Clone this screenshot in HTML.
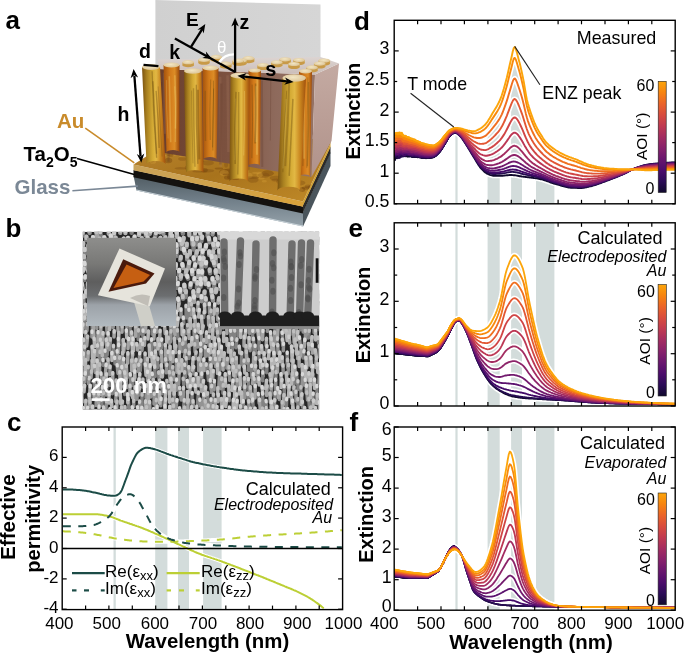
<!DOCTYPE html><html><head><meta charset="utf-8"><style>html,body{margin:0;padding:0;background:#fff;}svg{display:block;}text{font-family:'Liberation Sans', Arial, Helvetica, sans-serif;}</style></head><body>
<svg width="685" height="654" viewBox="0 0 685 654">
<rect width="685" height="654" fill="#fff"/>
<defs>
<linearGradient id="gPlane" x1="0" y1="0" x2="1" y2="0"><stop offset="0" stop-color="#d0d0d0"/><stop offset="1" stop-color="#d6d6d6"/></linearGradient>
<linearGradient id="gFront" x1="0" y1="0" x2="1" y2="0"><stop offset="0" stop-color="#6a3e2c"/><stop offset="0.45" stop-color="#7c5240"/><stop offset="0.75" stop-color="#8e6a5c"/><stop offset="1" stop-color="#957264"/></linearGradient>
<linearGradient id="gRight" x1="0" y1="0" x2="0" y2="1"><stop offset="0" stop-color="#c4aaa2"/><stop offset="1" stop-color="#b0928a"/></linearGradient>
<linearGradient id="gTop" x1="0" y1="0" x2="0" y2="1"><stop offset="0" stop-color="#dcd4d2"/><stop offset="1" stop-color="#cbbdb8"/></linearGradient>
<linearGradient id="gGold" x1="0" y1="0" x2="1" y2="1"><stop offset="0" stop-color="#b8842e"/><stop offset="0.5" stop-color="#a8731c"/><stop offset="1" stop-color="#c08a28"/></linearGradient>
<linearGradient id="gGoldEdge" x1="0" y1="0" x2="1" y2="0"><stop offset="0" stop-color="#c9a35a"/><stop offset="1" stop-color="#d9a23a"/></linearGradient>
<linearGradient id="gGlass" x1="0" y1="0" x2="0" y2="1"><stop offset="0" stop-color="#505c63"/><stop offset="0.5" stop-color="#72808a"/><stop offset="1" stop-color="#95a2aa"/></linearGradient>
<linearGradient id="gPil" x1="0" y1="0" x2="1" y2="0"><stop offset="0" stop-color="#7a5210"/><stop offset="0.2" stop-color="#a88020"/><stop offset="0.45" stop-color="#d4aa34"/><stop offset="0.6" stop-color="#e2b844"/><stop offset="0.8" stop-color="#c8841e"/><stop offset="1" stop-color="#a0500e"/></linearGradient>
<linearGradient id="gPilB" x1="0" y1="0" x2="1" y2="0"><stop offset="0" stop-color="#a4520c"/><stop offset="0.4" stop-color="#d27a1a"/><stop offset="0.7" stop-color="#dc8c26"/><stop offset="1" stop-color="#9a480a"/></linearGradient>
<radialGradient id="gCap" cx="0.45" cy="0.4" r="0.6"><stop offset="0" stop-color="#f2e6c4"/><stop offset="1" stop-color="#dcc496"/></radialGradient>
</defs>
<polygon points="155.4,0.0 320.5,4.5 320.5,62.0 155.4,66.0" fill="url(#gPlane)" />
<polygon points="133.5,175.5 303.0,212.0 303.0,226.5 136.5,190.5" fill="url(#gGlass)" />
<line x1="136.5" y1="190" x2="303" y2="226" stroke="#c8d2d8" stroke-width="1"/>
<polygon points="303.0,212.0 330.5,152.0 330.5,166.0 303.0,226.5" fill="#4a555c" />
<polygon points="133.5,170.0 303.0,206.5 303.0,213.5 133.5,177.2" fill="#141210" />
<polygon points="303.0,205.0 330.5,146.5 330.5,153.0 303.0,212.5" fill="#2a2a2a" />
<polygon points="133.5,164.5 303.0,201.5 303.0,206.8 133.5,170.2" fill="url(#gGoldEdge)" />
<polygon points="303.0,201.5 330.5,143.5 330.5,147.0 303.0,205.5" fill="#d0a030" />
<polygon points="133.5,164.5 303.0,201.5 330.5,143.5 330.5,138.0 152.0,146.0 147.0,156.0" fill="url(#gGold)" />
<defs><clipPath id="floorclip"><polygon points="133.5,164.5 303,201.5 330.5,143.5 330.5,138 152,146 147,156"/></clipPath></defs><g clip-path="url(#floorclip)">
<ellipse cx="172.6" cy="153.8" rx="4.3" ry="2.4" fill="#d8a038" opacity="0.35"/>
<ellipse cx="161.2" cy="154.4" rx="6.5" ry="2.7" fill="#d8a038" opacity="0.35"/>
<ellipse cx="300.4" cy="189.3" rx="2.5" ry="2.8" fill="#d8a038" opacity="0.35"/>
<ellipse cx="253.1" cy="179.9" rx="5.4" ry="2.9" fill="#7a4a10" opacity="0.35"/>
<ellipse cx="198.5" cy="160.9" rx="5.8" ry="2.6" fill="#7a4a10" opacity="0.35"/>
<ellipse cx="198.5" cy="160.3" rx="2.4" ry="2.4" fill="#6a3a08" opacity="0.35"/>
<ellipse cx="230.4" cy="170.7" rx="6.2" ry="2.4" fill="#7a4a10" opacity="0.35"/>
<ellipse cx="157.5" cy="157.6" rx="4.3" ry="2.4" fill="#6a3a08" opacity="0.35"/>
<ellipse cx="191.1" cy="168.4" rx="2.3" ry="1.7" fill="#7a4a10" opacity="0.35"/>
<ellipse cx="226.1" cy="164.7" rx="2.0" ry="2.8" fill="#7a4a10" opacity="0.35"/>
<ellipse cx="310.9" cy="192.3" rx="4.8" ry="2.2" fill="#d8a038" opacity="0.35"/>
<ellipse cx="276.5" cy="178.0" rx="6.9" ry="2.3" fill="#7a4a10" opacity="0.35"/>
<ellipse cx="151.4" cy="160.1" rx="3.5" ry="2.4" fill="#6a3a08" opacity="0.35"/>
<ellipse cx="311.9" cy="187.0" rx="3.8" ry="2.6" fill="#7a4a10" opacity="0.35"/>
<ellipse cx="156.3" cy="159.4" rx="2.2" ry="1.5" fill="#6a3a08" opacity="0.35"/>
<ellipse cx="207.5" cy="170.8" rx="6.7" ry="1.7" fill="#7a4a10" opacity="0.35"/>
<ellipse cx="316.2" cy="183.5" rx="3.5" ry="1.2" fill="#d8a038" opacity="0.35"/>
<ellipse cx="281.3" cy="181.6" rx="5.1" ry="2.5" fill="#7a4a10" opacity="0.35"/>
<ellipse cx="207.9" cy="162.9" rx="6.0" ry="2.7" fill="#7a4a10" opacity="0.35"/>
<ellipse cx="153.0" cy="161.7" rx="3.3" ry="2.0" fill="#d8a038" opacity="0.35"/>
<ellipse cx="281.5" cy="180.0" rx="4.2" ry="1.6" fill="#7a4a10" opacity="0.35"/>
<ellipse cx="302.0" cy="189.4" rx="3.3" ry="2.5" fill="#6a3a08" opacity="0.35"/>
<ellipse cx="198.8" cy="164.9" rx="2.5" ry="1.6" fill="#6a3a08" opacity="0.35"/>
<ellipse cx="171.0" cy="155.2" rx="2.4" ry="1.9" fill="#7a4a10" opacity="0.35"/>
<ellipse cx="195.0" cy="167.2" rx="5.1" ry="2.7" fill="#7a4a10" opacity="0.35"/>
<ellipse cx="308.2" cy="186.4" rx="3.4" ry="2.0" fill="#7a4a10" opacity="0.35"/>
<ellipse cx="180.7" cy="168.3" rx="6.2" ry="1.3" fill="#7a4a10" opacity="0.35"/>
<ellipse cx="226.1" cy="171.9" rx="6.9" ry="2.9" fill="#6a3a08" opacity="0.35"/>
<ellipse cx="168.4" cy="160.5" rx="3.8" ry="2.8" fill="#6a3a08" opacity="0.35"/>
<ellipse cx="189.2" cy="162.6" rx="2.9" ry="2.3" fill="#7a4a10" opacity="0.35"/>
<ellipse cx="258.3" cy="172.9" rx="6.5" ry="1.2" fill="#d8a038" opacity="0.35"/>
<ellipse cx="142.6" cy="151.1" rx="3.4" ry="2.8" fill="#6a3a08" opacity="0.35"/>
<ellipse cx="321.7" cy="196.9" rx="3.8" ry="1.1" fill="#6a3a08" opacity="0.35"/>
<ellipse cx="150.4" cy="154.8" rx="3.3" ry="2.5" fill="#d8a038" opacity="0.35"/>
<ellipse cx="267.6" cy="173.3" rx="6.2" ry="3.0" fill="#6a3a08" opacity="0.35"/>
<ellipse cx="144.6" cy="150.9" rx="6.9" ry="2.2" fill="#7a4a10" opacity="0.35"/>
<ellipse cx="235.2" cy="178.9" rx="3.8" ry="1.1" fill="#6a3a08" opacity="0.35"/>
<ellipse cx="261.5" cy="178.1" rx="3.2" ry="1.5" fill="#d8a038" opacity="0.35"/>
<ellipse cx="185.0" cy="156.7" rx="6.2" ry="1.2" fill="#d8a038" opacity="0.35"/>
<ellipse cx="312.2" cy="192.8" rx="3.0" ry="1.4" fill="#d8a038" opacity="0.35"/>
<ellipse cx="230.1" cy="177.3" rx="2.9" ry="2.2" fill="#6a3a08" opacity="0.35"/>
<ellipse cx="263.7" cy="175.2" rx="5.8" ry="2.8" fill="#7a4a10" opacity="0.35"/>
<ellipse cx="194.0" cy="158.2" rx="4.1" ry="1.1" fill="#d8a038" opacity="0.35"/>
<ellipse cx="169.2" cy="153.7" rx="4.2" ry="2.0" fill="#7a4a10" opacity="0.35"/>
<ellipse cx="307.8" cy="188.0" rx="6.3" ry="1.7" fill="#6a3a08" opacity="0.35"/>
<ellipse cx="187.9" cy="167.7" rx="3.1" ry="2.5" fill="#7a4a10" opacity="0.35"/>
<ellipse cx="239.4" cy="168.9" rx="5.1" ry="1.8" fill="#d8a038" opacity="0.35"/>
<ellipse cx="182.6" cy="158.8" rx="4.4" ry="2.0" fill="#7a4a10" opacity="0.35"/>
<ellipse cx="248.0" cy="175.5" rx="4.6" ry="3.0" fill="#d8a038" opacity="0.35"/>
<ellipse cx="218.9" cy="168.6" rx="4.2" ry="1.0" fill="#6a3a08" opacity="0.35"/>
<ellipse cx="204.5" cy="170.2" rx="3.2" ry="2.3" fill="#6a3a08" opacity="0.35"/>
<ellipse cx="227.5" cy="177.6" rx="3.5" ry="2.2" fill="#6a3a08" opacity="0.35"/>
<ellipse cx="299.0" cy="182.8" rx="6.4" ry="2.6" fill="#7a4a10" opacity="0.35"/>
<ellipse cx="194.6" cy="162.8" rx="3.8" ry="1.6" fill="#7a4a10" opacity="0.35"/>
<ellipse cx="224.2" cy="172.9" rx="4.5" ry="2.9" fill="#d8a038" opacity="0.35"/>
<ellipse cx="285.1" cy="183.0" rx="3.6" ry="2.7" fill="#6a3a08" opacity="0.35"/>
<ellipse cx="319.1" cy="194.2" rx="6.8" ry="2.6" fill="#7a4a10" opacity="0.35"/>
<ellipse cx="252.1" cy="177.6" rx="6.9" ry="1.4" fill="#7a4a10" opacity="0.35"/>
<ellipse cx="236.9" cy="171.7" rx="3.6" ry="2.8" fill="#6a3a08" opacity="0.35"/>
<ellipse cx="295.6" cy="179.0" rx="5.0" ry="2.2" fill="#7a4a10" opacity="0.35"/>
<ellipse cx="291.2" cy="181.5" rx="3.0" ry="1.1" fill="#7a4a10" opacity="0.35"/>
<ellipse cx="294.0" cy="181.6" rx="5.2" ry="2.2" fill="#d8a038" opacity="0.35"/>
<ellipse cx="264.3" cy="181.3" rx="2.6" ry="1.2" fill="#d8a038" opacity="0.35"/>
<ellipse cx="259.6" cy="174.8" rx="3.2" ry="2.3" fill="#d8a038" opacity="0.35"/>
<ellipse cx="276.7" cy="180.1" rx="5.3" ry="1.5" fill="#7a4a10" opacity="0.35"/>
<ellipse cx="286.5" cy="181.8" rx="3.3" ry="2.6" fill="#6a3a08" opacity="0.35"/>
<ellipse cx="199.1" cy="171.5" rx="6.7" ry="1.1" fill="#7a4a10" opacity="0.35"/>
<ellipse cx="244.0" cy="171.4" rx="4.8" ry="2.2" fill="#d8a038" opacity="0.35"/>
<ellipse cx="227.7" cy="174.5" rx="5.0" ry="1.0" fill="#6a3a08" opacity="0.35"/>
<ellipse cx="281.6" cy="177.2" rx="3.5" ry="1.7" fill="#6a3a08" opacity="0.35"/>
</g>
<polygon points="158.0,69.0 315.0,74.5 311.5,177.0 158.0,152.0" fill="url(#gFront)" />
<polygon points="315.0,74.5 339.0,63.5 331.5,141.0 311.5,177.0" fill="url(#gRight)" />
<polygon points="158.0,59.5 320.5,57.0 339.0,63.5 315.0,74.5 158.0,69.0" fill="url(#gTop)" />
<line x1="282.5" y1="77.8" x2="282.3" y2="151.5" stroke="#a87a60" stroke-width="2.7" opacity="0.25"/>
<line x1="169.0" y1="84.3" x2="168.5" y2="161.8" stroke="#5a3426" stroke-width="2.3" opacity="0.25"/>
<line x1="294.5" y1="78.8" x2="295.4" y2="141.0" stroke="#5a3426" stroke-width="2.6" opacity="0.25"/>
<line x1="178.5" y1="77.6" x2="178.3" y2="151.8" stroke="#5a3426" stroke-width="2.4" opacity="0.25"/>
<line x1="193.4" y1="73.5" x2="193.6" y2="146.2" stroke="#a87a60" stroke-width="1.9" opacity="0.25"/>
<line x1="252.9" y1="80.8" x2="253.8" y2="131.2" stroke="#a87a60" stroke-width="1.6" opacity="0.25"/>
<line x1="301.0" y1="91.2" x2="301.4" y2="167.8" stroke="#a87a60" stroke-width="1.6" opacity="0.25"/>
<line x1="220.1" y1="76.8" x2="220.8" y2="166.9" stroke="#a87a60" stroke-width="2.6" opacity="0.25"/>
<line x1="256.3" y1="74.1" x2="255.7" y2="134.6" stroke="#5a3426" stroke-width="2.4" opacity="0.25"/>
<line x1="169.0" y1="80.0" x2="168.7" y2="127.6" stroke="#5a3426" stroke-width="1.9" opacity="0.25"/>
<line x1="221.1" y1="83.5" x2="220.4" y2="164.6" stroke="#5a3426" stroke-width="2.6" opacity="0.25"/>
<line x1="164.6" y1="72.7" x2="165.1" y2="133.7" stroke="#a87a60" stroke-width="3.0" opacity="0.25"/>
<line x1="212.2" y1="84.5" x2="213.0" y2="151.2" stroke="#5a3426" stroke-width="1.4" opacity="0.25"/>
<line x1="189.3" y1="82.7" x2="189.2" y2="166.9" stroke="#5a3426" stroke-width="1.9" opacity="0.25"/>
<line x1="205.7" y1="75.2" x2="206.1" y2="139.8" stroke="#a87a60" stroke-width="2.9" opacity="0.25"/>
<line x1="176.5" y1="84.2" x2="176.9" y2="150.8" stroke="#a87a60" stroke-width="2.5" opacity="0.25"/>
<line x1="227.6" y1="75.2" x2="228.5" y2="152.1" stroke="#a87a60" stroke-width="2.6" opacity="0.25"/>
<line x1="248.6" y1="79.5" x2="249.0" y2="169.8" stroke="#5a3426" stroke-width="1.2" opacity="0.25"/>
<line x1="188.9" y1="81.2" x2="188.9" y2="162.9" stroke="#5a3426" stroke-width="1.7" opacity="0.25"/>
<line x1="255.0" y1="87.0" x2="254.3" y2="132.7" stroke="#a87a60" stroke-width="1.7" opacity="0.25"/>
<line x1="255.3" y1="88.8" x2="254.8" y2="155.3" stroke="#a87a60" stroke-width="1.5" opacity="0.25"/>
<line x1="270.8" y1="79.5" x2="270.3" y2="140.6" stroke="#5a3426" stroke-width="1.0" opacity="0.25"/>
<line x1="161.0" y1="81.9" x2="160.8" y2="126.7" stroke="#5a3426" stroke-width="2.6" opacity="0.25"/>
<line x1="296.0" y1="86.3" x2="295.5" y2="128.6" stroke="#a87a60" stroke-width="2.8" opacity="0.25"/>
<line x1="261.9" y1="80.4" x2="262.3" y2="167.0" stroke="#5a3426" stroke-width="2.1" opacity="0.25"/>
<rect x="210.4" y="56.9" width="11.6" height="3" fill="#cfa858"/>
<ellipse cx="216.2" cy="59.9" rx="5.8" ry="2.0" fill="#c89a48"/>
<ellipse cx="216.2" cy="56.9" rx="5.8" ry="2.1" fill="url(#gCap)"/>
<rect x="242.8" y="58.2" width="11.6" height="3" fill="#cfa858"/>
<ellipse cx="248.6" cy="61.2" rx="5.8" ry="2.0" fill="#c89a48"/>
<ellipse cx="248.6" cy="58.2" rx="5.8" ry="2.1" fill="url(#gCap)"/>
<rect x="279.4" y="59.3" width="11.6" height="3" fill="#cfa858"/>
<ellipse cx="285.2" cy="62.3" rx="5.8" ry="2.0" fill="#c89a48"/>
<ellipse cx="285.2" cy="59.3" rx="5.8" ry="2.1" fill="url(#gCap)"/>
<rect x="198.2" y="59.8" width="11.6" height="3" fill="#cfa858"/>
<ellipse cx="204.0" cy="62.8" rx="5.8" ry="2.0" fill="#c89a48"/>
<ellipse cx="204.0" cy="59.8" rx="5.8" ry="2.1" fill="url(#gCap)"/>
<rect x="293.2" y="60.0" width="11.6" height="3" fill="#cfa858"/>
<ellipse cx="299.0" cy="63.0" rx="5.8" ry="2.0" fill="#c89a48"/>
<ellipse cx="299.0" cy="60.0" rx="5.8" ry="2.1" fill="url(#gCap)"/>
<rect x="318.5" y="60.5" width="11.6" height="3" fill="#cfa858"/>
<ellipse cx="324.3" cy="63.5" rx="5.8" ry="2.0" fill="#c89a48"/>
<ellipse cx="324.3" cy="60.5" rx="5.8" ry="2.1" fill="url(#gCap)"/>
<rect x="235.2" y="60.5" width="11.6" height="3" fill="#cfa858"/>
<ellipse cx="241.0" cy="63.5" rx="5.8" ry="2.0" fill="#c89a48"/>
<ellipse cx="241.0" cy="60.5" rx="5.8" ry="2.1" fill="url(#gCap)"/>
<rect x="232.3" y="60.8" width="11.6" height="3" fill="#cfa858"/>
<ellipse cx="238.1" cy="63.8" rx="5.8" ry="2.0" fill="#c89a48"/>
<ellipse cx="238.1" cy="60.8" rx="5.8" ry="2.1" fill="url(#gCap)"/>
<rect x="182.4" y="62.2" width="11.6" height="3" fill="#cfa858"/>
<ellipse cx="188.2" cy="65.2" rx="5.8" ry="2.0" fill="#c89a48"/>
<ellipse cx="188.2" cy="62.2" rx="5.8" ry="2.1" fill="url(#gCap)"/>
<rect x="271.0" y="62.3" width="11.6" height="3" fill="#cfa858"/>
<ellipse cx="276.8" cy="65.3" rx="5.8" ry="2.0" fill="#c89a48"/>
<ellipse cx="276.8" cy="62.3" rx="5.8" ry="2.1" fill="url(#gCap)"/>
<rect x="313.9" y="63.6" width="11.6" height="3" fill="#cfa858"/>
<ellipse cx="319.7" cy="66.6" rx="5.8" ry="2.0" fill="#c89a48"/>
<ellipse cx="319.7" cy="63.6" rx="5.8" ry="2.1" fill="url(#gCap)"/>
<rect x="220.0" y="63.7" width="11.6" height="3" fill="#cfa858"/>
<ellipse cx="225.8" cy="66.7" rx="5.8" ry="2.0" fill="#c89a48"/>
<ellipse cx="225.8" cy="63.7" rx="5.8" ry="2.1" fill="url(#gCap)"/>
<rect x="288.2" y="64.0" width="11.6" height="3" fill="#cfa858"/>
<ellipse cx="294.0" cy="67.0" rx="5.8" ry="2.0" fill="#c89a48"/>
<ellipse cx="294.0" cy="64.0" rx="5.8" ry="2.1" fill="url(#gCap)"/>
<rect x="257.2" y="65.1" width="11.6" height="3" fill="#cfa858"/>
<ellipse cx="263.0" cy="68.1" rx="5.8" ry="2.0" fill="#c89a48"/>
<ellipse cx="263.0" cy="65.1" rx="5.8" ry="2.1" fill="url(#gCap)"/>
<rect x="306.2" y="67.4" width="11.6" height="3" fill="#cfa858"/>
<ellipse cx="312.0" cy="70.4" rx="5.8" ry="2.0" fill="#c89a48"/>
<ellipse cx="312.0" cy="67.4" rx="5.8" ry="2.1" fill="url(#gCap)"/>
<rect x="300.1" y="71.0" width="11.6" height="3" fill="#cfa858"/>
<ellipse cx="305.9" cy="74.0" rx="5.8" ry="2.0" fill="#c89a48"/>
<ellipse cx="305.9" cy="71.0" rx="5.8" ry="2.1" fill="url(#gCap)"/>
<path d="M163.5 65.0 L166.5 152.5 A6.5 2.6 0 0 1 179.5 152.5 L179.5 65.0 Z" fill="url(#gPilB)"/>
<path d="M166.4 80.1 Q166.1 109.3 168.1 138.4" stroke="#f0d070" stroke-width="0.8" fill="none" opacity="0.35"/>
<path d="M169.3 76.3 Q169.9 109.3 170.7 142.3" stroke="#f0d070" stroke-width="1.6" fill="none" opacity="0.35"/>
<path d="M174.9 75.2 Q176.5 101.9 175.4 128.6" stroke="#f0d070" stroke-width="1.5" fill="none" opacity="0.35"/>
<path d="M174.7 86.2 Q176.3 114.2 175.3 142.1" stroke="#f0d070" stroke-width="1.1" fill="none" opacity="0.35"/>
<ellipse cx="171.5" cy="65.0" rx="8.0" ry="2.6" fill="url(#gCap)"/>
<path d="M202.5 68.0 L203.5 159.5 A6.5 2.6 0 0 1 216.5 159.5 L218.5 68.0 Z" fill="url(#gPilB)"/>
<path d="M210.7 79.5 Q209.3 109.7 210.3 139.9" stroke="#6a4a10" stroke-width="1.1" fill="none" opacity="0.35"/>
<path d="M213.6 88.5 Q212.0 119.5 212.9 150.5" stroke="#5a3c08" stroke-width="0.9" fill="none" opacity="0.35"/>
<path d="M205.2 90.7 Q205.1 115.9 205.5 141.1" stroke="#6a4a10" stroke-width="1.4" fill="none" opacity="0.35"/>
<path d="M213.4 80.6 Q214.3 114.0 212.6 147.4" stroke="#5a3c08" stroke-width="1.0" fill="none" opacity="0.35"/>
<ellipse cx="210.5" cy="68.0" rx="8.0" ry="2.6" fill="url(#gCap)"/>
<path d="M248.5 70.5 L248.5 165.5 A5.8 2.0 0 0 1 260.0 165.5 L261.0 70.5 Z" fill="url(#gPilB)"/>
<path d="M257.4 79.3 Q256.9 117.0 256.9 154.7" stroke="#f0d070" stroke-width="1.9" fill="none" opacity="0.35"/>
<path d="M256.0 86.1 Q254.5 114.1 255.7 142.1" stroke="#f0d070" stroke-width="1.8" fill="none" opacity="0.35"/>
<path d="M252.1 84.6 Q253.1 121.4 251.9 158.2" stroke="#5a3c08" stroke-width="1.0" fill="none" opacity="0.35"/>
<path d="M255.5 83.4 Q256.0 113.5 255.1 143.6" stroke="#5a3c08" stroke-width="1.6" fill="none" opacity="0.35"/>
<ellipse cx="254.8" cy="70.5" rx="6.2" ry="2.0" fill="url(#gCap)"/>
<path d="M299.0 71.3 L299.5 176.5 A5.2 2.1 0 0 1 310.0 176.5 L312.0 71.3 Z" fill="url(#gPilB)"/>
<path d="M307.8 77.4 Q307.1 122.6 306.8 167.9" stroke="#5a3c08" stroke-width="0.8" fill="none" opacity="0.35"/>
<path d="M308.5 82.1 Q309.3 124.2 307.4 166.3" stroke="#6a4a10" stroke-width="1.3" fill="none" opacity="0.35"/>
<path d="M303.2 79.1 Q304.2 122.6 302.9 166.1" stroke="#5a3c08" stroke-width="1.0" fill="none" opacity="0.35"/>
<path d="M304.5 86.9 Q303.4 122.8 304.1 158.7" stroke="#f0d070" stroke-width="1.6" fill="none" opacity="0.35"/>
<ellipse cx="305.5" cy="71.3" rx="6.5" ry="2.1" fill="url(#gCap)"/>
<path d="M142.0 67.0 L146.5 164.0 A9.5 2.9 0 0 1 165.5 164.0 L160.0 67.0 Z" fill="url(#gPil)"/>
<path d="M152.1 71.3 Q153.1 114.5 156.6 157.8" stroke="#5a3c08" stroke-width="1.3" fill="none" opacity="0.35"/>
<path d="M156.1 90.9 Q158.5 119.4 159.1 148.0" stroke="#5a3c08" stroke-width="1.3" fill="none" opacity="0.35"/>
<path d="M158.2 86.4 Q160.0 121.5 162.1 156.6" stroke="#6a4a10" stroke-width="0.9" fill="none" opacity="0.35"/>
<path d="M152.9 81.2 Q154.6 117.4 156.6 153.7" stroke="#5a3c08" stroke-width="1.3" fill="none" opacity="0.35"/>
<ellipse cx="151.0" cy="67.0" rx="9.0" ry="2.9" fill="url(#gCap)"/>
<path d="M184.0 71.0 L186.0 172.5 A8.8 2.8 0 0 1 203.5 172.5 L201.5 71.0 Z" fill="url(#gPil)"/>
<path d="M197.9 89.7 Q197.9 124.6 199.3 159.4" stroke="#5a3c08" stroke-width="2.0" fill="none" opacity="0.35"/>
<path d="M193.5 88.3 Q193.6 127.5 195.0 166.8" stroke="#6a4a10" stroke-width="1.4" fill="none" opacity="0.35"/>
<path d="M191.6 90.5 Q191.8 126.9 193.0 163.3" stroke="#6a4a10" stroke-width="0.9" fill="none" opacity="0.35"/>
<path d="M196.3 84.7 Q195.7 124.3 197.9 163.9" stroke="#5a3c08" stroke-width="1.3" fill="none" opacity="0.35"/>
<ellipse cx="192.8" cy="71.0" rx="8.8" ry="2.8" fill="url(#gCap)"/>
<path d="M230.5 75.5 L229.5 181.5 A9.2 3.0 0 0 1 248.0 181.5 L249.5 75.5 Z" fill="url(#gPil)"/>
<path d="M238.7 92.0 Q239.3 133.2 237.8 174.4" stroke="#6a4a10" stroke-width="1.3" fill="none" opacity="0.35"/>
<path d="M244.5 90.9 Q245.3 123.2 243.7 155.5" stroke="#f0d070" stroke-width="1.1" fill="none" opacity="0.35"/>
<path d="M235.5 98.6 Q236.5 129.4 234.9 160.1" stroke="#f0d070" stroke-width="0.9" fill="none" opacity="0.35"/>
<path d="M236.0 91.9 Q234.1 127.9 235.2 163.9" stroke="#5a3c08" stroke-width="1.4" fill="none" opacity="0.35"/>
<ellipse cx="240.0" cy="75.5" rx="9.5" ry="3.0" fill="url(#gCap)"/>
<path d="M282.5 78.0 L277.5 190.5 A11.2 3.8 0 0 1 300.0 190.5 L306.0 78.0 Z" fill="url(#gPil)"/>
<path d="M286.2 99.0 Q285.1 133.7 283.0 168.5" stroke="#f0d070" stroke-width="1.1" fill="none" opacity="0.35"/>
<path d="M289.2 83.1 Q288.2 124.6 285.3 166.1" stroke="#6a4a10" stroke-width="1.9" fill="none" opacity="0.35"/>
<path d="M292.9 98.9 Q291.2 137.4 289.2 175.9" stroke="#5a3c08" stroke-width="1.5" fill="none" opacity="0.35"/>
<path d="M286.7 90.7 Q283.4 131.4 282.9 172.2" stroke="#5a3c08" stroke-width="0.9" fill="none" opacity="0.35"/>
<ellipse cx="294.2" cy="78.0" rx="11.8" ry="3.8" fill="url(#gCap)"/>
<line x1="174.9" y1="38.6" x2="235.1" y2="71.9" stroke="#000" stroke-width="2.3"/>
<polygon points="212.0,59.0 202.3,57.9 206.5,56.0 205.9,51.4" fill="#000"/>
<line x1="190.7" y1="47.4" x2="202.5" y2="28.6" stroke="#000" stroke-width="2.3"/>
<polygon points="205.3,24.0 203.7,33.6 202.0,29.3 197.4,29.7" fill="#000"/>
<line x1="235.1" y1="72.5" x2="235.1" y2="23" stroke="#000" stroke-width="2.3"/>
<polygon points="235.1,17.6 238.8,26.6 235.1,23.9 231.3,26.6" fill="#000"/>
<path d="M219.4 62.0 A17.5 17.5 0 0 1 233.8 54.4" fill="none" stroke="#fff" stroke-width="2.4"/>
<text x="217.0" y="52.8" font-size="17.0" text-anchor="start" font-weight="normal" font-style="normal" fill="#fff" >θ</text>
<line x1="242" y1="76.3" x2="289" y2="81.6" stroke="#000" stroke-width="2.3"/>
<polygon points="237.4,75.7 246.8,73.0 243.7,76.4 245.9,80.4" fill="#000"/>
<polygon points="293.6,82.1 284.2,84.8 287.3,81.4 285.1,77.4" fill="#000"/>
<line x1="134.4" y1="76" x2="140.5" y2="156" stroke="#000" stroke-width="2.3"/>
<polygon points="133.6,68.9 138.1,77.6 134.1,75.2 130.6,78.2" fill="#000"/>
<polygon points="141.3,162.8 136.8,154.1 140.8,156.5 144.3,153.5" fill="#000"/>
<line x1="143.5" y1="64.8" x2="158.4" y2="66.2" stroke="#000" stroke-width="2.2"/>
<text x="139.0" y="57.8" font-size="19.5" text-anchor="start" font-weight="bold" font-style="normal" fill="#000" >d</text>
<text x="169.3" y="58.5" font-size="19.5" text-anchor="start" font-weight="bold" font-style="normal" fill="#000" >k</text>
<text x="186.0" y="25.8" font-size="19.0" text-anchor="start" font-weight="bold" font-style="normal" fill="#000" >E</text>
<text x="239.5" y="28.7" font-size="19.5" text-anchor="start" font-weight="bold" font-style="normal" fill="#000" >z</text>
<text x="265.2" y="75.7" font-size="20.0" text-anchor="start" font-weight="bold" font-style="normal" fill="#000" >s</text>
<text x="117.5" y="121.2" font-size="19.5" text-anchor="start" font-weight="bold" font-style="normal" fill="#000" >h</text>
<text x="57.0" y="127.7" font-size="20.5" text-anchor="start" font-weight="bold" font-style="normal" fill="#c98b2b" >Au</text>
<line x1="85.3" y1="128.2" x2="134.3" y2="162.8" stroke="#c98b2b" stroke-width="1.6"/>
<text x="23.5" y="161" font-size="20.5" font-weight="bold" fill="#000">Ta<tspan font-size="14" dy="5.5">2</tspan><tspan dy="-5.5">O</tspan><tspan font-size="14" dy="5.5">5</tspan></text>
<line x1="77" y1="158.6" x2="134.3" y2="174.5" stroke="#000" stroke-width="1.6"/>
<text x="14.5" y="193.6" font-size="20.5" text-anchor="start" font-weight="bold" font-style="normal" fill="#7b8896" >Glass</text>
<line x1="72.4" y1="190.8" x2="137.8" y2="186.1" stroke="#7b8896" stroke-width="1.6"/>
<text x="5.5" y="29.4" font-size="26.0" text-anchor="start" font-weight="bold" font-style="normal" fill="#000" >a</text>
<defs><clipPath id="semclip"><rect x="82.8" y="231.8" width="236.4" height="177.8"/></clipPath></defs>
<defs><filter id="semblur" x="-5%" y="-5%" width="110%" height="110%"><feGaussianBlur stdDeviation="0.55"/></filter></defs>
<g clip-path="url(#semclip)">
<rect x="82.8" y="231.8" width="236.4" height="177.8" fill="#262626"/>
<path d="M86.7 223.9l-0.6 4.2M109.6 222.7l0.6 5.8M130.2 224.0l-0.0 6.1M147.6 222.1l0.6 5.2M209.3 222.8l0.6 4.5M217.0 223.0l-0.5 3.3M253.7 224.7l1.0 6.0M283.7 222.3l-1.0 4.4M303.4 225.6l-0.6 6.1M314.5 223.5l0.7 3.0M82.5 231.3l0.6 4.2M100.2 230.6l0.6 5.8M132.4 228.7l-0.8 4.1M156.1 231.7l-1.0 5.2M182.1 229.0l0.8 4.5M255.3 229.8l-0.5 6.7M262.7 230.3l0.6 5.8M305.0 231.4l-0.2 3.2M317.4 229.9l-0.7 6.0M86.4 236.6l-0.2 3.5M128.0 237.9l-0.3 3.9M134.6 236.5l-0.5 4.5M141.8 238.0l0.1 3.6M147.6 237.3l0.1 5.9M179.6 238.6l0.6 6.1M197.1 237.8l-0.9 6.8M202.1 236.5l-0.7 4.7M246.0 236.7l0.2 4.5M251.8 235.4l-0.3 6.6M264.5 237.0l0.1 6.3M272.2 237.1l0.2 4.4M277.1 237.1l0.7 4.4M313.3 237.0l0.9 3.8M320.7 238.7l-0.7 4.1M108.3 244.2l0.3 4.2M119.7 241.9l0.7 3.4M131.9 243.2l-0.2 3.7M156.0 242.2l-0.3 6.3M193.5 243.1l0.1 6.5M225.2 243.9l0.4 3.6M261.1 245.2l-0.6 4.8M266.4 244.7l0.3 3.3M285.9 242.3l0.7 3.2M291.9 244.7l-0.7 4.5M298.1 242.1l-0.5 4.7M79.8 248.7l0.7 5.3M84.7 248.8l0.1 5.5M98.9 250.5l-0.8 5.2M104.0 248.9l-0.3 6.2M109.2 249.2l0.0 5.2M133.6 248.5l0.1 5.0M176.5 250.7l0.0 5.4M213.1 251.2l-0.0 6.0M256.6 249.5l-0.3 3.8M83.9 255.8l0.9 4.6M96.2 256.7l-0.2 7.0M149.7 255.6l-0.2 5.2M193.6 257.4l0.9 3.5M277.3 257.0l-0.2 6.9M306.9 256.0l0.2 6.4M79.1 263.4l-0.7 6.7M117.3 263.9l-0.5 6.1M141.1 262.7l0.7 4.2M170.7 263.4l-0.9 5.9M206.1 262.0l-0.4 4.2M297.6 264.5l0.4 6.7M112.7 270.6l-0.4 6.6M166.7 271.5l0.7 6.0M179.2 269.9l-0.4 4.9M209.7 269.5l0.4 3.7M244.6 272.0l1.0 6.2M264.5 269.2l-0.7 4.1M276.5 271.5l-0.1 4.5M282.8 269.2l-0.9 3.8M288.8 269.0l-0.6 4.6M292.6 271.3l0.7 4.0M305.7 270.3l0.7 3.6M311.6 270.0l-0.5 6.9M317.3 270.4l-0.8 4.7M79.2 277.8l-0.6 3.8M85.3 276.2l-0.9 3.7M103.8 278.2l-0.6 3.2M115.4 275.3l0.1 3.8M187.1 275.5l0.9 3.2M194.6 278.0l-0.6 3.4M200.7 278.5l0.4 6.7M217.4 276.9l1.0 4.5M230.0 275.7l-0.8 4.0M242.3 277.5l-1.0 5.3M246.6 277.8l-0.4 3.4M259.5 276.4l0.9 6.2M276.6 276.0l-0.5 5.9M312.5 277.0l-0.0 5.1M94.9 282.8l-0.9 6.1M111.6 282.2l0.7 6.6M130.0 282.5l-0.5 3.6M137.7 284.3l0.8 6.2M165.3 282.4l0.1 5.0M177.9 282.7l-0.6 5.4M197.4 282.1l-0.5 5.8M201.0 282.9l-0.4 3.9M208.5 283.4l0.3 3.9M214.3 281.8l-0.1 5.7M251.0 281.9l1.0 6.6M255.5 284.9l-0.1 3.3M286.0 285.1l-0.0 6.7M308.5 284.0l-0.8 4.2M92.3 292.1l0.4 3.5M97.4 289.5l0.1 6.0M145.8 289.4l1.0 4.5M157.1 290.2l-0.7 6.7M185.9 291.0l-0.2 6.0M204.6 291.5l-0.7 5.9M252.8 289.6l0.2 4.3M256.8 290.3l-0.1 6.3M270.6 289.5l0.9 4.0M282.5 291.0l-0.3 7.0M298.2 290.2l-0.8 6.6M105.6 298.3l-0.3 4.9M112.6 298.2l-0.0 5.3M135.4 295.3l0.5 6.7M171.8 296.2l-0.6 4.0M182.7 295.8l0.3 3.0M205.6 298.1l0.8 6.3M236.0 295.4l0.9 3.7M249.0 297.1l0.5 5.3M253.9 297.4l0.5 3.1M277.0 296.0l0.7 4.4M302.3 297.1l-0.8 5.7" stroke="#828282" stroke-width="4.4" stroke-linecap="round" fill="none"/>
<path d="M79.1 225.1l0.8 3.8M92.0 222.6l-0.5 6.5M98.7 224.1l-0.5 5.4M115.7 223.9l1.0 5.6M165.6 223.4l0.9 5.0M184.0 222.7l0.4 4.8M192.5 225.4l0.8 4.6M204.3 224.5l0.9 6.1M239.8 224.0l0.8 4.5M247.5 223.9l0.6 6.8M321.8 224.8l0.9 5.4M88.9 229.1l0.7 3.8M114.1 231.8l-0.1 5.6M162.5 229.7l0.9 4.1M195.2 231.6l-0.6 4.5M200.1 231.7l0.5 4.2M207.9 230.3l-0.3 5.5M213.2 230.2l-0.7 4.2M218.9 231.5l0.8 6.6M232.4 231.6l-0.3 6.3M244.9 231.0l0.9 3.8M250.3 231.0l-0.9 6.5M280.7 229.5l-0.8 6.7M292.9 232.1l-0.1 6.4M99.5 238.6l0.8 4.0M123.7 238.6l0.7 3.8M160.4 237.9l-0.8 3.0M192.2 238.0l0.3 6.7M208.8 237.7l0.8 4.7M215.1 238.6l0.4 4.1M222.2 238.0l-0.1 5.5M240.0 235.7l0.4 4.1M259.7 237.9l0.7 5.6M284.0 235.9l-0.5 3.6M309.0 237.1l0.5 4.6M94.1 243.5l0.6 5.4M113.7 243.0l-0.4 4.8M126.4 243.2l-0.9 4.6M144.6 242.8l0.0 5.6M168.7 244.9l-0.6 5.7M181.8 242.6l0.1 6.5M186.8 243.8l-0.3 3.2M241.6 244.6l0.4 5.9M123.3 249.9l0.5 5.3M145.9 251.1l0.1 5.6M202.8 250.5l-0.9 6.5M244.7 249.2l-0.5 6.6M252.2 251.5l0.6 3.5M263.3 252.0l0.4 3.8M276.7 250.0l-0.0 3.4M282.8 248.6l-0.6 4.9M300.4 251.3l0.5 4.3M306.3 251.5l0.5 4.0M107.2 257.0l0.6 5.1M113.7 258.3l-0.5 3.6M125.9 258.5l0.7 6.1M132.3 256.9l-0.7 6.5M138.5 258.1l0.1 4.5M156.2 258.1l-0.8 5.0M163.1 257.3l0.8 6.6M180.8 256.9l-0.6 3.1M187.2 255.1l0.0 4.3M215.5 256.6l0.3 6.8M229.9 255.7l0.8 4.1M246.6 255.4l0.0 5.9M258.2 257.7l-0.7 4.0M270.9 257.4l0.4 4.5M283.4 258.2l0.7 4.6M84.6 262.8l0.9 4.8M91.9 262.6l0.4 4.5M135.1 263.1l1.0 6.2M153.5 263.7l-0.4 5.4M224.6 264.3l-0.8 4.8M230.9 264.3l1.0 5.2M305.1 264.2l-0.4 4.9M310.6 262.9l-0.6 3.8M316.4 262.9l0.7 4.5M88.3 270.6l1.0 4.4M95.6 269.3l-0.3 5.3M101.1 269.9l-0.3 4.2M107.4 269.9l-0.2 4.4M137.9 268.5l-0.5 4.2M143.8 270.3l-0.9 7.0M155.9 271.9l0.3 3.7M161.9 269.0l-0.6 6.7M202.2 271.1l-0.3 6.2M227.7 271.3l-0.5 5.8M256.9 269.2l-0.9 6.9M268.4 269.2l-0.4 3.4M90.7 276.0l-0.8 6.3M97.5 276.7l-0.8 4.6M109.3 277.4l1.0 3.1M128.0 276.5l0.3 3.3M140.6 276.8l1.0 6.2M175.4 277.7l0.2 6.7M212.5 278.1l0.2 4.6M224.4 277.5l-0.2 5.7M252.8 278.1l-0.0 3.6M264.6 277.1l-0.1 6.8M270.6 278.1l0.7 5.3M320.2 275.7l-0.5 5.5M117.4 283.3l0.3 3.0M153.8 284.6l-0.1 3.3M171.9 284.6l0.0 5.1M190.7 283.3l-0.5 4.0M220.2 284.7l0.3 4.3M304.4 284.0l-0.6 6.2M104.3 290.0l-0.6 4.1M120.1 291.3l0.8 4.2M138.9 288.8l-0.0 3.1M163.8 291.4l0.9 5.3M198.6 289.7l-0.9 6.2M227.9 290.2l-0.3 5.4M240.5 289.5l0.6 6.3M265.0 290.6l0.5 6.9M287.3 290.1l0.7 6.5M293.3 289.0l0.8 5.3M83.3 295.8l-0.0 6.9M95.6 296.1l-0.5 5.0M100.8 296.3l0.8 3.8M124.9 295.3l0.4 3.3M128.9 296.9l-0.9 3.4M142.8 297.4l-0.6 5.9M152.5 297.0l-0.6 4.7M178.1 298.5l0.8 4.2M201.5 296.0l0.2 5.4M212.3 296.0l0.6 4.5M229.4 296.4l0.5 3.5M295.2 295.4l-0.1 5.8" stroke="#939393" stroke-width="4.4" stroke-linecap="round" fill="none"/>
<path d="M153.9 222.9l-0.3 6.2M173.7 222.4l0.7 4.9M221.5 222.7l0.6 6.3M236.1 222.4l-0.1 5.3M259.4 223.1l-0.0 4.5M264.8 223.1l-0.4 3.5M273.3 224.0l0.3 5.2M278.4 224.2l0.6 4.4M290.0 223.3l0.6 5.4M297.8 224.6l0.3 5.0M96.2 230.7l0.8 5.5M108.8 229.5l-0.1 4.2M120.8 229.2l-0.6 3.6M146.0 232.1l-0.1 3.0M150.8 229.9l-0.9 3.9M225.7 232.2l0.5 3.5M236.7 231.5l-0.1 5.3M268.7 231.7l-0.6 6.7M286.6 230.7l-1.0 4.7M311.5 231.6l-0.5 6.0M78.5 238.0l0.3 4.6M93.0 237.1l0.5 6.2M104.3 237.3l0.8 6.6M115.6 237.7l-0.6 6.9M165.4 237.2l-0.0 5.6M296.4 237.4l0.0 3.3M303.2 236.4l-0.1 4.0M83.2 243.1l-0.6 6.3M102.3 244.1l0.9 4.1M136.9 242.4l0.9 3.3M151.0 245.2l-0.2 4.1M176.2 244.3l0.8 5.1M213.2 243.7l0.9 4.7M217.9 243.5l-0.7 3.2M229.6 242.8l0.1 6.5M248.8 243.3l0.5 3.4M279.7 245.2l0.6 5.8M304.9 244.5l-0.1 4.6M316.6 245.4l0.6 4.4M91.0 250.9l0.9 5.7M129.2 251.6l0.6 4.2M152.6 251.8l-0.7 3.5M159.7 250.6l-0.7 5.9M165.9 249.7l0.7 6.3M171.3 249.7l-0.9 3.7M189.9 251.1l-0.1 3.4M196.9 251.3l-0.9 4.1M209.1 251.4l-0.0 3.3M219.2 250.4l0.3 5.8M239.6 249.2l-0.6 5.4M270.6 250.4l0.9 6.4M287.3 248.8l-0.9 4.6M294.9 250.2l0.6 3.4M313.2 250.9l0.2 6.3M90.0 256.5l-0.5 5.1M101.3 258.0l0.6 5.3M199.8 257.5l-0.6 5.1M234.3 258.5l0.5 6.8M241.5 256.8l0.2 6.5M254.2 256.1l0.4 4.8M265.6 255.1l-0.7 4.5M297.1 257.3l0.4 6.8M313.4 258.5l0.0 5.7M97.8 264.0l-1.0 6.6M110.3 263.8l0.7 3.9M129.2 264.5l0.4 5.6M158.8 265.3l0.4 3.6M165.5 264.4l-0.1 4.1M182.3 264.1l0.9 3.9M189.3 261.8l-1.0 6.6M195.2 264.3l-0.8 4.5M201.4 263.3l0.2 5.1M213.7 261.8l0.9 3.8M219.2 265.2l0.4 6.7M249.5 262.9l-0.1 6.5M260.8 265.0l0.7 6.3M322.6 263.1l-0.5 6.1M117.8 271.6l-0.8 5.8M186.4 270.3l-0.8 4.3M198.5 270.8l-0.2 6.5M222.2 271.7l0.5 4.9M238.8 269.8l0.5 3.6M252.5 270.5l0.7 3.6M121.7 277.7l0.8 6.5M146.2 278.2l0.4 5.5M150.7 278.3l0.7 7.0M163.8 276.5l-0.1 6.1M181.1 275.2l-0.5 3.6M284.9 277.9l-0.5 4.4M288.6 275.7l-0.4 5.8M81.9 283.6l0.9 4.9M88.0 283.2l-0.3 6.4M100.6 282.6l0.2 3.8M141.4 285.3l-0.3 4.5M149.2 284.8l0.6 4.8M184.3 284.8l0.5 5.4M226.7 284.5l-0.2 4.2M261.6 284.4l-0.6 3.1M273.3 283.9l-1.0 5.5M296.4 282.8l-0.9 6.8M322.1 283.3l0.6 3.8M80.2 290.4l0.8 3.7M110.6 290.1l-1.0 5.2M169.8 288.7l-0.6 6.8M193.4 291.3l-0.0 4.9M211.4 289.9l0.4 4.8M222.8 289.4l-0.7 5.4M233.3 290.6l-0.2 4.4M274.7 289.0l0.5 6.4M317.5 291.0l-0.1 6.8M117.5 296.6l-0.8 4.9M148.1 296.1l-1.0 4.0M194.0 296.1l-0.0 5.9M219.1 298.3l-0.8 4.4M258.8 298.6l-0.3 3.6M267.0 298.2l-0.8 4.8M270.8 297.2l-0.1 4.8M283.4 298.7l-0.6 4.1M290.1 297.3l-0.5 6.2" stroke="#a4a4a4" stroke-width="4.4" stroke-linecap="round" fill="none"/>
<path d="M104.2 222.5l0.9 3.7M124.2 225.3l-0.1 3.0M134.6 222.9l0.3 6.9M142.2 224.9l0.8 6.7M160.6 225.4l-0.8 6.8M179.8 222.1l-0.2 5.3M197.7 224.4l0.9 6.6M227.5 225.5l-0.4 5.3M310.3 224.7l-0.7 6.0M125.5 229.8l-0.1 3.3M139.3 231.6l-0.3 3.5M170.8 232.1l-0.7 5.9M176.6 231.2l0.5 5.6M189.1 229.3l0.3 6.1M276.1 229.7l-1.0 4.1M300.5 229.6l0.3 5.0M110.8 235.5l0.4 4.7M154.5 238.6l-0.0 6.6M172.1 235.7l-0.0 3.9M183.6 237.9l-0.8 4.7M227.0 235.8l0.3 6.7M233.5 235.2l0.9 5.1M290.5 236.2l-0.9 4.9M88.6 245.1l-0.1 5.4M162.3 244.4l-0.5 3.5M199.8 244.6l0.1 4.6M206.1 245.0l-0.7 3.7M236.4 243.2l0.5 6.9M255.3 245.2l-0.9 5.1M272.2 245.0l0.6 5.4M310.4 242.7l0.1 4.0M116.4 250.7l0.0 5.0M140.3 251.2l-0.1 4.7M183.8 248.9l1.0 4.0M227.1 250.4l-0.8 5.4M233.1 251.0l0.4 4.6M317.6 251.4l0.7 5.5M120.1 257.8l0.9 4.9M142.8 257.0l0.4 5.8M168.5 257.8l0.6 5.2M174.1 255.5l-0.8 4.3M203.5 258.0l-0.9 5.5M211.5 255.8l0.8 4.3M222.9 257.9l-0.2 5.3M289.0 258.1l0.0 5.6M301.7 256.6l0.1 3.6M319.9 257.5l0.3 4.1M103.1 261.9l0.6 6.8M122.3 262.2l0.2 3.9M145.7 262.7l0.8 5.8M175.8 264.1l-0.2 4.1M237.0 262.1l-1.0 6.4M242.9 262.6l-0.2 5.5M256.1 264.5l-0.1 5.4M268.2 262.2l0.6 4.5M273.1 264.9l-0.9 3.5M280.1 264.9l0.2 4.7M287.0 264.6l-0.6 4.0M292.9 262.6l-0.8 5.8M83.7 268.7l-0.9 3.0M125.2 269.6l0.8 4.9M130.7 268.9l-0.8 5.3M149.9 270.2l-0.7 4.8M172.9 270.8l0.2 6.6M192.1 270.0l0.3 4.3M215.7 270.3l0.1 3.2M233.3 269.8l0.0 6.8M299.8 270.0l0.1 5.6M132.7 277.2l0.8 6.6M157.0 278.6l-0.4 6.2M169.9 275.1l-0.8 4.8M205.2 278.2l0.3 5.8M234.7 277.8l0.7 4.7M295.7 277.3l0.3 4.5M300.5 276.8l-0.1 3.2M307.5 276.3l-0.7 3.4M106.4 283.3l0.5 3.2M124.7 284.1l0.4 3.6M159.4 282.2l0.7 5.5M230.7 284.1l-0.8 6.2M237.7 284.5l0.6 4.6M243.5 282.1l-1.0 6.1M268.8 285.2l0.9 3.7M280.5 284.7l0.3 5.8M291.6 282.4l-0.9 3.9M316.7 284.0l-0.2 3.6M86.3 291.0l-0.5 5.3M115.2 289.2l0.3 4.6M126.6 289.9l0.2 4.4M132.5 289.9l-0.2 4.0M150.8 290.5l0.9 3.5M174.0 290.9l0.3 4.2M180.1 289.1l0.3 3.1M216.4 289.1l-0.6 3.2M245.7 290.6l-0.4 3.3M305.7 291.3l-0.4 3.1M310.7 290.7l0.5 5.5M89.9 298.1l0.1 5.0M158.3 297.9l-0.7 5.9M166.3 298.4l-0.9 4.5M189.8 298.5l-0.3 6.7M223.6 296.4l0.8 3.3M241.3 296.8l-0.9 4.5M308.3 296.5l0.5 5.1M312.6 295.3l-0.3 5.7M319.1 295.7l0.9 5.4" stroke="#b5b5b5" stroke-width="4.4" stroke-linecap="round" fill="none"/>
<path d="M97.3 304.6l-0.3 8.7M139.7 305.1l-0.4 6.9M186.0 305.3l0.2 12.7M222.0 304.2l-0.3 10.6M273.0 302.1l0.5 11.5M304.0 304.9l0.8 9.1M320.3 302.7l0.2 10.8M113.2 312.1l0.7 11.7M129.6 312.1l0.5 13.0M165.4 309.7l0.1 6.7M188.8 308.9l0.4 12.8M204.3 311.4l-0.7 6.1M211.1 310.2l-0.8 11.5M222.2 311.2l0.1 8.1M234.2 308.9l-0.2 7.7M240.4 311.4l-0.0 8.5M253.3 308.9l0.9 10.8M257.5 310.2l-0.5 8.5M270.5 312.3l-0.3 6.2M282.1 311.0l0.3 11.3M292.7 311.5l0.9 10.9M84.5 316.8l0.8 11.3M91.7 319.0l0.8 12.2M109.7 318.5l-0.4 9.8M183.3 317.1l0.5 6.5M242.0 318.1l-0.6 10.3M272.1 315.6l0.8 11.7M299.7 318.6l0.9 11.2M318.5 318.7l0.8 6.6M129.8 323.9l0.5 10.6M141.5 323.4l-0.3 10.5M152.2 325.0l-0.0 9.3M170.6 324.6l0.1 11.8M187.6 324.5l-0.6 8.8M232.8 323.7l0.4 12.0M237.8 324.1l0.7 11.7M274.8 323.5l0.2 7.8M313.7 323.2l0.4 9.5M85.7 331.3l0.2 9.3M138.4 329.6l-0.2 9.8M143.0 329.8l0.1 9.7M177.4 329.6l0.5 9.0M195.2 330.0l-0.7 12.5M230.4 329.9l0.9 11.2M234.6 329.7l0.4 10.4M252.8 329.8l-0.4 9.7M282.0 332.0l0.9 8.9M309.3 329.8l-0.8 8.1M321.4 331.2l0.9 12.8M118.3 338.0l-0.1 11.8M151.6 338.8l-0.3 12.7M161.7 338.9l-0.4 9.2M185.4 337.7l0.1 11.7M203.8 339.5l-0.7 6.8M236.9 338.9l-1.0 8.8M253.4 338.1l0.6 12.9M259.1 337.4l-0.2 11.7M277.6 337.9l-0.9 6.2M317.8 337.1l0.9 6.2M84.4 346.1l0.9 12.9M108.0 343.6l-0.9 11.6M113.5 345.3l0.2 10.4M154.8 343.4l0.7 10.7M159.5 344.2l1.0 9.8M182.7 342.9l-0.3 8.6M232.5 343.0l-0.1 7.5M255.1 345.0l0.2 8.4M266.9 345.5l-0.6 6.6M319.3 345.5l0.0 11.5M100.0 351.2l-0.7 11.5M105.0 350.0l0.6 7.7M168.2 351.1l-0.9 8.7M189.1 352.2l-0.1 6.2M241.7 352.4l-0.3 12.4M259.1 352.0l-0.2 7.2M287.2 352.0l0.1 12.3M304.0 350.5l-1.0 7.4M321.2 351.3l0.6 7.6M102.9 359.2l0.4 6.3M114.6 357.2l0.5 6.6M141.0 359.9l-0.8 11.0M157.9 358.2l-0.5 9.7M170.7 357.8l-0.7 12.9M186.1 357.6l0.3 9.0M210.4 358.0l-0.9 10.3M219.7 358.1l0.3 11.5M248.3 359.3l0.3 11.0M276.8 358.8l-0.8 10.4M322.1 357.1l0.7 10.0M88.3 366.3l-0.4 9.1M121.7 366.3l0.3 10.8M154.6 365.9l0.6 10.6M184.6 364.0l1.0 12.6M193.7 366.4l-0.4 7.5M206.3 363.8l-0.3 6.6M251.6 365.0l-0.0 12.5M262.6 364.3l0.7 12.0M267.0 364.7l-0.3 8.0M130.2 373.7l0.9 11.8M152.2 373.2l0.9 12.4M158.6 371.8l0.4 7.4M184.7 371.7l-0.4 8.1M196.2 373.5l-1.0 12.7M201.8 372.9l-0.1 10.5M207.6 371.7l0.9 8.6M262.8 371.7l-0.1 9.0M275.9 371.3l-0.0 6.1M296.7 372.9l0.2 10.7M83.8 377.9l-0.7 6.5M94.2 380.3l0.2 6.3M110.1 378.7l-0.1 6.9M132.8 378.8l-0.1 6.7M142.9 379.1l0.2 8.1M153.3 379.3l0.8 9.7M166.8 380.4l0.8 9.3M183.2 378.2l0.6 6.4M210.2 379.7l0.7 9.2M248.3 378.4l0.7 11.8M293.2 378.1l0.3 10.5M297.9 380.5l0.1 8.9M79.7 385.9l0.9 6.3M113.0 387.0l-0.6 6.7M124.1 386.1l0.7 8.4M139.7 387.4l-0.9 7.7M156.9 387.4l-0.8 12.2M162.8 384.4l-1.0 9.4M168.6 385.6l0.7 9.1M179.6 387.2l-0.2 7.2M223.2 384.7l-0.3 8.6M271.8 384.5l-0.8 10.8M284.1 385.4l0.3 11.3M294.1 386.8l-0.8 7.2M300.9 386.6l-0.1 10.4M316.8 385.4l0.3 11.5M103.6 392.2l-0.5 8.7M142.1 393.7l-0.2 11.1M192.2 392.5l-0.4 11.0M198.4 392.1l-0.8 11.6M207.6 392.8l-0.3 13.0M213.5 393.9l-0.3 8.0M229.2 393.5l-0.0 7.3M236.4 393.9l0.5 11.0M247.6 393.1l0.8 8.4M258.2 393.4l0.8 9.6M262.4 392.7l0.7 12.5M275.1 392.4l-0.1 8.0M313.2 393.0l-0.6 6.9M89.8 400.9l0.8 11.7M101.2 398.8l0.9 6.5M122.5 401.2l-1.0 12.5M128.2 398.2l0.6 10.0M165.8 398.9l-0.9 11.1M184.3 399.7l-0.9 10.3M243.3 400.4l-0.1 6.7M252.7 398.9l0.4 8.2M266.0 400.4l0.8 12.4M286.7 398.3l-0.3 8.2M297.8 398.4l0.2 8.0M302.4 401.0l0.2 6.3M308.7 398.4l0.8 8.9M83.4 407.6l-0.8 7.2M124.9 406.7l0.4 12.9M153.6 408.6l-0.8 6.6M213.2 405.7l-0.7 8.9M229.4 407.1l-0.6 7.9M266.1 407.3l-0.1 6.3M284.1 408.4l0.8 9.0M292.7 407.3l0.7 9.3M297.9 406.8l-0.6 6.9" stroke="#828282" stroke-width="3.5" stroke-linecap="round" fill="none"/>
<path d="M103.9 303.6l-0.5 6.6M114.9 302.8l-0.8 9.6M132.8 304.9l0.4 10.8M157.1 303.9l-0.7 8.6M191.4 303.3l0.2 11.6M209.4 303.2l0.2 10.2M225.6 304.5l0.3 7.0M249.9 303.2l-0.4 8.8M262.8 303.3l0.8 11.3M267.6 302.1l0.9 10.6M280.2 305.5l0.7 9.0M285.0 303.1l0.0 6.4M298.5 305.0l0.2 9.7M87.6 310.0l-0.9 9.6M153.2 311.0l-0.5 6.4M171.1 310.5l0.2 11.4M181.0 308.8l0.1 8.1M217.3 309.1l0.4 10.8M229.7 311.4l-0.6 10.0M246.3 311.4l0.3 11.0M287.4 310.9l-0.8 12.6M303.6 311.6l-0.7 9.9M315.4 310.9l0.6 9.8M97.1 319.0l-0.3 9.4M103.8 316.5l-0.3 8.7M114.1 317.0l-1.0 10.7M127.3 317.8l-0.5 9.1M142.9 318.8l0.6 11.6M150.5 316.6l0.9 9.9M172.5 318.1l-0.2 11.9M219.2 316.7l0.1 6.1M249.7 315.7l-0.9 7.6M260.0 316.9l-0.8 11.3M305.7 315.6l0.8 11.1M311.6 316.9l-0.7 6.5M87.4 323.3l-0.4 7.4M106.5 323.6l0.6 10.1M156.6 324.9l-0.1 7.4M193.8 324.6l0.5 11.0M220.3 323.2l-0.2 9.9M249.9 324.8l-0.3 8.7M255.0 322.7l-0.6 9.3M261.0 322.7l-0.9 12.3M268.2 323.8l-0.9 7.5M296.3 325.7l-0.1 7.4M303.5 324.8l-0.3 7.2M307.7 324.6l-0.4 9.4M92.0 330.9l-0.1 6.1M171.0 330.7l-0.6 11.3M200.8 331.7l1.0 11.1M217.4 331.6l0.5 6.1M274.6 331.8l0.2 11.7M305.3 329.8l0.2 9.9M83.5 339.2l0.9 9.3M100.4 339.0l-0.3 12.5M110.4 338.6l-0.6 11.0M168.3 337.3l0.8 6.0M179.7 339.1l0.3 11.3M196.9 336.2l0.7 10.8M209.0 336.0l0.1 10.0M231.8 338.0l0.2 6.1M282.3 339.0l0.5 6.5M299.4 336.9l0.9 9.3M81.0 345.8l0.1 12.4M97.5 344.7l-0.1 10.9M118.6 344.2l-0.1 8.8M142.6 343.1l-0.6 7.3M194.7 343.7l0.4 8.2M200.6 343.1l0.4 12.3M205.2 346.3l0.2 10.1M250.2 344.4l-0.1 6.4M277.7 344.4l0.4 8.9M283.5 343.0l-0.2 7.8M117.1 350.7l0.8 10.9M122.7 352.2l-0.8 11.4M139.8 352.4l-0.7 12.7M145.1 353.1l0.2 10.4M196.1 351.9l-1.0 6.9M208.3 349.7l0.6 6.6M213.7 350.8l-1.0 12.1M234.3 353.2l-0.4 8.8M246.3 351.0l0.8 12.1M308.4 352.5l0.9 12.5M119.7 356.9l-0.9 13.0M165.5 358.6l0.7 8.0M176.3 359.6l0.3 12.7M198.5 358.2l0.2 12.6M215.4 358.1l0.3 8.5M227.4 358.3l-0.5 9.8M244.1 360.0l-0.3 6.6M287.5 359.2l0.2 8.4M94.4 365.2l0.9 7.3M110.1 366.1l-0.3 8.5M117.1 364.5l0.9 8.9M138.8 364.0l-0.6 7.5M166.8 364.2l-0.5 8.6M172.7 366.5l-0.5 12.9M228.9 366.4l-0.0 9.1M239.1 366.0l0.3 9.1M255.6 365.3l-0.4 9.2M283.0 364.7l0.2 8.2M288.6 364.4l-0.6 9.3M85.4 372.6l-0.5 9.2M100.9 372.9l0.7 6.9M139.8 373.7l-0.5 9.6M147.5 370.9l0.1 9.9M169.3 371.5l0.8 9.8M173.3 372.7l0.9 7.1M179.2 371.6l-0.6 12.3M219.7 372.9l-0.8 12.3M229.3 372.0l0.4 8.3M236.1 370.4l-0.8 9.8M246.7 373.7l0.3 7.5M258.4 371.0l-0.9 10.6M302.5 373.5l-0.5 12.6M312.6 373.2l0.9 11.5M319.6 371.9l-0.7 11.3M89.3 377.4l-0.8 6.3M103.9 378.2l-0.7 7.2M116.2 380.0l-0.6 12.8M125.9 378.9l1.0 8.7M176.6 379.0l-0.3 11.2M214.4 380.4l-0.4 9.6M221.8 378.1l-0.8 10.6M237.1 379.4l-0.1 6.6M254.0 377.9l0.9 7.8M275.6 379.0l0.3 11.2M288.6 379.4l-0.4 8.7M305.2 379.0l0.2 6.4M310.8 379.2l-1.0 10.7M96.4 385.5l0.6 10.1M106.8 385.2l-0.6 9.9M117.8 384.3l-0.3 11.0M135.2 386.8l-0.7 12.6M146.5 384.9l-0.5 12.9M151.4 386.8l-0.7 10.2M183.5 387.4l-0.4 11.7M211.7 385.4l-0.3 7.1M244.9 385.9l-0.2 12.0M81.7 393.5l0.7 8.5M116.3 393.4l-0.7 8.0M137.1 391.3l-0.1 7.9M154.3 393.0l-0.3 11.0M174.3 392.3l0.0 11.4M180.5 392.6l0.7 7.3M203.6 393.7l-0.0 11.8M279.9 391.6l-0.6 7.9M295.9 391.1l0.2 9.8M306.9 391.9l0.6 8.0M80.0 401.5l-0.7 6.3M96.3 398.5l-0.2 6.9M106.5 400.3l-0.6 9.0M133.7 400.1l0.0 6.6M139.7 401.0l-0.6 8.6M156.3 399.3l-0.5 9.2M161.1 398.1l-0.3 7.7M172.6 399.0l0.2 10.2M177.0 399.7l-0.9 7.7M193.0 400.6l0.3 6.2M199.8 399.0l0.7 7.1M211.0 398.8l-0.2 9.3M248.7 400.6l0.5 11.2M274.7 399.7l-0.6 9.1M99.1 405.8l-0.7 7.8M115.1 406.8l0.3 10.1M137.5 406.8l0.9 11.6M146.6 406.6l-0.5 9.2M173.5 405.1l0.5 12.6M179.5 407.8l0.6 8.4M196.8 406.2l-0.5 12.0M240.5 405.6l-0.1 12.5M250.4 408.1l-0.8 8.9M272.3 407.3l-0.2 12.4M321.4 406.0l0.3 8.3" stroke="#939393" stroke-width="3.5" stroke-linecap="round" fill="none"/>
<path d="M90.9 304.2l0.6 7.6M144.1 303.3l0.1 9.9M150.2 303.6l-0.5 8.9M162.3 303.2l0.6 7.0M167.0 303.6l-0.6 6.1M174.5 302.2l-0.2 8.1M198.1 302.3l-0.4 8.5M255.1 302.2l0.1 7.9M291.6 304.4l0.8 10.0M308.5 302.5l0.5 12.1M314.9 304.6l0.3 10.4M94.7 309.1l0.3 9.2M136.1 311.2l0.2 9.0M140.0 311.7l0.2 11.2M276.1 308.9l-0.3 10.3M309.8 310.5l0.6 11.7M79.4 315.6l0.6 6.4M137.1 319.0l-0.3 8.3M155.5 318.6l-0.2 11.1M194.8 316.2l0.8 11.3M208.4 316.5l0.3 8.6M289.6 315.8l-0.2 8.1M93.1 322.9l0.9 12.9M101.1 325.3l-0.8 11.7M117.7 322.5l0.4 8.3M122.1 325.5l-0.1 6.7M135.5 325.5l0.1 10.7M146.0 322.7l-0.6 9.2M164.4 324.4l0.8 9.1M174.2 325.1l0.7 9.7M210.2 325.0l-0.8 6.7M216.4 324.4l1.0 6.9M226.7 323.2l0.2 10.3M278.3 323.8l-0.8 12.5M98.1 331.5l-0.3 10.5M103.0 332.6l-0.5 12.5M108.1 332.6l0.3 7.9M114.2 330.7l-0.2 6.2M131.5 331.9l0.5 11.7M154.6 330.2l-0.8 8.8M160.1 330.3l-0.6 12.8M183.7 330.5l0.1 12.8M188.7 330.3l0.4 8.2M206.5 331.9l-0.2 10.5M263.0 330.1l-0.5 9.6M293.6 330.5l0.5 12.0M87.6 336.2l-0.9 9.7M106.3 339.1l0.6 8.7M128.7 338.2l-0.7 10.4M140.8 339.4l-0.7 8.4M144.9 337.5l-0.6 7.8M244.1 336.3l-0.1 9.8M266.5 338.3l-0.3 7.3M271.1 337.8l0.8 12.0M288.8 336.1l0.9 6.8M304.8 339.1l-0.6 8.1M124.6 344.0l-0.9 7.9M136.6 343.6l1.0 6.4M165.2 344.4l0.6 11.8M175.8 345.4l-0.2 7.2M189.0 344.8l0.1 9.2M245.9 345.5l0.5 12.5M273.3 343.9l0.9 11.6M301.4 345.5l-1.0 10.7M308.5 343.5l0.4 6.3M312.2 344.3l0.3 8.8M88.3 351.7l-0.4 8.1M127.9 352.7l-0.2 10.4M132.4 351.5l-0.1 11.3M161.4 351.2l0.6 11.0M173.2 351.5l-0.4 10.3M179.4 351.5l-0.3 11.2M185.4 350.4l-0.8 6.4M200.9 349.7l-0.9 11.2M218.5 351.6l-0.9 11.9M253.8 352.9l-0.4 11.4M264.2 352.8l-0.4 6.3M298.0 352.2l-0.3 6.4M79.9 359.2l0.8 10.4M108.0 358.9l0.3 8.4M123.7 358.4l-0.5 11.6M131.7 359.8l0.0 10.9M136.1 359.3l-0.9 7.8M147.4 358.4l-0.1 9.1M203.8 358.9l-0.1 11.9M232.6 359.0l0.1 11.8M236.3 357.4l0.1 11.5M255.4 357.6l-0.7 11.7M282.2 356.8l0.0 8.3M299.0 357.3l0.2 9.1M316.4 357.3l-0.6 10.1M81.6 366.8l0.6 7.4M99.7 363.9l-0.1 7.6M106.2 364.2l-1.0 12.9M126.3 365.2l0.6 12.6M188.7 366.7l0.5 7.2M200.7 364.0l0.4 12.7M222.8 363.6l0.3 6.3M277.6 363.9l-0.2 8.4M294.8 366.0l0.5 9.6M80.2 373.0l0.5 12.8M91.5 370.8l-0.5 6.7M106.4 373.6l0.1 12.6M112.7 372.6l0.1 12.6M119.8 371.5l0.1 8.1M134.8 370.8l-0.4 9.3M190.3 373.9l-0.0 10.3M213.3 370.5l-0.6 7.7M225.3 373.7l-0.4 10.6M253.3 373.6l-0.6 10.0M270.0 373.9l0.9 9.0M281.0 373.7l0.4 12.9M98.6 380.5l-0.5 8.9M159.5 380.2l0.9 6.8M203.5 380.6l-0.8 9.6M244.4 377.7l-0.2 9.9M271.1 379.6l-0.1 8.8M102.4 386.7l-0.6 8.2M130.0 385.2l-0.1 9.9M190.4 385.5l-0.8 6.6M200.9 385.1l0.8 6.4M250.3 386.8l0.4 9.7M255.3 385.4l-0.3 12.6M267.1 385.7l-0.5 9.8M277.6 387.7l0.9 9.8M306.4 384.9l-0.1 8.1M89.0 394.1l0.9 12.5M93.8 392.5l0.5 6.7M98.6 392.6l0.0 10.5M148.4 391.9l-0.3 12.3M218.3 394.2l-0.4 7.5M284.0 394.5l-0.7 10.2M291.0 392.9l1.0 10.8M85.8 400.3l-0.1 7.5M117.0 401.1l-0.5 9.2M145.6 400.8l-0.5 8.7M149.5 401.4l0.5 11.1M188.4 399.8l-1.0 12.3M205.2 400.7l0.7 7.8M215.3 399.5l-0.1 11.7M221.4 398.6l0.4 11.7M259.5 399.2l0.8 10.7M282.2 401.5l0.2 11.9M319.3 401.6l0.3 9.2M87.6 407.4l-0.8 9.4M110.0 408.6l0.3 12.7M121.5 407.1l0.3 9.5M132.2 406.8l0.8 8.7M157.1 406.1l-0.4 10.5M184.5 407.1l-0.3 9.5M191.7 406.5l-1.0 7.0M202.2 407.9l-1.0 12.4M208.2 405.0l-0.6 13.0M216.9 406.4l-0.3 9.7M222.1 406.6l-0.2 6.5M234.5 407.9l0.7 10.8M262.4 408.0l-0.4 10.9M287.6 408.6l-0.6 7.3M310.7 407.1l0.7 11.2" stroke="#a4a4a4" stroke-width="3.5" stroke-linecap="round" fill="none"/>
<path d="M80.4 305.4l0.5 8.0M85.3 304.3l0.3 10.2M109.3 302.5l0.4 8.8M120.9 303.2l0.1 12.6M126.6 303.0l-0.5 10.2M178.8 304.1l-0.9 6.4M204.4 304.1l0.5 8.2M214.7 303.9l-0.6 10.3M232.2 302.9l-0.1 10.7M237.5 304.9l0.3 11.2M243.5 304.3l-0.9 11.7M83.6 310.5l-0.3 9.3M100.2 312.2l0.8 10.7M106.4 311.0l0.8 9.6M118.8 309.8l-0.4 11.9M122.7 310.5l-0.1 7.2M146.7 310.8l-0.5 9.0M158.9 312.0l-0.9 12.3M176.3 311.3l-0.0 9.2M193.6 308.9l0.3 8.9M199.2 309.4l-0.5 7.7M264.9 311.7l-0.7 11.4M299.6 310.7l0.0 9.7M120.7 316.3l0.6 8.4M131.4 316.1l0.3 9.5M161.6 316.8l0.6 8.5M166.7 317.0l0.7 6.6M178.1 318.0l-1.0 8.1M190.2 318.4l0.2 10.2M201.5 316.3l0.9 12.0M213.1 317.4l0.4 9.9M224.0 316.8l-0.8 11.0M230.6 317.3l0.5 11.9M236.9 317.7l-0.2 7.7M254.8 318.8l-0.6 6.5M265.6 317.3l-0.2 9.7M276.3 318.7l0.7 7.8M282.2 317.2l-0.2 9.1M293.9 316.6l0.6 6.5M82.9 323.8l-0.6 8.9M110.3 322.6l-0.7 7.0M181.9 323.8l0.2 10.9M198.2 324.3l0.6 7.9M203.1 325.8l-1.0 6.7M245.7 324.1l0.1 8.9M284.0 325.2l-0.7 7.1M289.8 324.5l-0.0 10.5M320.2 322.7l0.1 7.7M78.6 332.0l-0.1 9.0M118.8 332.4l-0.1 12.4M126.3 329.9l0.5 8.1M148.4 331.0l-0.4 7.9M166.6 331.7l0.1 10.3M212.8 329.4l-0.3 9.2M223.7 332.5l0.0 9.0M240.9 329.5l-0.2 8.0M245.6 329.7l-0.6 8.3M257.7 329.6l0.9 7.6M270.5 331.9l0.7 12.4M286.1 329.3l1.0 11.3M297.8 331.5l-0.7 8.2M315.6 329.3l-0.0 10.7M94.1 338.2l0.5 8.4M123.2 339.5l-0.1 10.4M132.9 338.1l0.7 12.5M158.1 338.5l-0.2 10.4M174.3 338.1l0.6 10.6M192.0 337.6l-0.6 7.3M214.6 337.9l-0.7 9.2M218.8 339.2l0.9 11.4M226.6 338.5l0.5 6.9M249.0 337.3l0.1 10.8M295.1 339.1l-0.2 6.9M312.0 336.7l-0.6 8.3M92.1 346.3l0.3 11.2M101.8 343.1l0.5 12.9M132.0 343.1l0.7 11.9M149.2 345.0l0.6 11.6M170.0 346.2l0.2 11.2M210.8 344.4l-0.4 8.4M215.3 343.9l-0.8 11.1M221.4 346.3l-0.3 10.2M229.0 343.7l-0.6 8.4M239.2 346.2l0.6 6.8M261.5 345.7l0.6 6.8M291.5 346.1l0.5 10.7M296.3 344.9l0.4 9.2M83.3 352.9l-0.2 11.5M94.5 350.4l-0.7 11.4M111.9 352.3l-0.0 8.2M151.5 353.0l1.0 11.1M155.3 351.0l0.5 6.1M224.2 352.8l-0.4 12.2M230.6 350.7l0.8 11.8M269.1 350.5l-0.6 8.2M273.9 352.3l0.4 11.4M279.8 352.2l-0.1 9.6M292.6 350.5l-0.8 10.6M315.2 349.9l1.0 6.1M85.6 359.5l-0.2 12.5M92.2 360.0l-0.2 8.5M97.1 360.1l0.5 11.1M153.9 356.7l0.7 10.1M181.8 359.8l0.1 11.1M193.2 357.7l-0.9 12.5M260.4 360.0l0.3 7.6M264.9 358.5l0.9 7.2M271.5 359.1l0.3 9.0M293.1 360.1l-0.6 10.6M305.8 357.3l0.9 10.6M310.8 357.1l0.7 9.8M134.2 365.3l0.6 12.4M145.2 364.0l0.8 11.2M150.2 364.8l-0.7 12.8M161.3 364.7l-0.0 12.1M178.5 364.0l-0.5 7.1M210.9 364.8l0.4 12.4M217.4 364.2l0.1 9.3M233.3 366.4l0.6 9.4M244.3 366.3l0.5 6.8M272.8 366.9l-1.0 11.7M302.0 364.7l0.6 8.2M305.3 366.3l0.5 10.8M312.8 365.4l-0.7 11.0M317.5 363.7l0.3 8.8M97.2 372.3l0.1 7.7M124.6 371.8l0.9 8.0M162.7 370.8l-0.3 6.1M240.0 373.0l0.3 12.6M286.2 372.9l1.0 11.4M292.4 372.8l-0.9 11.2M308.8 372.7l0.2 8.3M121.0 379.4l-0.9 12.4M139.1 378.8l-0.8 11.3M148.9 380.5l-0.7 8.6M170.9 378.3l0.8 11.6M187.2 380.4l0.7 6.6M193.3 378.8l-0.8 6.8M198.2 377.6l-0.0 8.2M225.3 379.3l0.3 6.9M233.0 380.1l-0.7 10.4M258.8 377.9l0.4 7.1M266.6 380.3l-1.0 8.2M281.9 379.4l-0.7 8.0M314.5 379.0l0.1 9.5M321.4 378.5l0.6 8.4M84.6 385.3l-0.6 6.5M90.2 385.3l-0.6 12.3M174.5 385.3l-0.5 9.0M195.2 385.2l0.7 6.8M205.6 386.8l-0.7 9.0M217.9 387.6l-0.2 6.3M228.8 385.5l0.2 10.1M234.9 387.1l-0.3 10.7M239.7 387.7l-0.7 6.2M262.0 386.5l0.9 7.3M289.2 385.6l-0.7 11.0M310.1 384.5l0.6 13.0M323.0 386.8l-1.0 11.1M109.1 393.3l-0.2 9.8M120.1 391.2l0.7 12.5M127.6 393.8l0.2 8.9M132.3 391.5l0.4 6.2M159.5 392.0l0.2 11.2M165.5 391.1l-0.5 12.9M169.6 391.9l0.0 10.3M187.5 391.6l-0.1 10.9M224.6 392.5l-0.3 12.2M241.5 392.1l0.3 10.5M252.2 394.3l-0.1 7.5M269.9 393.2l0.5 9.3M301.9 393.8l-0.8 10.6M317.5 394.3l-0.8 9.3M111.4 400.3l0.4 6.3M226.7 398.8l-1.0 7.7M233.4 399.3l-0.4 11.8M237.1 400.4l-1.0 10.9M271.5 401.1l-0.4 6.7M292.5 400.2l0.6 9.3M313.5 400.0l-0.6 6.5M92.7 406.2l-0.3 7.5M103.5 407.0l0.8 9.7M141.8 407.3l0.2 8.4M164.9 405.3l0.5 12.0M169.9 406.3l-0.7 12.3M245.7 407.2l0.7 7.7M255.0 408.2l-0.5 9.9M276.8 406.3l-0.8 12.3M304.6 407.4l-0.2 10.9M315.3 407.5l0.6 7.6" stroke="#b5b5b5" stroke-width="3.5" stroke-linecap="round" fill="none"/>
<path d="M92.0 222.6l-0.1 1.5M98.7 224.1l-0.1 1.5M104.2 222.5l0.2 1.5M130.2 224.0l-0.0 1.5M142.2 224.9l0.2 1.5M147.6 222.1l0.1 1.5M165.6 223.4l0.2 1.5M192.5 225.4l0.2 1.5M204.3 224.5l0.2 1.5M236.1 222.4l-0.0 1.5M247.5 223.9l0.1 1.5M259.4 223.1l-0.0 1.5M278.4 224.2l0.1 1.5M283.7 222.3l-0.2 1.5M290.0 223.3l0.1 1.5M297.8 224.6l0.1 1.5M310.3 224.7l-0.1 1.5M82.5 231.3l0.1 1.5M88.9 229.1l0.1 1.5M96.2 230.7l0.2 1.5M162.5 229.7l0.2 1.5M207.9 230.3l-0.1 1.5M213.2 230.2l-0.1 1.5M250.3 231.0l-0.2 1.5M262.7 230.3l0.1 1.5M276.1 229.7l-0.2 1.5M292.9 232.1l-0.0 1.5M300.5 229.6l0.1 1.5M305.0 231.4l-0.0 1.5M86.4 236.6l-0.0 1.5M99.5 238.6l0.2 1.5M115.6 237.7l-0.1 1.5M141.8 238.0l0.0 1.5M154.5 238.6l-0.0 1.5M160.4 237.9l-0.2 1.5M165.4 237.2l-0.0 1.5M183.6 237.9l-0.2 1.5M222.2 238.0l-0.0 1.5M233.5 235.2l0.2 1.5M251.8 235.4l-0.1 1.5M313.3 237.0l0.2 1.5M320.7 238.7l-0.1 1.5M83.2 243.1l-0.1 1.5M119.7 241.9l0.1 1.5M131.9 243.2l-0.0 1.5M136.9 242.4l0.2 1.5M181.8 242.6l0.0 1.5M186.8 243.8l-0.1 1.5M193.5 243.1l0.0 1.5M229.6 242.8l0.0 1.5M241.6 244.6l0.1 1.5M248.8 243.3l0.1 1.5M291.9 244.7l-0.1 1.5M104.0 248.9l-0.1 1.5M109.2 249.2l0.0 1.5M123.3 249.9l0.1 1.5M159.7 250.6l-0.1 1.5M165.9 249.7l0.1 1.5M189.9 251.1l-0.0 1.5M196.9 251.3l-0.2 1.5M213.1 251.2l-0.0 1.5M227.1 250.4l-0.2 1.5M263.3 252.0l0.1 1.5M282.8 248.6l-0.1 1.5M294.9 250.2l0.1 1.5M317.6 251.4l0.1 1.5M83.9 255.8l0.2 1.5M107.2 257.0l0.1 1.5M113.7 258.3l-0.1 1.5M138.5 258.1l0.0 1.5M163.1 257.3l0.2 1.5M168.5 257.8l0.1 1.5M180.8 256.9l-0.1 1.5M187.2 255.1l0.0 1.5M215.5 256.6l0.1 1.5M222.9 257.9l-0.0 1.5M229.9 255.7l0.2 1.5M265.6 255.1l-0.1 1.5M277.3 257.0l-0.0 1.5M79.1 263.4l-0.1 1.5M103.1 261.9l0.1 1.5M117.3 263.9l-0.1 1.5M129.2 264.5l0.1 1.5M153.5 263.7l-0.1 1.5M165.5 264.4l-0.0 1.5M170.7 263.4l-0.2 1.5M201.4 263.3l0.0 1.5M297.6 264.5l0.1 1.5M305.1 264.2l-0.1 1.5M316.4 262.9l0.1 1.5M101.1 269.9l-0.1 1.5M107.4 269.9l-0.0 1.5M112.7 270.6l-0.1 1.5M155.9 271.9l0.1 1.5M186.4 270.3l-0.2 1.5M209.7 269.5l0.1 1.5M244.6 272.0l0.2 1.5M264.5 269.2l-0.1 1.5M305.7 270.3l0.1 1.5M317.3 270.4l-0.2 1.5M90.7 276.0l-0.2 1.5M103.8 278.2l-0.1 1.5M109.3 277.4l0.2 1.5M128.0 276.5l0.1 1.5M140.6 276.8l0.2 1.5M146.2 278.2l0.1 1.5M181.1 275.2l-0.1 1.5M217.4 276.9l0.2 1.5M224.4 277.5l-0.0 1.5M259.5 276.4l0.2 1.5M264.6 277.1l-0.0 1.5M300.5 276.8l-0.0 1.5M320.2 275.7l-0.1 1.5M88.0 283.2l-0.1 1.5M111.6 282.2l0.1 1.5M117.4 283.3l0.1 1.5M141.4 285.3l-0.1 1.5M159.4 282.2l0.1 1.5M214.3 281.8l-0.0 1.5M261.6 284.4l-0.1 1.5M296.4 282.8l-0.2 1.5M322.1 283.3l0.1 1.5M80.2 290.4l0.2 1.5M97.4 289.5l0.0 1.5M104.3 290.0l-0.1 1.5M110.6 290.1l-0.2 1.5M126.6 289.9l0.0 1.5M169.8 288.7l-0.1 1.5M185.9 291.0l-0.0 1.5M204.6 291.5l-0.1 1.5M216.4 289.1l-0.1 1.5M222.8 289.4l-0.1 1.5M265.0 290.6l0.1 1.5M270.6 289.5l0.2 1.5M282.5 291.0l-0.1 1.5M298.2 290.2l-0.2 1.5M100.8 296.3l0.2 1.5M105.6 298.3l-0.1 1.5M117.5 296.6l-0.2 1.5M124.9 295.3l0.1 1.5M135.4 295.3l0.1 1.5M166.3 298.4l-0.2 1.5M182.7 295.8l0.1 1.5M219.1 298.3l-0.2 1.5M223.6 296.4l0.2 1.5M229.4 296.4l0.1 1.5M249.0 297.1l0.1 1.5M258.8 298.6l-0.1 1.5M270.8 297.2l-0.0 1.5M290.1 297.3l-0.1 1.5M308.3 296.5l0.1 1.5M312.6 295.3l-0.1 1.5" stroke="#bebebe" stroke-width="4.1" stroke-linecap="round" fill="none"/>
<path d="M79.1 225.1l0.2 1.5M109.6 222.7l0.1 1.5M124.2 225.3l-0.0 1.5M134.6 222.9l0.1 1.5M153.9 222.9l-0.1 1.5M160.6 225.4l-0.2 1.5M173.7 222.4l0.1 1.5M184.0 222.7l0.1 1.5M209.3 222.8l0.1 1.5M227.5 225.5l-0.1 1.5M239.8 224.0l0.2 1.5M253.7 224.7l0.2 1.5M264.8 223.1l-0.1 1.5M273.3 224.0l0.1 1.5M321.8 224.8l0.2 1.5M100.2 230.6l0.1 1.5M114.1 231.8l-0.0 1.5M120.8 229.2l-0.1 1.5M125.5 229.8l-0.0 1.5M139.3 231.6l-0.1 1.5M146.0 232.1l-0.0 1.5M156.1 231.7l-0.2 1.5M170.8 232.1l-0.1 1.5M176.6 231.2l0.1 1.5M189.1 229.3l0.1 1.5M195.2 231.6l-0.1 1.5M200.1 231.7l0.1 1.5M225.7 232.2l0.1 1.5M232.4 231.6l-0.1 1.5M268.7 231.7l-0.1 1.5M286.6 230.7l-0.2 1.5M311.5 231.6l-0.1 1.5M317.4 229.9l-0.1 1.5M147.6 237.3l0.0 1.5M172.1 235.7l-0.0 1.5M197.1 237.8l-0.2 1.5M202.1 236.5l-0.1 1.5M208.8 237.7l0.2 1.5M227.0 235.8l0.1 1.5M240.0 235.7l0.1 1.5M264.5 237.0l0.0 1.5M296.4 237.4l0.0 1.5M309.0 237.1l0.1 1.5M88.6 245.1l-0.0 1.5M94.1 243.5l0.1 1.5M113.7 243.0l-0.1 1.5M126.4 243.2l-0.2 1.5M151.0 245.2l-0.0 1.5M162.3 244.4l-0.1 1.5M199.8 244.6l0.0 1.5M213.2 243.7l0.2 1.5M225.2 243.9l0.1 1.5M255.3 245.2l-0.2 1.5M272.2 245.0l0.1 1.5M285.9 242.3l0.1 1.5M304.9 244.5l-0.0 1.5M310.4 242.7l0.0 1.5M316.6 245.4l0.1 1.5M79.8 248.7l0.1 1.5M84.7 248.8l0.0 1.5M98.9 250.5l-0.2 1.5M129.2 251.6l0.1 1.5M145.9 251.1l0.0 1.5M152.6 251.8l-0.1 1.5M171.3 249.7l-0.2 1.5M176.5 250.7l0.0 1.5M209.1 251.4l-0.0 1.5M219.2 250.4l0.1 1.5M252.2 251.5l0.1 1.5M256.6 249.5l-0.1 1.5M306.3 251.5l0.1 1.5M90.0 256.5l-0.1 1.5M96.2 256.7l-0.0 1.5M132.3 256.9l-0.1 1.5M156.2 258.1l-0.2 1.5M174.1 255.5l-0.2 1.5M203.5 258.0l-0.2 1.5M241.5 256.8l0.0 1.5M258.2 257.7l-0.1 1.5M270.9 257.4l0.1 1.5M289.0 258.1l0.0 1.5M297.1 257.3l0.1 1.5M306.9 256.0l0.0 1.5M313.4 258.5l0.0 1.5M91.9 262.6l0.1 1.5M158.8 265.3l0.1 1.5M175.8 264.1l-0.0 1.5M189.3 261.8l-0.2 1.5M213.7 261.8l0.2 1.5M249.5 262.9l-0.0 1.5M268.2 262.2l0.1 1.5M292.9 262.6l-0.2 1.5M83.7 268.7l-0.2 1.5M88.3 270.6l0.2 1.5M95.6 269.3l-0.1 1.5M117.8 271.6l-0.2 1.5M125.2 269.6l0.2 1.5M143.8 270.3l-0.2 1.5M166.7 271.5l0.1 1.5M215.7 270.3l0.0 1.5M233.3 269.8l0.0 1.5M256.9 269.2l-0.2 1.5M288.8 269.0l-0.1 1.5M299.8 270.0l0.0 1.5M79.2 277.8l-0.1 1.5M115.4 275.3l0.0 1.5M121.7 277.7l0.2 1.5M150.7 278.3l0.1 1.5M157.0 278.6l-0.1 1.5M163.8 276.5l-0.0 1.5M169.9 275.1l-0.2 1.5M175.4 277.7l0.0 1.5M205.2 278.2l0.1 1.5M230.0 275.7l-0.2 1.5M242.3 277.5l-0.2 1.5M284.9 277.9l-0.1 1.5M288.6 275.7l-0.1 1.5M295.7 277.3l0.1 1.5M307.5 276.3l-0.1 1.5M94.9 282.8l-0.2 1.5M124.7 284.1l0.1 1.5M153.8 284.6l-0.0 1.5M165.3 282.4l0.0 1.5M171.9 284.6l0.0 1.5M184.3 284.8l0.1 1.5M197.4 282.1l-0.1 1.5M230.7 284.1l-0.2 1.5M251.0 281.9l0.2 1.5M268.8 285.2l0.2 1.5M273.3 283.9l-0.2 1.5M280.5 284.7l0.1 1.5M286.0 285.1l-0.0 1.5M291.6 282.4l-0.2 1.5M304.4 284.0l-0.1 1.5M308.5 284.0l-0.2 1.5M86.3 291.0l-0.1 1.5M115.2 289.2l0.1 1.5M132.5 289.9l-0.0 1.5M138.9 288.8l-0.0 1.5M145.8 289.4l0.2 1.5M150.8 290.5l0.2 1.5M163.8 291.4l0.2 1.5M193.4 291.3l-0.0 1.5M198.6 289.7l-0.2 1.5M211.4 289.9l0.1 1.5M233.3 290.6l-0.0 1.5M240.5 289.5l0.1 1.5M245.7 290.6l-0.1 1.5M252.8 289.6l0.0 1.5M256.8 290.3l-0.0 1.5M274.7 289.0l0.1 1.5M293.3 289.0l0.2 1.5M305.7 291.3l-0.1 1.5M310.7 290.7l0.1 1.5M83.3 295.8l-0.0 1.5M89.9 298.1l0.0 1.5M95.6 296.1l-0.1 1.5M112.6 298.2l-0.0 1.5M128.9 296.9l-0.2 1.5M142.8 297.4l-0.1 1.5M148.1 296.1l-0.2 1.5M152.5 297.0l-0.1 1.5M205.6 298.1l0.2 1.5M212.3 296.0l0.1 1.5M241.3 296.8l-0.2 1.5M267.0 298.2l-0.2 1.5M277.0 296.0l0.1 1.5M302.3 297.1l-0.2 1.5" stroke="#cbcbcb" stroke-width="4.1" stroke-linecap="round" fill="none"/>
<path d="M86.7 223.9l-0.1 1.5M115.7 223.9l0.2 1.5M179.8 222.1l-0.0 1.5M197.7 224.4l0.2 1.5M217.0 223.0l-0.1 1.5M221.5 222.7l0.1 1.5M303.4 225.6l-0.1 1.5M314.5 223.5l0.1 1.5M108.8 229.5l-0.0 1.5M132.4 228.7l-0.2 1.5M150.8 229.9l-0.2 1.5M182.1 229.0l0.2 1.5M218.9 231.5l0.2 1.5M236.7 231.5l-0.0 1.5M244.9 231.0l0.2 1.5M255.3 229.8l-0.1 1.5M280.7 229.5l-0.2 1.5M78.5 238.0l0.1 1.5M93.0 237.1l0.1 1.5M104.3 237.3l0.2 1.5M110.8 235.5l0.1 1.5M123.7 238.6l0.1 1.5M128.0 237.9l-0.1 1.5M134.6 236.5l-0.1 1.5M179.6 238.6l0.1 1.5M192.2 238.0l0.1 1.5M215.1 238.6l0.1 1.5M246.0 236.7l0.0 1.5M259.7 237.9l0.1 1.5M272.2 237.1l0.0 1.5M277.1 237.1l0.1 1.5M284.0 235.9l-0.1 1.5M290.5 236.2l-0.2 1.5M303.2 236.4l-0.0 1.5M102.3 244.1l0.2 1.5M108.3 244.2l0.1 1.5M144.6 242.8l0.0 1.5M156.0 242.2l-0.1 1.5M168.7 244.9l-0.1 1.5M176.2 244.3l0.2 1.5M206.1 245.0l-0.1 1.5M217.9 243.5l-0.1 1.5M236.4 243.2l0.1 1.5M261.1 245.2l-0.1 1.5M266.4 244.7l0.1 1.5M279.7 245.2l0.1 1.5M298.1 242.1l-0.1 1.5M91.0 250.9l0.2 1.5M116.4 250.7l0.0 1.5M133.6 248.5l0.0 1.5M140.3 251.2l-0.0 1.5M183.8 248.9l0.2 1.5M202.8 250.5l-0.2 1.5M233.1 251.0l0.1 1.5M239.6 249.2l-0.1 1.5M244.7 249.2l-0.1 1.5M270.6 250.4l0.2 1.5M276.7 250.0l-0.0 1.5M287.3 248.8l-0.2 1.5M300.4 251.3l0.1 1.5M313.2 250.9l0.0 1.5M101.3 258.0l0.1 1.5M120.1 257.8l0.2 1.5M125.9 258.5l0.1 1.5M142.8 257.0l0.1 1.5M149.7 255.6l-0.0 1.5M193.6 257.4l0.2 1.5M199.8 257.5l-0.1 1.5M211.5 255.8l0.2 1.5M234.3 258.5l0.1 1.5M246.6 255.4l0.0 1.5M254.2 256.1l0.1 1.5M283.4 258.2l0.1 1.5M301.7 256.6l0.0 1.5M319.9 257.5l0.1 1.5M84.6 262.8l0.2 1.5M97.8 264.0l-0.2 1.5M110.3 263.8l0.1 1.5M122.3 262.2l0.0 1.5M135.1 263.1l0.2 1.5M141.1 262.7l0.1 1.5M145.7 262.7l0.2 1.5M182.3 264.1l0.2 1.5M195.2 264.3l-0.2 1.5M206.1 262.0l-0.1 1.5M219.2 265.2l0.1 1.5M224.6 264.3l-0.2 1.5M230.9 264.3l0.2 1.5M237.0 262.1l-0.2 1.5M242.9 262.6l-0.0 1.5M256.1 264.5l-0.0 1.5M260.8 265.0l0.1 1.5M273.1 264.9l-0.2 1.5M280.1 264.9l0.0 1.5M287.0 264.6l-0.1 1.5M310.6 262.9l-0.1 1.5M322.6 263.1l-0.1 1.5M130.7 268.9l-0.2 1.5M137.9 268.5l-0.1 1.5M149.9 270.2l-0.1 1.5M161.9 269.0l-0.1 1.5M172.9 270.8l0.0 1.5M179.2 269.9l-0.1 1.5M192.1 270.0l0.1 1.5M198.5 270.8l-0.0 1.5M202.2 271.1l-0.1 1.5M222.2 271.7l0.1 1.5M227.7 271.3l-0.1 1.5M238.8 269.8l0.1 1.5M252.5 270.5l0.1 1.5M268.4 269.2l-0.1 1.5M276.5 271.5l-0.0 1.5M282.8 269.2l-0.2 1.5M292.6 271.3l0.1 1.5M311.6 270.0l-0.1 1.5M85.3 276.2l-0.2 1.5M97.5 276.7l-0.2 1.5M132.7 277.2l0.2 1.5M187.1 275.5l0.2 1.5M194.6 278.0l-0.1 1.5M200.7 278.5l0.1 1.5M212.5 278.1l0.0 1.5M234.7 277.8l0.1 1.5M246.6 277.8l-0.1 1.5M252.8 278.1l-0.0 1.5M270.6 278.1l0.1 1.5M276.6 276.0l-0.1 1.5M312.5 277.0l-0.0 1.5M81.9 283.6l0.2 1.5M100.6 282.6l0.0 1.5M106.4 283.3l0.1 1.5M130.0 282.5l-0.1 1.5M137.7 284.3l0.2 1.5M149.2 284.8l0.1 1.5M177.9 282.7l-0.1 1.5M190.7 283.3l-0.1 1.5M201.0 282.9l-0.1 1.5M208.5 283.4l0.1 1.5M220.2 284.7l0.1 1.5M226.7 284.5l-0.0 1.5M237.7 284.5l0.1 1.5M243.5 282.1l-0.2 1.5M255.5 284.9l-0.0 1.5M316.7 284.0l-0.0 1.5M92.3 292.1l0.1 1.5M120.1 291.3l0.2 1.5M157.1 290.2l-0.1 1.5M174.0 290.9l0.1 1.5M180.1 289.1l0.1 1.5M227.9 290.2l-0.1 1.5M287.3 290.1l0.1 1.5M317.5 291.0l-0.0 1.5M158.3 297.9l-0.1 1.5M171.8 296.2l-0.1 1.5M178.1 298.5l0.2 1.5M189.8 298.5l-0.1 1.5M194.0 296.1l-0.0 1.5M201.5 296.0l0.0 1.5M236.0 295.4l0.2 1.5M253.9 297.4l0.1 1.5M283.4 298.7l-0.1 1.5M295.2 295.4l-0.0 1.5M319.1 295.7l0.2 1.5" stroke="#d8d8d8" stroke-width="4.1" stroke-linecap="round" fill="none"/>
<path d="M80.4 305.4l0.1 1.5M90.9 304.2l0.1 1.5M114.9 302.8l-0.2 1.5M126.6 303.0l-0.1 1.5M132.8 304.9l0.1 1.5M144.1 303.3l0.0 1.5M157.1 303.9l-0.1 1.5M162.3 303.2l0.1 1.5M167.0 303.6l-0.1 1.5M178.8 304.1l-0.2 1.5M191.4 303.3l0.0 1.5M243.5 304.3l-0.2 1.5M249.9 303.2l-0.1 1.5M273.0 302.1l0.1 1.5M285.0 303.1l0.0 1.5M291.6 304.4l0.2 1.5M308.5 302.5l0.1 1.5M320.3 302.7l0.0 1.5M94.7 309.1l0.1 1.5M106.4 311.0l0.2 1.5M129.6 312.1l0.1 1.5M211.1 310.2l-0.2 1.5M217.3 309.1l0.1 1.5M222.2 311.2l0.0 1.5M234.2 308.9l-0.0 1.5M264.9 311.7l-0.1 1.5M276.1 308.9l-0.1 1.5M309.8 310.5l0.1 1.5M91.7 319.0l0.2 1.5M109.7 318.5l-0.1 1.5M150.5 316.6l0.2 1.5M172.5 318.1l-0.0 1.5M190.2 318.4l0.0 1.5M208.4 316.5l0.1 1.5M213.1 317.4l0.1 1.5M224.0 316.8l-0.2 1.5M236.9 317.7l-0.0 1.5M242.0 318.1l-0.1 1.5M260.0 316.9l-0.2 1.5M289.6 315.8l-0.0 1.5M299.7 318.6l0.2 1.5M87.4 323.3l-0.1 1.5M101.1 325.3l-0.2 1.5M106.5 323.6l0.1 1.5M122.1 325.5l-0.0 1.5M129.8 323.9l0.1 1.5M135.5 325.5l0.0 1.5M146.0 322.7l-0.1 1.5M170.6 324.6l0.0 1.5M187.6 324.5l-0.1 1.5M193.8 324.6l0.1 1.5M203.1 325.8l-0.2 1.5M249.9 324.8l-0.1 1.5M255.0 322.7l-0.1 1.5M268.2 323.8l-0.2 1.5M307.7 324.6l-0.1 1.5M313.7 323.2l0.1 1.5M118.8 332.4l-0.0 1.5M138.4 329.6l-0.0 1.5M148.4 331.0l-0.1 1.5M171.0 330.7l-0.1 1.5M177.4 329.6l0.1 1.5M188.7 330.3l0.1 1.5M212.8 329.4l-0.1 1.5M217.4 331.6l0.1 1.5M223.7 332.5l0.0 1.5M274.6 331.8l0.0 1.5M286.1 329.3l0.2 1.5M293.6 330.5l0.1 1.5M297.8 331.5l-0.1 1.5M305.3 329.8l0.0 1.5M309.3 329.8l-0.2 1.5M87.6 336.2l-0.2 1.5M110.4 338.6l-0.1 1.5M123.2 339.5l-0.0 1.5M158.1 338.5l-0.0 1.5M168.3 337.3l0.2 1.5M174.3 338.1l0.1 1.5M203.8 339.5l-0.1 1.5M214.6 337.9l-0.1 1.5M226.6 338.5l0.1 1.5M266.5 338.3l-0.1 1.5M295.1 339.1l-0.0 1.5M312.0 336.7l-0.1 1.5M317.8 337.1l0.2 1.5M149.2 345.0l0.1 1.5M170.0 346.2l0.0 1.5M175.8 345.4l-0.0 1.5M182.7 342.9l-0.1 1.5M189.0 344.8l0.0 1.5M194.7 343.7l0.1 1.5M245.9 345.5l0.1 1.5M296.3 344.9l0.1 1.5M308.5 343.5l0.1 1.5M88.3 351.7l-0.1 1.5M100.0 351.2l-0.1 1.5M122.7 352.2l-0.2 1.5M185.4 350.4l-0.2 1.5M196.1 351.9l-0.2 1.5M224.2 352.8l-0.1 1.5M230.6 350.7l0.2 1.5M234.3 353.2l-0.1 1.5M246.3 351.0l0.2 1.5M253.8 352.9l-0.1 1.5M298.0 352.2l-0.1 1.5M315.2 349.9l0.2 1.5M85.6 359.5l-0.0 1.5M92.2 360.0l-0.0 1.5M108.0 358.9l0.1 1.5M119.7 356.9l-0.2 1.5M131.7 359.8l0.0 1.5M147.4 358.4l-0.0 1.5M157.9 358.2l-0.1 1.5M170.7 357.8l-0.1 1.5M181.8 359.8l0.0 1.5M198.5 358.2l0.0 1.5M219.7 358.1l0.1 1.5M227.4 358.3l-0.1 1.5M236.3 357.4l0.0 1.5M248.3 359.3l0.1 1.5M287.5 359.2l0.0 1.5M293.1 360.1l-0.1 1.5M299.0 357.3l0.0 1.5M316.4 357.3l-0.1 1.5M88.3 366.3l-0.1 1.5M99.7 363.9l-0.0 1.5M126.3 365.2l0.1 1.5M134.2 365.3l0.1 1.5M172.7 366.5l-0.1 1.5M178.5 364.0l-0.1 1.5M228.9 366.4l-0.0 1.5M239.1 366.0l0.1 1.5M288.6 364.4l-0.1 1.5M302.0 364.7l0.1 1.5M80.2 373.0l0.1 1.5M91.5 370.8l-0.1 1.5M158.6 371.8l0.1 1.5M169.3 371.5l0.2 1.5M173.3 372.7l0.2 1.5M179.2 371.6l-0.1 1.5M184.7 371.7l-0.1 1.5M236.1 370.4l-0.2 1.5M246.7 373.7l0.1 1.5M270.0 373.9l0.2 1.5M275.9 371.3l-0.0 1.5M286.2 372.9l0.2 1.5M292.4 372.8l-0.2 1.5M312.6 373.2l0.2 1.5M319.6 371.9l-0.1 1.5M83.8 377.9l-0.1 1.5M94.2 380.3l0.0 1.5M98.6 380.5l-0.1 1.5M103.9 378.2l-0.1 1.5M110.1 378.7l-0.0 1.5M116.2 380.0l-0.1 1.5M142.9 379.1l0.0 1.5M153.3 379.3l0.2 1.5M159.5 380.2l0.2 1.5M166.8 380.4l0.2 1.5M183.2 378.2l0.1 1.5M198.2 377.6l-0.0 1.5M221.8 378.1l-0.2 1.5M237.1 379.4l-0.0 1.5M266.6 380.3l-0.2 1.5M96.4 385.5l0.1 1.5M113.0 387.0l-0.1 1.5M139.7 387.4l-0.2 1.5M174.5 385.3l-0.1 1.5M200.9 385.1l0.2 1.5M217.9 387.6l-0.0 1.5M223.2 384.7l-0.1 1.5M228.8 385.5l0.0 1.5M250.3 386.8l0.1 1.5M267.1 385.7l-0.1 1.5M294.1 386.8l-0.2 1.5M300.9 386.6l-0.0 1.5M310.1 384.5l0.1 1.5M323.0 386.8l-0.2 1.5M81.7 393.5l0.1 1.5M103.6 392.2l-0.1 1.5M142.1 393.7l-0.0 1.5M148.4 391.9l-0.1 1.5M159.5 392.0l0.0 1.5M169.6 391.9l0.0 1.5M174.3 392.3l0.0 1.5M187.5 391.6l-0.0 1.5M207.6 392.8l-0.1 1.5M213.5 393.9l-0.1 1.5M241.5 392.1l0.1 1.5M252.2 394.3l-0.0 1.5M269.9 393.2l0.1 1.5M284.0 394.5l-0.1 1.5M306.9 391.9l0.1 1.5M317.5 394.3l-0.2 1.5M80.0 401.5l-0.1 1.5M85.8 400.3l-0.0 1.5M89.8 400.9l0.2 1.5M106.5 400.3l-0.1 1.5M117.0 401.1l-0.1 1.5M122.5 401.2l-0.2 1.5M133.7 400.1l0.0 1.5M156.3 399.3l-0.1 1.5M172.6 399.0l0.0 1.5M188.4 399.8l-0.2 1.5M205.2 400.7l0.1 1.5M221.4 398.6l0.1 1.5M282.2 401.5l0.0 1.5M297.8 398.4l0.0 1.5M308.7 398.4l0.2 1.5M121.5 407.1l0.1 1.5M124.9 406.7l0.1 1.5M146.6 406.6l-0.1 1.5M173.5 405.1l0.1 1.5M184.5 407.1l-0.1 1.5M202.2 407.9l-0.2 1.5M262.4 408.0l-0.1 1.5M272.3 407.3l-0.0 1.5M292.7 407.3l0.1 1.5M297.9 406.8l-0.1 1.5M310.7 407.1l0.1 1.5M321.4 406.0l0.1 1.5" stroke="#bebebe" stroke-width="3.2" stroke-linecap="round" fill="none"/>
<path d="M85.3 304.3l0.1 1.5M103.9 303.6l-0.1 1.5M109.3 302.5l0.1 1.5M120.9 303.2l0.0 1.5M139.7 305.1l-0.1 1.5M174.5 302.2l-0.0 1.5M186.0 305.3l0.0 1.5M198.1 302.3l-0.1 1.5M204.4 304.1l0.1 1.5M222.0 304.2l-0.1 1.5M225.6 304.5l0.1 1.5M255.1 302.2l0.0 1.5M298.5 305.0l0.0 1.5M304.0 304.9l0.2 1.5M100.2 312.2l0.2 1.5M140.0 311.7l0.0 1.5M146.7 310.8l-0.1 1.5M153.2 311.0l-0.1 1.5M158.9 312.0l-0.2 1.5M165.4 309.7l0.0 1.5M171.1 310.5l0.0 1.5M193.6 308.9l0.1 1.5M204.3 311.4l-0.1 1.5M270.5 312.3l-0.1 1.5M287.4 310.9l-0.2 1.5M292.7 311.5l0.2 1.5M299.6 310.7l0.0 1.5M315.4 310.9l0.1 1.5M79.4 315.6l0.1 1.5M84.5 316.8l0.2 1.5M97.1 319.0l-0.1 1.5M103.8 316.5l-0.1 1.5M114.1 317.0l-0.2 1.5M120.7 316.3l0.1 1.5M131.4 316.1l0.1 1.5M137.1 319.0l-0.1 1.5M155.5 318.6l-0.0 1.5M161.6 316.8l0.1 1.5M201.5 316.3l0.2 1.5M249.7 315.7l-0.2 1.5M282.2 317.2l-0.0 1.5M318.5 318.7l0.2 1.5M110.3 322.6l-0.1 1.5M117.7 322.5l0.1 1.5M164.4 324.4l0.2 1.5M181.9 323.8l0.0 1.5M198.2 324.3l0.1 1.5M210.2 325.0l-0.2 1.5M220.3 323.2l-0.0 1.5M237.8 324.1l0.1 1.5M245.7 324.1l0.0 1.5M278.3 323.8l-0.2 1.5M284.0 325.2l-0.1 1.5M320.2 322.7l0.0 1.5M78.6 332.0l-0.0 1.5M85.7 331.3l0.0 1.5M103.0 332.6l-0.1 1.5M114.2 330.7l-0.0 1.5M131.5 331.9l0.1 1.5M160.1 330.3l-0.1 1.5M166.6 331.7l0.0 1.5M183.7 330.5l0.0 1.5M206.5 331.9l-0.0 1.5M234.6 329.7l0.1 1.5M257.7 329.6l0.2 1.5M315.6 329.3l-0.0 1.5M83.5 339.2l0.2 1.5M94.1 338.2l0.1 1.5M100.4 339.0l-0.1 1.5M106.3 339.1l0.1 1.5M144.9 337.5l-0.1 1.5M179.7 339.1l0.1 1.5M185.4 337.7l0.0 1.5M192.0 337.6l-0.1 1.5M236.9 338.9l-0.2 1.5M244.1 336.3l-0.0 1.5M249.0 337.3l0.0 1.5M253.4 338.1l0.1 1.5M271.1 337.8l0.2 1.5M277.6 337.9l-0.2 1.5M282.3 339.0l0.1 1.5M288.8 336.1l0.2 1.5M81.0 345.8l0.0 1.5M84.4 346.1l0.2 1.5M92.1 346.3l0.1 1.5M97.5 344.7l-0.0 1.5M101.8 343.1l0.1 1.5M108.0 343.6l-0.2 1.5M113.5 345.3l0.0 1.5M124.6 344.0l-0.2 1.5M136.6 343.6l0.2 1.5M142.6 343.1l-0.1 1.5M154.8 343.4l0.1 1.5M159.5 344.2l0.2 1.5M165.2 344.4l0.1 1.5M210.8 344.4l-0.1 1.5M229.0 343.7l-0.1 1.5M239.2 346.2l0.1 1.5M250.2 344.4l-0.0 1.5M261.5 345.7l0.1 1.5M273.3 343.9l0.2 1.5M277.7 344.4l0.1 1.5M291.5 346.1l0.1 1.5M319.3 345.5l0.0 1.5M94.5 350.4l-0.1 1.5M127.9 352.7l-0.0 1.5M132.4 351.5l-0.0 1.5M145.1 353.1l0.0 1.5M155.3 351.0l0.1 1.5M161.4 351.2l0.1 1.5M168.2 351.1l-0.2 1.5M189.1 352.2l-0.0 1.5M213.7 350.8l-0.2 1.5M241.7 352.4l-0.1 1.5M259.1 352.0l-0.0 1.5M264.2 352.8l-0.1 1.5M279.8 352.2l-0.0 1.5M292.6 350.5l-0.2 1.5M97.1 360.1l0.1 1.5M136.1 359.3l-0.2 1.5M141.0 359.9l-0.2 1.5M153.9 356.7l0.1 1.5M165.5 358.6l0.1 1.5M186.1 357.6l0.1 1.5M193.2 357.7l-0.2 1.5M215.4 358.1l0.1 1.5M232.6 359.0l0.0 1.5M244.1 360.0l-0.1 1.5M255.4 357.6l-0.1 1.5M264.9 358.5l0.2 1.5M271.5 359.1l0.1 1.5M282.2 356.8l0.0 1.5M305.8 357.3l0.2 1.5M310.8 357.1l0.1 1.5M81.6 366.8l0.1 1.5M94.4 365.2l0.2 1.5M110.1 366.1l-0.1 1.5M138.8 364.0l-0.1 1.5M154.6 365.9l0.1 1.5M161.3 364.7l-0.0 1.5M166.8 364.2l-0.1 1.5M184.6 364.0l0.2 1.5M188.7 366.7l0.1 1.5M193.7 366.4l-0.1 1.5M200.7 364.0l0.1 1.5M206.3 363.8l-0.1 1.5M210.9 364.8l0.1 1.5M217.4 364.2l0.0 1.5M233.3 366.4l0.1 1.5M244.3 366.3l0.1 1.5M255.6 365.3l-0.1 1.5M262.6 364.3l0.1 1.5M277.6 363.9l-0.0 1.5M283.0 364.7l0.0 1.5M317.5 363.7l0.1 1.5M97.2 372.3l0.0 1.5M106.4 373.6l0.0 1.5M112.7 372.6l0.0 1.5M119.8 371.5l0.0 1.5M124.6 371.8l0.2 1.5M139.8 373.7l-0.1 1.5M190.3 373.9l-0.0 1.5M207.6 371.7l0.2 1.5M213.3 370.5l-0.1 1.5M225.3 373.7l-0.1 1.5M258.4 371.0l-0.2 1.5M308.8 372.7l0.0 1.5M89.3 377.4l-0.2 1.5M125.9 378.9l0.2 1.5M132.8 378.8l-0.0 1.5M170.9 378.3l0.2 1.5M203.5 380.6l-0.2 1.5M225.3 379.3l0.1 1.5M244.4 377.7l-0.0 1.5M248.3 378.4l0.1 1.5M254.0 377.9l0.2 1.5M271.1 379.6l-0.0 1.5M281.9 379.4l-0.1 1.5M288.6 379.4l-0.1 1.5M293.2 378.1l0.1 1.5M297.9 380.5l0.0 1.5M310.8 379.2l-0.2 1.5M321.4 378.5l0.1 1.5M79.7 385.9l0.2 1.5M84.6 385.3l-0.1 1.5M130.0 385.2l-0.0 1.5M146.5 384.9l-0.1 1.5M162.8 384.4l-0.2 1.5M179.6 387.2l-0.0 1.5M183.5 387.4l-0.1 1.5M205.6 386.8l-0.1 1.5M211.7 385.4l-0.1 1.5M244.9 385.9l-0.0 1.5M289.2 385.6l-0.1 1.5M98.6 392.6l0.0 1.5M120.1 391.2l0.1 1.5M154.3 393.0l-0.1 1.5M165.5 391.1l-0.1 1.5M180.5 392.6l0.1 1.5M198.4 392.1l-0.2 1.5M218.3 394.2l-0.1 1.5M224.6 392.5l-0.1 1.5M229.2 393.5l-0.0 1.5M236.4 393.9l0.1 1.5M247.6 393.1l0.2 1.5M295.9 391.1l0.0 1.5M301.9 393.8l-0.2 1.5M96.3 398.5l-0.0 1.5M101.2 398.8l0.2 1.5M111.4 400.3l0.1 1.5M139.7 401.0l-0.1 1.5M145.6 400.8l-0.1 1.5M149.5 401.4l0.1 1.5M165.8 398.9l-0.2 1.5M184.3 399.7l-0.2 1.5M193.0 400.6l0.1 1.5M215.3 399.5l-0.0 1.5M248.7 400.6l0.1 1.5M259.5 399.2l0.2 1.5M274.7 399.7l-0.1 1.5M302.4 401.0l0.0 1.5M313.5 400.0l-0.1 1.5M92.7 406.2l-0.1 1.5M103.5 407.0l0.2 1.5M110.0 408.6l0.1 1.5M169.9 406.3l-0.1 1.5M191.7 406.5l-0.2 1.5M196.8 406.2l-0.1 1.5M208.2 405.0l-0.1 1.5M213.2 405.7l-0.1 1.5M216.9 406.4l-0.1 1.5M240.5 405.6l-0.0 1.5M250.4 408.1l-0.2 1.5M266.1 407.3l-0.0 1.5M284.1 408.4l0.2 1.5M304.6 407.4l-0.0 1.5M315.3 407.5l0.1 1.5" stroke="#cbcbcb" stroke-width="3.2" stroke-linecap="round" fill="none"/>
<path d="M97.3 304.6l-0.1 1.5M150.2 303.6l-0.1 1.5M209.4 303.2l0.0 1.5M214.7 303.9l-0.1 1.5M232.2 302.9l-0.0 1.5M237.5 304.9l0.1 1.5M262.8 303.3l0.2 1.5M267.6 302.1l0.2 1.5M280.2 305.5l0.1 1.5M314.9 304.6l0.1 1.5M83.6 310.5l-0.1 1.5M87.6 310.0l-0.2 1.5M113.2 312.1l0.1 1.5M118.8 309.8l-0.1 1.5M122.7 310.5l-0.0 1.5M136.1 311.2l0.0 1.5M176.3 311.3l-0.0 1.5M181.0 308.8l0.0 1.5M188.8 308.9l0.1 1.5M199.2 309.4l-0.1 1.5M229.7 311.4l-0.1 1.5M240.4 311.4l-0.0 1.5M246.3 311.4l0.1 1.5M253.3 308.9l0.2 1.5M257.5 310.2l-0.1 1.5M282.1 311.0l0.1 1.5M303.6 311.6l-0.1 1.5M127.3 317.8l-0.1 1.5M142.9 318.8l0.1 1.5M166.7 317.0l0.1 1.5M178.1 318.0l-0.2 1.5M183.3 317.1l0.1 1.5M194.8 316.2l0.2 1.5M219.2 316.7l0.0 1.5M230.6 317.3l0.1 1.5M254.8 318.8l-0.1 1.5M265.6 317.3l-0.0 1.5M272.1 315.6l0.2 1.5M276.3 318.7l0.1 1.5M293.9 316.6l0.1 1.5M305.7 315.6l0.2 1.5M311.6 316.9l-0.1 1.5M82.9 323.8l-0.1 1.5M93.1 322.9l0.2 1.5M141.5 323.4l-0.1 1.5M152.2 325.0l-0.0 1.5M156.6 324.9l-0.0 1.5M174.2 325.1l0.1 1.5M216.4 324.4l0.2 1.5M226.7 323.2l0.0 1.5M232.8 323.7l0.1 1.5M261.0 322.7l-0.2 1.5M274.8 323.5l0.0 1.5M289.8 324.5l-0.0 1.5M296.3 325.7l-0.0 1.5M303.5 324.8l-0.1 1.5M92.0 330.9l-0.0 1.5M98.1 331.5l-0.1 1.5M108.1 332.6l0.1 1.5M126.3 329.9l0.1 1.5M143.0 329.8l0.0 1.5M154.6 330.2l-0.2 1.5M195.2 330.0l-0.1 1.5M200.8 331.7l0.2 1.5M230.4 329.9l0.2 1.5M240.9 329.5l-0.0 1.5M245.6 329.7l-0.1 1.5M252.8 329.8l-0.1 1.5M263.0 330.1l-0.1 1.5M270.5 331.9l0.1 1.5M282.0 332.0l0.2 1.5M321.4 331.2l0.2 1.5M118.3 338.0l-0.0 1.5M128.7 338.2l-0.1 1.5M132.9 338.1l0.1 1.5M140.8 339.4l-0.1 1.5M151.6 338.8l-0.1 1.5M161.7 338.9l-0.1 1.5M196.9 336.2l0.1 1.5M209.0 336.0l0.0 1.5M218.8 339.2l0.2 1.5M231.8 338.0l0.0 1.5M259.1 337.4l-0.0 1.5M299.4 336.9l0.2 1.5M304.8 339.1l-0.1 1.5M118.6 344.2l-0.0 1.5M132.0 343.1l0.1 1.5M200.6 343.1l0.1 1.5M205.2 346.3l0.0 1.5M215.3 343.9l-0.2 1.5M221.4 346.3l-0.1 1.5M232.5 343.0l-0.0 1.5M255.1 345.0l0.0 1.5M266.9 345.5l-0.1 1.5M283.5 343.0l-0.0 1.5M301.4 345.5l-0.2 1.5M312.2 344.3l0.1 1.5M83.3 352.9l-0.0 1.5M105.0 350.0l0.1 1.5M111.9 352.3l-0.0 1.5M117.1 350.7l0.2 1.5M139.8 352.4l-0.1 1.5M151.5 353.0l0.2 1.5M173.2 351.5l-0.1 1.5M179.4 351.5l-0.1 1.5M200.9 349.7l-0.2 1.5M208.3 349.7l0.1 1.5M218.5 351.6l-0.2 1.5M269.1 350.5l-0.1 1.5M273.9 352.3l0.1 1.5M287.2 352.0l0.0 1.5M304.0 350.5l-0.2 1.5M308.4 352.5l0.2 1.5M321.2 351.3l0.1 1.5M79.9 359.2l0.2 1.5M102.9 359.2l0.1 1.5M114.6 357.2l0.1 1.5M123.7 358.4l-0.1 1.5M176.3 359.6l0.1 1.5M203.8 358.9l-0.0 1.5M210.4 358.0l-0.2 1.5M260.4 360.0l0.1 1.5M276.8 358.8l-0.2 1.5M322.1 357.1l0.1 1.5M106.2 364.2l-0.2 1.5M117.1 364.5l0.2 1.5M121.7 366.3l0.1 1.5M145.2 364.0l0.2 1.5M150.2 364.8l-0.1 1.5M222.8 363.6l0.1 1.5M251.6 365.0l-0.0 1.5M267.0 364.7l-0.1 1.5M272.8 366.9l-0.2 1.5M294.8 366.0l0.1 1.5M305.3 366.3l0.1 1.5M312.8 365.4l-0.1 1.5M85.4 372.6l-0.1 1.5M100.9 372.9l0.1 1.5M130.2 373.7l0.2 1.5M134.8 370.8l-0.1 1.5M147.5 370.9l0.0 1.5M152.2 373.2l0.2 1.5M162.7 370.8l-0.1 1.5M196.2 373.5l-0.2 1.5M201.8 372.9l-0.0 1.5M219.7 372.9l-0.2 1.5M229.3 372.0l0.1 1.5M240.0 373.0l0.1 1.5M253.3 373.6l-0.1 1.5M262.8 371.7l-0.0 1.5M281.0 373.7l0.1 1.5M296.7 372.9l0.0 1.5M302.5 373.5l-0.1 1.5M121.0 379.4l-0.2 1.5M139.1 378.8l-0.2 1.5M148.9 380.5l-0.1 1.5M176.6 379.0l-0.1 1.5M187.2 380.4l0.1 1.5M193.3 378.8l-0.2 1.5M210.2 379.7l0.1 1.5M214.4 380.4l-0.1 1.5M233.0 380.1l-0.1 1.5M258.8 377.9l0.1 1.5M275.6 379.0l0.1 1.5M305.2 379.0l0.0 1.5M314.5 379.0l0.0 1.5M90.2 385.3l-0.1 1.5M102.4 386.7l-0.1 1.5M106.8 385.2l-0.1 1.5M117.8 384.3l-0.1 1.5M124.1 386.1l0.1 1.5M135.2 386.8l-0.1 1.5M151.4 386.8l-0.1 1.5M156.9 387.4l-0.2 1.5M168.6 385.6l0.1 1.5M190.4 385.5l-0.2 1.5M195.2 385.2l0.1 1.5M234.9 387.1l-0.1 1.5M239.7 387.7l-0.1 1.5M255.3 385.4l-0.1 1.5M262.0 386.5l0.2 1.5M271.8 384.5l-0.2 1.5M277.6 387.7l0.2 1.5M284.1 385.4l0.1 1.5M306.4 384.9l-0.0 1.5M316.8 385.4l0.1 1.5M89.0 394.1l0.2 1.5M93.8 392.5l0.1 1.5M109.1 393.3l-0.0 1.5M116.3 393.4l-0.1 1.5M127.6 393.8l0.0 1.5M132.3 391.5l0.1 1.5M137.1 391.3l-0.0 1.5M192.2 392.5l-0.1 1.5M203.6 393.7l-0.0 1.5M258.2 393.4l0.2 1.5M262.4 392.7l0.1 1.5M275.1 392.4l-0.0 1.5M279.9 391.6l-0.1 1.5M291.0 392.9l0.2 1.5M313.2 393.0l-0.1 1.5M128.2 398.2l0.1 1.5M161.1 398.1l-0.1 1.5M177.0 399.7l-0.2 1.5M199.8 399.0l0.1 1.5M211.0 398.8l-0.0 1.5M226.7 398.8l-0.2 1.5M233.4 399.3l-0.1 1.5M237.1 400.4l-0.2 1.5M243.3 400.4l-0.0 1.5M252.7 398.9l0.1 1.5M266.0 400.4l0.2 1.5M271.5 401.1l-0.1 1.5M286.7 398.3l-0.1 1.5M292.5 400.2l0.1 1.5M319.3 401.6l0.1 1.5M83.4 407.6l-0.2 1.5M87.6 407.4l-0.2 1.5M99.1 405.8l-0.1 1.5M115.1 406.8l0.1 1.5M132.2 406.8l0.2 1.5M137.5 406.8l0.2 1.5M141.8 407.3l0.0 1.5M153.6 408.6l-0.2 1.5M157.1 406.1l-0.1 1.5M164.9 405.3l0.1 1.5M179.5 407.8l0.1 1.5M222.1 406.6l-0.0 1.5M229.4 407.1l-0.1 1.5M234.5 407.9l0.1 1.5M245.7 407.2l0.1 1.5M255.0 408.2l-0.1 1.5M276.8 406.3l-0.2 1.5M287.6 408.6l-0.1 1.5" stroke="#d8d8d8" stroke-width="3.2" stroke-linecap="round" fill="none"/>
<rect x="219.9" y="231.6" width="99.3" height="96.3" fill="#cdcdcd"/>
<rect x="219.9" y="231.6" width="99.3" height="8" fill="#d8d8d8"/>
<path d="M220.3 242.0 L221.1 322 L228.5 322 L227.7 242.0 A3.7 3.7 0 0 0 220.3 242.0 Z" fill="#6e6e6e"/>
<ellipse cx="224.3" cy="260.9" rx="2.6" ry="3.5" fill="#4e4e4e" opacity="0.6"/>
<ellipse cx="223.6" cy="258.5" rx="2.6" ry="3.5" fill="#4e4e4e" opacity="0.6"/>
<ellipse cx="223.6" cy="277.9" rx="2.6" ry="3.5" fill="#4e4e4e" opacity="0.6"/>
<ellipse cx="223.8" cy="297.6" rx="2.6" ry="3.5" fill="#4e4e4e" opacity="0.6"/>
<ellipse cx="224.4" cy="252.1" rx="2.6" ry="3.5" fill="#4e4e4e" opacity="0.6"/>
<ellipse cx="225.2" cy="266.5" rx="2.6" ry="3.5" fill="#4e4e4e" opacity="0.6"/>
<path d="M236.8 241.0 L233.8 322 L241.2 322 L244.2 241.0 A3.7 3.7 0 0 0 236.8 241.0 Z" fill="#6e6e6e"/>
<ellipse cx="238.6" cy="289.0" rx="2.6" ry="3.5" fill="#4e4e4e" opacity="0.6"/>
<ellipse cx="238.7" cy="302.9" rx="2.6" ry="3.5" fill="#4e4e4e" opacity="0.6"/>
<ellipse cx="240.5" cy="255.9" rx="2.6" ry="3.5" fill="#4e4e4e" opacity="0.6"/>
<ellipse cx="237.4" cy="306.2" rx="2.6" ry="3.5" fill="#4e4e4e" opacity="0.6"/>
<ellipse cx="240.0" cy="252.7" rx="2.6" ry="3.5" fill="#4e4e4e" opacity="0.6"/>
<ellipse cx="239.1" cy="264.6" rx="2.6" ry="3.5" fill="#4e4e4e" opacity="0.6"/>
<path d="M252.3 244.0 L250.8 322 L258.2 322 L259.7 244.0 A3.7 3.7 0 0 0 252.3 244.0 Z" fill="#6e6e6e"/>
<ellipse cx="254.5" cy="309.1" rx="2.6" ry="3.5" fill="#4e4e4e" opacity="0.6"/>
<ellipse cx="255.0" cy="278.3" rx="2.6" ry="3.5" fill="#4e4e4e" opacity="0.6"/>
<ellipse cx="255.1" cy="276.5" rx="2.6" ry="3.5" fill="#4e4e4e" opacity="0.6"/>
<ellipse cx="254.5" cy="305.7" rx="2.6" ry="3.5" fill="#4e4e4e" opacity="0.6"/>
<ellipse cx="256.5" cy="269.4" rx="2.6" ry="3.5" fill="#4e4e4e" opacity="0.6"/>
<ellipse cx="255.0" cy="300.6" rx="2.6" ry="3.5" fill="#4e4e4e" opacity="0.6"/>
<path d="M269.3 240.0 L268.8 322 L276.2 322 L276.7 240.0 A3.7 3.7 0 0 0 269.3 240.0 Z" fill="#6e6e6e"/>
<ellipse cx="273.8" cy="252.8" rx="2.6" ry="3.5" fill="#4e4e4e" opacity="0.6"/>
<ellipse cx="272.5" cy="263.6" rx="2.6" ry="3.5" fill="#4e4e4e" opacity="0.6"/>
<ellipse cx="271.9" cy="280.2" rx="2.6" ry="3.5" fill="#4e4e4e" opacity="0.6"/>
<ellipse cx="272.9" cy="291.2" rx="2.6" ry="3.5" fill="#4e4e4e" opacity="0.6"/>
<ellipse cx="272.0" cy="312.1" rx="2.6" ry="3.5" fill="#4e4e4e" opacity="0.6"/>
<ellipse cx="273.7" cy="267.8" rx="2.6" ry="3.5" fill="#4e4e4e" opacity="0.6"/>
<path d="M288.3 244.0 L286.3 322 L293.7 322 L295.7 244.0 A3.7 3.7 0 0 0 288.3 244.0 Z" fill="#6e6e6e"/>
<ellipse cx="291.3" cy="266.5" rx="2.6" ry="3.5" fill="#4e4e4e" opacity="0.6"/>
<ellipse cx="290.7" cy="300.5" rx="2.6" ry="3.5" fill="#4e4e4e" opacity="0.6"/>
<ellipse cx="290.5" cy="288.2" rx="2.6" ry="3.5" fill="#4e4e4e" opacity="0.6"/>
<ellipse cx="290.9" cy="262.1" rx="2.6" ry="3.5" fill="#4e4e4e" opacity="0.6"/>
<ellipse cx="291.2" cy="266.8" rx="2.6" ry="3.5" fill="#4e4e4e" opacity="0.6"/>
<ellipse cx="291.5" cy="277.4" rx="2.6" ry="3.5" fill="#4e4e4e" opacity="0.6"/>
<path d="M297.8 243.0 L295.8 322 L303.2 322 L305.2 243.0 A3.7 3.7 0 0 0 297.8 243.0 Z" fill="#6e6e6e"/>
<ellipse cx="300.7" cy="265.6" rx="2.6" ry="3.5" fill="#4e4e4e" opacity="0.6"/>
<ellipse cx="299.3" cy="315.7" rx="2.6" ry="3.5" fill="#4e4e4e" opacity="0.6"/>
<ellipse cx="301.0" cy="284.8" rx="2.6" ry="3.5" fill="#4e4e4e" opacity="0.6"/>
<ellipse cx="301.7" cy="259.4" rx="2.6" ry="3.5" fill="#4e4e4e" opacity="0.6"/>
<ellipse cx="299.4" cy="315.5" rx="2.6" ry="3.5" fill="#4e4e4e" opacity="0.6"/>
<ellipse cx="298.8" cy="312.6" rx="2.6" ry="3.5" fill="#4e4e4e" opacity="0.6"/>
<path d="M306.8 243.0 L303.8 322 L311.2 322 L314.2 243.0 A3.7 3.7 0 0 0 306.8 243.0 Z" fill="#6e6e6e"/>
<ellipse cx="308.5" cy="280.5" rx="2.6" ry="3.5" fill="#4e4e4e" opacity="0.6"/>
<ellipse cx="307.7" cy="297.9" rx="2.6" ry="3.5" fill="#4e4e4e" opacity="0.6"/>
<ellipse cx="309.1" cy="269.2" rx="2.6" ry="3.5" fill="#4e4e4e" opacity="0.6"/>
<ellipse cx="308.6" cy="287.3" rx="2.6" ry="3.5" fill="#4e4e4e" opacity="0.6"/>
<ellipse cx="308.1" cy="299.1" rx="2.6" ry="3.5" fill="#4e4e4e" opacity="0.6"/>
<ellipse cx="309.7" cy="289.1" rx="2.6" ry="3.5" fill="#4e4e4e" opacity="0.6"/>
<rect x="219.9" y="315.5" width="99.3" height="11" fill="#1e1e1e"/>
<ellipse cx="224.8" cy="315.5" rx="6.5" ry="4" fill="#1e1e1e"/>
<ellipse cx="237.5" cy="315.5" rx="6.5" ry="4" fill="#1e1e1e"/>
<ellipse cx="255.5" cy="315.5" rx="6.5" ry="4" fill="#1e1e1e"/>
<ellipse cx="272.5" cy="315.5" rx="6.5" ry="4" fill="#1e1e1e"/>
<ellipse cx="290.0" cy="315.5" rx="6.5" ry="4" fill="#1e1e1e"/>
<ellipse cx="299.5" cy="315.5" rx="6.5" ry="4" fill="#1e1e1e"/>
<ellipse cx="307.5" cy="315.5" rx="6.5" ry="4" fill="#1e1e1e"/>
<rect x="219.9" y="326.5" width="99.3" height="2.4" fill="#8a8a8a"/>
<rect x="315.7" y="258.3" width="2.8" height="24.5" fill="#111"/>
<defs><linearGradient id="gPhoto" x1="0" y1="0" x2="0" y2="1">
<stop offset="0" stop-color="#8e8e8c"/><stop offset="0.3" stop-color="#787876"/><stop offset="0.5" stop-color="#5e5e5e"/>
<stop offset="0.66" stop-color="#6c6e70"/><stop offset="0.76" stop-color="#9ca2a8"/><stop offset="1" stop-color="#b2bac0"/></linearGradient></defs>
<rect x="86.9" y="237.8" width="89.1" height="88.2" fill="url(#gPhoto)"/>
<polygon points="134.0,302.0 147.0,298.0 155.0,326.0 141.0,326.0" fill="#cfcfc8" />
<polygon points="119.5,248.4 165.0,268.6 149.8,306.2 97.9,295.2" fill="#e6e4dc" />
<polygon points="123.2,259.2 154.5,273.5 146.0,283.5 108.5,291.8" fill="#4a1a0c" />
<polygon points="126.5,264.5 150.0,275.0 143.5,281.5 113.5,288.0" fill="#c65f12" />
<path d="M130 298 Q140 292 150 296 L148 306 Z" fill="#b0aea6" opacity="0.7"/>
</g>
<text x="90.5" y="392.6" font-size="22.2" text-anchor="start" font-weight="bold" font-style="normal" fill="#fff" >200 nm</text>
<rect x="91.4" y="398.3" width="18.3" height="2.6" fill="#fff"/>
<text x="5.5" y="237.0" font-size="26.0" text-anchor="start" font-weight="bold" font-style="normal" fill="#000" >b</text>
<rect x="113.5" y="427.0" width="2.3" height="182.6" fill="#d3dcdb"/>
<rect x="155.2" y="427.0" width="12.2" height="182.6" fill="#d3dcdb"/>
<rect x="178.0" y="427.0" width="11.0" height="182.6" fill="#d3dcdb"/>
<rect x="203.1" y="427.0" width="18.5" height="182.6" fill="#d3dcdb"/>
<path d="M62.8 531.3l1 0 1 .1 1 0 1 0 1 .1 1 0 1 .1 1 .1 1 0 1 .1 1 .1 1 0 1 .1 1 .1 1 .1 1 0 1 .1 1 .1 1 .1 1 .1 1 .1 1 .1 1 .2 1 .1 1 .1 1 .2 1 .1 1 .2 1 .1 1 .2 1 .2 1 .1 1 .2 1 .2 1 .2 1 .1 1 .2 1 .2 1 .2 1 .2 1 .2 1 .2 1 .3 1 .2 1 .2 1 .3 1 .2 1 .2 1 .2 1 .2 1 .2 1 .2 1 .1 1 .2 1 .2 1 .1 1 .2 1 .1 1 .1 1 .2 1 .1 1 .1 1 .2 1 .1 1 .1 1 .1 1 .1 1 .1 1 .1 1 0 1 .1 1 .1 1 .1 1 0 1 .1 1 .1 1 .1 1 0 1 .1 1 .1 1 0 1 .1 1 0 1 .1 1 0 1 0 1 .1 1 0 1 0 1 0 1 0 1 0 1 0 1 0 1 0 1 0 1 0 1 0 1 0 1 0 1 0 1 0 1 0 1 0 1 0 1 0 1 0 1 0 1 0 1 0 1 0 1 0 1 0 1 0 1-.1 1 0 1 0 1-.1 1 0 1-.1 1 0 1-.1 1 0 1-.1 1 0 1 0 1-.1 1 0 1-.1 1 0 1-.1 1 0 1 0 1-.1 1 0 1-.1 1 0 1 0 1-.1 1 0 1-.1 1 0 1-.1 1 0 1-.1 1 0 1-.1 1 0 1-.1 1 0 1-.1 1 0 1-.1 1-.1 1 0 1-.1 1-.1 1 0 1-.1 1-.1 1-.1 1-.1 1-.1 1-.1 1-.1 1-.1 1-.1 1-.1 1-.1 1-.1 1-.1 1-.1 1-.1 1-.2 1-.1 1-.1 1-.1 1-.1 1-.1 1-.1 1-.1 1-.1 1-.1 1-.1 1-.1 1-.1 1 0 1-.1 1-.1 1-.1 1-.1 1 0 1-.1 1-.1 1-.1 1 0 1-.1 1-.1 1-.1 1 0 1-.1 1-.1 1 0 1-.1 1-.1 1-.1 1 0 1-.1 1-.1 1 0 1-.1 1-.1 1 0 1-.1 1 0 1-.1 1-.1 1 0 1-.1 1 0 1-.1 1-.1 1 0 1-.1 1 0 1-.1 1 0 1-.1 1-.1 1 0 1-.1 1 0 1-.1 1 0 1-.1 1 0 1-.1 1-.1 1 0 1-.1 1 0 1-.1 1-.1 1 0 1-.1 1-.1 1-.1 1 0 1-.1 1-.1 1 0 1-.1 1-.1 1-.1 1 0 1-.1 1-.1 1-.1 1 0 1-.1 1-.1 1-.1 1-.1 1 0 1-.1 1-.1 1-.1 1-.1 1-.1 1 0 1-.1 1-.1 1-.1 1-.1 1-.1 1-.1 1-.1 1-.1 1 0" fill="none" stroke="#fff" stroke-width="4.0"/>
<path d="M62.8 514.2l1 0 1 0 1 0 1 0 1 0 1 0 1 0 1 0 1 0 1 0 1 0 1 0 1 0 1 0 1 0 1 0 1 0 1 0 1 0 1 0 1 0 1 0 1 0 1 0 1 0 1 0 1 0 1 0 1 0 1 0 1 0 1 0 1 0 1 0 1 .1 1 .1 1 .1 1 .2 1 .1 1 .2 1 .2 1 .2 1 .2 1 .2 1 .2 1 .2 1 .3 1 .3 1 .3 1 .3 1 .4 1 .4 1 .4 1 .4 1 .4 1 .4 1 .4 1 .4 1 .3 1 .4 1 .3 1 .4 1 .3 1 .3 1 .4 1 .3 1 .4 1 .3 1 .3 1 .4 1 .3 1 .4 1 .3 1 .4 1 .3 1 .4 1 .3 1 .4 1 .4 1 .4 1 .4 1 .4 1 .4 1 .4 1 .4 1 .4 1 .4 1 .5 1 .4 1 .4 1 .5 1 .4 1 .5 1 .4 1 .5 1 .4 1 .5 1 .4 1 .5 1 .4 1 .5 1 .4 1 .5 1 .4 1 .5 1 .5 1 .5 1 .4 1 .5 1 .5 1 .4 1 .5 1 .5 1 .5 1 .5 1 .4 1 .5 1 .5 1 .4 1 .5 1 .5 1 .4 1 .5 1 .4 1 .5 1 .5 1 .4 1 .5 1 .5 1 .4 1 .5 1 .4 1 .5 1 .4 1 .4 1 .4 1 .4 1 .4 1 .4 1 .3 1 .4 1 .4 1 .3 1 .3 1 .4 1 .3 1 .3 1 .3 1 .4 1 .3 1 .3 1 .4 1 .3 1 .3 1 .4 1 .3 1 .4 1 .3 1 .4 1 .4 1 .3 1 .4 1 .4 1 .4 1 .3 1 .4 1 .4 1 .4 1 .3 1 .4 1 .4 1 .4 1 .4 1 .3 1 .4 1 .4 1 .4 1 .4 1 .4 1 .4 1 .4 1 .4 1 .3 1 .4 1 .4 1 .4 1 .4 1 .4 1 .4 1 .4 1 .4 1 .4 1 .4 1 .4 1 .3 1 .4 1 .4 1 .4 1 .4 1 .4 1 .4 1 .4 1 .4 1 .5 1 .4 1 .4 1 .4 1 .4 1 .4 1 .4 1 .4 1 .4 1 .5 1 .4 1 .4 1 .4 1 .4 1 .4 1 .4 1 .4 1 .4 1 .5 1 .4 1 .4 1 .4 1 .4 1 .4 1 .4 1 .4 1 .4 1 .5 1 .4 1 .4 1 .5 1 .4 1 .5 1 .5 1 .5 1 .5 1 .5 1 .5 1 .5 1 .5 1 .6 1 .6 1 .6 1 .6 1 .6 1 .6 1 .7 1 .7 1 .7 1 .7 1 .7 1 .7 1 .8 1 .7 1 .8 1 .8 1 .8 1 .7" fill="none" stroke="#fff" stroke-width="4.0"/>
<path d="M62.8 526.2l1 0 1 0 1 0 1 0 1 0 1 0 1 0 1 0 1 0 1 0 1 0 1 0 1 0 1 0 1 0 1 0 1 0 1 0 1 0 1 0 1-.1 1-.1 1 0 1-.1 1-.1 1-.1 1-.2 1-.1 1-.1 1-.2 1-.1 1-.3 1-.3 1-.4 1-.4 1-.4 1-.5 1-.5 1-.5 1-.5 1-.6 1-.7 1-.7 1-.8 1-.8 1-.9 1-1 1-1.2 1-1.4 1-1.6 1-1.6 1-1.7 1-1.7 1-1.6 1-1.4 1-1.4 1-1.4 1-1.3 1-1.3 1-1 1-.8 1-.5 1-.5 1-.4 1-.3 1-.3 1-.1 1 .1 1 .3 1 .6 1 .7 1 .9 1 .9 1 1 1 1.2 1 1.4 1 1.6 1 1.7 1 1.9 1 1.8 1 1.8 1 1.8 1 1.7 1 1.9 1 1.9 1 2 1 1.9 1 1.7 1 1.7 1 1.4 1 1.2 1 1.2 1 1.1 1 1.1 1 .9 1 .9 1 .9 1 .7 1 .7 1 .6 1 .6 1 .6 1 .6 1 .5 1 .4 1 .5 1 .4 1 .4 1 .3 1 .3 1 .3 1 .3 1 .3 1 .3 1 .2 1 .3 1 .2 1 .2 1 .2 1 .2 1 .2 1 .2 1 .1 1 .2 1 .1 1 .2 1 .1 1 .1 1 .2 1 .1 1 .1 1 .1 1 .1 1 0 1 .1 1 .1 1 .1 1 0 1 .1 1 0 1 .1 1 .1 1 0 1 .1 1 0 1 .1 1 0 1 0 1 .1 1 0 1 .1 1 0 1 .1 1 0 1 0 1 .1 1 0 1 .1 1 0 1 .1 1 0 1 .1 1 0 1 .1 1 0 1 .1 1 0 1 0 1 .1 1 0 1 .1 1 0 1 .1 1 0 1 0 1 .1 1 0 1 0 1 .1 1 0 1 0 1 0 1 .1 1 0 1 0 1 0 1 0 1 0 1 .1 1 0 1 0 1 0 1 0 1 0 1 0 1 0 1 .1 1 0 1 0 1 0 1 0 1 0 1 0 1 0 1 .1 1 0 1 0 1 0 1 0 1 0 1 0 1 0 1 0 1 .1 1 0 1 0 1 0 1 0 1 0 1 0 1 0 1 0 1 0 1 0 1 .1 1 0 1 0 1 0 1 0 1 0 1 0 1 0 1 0 1 0 1 0 1 0 1 0 1 .1 1 0 1 0 1 0 1 0 1 0 1 0 1 0 1 0 1 0 1 0 1 0 1 0 1 0 1 0 1 0 1 0 1 0 1 .1 1 0 1 0 1 0 1 0 1 0 1 0 1 0 1 0 1 0 1 0 1 0 1 0 1 0 1 0 1 0 1 0 1 0 1 0 1 0 1 0 1 0 1 0 1 0" fill="none" stroke="#fff" stroke-width="4.0"/>
<path d="M62.8 489.4l1 0 1 0 1 0 1 0 1 .1 1 0 1 0 1 .1 1 0 1 0 1 .1 1 0 1 .1 1 .1 1 0 1 .1 1 .1 1 .1 1 .1 1 .2 1 .1 1 .1 1 .1 1 .2 1 .2 1 .1 1 .2 1 .2 1 .3 1 .2 1 .2 1 .2 1 .2 1 .2 1 .2 1 .2 1 .3 1 .2 1 .3 1 .2 1 .3 1 .2 1 .2 1 .2 1 .1 1 .1 1 .1 1 .1 1 0 1 .1 1 0 1 0 1-.2 1-.3 1-.6 1-.7 1-.8 1-1.2 1-1.9 1-2.4 1-2.7 1-2.8 1-2.7 1-2.6 1-2.8 1-2.8 1-2.9 1-2.7 1-2.4 1-2.1 1-2.1 1-2 1-1.8 1-1.6 1-1.2 1-.9 1-.8 1-.7 1-.7 1-.6 1-.4 1-.4 1-.2 1-.1 1 0 1 .2 1 .1 1 .3 1 .2 1 .3 1 .3 1 .2 1 .3 1 .3 1 .3 1 .4 1 .4 1 .4 1 .3 1 .4 1 .4 1 .4 1 .4 1 .4 1 .3 1 .4 1 .3 1 .4 1 .3 1 .3 1 .4 1 .3 1 .3 1 .3 1 .4 1 .3 1 .3 1 .3 1 .3 1 .4 1 .3 1 .3 1 .3 1 .4 1 .3 1 .3 1 .3 1 .3 1 .2 1 .3 1 .2 1 .3 1 .2 1 .2 1 .2 1 .2 1 .3 1 .2 1 .2 1 .2 1 .2 1 .2 1 .2 1 .2 1 .2 1 .1 1 .2 1 .2 1 .2 1 .2 1 .1 1 .2 1 .2 1 .2 1 .1 1 .2 1 .1 1 .2 1 .1 1 .2 1 .1 1 .2 1 .1 1 .2 1 .1 1 .2 1 .1 1 .2 1 .1 1 .1 1 .2 1 .1 1 .1 1 .2 1 .1 1 .1 1 .1 1 .2 1 .1 1 .1 1 .1 1 .1 1 .1 1 .1 1 .1 1 .1 1 .1 1 0 1 .1 1 .1 1 .1 1 .1 1 .1 1 0 1 .1 1 .1 1 .1 1 0 1 .1 1 .1 1 .1 1 0 1 .1 1 .1 1 0 1 .1 1 0 1 .1 1 0 1 .1 1 0 1 .1 1 0 1 .1 1 0 1 .1 1 0 1 0 1 .1 1 0 1 .1 1 0 1 0 1 .1 1 0 1 0 1 0 1 .1 1 0 1 0 1 .1 1 0 1 0 1 0 1 .1 1 0 1 0 1 0 1 .1 1 0 1 0 1 .1 1 0 1 0 1 .1 1 0 1 0 1 0 1 .1 1 0 1 0 1 .1 1 0 1 0 1 .1 1 0 1 0 1 0 1 .1 1 0 1 0 1 .1 1 0 1 0 1 .1 1 0 1 0 1 .1 1 0 1 0 1 0 1 .1 1 0 1 0 1 .1 1 0 1 0 1 .1 1 0" fill="none" stroke="#fff" stroke-width="4.0"/>
<path d="M62.8 531.3l1 0 1 .1 1 0 1 0 1 .1 1 0 1 .1 1 .1 1 0 1 .1 1 .1 1 0 1 .1 1 .1 1 .1 1 0 1 .1 1 .1 1 .1 1 .1 1 .1 1 .1 1 .2 1 .1 1 .1 1 .2 1 .1 1 .2 1 .1 1 .2 1 .2 1 .1 1 .2 1 .2 1 .2 1 .1 1 .2 1 .2 1 .2 1 .2 1 .2 1 .2 1 .3 1 .2 1 .2 1 .3 1 .2 1 .2 1 .2 1 .2 1 .2 1 .2 1 .1 1 .2 1 .2 1 .1 1 .2 1 .1 1 .1 1 .2 1 .1 1 .1 1 .2 1 .1 1 .1 1 .1 1 .1 1 .1 1 .1 1 0 1 .1 1 .1 1 .1 1 0 1 .1 1 .1 1 .1 1 0 1 .1 1 .1 1 0 1 .1 1 0 1 .1 1 0 1 0 1 .1 1 0 1 0 1 0 1 0 1 0 1 0 1 0 1 0 1 0 1 0 1 0 1 0 1 0 1 0 1 0 1 0 1 0 1 0 1 0 1 0 1 0 1 0 1 0 1 0 1 0 1 0 1 0 1-.1 1 0 1 0 1-.1 1 0 1-.1 1 0 1-.1 1 0 1-.1 1 0 1 0 1-.1 1 0 1-.1 1 0 1-.1 1 0 1 0 1-.1 1 0 1-.1 1 0 1 0 1-.1 1 0 1-.1 1 0 1-.1 1 0 1-.1 1 0 1-.1 1 0 1-.1 1 0 1-.1 1 0 1-.1 1-.1 1 0 1-.1 1-.1 1 0 1-.1 1-.1 1-.1 1-.1 1-.1 1-.1 1-.1 1-.1 1-.1 1-.1 1-.1 1-.1 1-.1 1-.1 1-.1 1-.2 1-.1 1-.1 1-.1 1-.1 1-.1 1-.1 1-.1 1-.1 1-.1 1-.1 1-.1 1-.1 1 0 1-.1 1-.1 1-.1 1-.1 1 0 1-.1 1-.1 1-.1 1 0 1-.1 1-.1 1-.1 1 0 1-.1 1-.1 1 0 1-.1 1-.1 1-.1 1 0 1-.1 1-.1 1 0 1-.1 1-.1 1 0 1-.1 1 0 1-.1 1-.1 1 0 1-.1 1 0 1-.1 1-.1 1 0 1-.1 1 0 1-.1 1 0 1-.1 1-.1 1 0 1-.1 1 0 1-.1 1 0 1-.1 1 0 1-.1 1-.1 1 0 1-.1 1 0 1-.1 1-.1 1 0 1-.1 1-.1 1-.1 1 0 1-.1 1-.1 1 0 1-.1 1-.1 1-.1 1 0 1-.1 1-.1 1-.1 1 0 1-.1 1-.1 1-.1 1-.1 1 0 1-.1 1-.1 1-.1 1-.1 1-.1 1 0 1-.1 1-.1 1-.1 1-.1 1-.1 1-.1 1-.1 1-.1 1 0" fill="none" stroke="#bccf35" stroke-width="2.0" stroke-dasharray="8 7.5"/>
<path d="M62.8 514.2l1 0 1 0 1 0 1 0 1 0 1 0 1 0 1 0 1 0 1 0 1 0 1 0 1 0 1 0 1 0 1 0 1 0 1 0 1 0 1 0 1 0 1 0 1 0 1 0 1 0 1 0 1 0 1 0 1 0 1 0 1 0 1 0 1 0 1 0 1 .1 1 .1 1 .1 1 .2 1 .1 1 .2 1 .2 1 .2 1 .2 1 .2 1 .2 1 .2 1 .3 1 .3 1 .3 1 .3 1 .4 1 .4 1 .4 1 .4 1 .4 1 .4 1 .4 1 .4 1 .3 1 .4 1 .3 1 .4 1 .3 1 .3 1 .4 1 .3 1 .4 1 .3 1 .3 1 .4 1 .3 1 .4 1 .3 1 .4 1 .3 1 .4 1 .3 1 .4 1 .4 1 .4 1 .4 1 .4 1 .4 1 .4 1 .4 1 .4 1 .4 1 .5 1 .4 1 .4 1 .5 1 .4 1 .5 1 .4 1 .5 1 .4 1 .5 1 .4 1 .5 1 .4 1 .5 1 .4 1 .5 1 .4 1 .5 1 .5 1 .5 1 .4 1 .5 1 .5 1 .4 1 .5 1 .5 1 .5 1 .5 1 .4 1 .5 1 .5 1 .4 1 .5 1 .5 1 .4 1 .5 1 .4 1 .5 1 .5 1 .4 1 .5 1 .5 1 .4 1 .5 1 .4 1 .5 1 .4 1 .4 1 .4 1 .4 1 .4 1 .4 1 .3 1 .4 1 .4 1 .3 1 .3 1 .4 1 .3 1 .3 1 .3 1 .4 1 .3 1 .3 1 .4 1 .3 1 .3 1 .4 1 .3 1 .4 1 .3 1 .4 1 .4 1 .3 1 .4 1 .4 1 .4 1 .3 1 .4 1 .4 1 .4 1 .3 1 .4 1 .4 1 .4 1 .4 1 .3 1 .4 1 .4 1 .4 1 .4 1 .4 1 .4 1 .4 1 .4 1 .3 1 .4 1 .4 1 .4 1 .4 1 .4 1 .4 1 .4 1 .4 1 .4 1 .4 1 .4 1 .3 1 .4 1 .4 1 .4 1 .4 1 .4 1 .4 1 .4 1 .4 1 .5 1 .4 1 .4 1 .4 1 .4 1 .4 1 .4 1 .4 1 .4 1 .5 1 .4 1 .4 1 .4 1 .4 1 .4 1 .4 1 .4 1 .4 1 .5 1 .4 1 .4 1 .4 1 .4 1 .4 1 .4 1 .4 1 .4 1 .5 1 .4 1 .4 1 .5 1 .4 1 .5 1 .5 1 .5 1 .5 1 .5 1 .5 1 .5 1 .5 1 .6 1 .6 1 .6 1 .6 1 .6 1 .6 1 .7 1 .7 1 .7 1 .7 1 .7 1 .7 1 .8 1 .7 1 .8 1 .8 1 .8 1 .7" fill="none" stroke="#bccf35" stroke-width="2.0"/>
<path d="M62.8 526.2l1 0 1 0 1 0 1 0 1 0 1 0 1 0 1 0 1 0 1 0 1 0 1 0 1 0 1 0 1 0 1 0 1 0 1 0 1 0 1 0 1-.1 1-.1 1 0 1-.1 1-.1 1-.1 1-.2 1-.1 1-.1 1-.2 1-.1 1-.3 1-.3 1-.4 1-.4 1-.4 1-.5 1-.5 1-.5 1-.5 1-.6 1-.7 1-.7 1-.8 1-.8 1-.9 1-1 1-1.2 1-1.4 1-1.6 1-1.6 1-1.7 1-1.7 1-1.6 1-1.4 1-1.4 1-1.4 1-1.3 1-1.3 1-1 1-.8 1-.5 1-.5 1-.4 1-.3 1-.3 1-.1 1 .1 1 .3 1 .6 1 .7 1 .9 1 .9 1 1 1 1.2 1 1.4 1 1.6 1 1.7 1 1.9 1 1.8 1 1.8 1 1.8 1 1.7 1 1.9 1 1.9 1 2 1 1.9 1 1.7 1 1.7 1 1.4 1 1.2 1 1.2 1 1.1 1 1.1 1 .9 1 .9 1 .9 1 .7 1 .7 1 .6 1 .6 1 .6 1 .6 1 .5 1 .4 1 .5 1 .4 1 .4 1 .3 1 .3 1 .3 1 .3 1 .3 1 .3 1 .2 1 .3 1 .2 1 .2 1 .2 1 .2 1 .2 1 .2 1 .1 1 .2 1 .1 1 .2 1 .1 1 .1 1 .2 1 .1 1 .1 1 .1 1 .1 1 0 1 .1 1 .1 1 .1 1 0 1 .1 1 0 1 .1 1 .1 1 0 1 .1 1 0 1 .1 1 0 1 0 1 .1 1 0 1 .1 1 0 1 .1 1 0 1 0 1 .1 1 0 1 .1 1 0 1 .1 1 0 1 .1 1 0 1 .1 1 0 1 .1 1 0 1 0 1 .1 1 0 1 .1 1 0 1 .1 1 0 1 0 1 .1 1 0 1 0 1 .1 1 0 1 0 1 0 1 .1 1 0 1 0 1 0 1 0 1 0 1 .1 1 0 1 0 1 0 1 0 1 0 1 0 1 0 1 .1 1 0 1 0 1 0 1 0 1 0 1 0 1 0 1 .1 1 0 1 0 1 0 1 0 1 0 1 0 1 0 1 0 1 .1 1 0 1 0 1 0 1 0 1 0 1 0 1 0 1 0 1 0 1 0 1 .1 1 0 1 0 1 0 1 0 1 0 1 0 1 0 1 0 1 0 1 0 1 0 1 0 1 .1 1 0 1 0 1 0 1 0 1 0 1 0 1 0 1 0 1 0 1 0 1 0 1 0 1 0 1 0 1 0 1 0 1 0 1 .1 1 0 1 0 1 0 1 0 1 0 1 0 1 0 1 0 1 0 1 0 1 0 1 0 1 0 1 0 1 0 1 0 1 0 1 0 1 0 1 0 1 0 1 0 1 0" fill="none" stroke="#1c4c47" stroke-width="2.0" stroke-dasharray="8 7.5"/>
<path d="M62.8 489.4l1 0 1 0 1 0 1 0 1 .1 1 0 1 0 1 .1 1 0 1 0 1 .1 1 0 1 .1 1 .1 1 0 1 .1 1 .1 1 .1 1 .1 1 .2 1 .1 1 .1 1 .1 1 .2 1 .2 1 .1 1 .2 1 .2 1 .3 1 .2 1 .2 1 .2 1 .2 1 .2 1 .2 1 .2 1 .3 1 .2 1 .3 1 .2 1 .3 1 .2 1 .2 1 .2 1 .1 1 .1 1 .1 1 .1 1 0 1 .1 1 0 1 0 1-.2 1-.3 1-.6 1-.7 1-.8 1-1.2 1-1.9 1-2.4 1-2.7 1-2.8 1-2.7 1-2.6 1-2.8 1-2.8 1-2.9 1-2.7 1-2.4 1-2.1 1-2.1 1-2 1-1.8 1-1.6 1-1.2 1-.9 1-.8 1-.7 1-.7 1-.6 1-.4 1-.4 1-.2 1-.1 1 0 1 .2 1 .1 1 .3 1 .2 1 .3 1 .3 1 .2 1 .3 1 .3 1 .3 1 .4 1 .4 1 .4 1 .3 1 .4 1 .4 1 .4 1 .4 1 .4 1 .3 1 .4 1 .3 1 .4 1 .3 1 .3 1 .4 1 .3 1 .3 1 .3 1 .4 1 .3 1 .3 1 .3 1 .3 1 .4 1 .3 1 .3 1 .3 1 .4 1 .3 1 .3 1 .3 1 .3 1 .2 1 .3 1 .2 1 .3 1 .2 1 .2 1 .2 1 .2 1 .3 1 .2 1 .2 1 .2 1 .2 1 .2 1 .2 1 .2 1 .2 1 .1 1 .2 1 .2 1 .2 1 .2 1 .1 1 .2 1 .2 1 .2 1 .1 1 .2 1 .1 1 .2 1 .1 1 .2 1 .1 1 .2 1 .1 1 .2 1 .1 1 .2 1 .1 1 .2 1 .1 1 .1 1 .2 1 .1 1 .1 1 .2 1 .1 1 .1 1 .1 1 .2 1 .1 1 .1 1 .1 1 .1 1 .1 1 .1 1 .1 1 .1 1 .1 1 0 1 .1 1 .1 1 .1 1 .1 1 .1 1 0 1 .1 1 .1 1 .1 1 0 1 .1 1 .1 1 .1 1 0 1 .1 1 .1 1 0 1 .1 1 0 1 .1 1 0 1 .1 1 0 1 .1 1 0 1 .1 1 0 1 .1 1 0 1 0 1 .1 1 0 1 .1 1 0 1 0 1 .1 1 0 1 0 1 0 1 .1 1 0 1 0 1 .1 1 0 1 0 1 0 1 .1 1 0 1 0 1 0 1 .1 1 0 1 0 1 .1 1 0 1 0 1 .1 1 0 1 0 1 0 1 .1 1 0 1 0 1 .1 1 0 1 0 1 .1 1 0 1 0 1 0 1 .1 1 0 1 0 1 .1 1 0 1 0 1 .1 1 0 1 0 1 .1 1 0 1 0 1 0 1 .1 1 0 1 0 1 .1 1 0 1 0 1 .1 1 0" fill="none" stroke="#1c4c47" stroke-width="2.0"/>
<line x1="62.2" y1="548.5" x2="342.6" y2="548.5" stroke="#000" stroke-width="1.5"/>
<rect x="62.2" y="427.0" width="280.4" height="182.6" fill="none" stroke="#000" stroke-width="1.4"/>
<line x1="85.6" y1="609.6" x2="85.6" y2="605.6" stroke="#000" stroke-width="1.2"/>
<line x1="85.6" y1="427.0" x2="85.6" y2="431.0" stroke="#000" stroke-width="1.2"/>
<line x1="108.9" y1="609.6" x2="108.9" y2="605.6" stroke="#000" stroke-width="1.2"/>
<line x1="108.9" y1="427.0" x2="108.9" y2="431.0" stroke="#000" stroke-width="1.2"/>
<line x1="132.3" y1="609.6" x2="132.3" y2="605.6" stroke="#000" stroke-width="1.2"/>
<line x1="132.3" y1="427.0" x2="132.3" y2="431.0" stroke="#000" stroke-width="1.2"/>
<line x1="155.7" y1="609.6" x2="155.7" y2="605.6" stroke="#000" stroke-width="1.2"/>
<line x1="155.7" y1="427.0" x2="155.7" y2="431.0" stroke="#000" stroke-width="1.2"/>
<line x1="179.0" y1="609.6" x2="179.0" y2="605.6" stroke="#000" stroke-width="1.2"/>
<line x1="179.0" y1="427.0" x2="179.0" y2="431.0" stroke="#000" stroke-width="1.2"/>
<line x1="202.4" y1="609.6" x2="202.4" y2="605.6" stroke="#000" stroke-width="1.2"/>
<line x1="202.4" y1="427.0" x2="202.4" y2="431.0" stroke="#000" stroke-width="1.2"/>
<line x1="225.8" y1="609.6" x2="225.8" y2="605.6" stroke="#000" stroke-width="1.2"/>
<line x1="225.8" y1="427.0" x2="225.8" y2="431.0" stroke="#000" stroke-width="1.2"/>
<line x1="249.1" y1="609.6" x2="249.1" y2="605.6" stroke="#000" stroke-width="1.2"/>
<line x1="249.1" y1="427.0" x2="249.1" y2="431.0" stroke="#000" stroke-width="1.2"/>
<line x1="272.5" y1="609.6" x2="272.5" y2="605.6" stroke="#000" stroke-width="1.2"/>
<line x1="272.5" y1="427.0" x2="272.5" y2="431.0" stroke="#000" stroke-width="1.2"/>
<line x1="295.9" y1="609.6" x2="295.9" y2="605.6" stroke="#000" stroke-width="1.2"/>
<line x1="295.9" y1="427.0" x2="295.9" y2="431.0" stroke="#000" stroke-width="1.2"/>
<line x1="319.2" y1="609.6" x2="319.2" y2="605.6" stroke="#000" stroke-width="1.2"/>
<line x1="319.2" y1="427.0" x2="319.2" y2="431.0" stroke="#000" stroke-width="1.2"/>
<line x1="62.2" y1="609.2" x2="66.7" y2="609.2" stroke="#000" stroke-width="1.2"/>
<line x1="342.6" y1="609.2" x2="338.1" y2="609.2" stroke="#000" stroke-width="1.2"/>
<line x1="62.2" y1="578.9" x2="66.7" y2="578.9" stroke="#000" stroke-width="1.2"/>
<line x1="342.6" y1="578.9" x2="338.1" y2="578.9" stroke="#000" stroke-width="1.2"/>
<line x1="62.2" y1="548.5" x2="66.7" y2="548.5" stroke="#000" stroke-width="1.2"/>
<line x1="342.6" y1="548.5" x2="338.1" y2="548.5" stroke="#000" stroke-width="1.2"/>
<line x1="62.2" y1="518.1" x2="66.7" y2="518.1" stroke="#000" stroke-width="1.2"/>
<line x1="342.6" y1="518.1" x2="338.1" y2="518.1" stroke="#000" stroke-width="1.2"/>
<line x1="62.2" y1="487.8" x2="66.7" y2="487.8" stroke="#000" stroke-width="1.2"/>
<line x1="342.6" y1="487.8" x2="338.1" y2="487.8" stroke="#000" stroke-width="1.2"/>
<line x1="62.2" y1="457.4" x2="66.7" y2="457.4" stroke="#000" stroke-width="1.2"/>
<line x1="342.6" y1="457.4" x2="338.1" y2="457.4" stroke="#000" stroke-width="1.2"/>
<line x1="62.2" y1="594.0" x2="62.2" y2="594.0" stroke="#000" stroke-width="1.2"/>
<line x1="342.6" y1="594.0" x2="342.6" y2="594.0" stroke="#000" stroke-width="1.2"/>
<line x1="62.2" y1="563.7" x2="62.2" y2="563.7" stroke="#000" stroke-width="1.2"/>
<line x1="342.6" y1="563.7" x2="342.6" y2="563.7" stroke="#000" stroke-width="1.2"/>
<line x1="62.2" y1="533.3" x2="62.2" y2="533.3" stroke="#000" stroke-width="1.2"/>
<line x1="342.6" y1="533.3" x2="342.6" y2="533.3" stroke="#000" stroke-width="1.2"/>
<line x1="62.2" y1="503.0" x2="62.2" y2="503.0" stroke="#000" stroke-width="1.2"/>
<line x1="342.6" y1="503.0" x2="342.6" y2="503.0" stroke="#000" stroke-width="1.2"/>
<line x1="62.2" y1="472.6" x2="62.2" y2="472.6" stroke="#000" stroke-width="1.2"/>
<line x1="342.6" y1="472.6" x2="342.6" y2="472.6" stroke="#000" stroke-width="1.2"/>
<line x1="62.2" y1="442.2" x2="62.2" y2="442.2" stroke="#000" stroke-width="1.2"/>
<line x1="342.6" y1="442.2" x2="342.6" y2="442.2" stroke="#000" stroke-width="1.2"/>
<text x="58.5" y="613.2" font-size="17.0" text-anchor="end" font-weight="normal" font-style="normal" fill="#000" >-4</text>
<text x="58.5" y="582.9" font-size="17.0" text-anchor="end" font-weight="normal" font-style="normal" fill="#000" >-2</text>
<text x="58.5" y="552.5" font-size="17.0" text-anchor="end" font-weight="normal" font-style="normal" fill="#000" >0</text>
<text x="58.5" y="522.1" font-size="17.0" text-anchor="end" font-weight="normal" font-style="normal" fill="#000" >2</text>
<text x="58.5" y="491.8" font-size="17.0" text-anchor="end" font-weight="normal" font-style="normal" fill="#000" >4</text>
<text x="58.5" y="461.4" font-size="17.0" text-anchor="end" font-weight="normal" font-style="normal" fill="#000" >6</text>
<text x="59.4" y="628.6" font-size="17.0" text-anchor="middle" font-weight="normal" font-style="normal" fill="#000" >400</text>
<text x="106.7" y="628.6" font-size="17.0" text-anchor="middle" font-weight="normal" font-style="normal" fill="#000" >500</text>
<text x="154.9" y="628.6" font-size="17.0" text-anchor="middle" font-weight="normal" font-style="normal" fill="#000" >600</text>
<text x="203.0" y="628.6" font-size="17.0" text-anchor="middle" font-weight="normal" font-style="normal" fill="#000" >700</text>
<text x="250.1" y="628.6" font-size="17.0" text-anchor="middle" font-weight="normal" font-style="normal" fill="#000" >800</text>
<text x="297.3" y="628.6" font-size="17.0" text-anchor="middle" font-weight="normal" font-style="normal" fill="#000" >900</text>
<text x="343.5" y="628.6" font-size="17.0" text-anchor="middle" font-weight="normal" font-style="normal" fill="#000" >1000</text>
<text x="207.5" y="648.0" font-size="20.4" text-anchor="middle" font-weight="bold" font-style="normal" fill="#000" >Wavelength (nm)</text>
<text x="7.0" y="431.2" font-size="26.0" text-anchor="start" font-weight="bold" font-style="normal" fill="#000" >c</text>
<text x="15.4" y="517.1" font-size="20.5" text-anchor="middle" font-weight="bold" font-style="normal" fill="#000" transform="rotate(-90 15.4 517.1)">Effective</text>
<text x="40.5" y="518.8" font-size="20.0" text-anchor="middle" font-weight="bold" font-style="normal" fill="#000" transform="rotate(-90 40.5 518.8)">permittivity</text>
<text x="330.8" y="494.7" font-size="18.0" text-anchor="end" font-weight="normal" font-style="normal" fill="#000" >Calculated</text>
<text x="333.1" y="509.6" font-size="16.0" text-anchor="end" font-weight="normal" font-style="italic" fill="#000" >Electrodeposited</text>
<text x="332.2" y="523.2" font-size="16.0" text-anchor="end" font-weight="normal" font-style="italic" fill="#000" >Au</text>
<line x1="72" y1="573.2" x2="104.7" y2="573.2" stroke="#1c4c47" stroke-width="2.2"/>
<line x1="166.6" y1="573.2" x2="199.7" y2="573.2" stroke="#bccf35" stroke-width="2.2"/>
<line x1="72.0" y1="590.4" x2="76.5" y2="590.4" stroke="#1c4c47" stroke-width="2.2"/>
<line x1="84.0" y1="590.4" x2="89.0" y2="590.4" stroke="#1c4c47" stroke-width="2.2"/>
<line x1="100.8" y1="590.4" x2="104.7" y2="590.4" stroke="#1c4c47" stroke-width="2.2"/>
<line x1="166.6" y1="590.4" x2="171.0" y2="590.4" stroke="#bccf35" stroke-width="2.2"/>
<line x1="179.0" y1="590.4" x2="184.0" y2="590.4" stroke="#bccf35" stroke-width="2.2"/>
<line x1="195.8" y1="590.4" x2="199.7" y2="590.4" stroke="#bccf35" stroke-width="2.2"/>
<text x="105.0" y="577.0" font-size="17">Re(ε<tspan font-size="13" dy="3">xx</tspan><tspan dy="-3">)</tspan></text>
<text x="105.0" y="594.0" font-size="17">Im(ε<tspan font-size="13" dy="3">xx</tspan><tspan dy="-3">)</tspan></text>
<text x="201.0" y="577.0" font-size="17">Re(ε<tspan font-size="13" dy="3">zz</tspan><tspan dy="-3">)</tspan></text>
<text x="201.0" y="594.0" font-size="17">Im(ε<tspan font-size="13" dy="3">zz</tspan><tspan dy="-3">)</tspan></text>
<defs><clipPath id="dclip"><path d="M394.2 132.6l1-.1 1-.1 1 0 1 0 1 0 1 .3 1 .5 1 .6 1 .6 1 .5 1 .4 1 .4 1 .4 1 .4 1 .4 1 .3 1 .4 1 .4 1 .3 1 .4 1 .4 1 .4 1 .4 1 .4 1 .5 1 .4 1 .5 1 .4 1 .4 1 .3 1 .3 1 .3 1 .2 1 .3 1 .2 1 .1 1 .2 1 .1 1 0 1-.2 1-.4 1-.6 1-.7 1-.7 1-.8 1-.9 1-1.1 1-1.3 1-1.4 1-1.3 1-1.1 1-1.2 1-1.2 1-1.1 1-1 1-.6 1-.5 1-.5 1-.4 1-.3 1-.2 1-.1 1 .1 1 .1 1 .1 1 .2 1 .2 1 .2 1 .3 1 .3 1 .3 1 .4 1 .2 1 .2 1 .2 1 .2 1 .1 1 .1 1 .1 1 0 1-.2 1-.3 1-.5 1-.5 1-.5 1-.6 1-.6 1-.7 1-.8 1-.9 1-1 1-1.2 1-1.3 1-1.5 1-1.6 1-1.7 1-1.7 1-1.8 1-1.6 1-1.6 1-1.7 1-1.6 1-1.8 1-1.8 1-2 1-2.3 1-2.5 1-2.9 1-3.2 1-3.4 1-3.6 1-3.8 1-3.9 1-4.3 1-4.6 1-4.4 1-4.1 1-4.6 1-4.4 1-2.5 1 .4 1 2.4 1 3.7 1 3.9 1 3.7 1 3.9 1 4.3 1 4.5 1 4.8 1 5.4 1 6 1 5.9 1 4.8 1 3.8 1 3.2 1 3 1 3 1 2.8 1 2.8 1 2.5 1 2.4 1 2.1 1 2 1 1.8 1 1.7 1 1.6 1 1.6 1 1.5 1 1.6 1 1.4 1 1.4 1 1.2 1 1 1 1 1 .9 1 .9 1 .8 1 .8 1 .7 1 .7 1 .7 1 .6 1 .7 1 .6 1 .5 1 .6 1 .5 1 .5 1 .5 1 .5 1 .5 1 .4 1 .4 1 .5 1 .4 1 .3 1 .4 1 .3 1 .4 1 .3 1 .4 1 .4 1 .4 1 .4 1 .4 1 .5 1 .4 1 .5 1 .4 1 .4 1 .5 1 .4 1 .3 1 .4 1 .3 1 .3 1 .2 1 .3 1 .2 1 .3 1 .2 1 .2 1 .3 1 .2 1 .2 1 .2 1 .2 1 .1 1 .2 1 .1 1 .2 1 .1 1 .1 1 0 1 .1 1 .1 1 .1 1 0 1 .1 1 .1 1 0 1 .1 1 0 1 .1 1 0 1 .1 1 0 1 0 1 .1 1 0 1 0 1 0 1 0 1 0 1 .1 1 0 1 0 1 0 1 0 1 .1 1 0 1 .1 1 .1 1 .1 1 0 1 .1 1 .1 1 0 1 .1 1 0 1 .1 1 0 1 0 1 0 1 0 1 0 1 0 1-.1 1 0 1 0 1 0 1 0 1-.1 1 0 1 0 1 0 1 0 1 0 1 0 1-.1 1 0 1 0 1 0 1 0 1 0 1 0 1-.1 1 0 1 0 1 0 1 0L675.2 203.8L394.2 203.8Z"/></clipPath></defs>
<g clip-path="url(#dclip)">
<rect x="455.4" y="20.3" width="2.2" height="183.5" fill="#d3dcdb"/>
<rect x="487.6" y="20.3" width="12.1" height="183.5" fill="#d3dcdb"/>
<rect x="511.1" y="20.3" width="10.9" height="183.5" fill="#d3dcdb"/>
<rect x="536.0" y="20.3" width="18.4" height="183.5" fill="#d3dcdb"/>
</g>
<g fill="none" stroke="#fff" stroke-width="5.10" stroke-linejoin="round"><path d="M394.8 158.1l1 .1 1-1.2 1-1.4 1-.3 1 .7 1 0 1-.2 1-.1 1 0 1-.5 1 .5 1 .6 1 .3 1-.2 1-.4 1 0 1-.1 1 .4 1 .2 1-.3 1 .3 1 .5 1 .2 1-.2 1 .1 1 .3 1 .2 1 0 1 .1 1 .2 1 .3 1-.1 1-.2 1-.1 1-.2 1-.1 1-.1 1-.2 1-.2 1-.7 1-.7 1-.9 1-1 1-1.1 1-1 1-1.4 1-1.5 1-1.7 1-1.6 1-1.6 1-1.6 1-1.8 1-1.8 1-1.7 1-1.2 1-.9 1-.8 1-.7 1-.5 1-.2 1 .2 1 .4 1 .8 1 .9 1 .9 1 1 1 1.2 1 1.4 1 1.5 1 1.6 1 1.6 1 1.6 1 1.6 1 1.6 1 1.6 1 1.7 1 1.7 1 1.6 1 1.7 1 1.6 1 1.7 1 1.7 1 1.6 1 1.6 1 1.4 1 1.3 1 1.1 1 1 1 1 1 .9 1 .7 1 .7 1 .4 1 .5 1 .4 1 .3 1 .3 1 .3 1 .1 1 0 1 0 1 0 1 0 1 0 1 0 1 0 1 0 1-.1 1-.1 1-.1 1-.1 1-.1 1-.1 1-.1 1-.1 1 0 1 0 1 .1 1 .1 1 .1 1 .1 1 .2 1 .2 1 .2 1 .2 1 .1 1 .2 1 .1 1 .1 1 .2 1 .1 1 .1 1 .1 1 .1 1 .2 1 .1 1 .1 1 .1 1 .2 1 .1 1 .2 1 .1 1 .2 1 .2 1 .2 1 .2 1 .2 1 .3 1 .3 1 .3 1 .4 1 .3 1 .4 1 .3 1 .4 1 .4 1 .3 1 .3 1 .4 1 .2 1 .3 1 .3 1 .3 1 .3 1 .3 1 .3 1 .3 1 .3 1 .3 1 .2 1 .3 1 .2 1 .2 1 .2 1 .1 1 .1 1 .1 1 0 1 .1 1 0 1 0 1 0 1 .1 1 0 1 0 1 0 1 0 1-.1 1-.1 1-.2 1-.2 1-.2 1-.3 1-.2 1-.3 1-.2 1-.2 1-.3 1-.3 1-.3 1-.3 1-.4 1-.3 1-.4 1-.3 1-.4 1-.4 1-.4 1-.4 1-.3 1-.4 1-.4 1-.4 1-.3 1-.4 1-.4 1-.4 1-.4 1-.3 1-.4 1-.4 1-.4 1-.4 1-.5 1-.4 1-.4 1-.4 1-.5 1-.4 1-.5 1-.5 1-.5 1-.6 1-.5 1-.6 1-.5 1-.5 1-.4 1-.5 1-.4 1-.4 1-.3 1-.4 1-.3 1-.3 1-.4 1-.3 1-.3 1-.3 1-.2 1-.3 1-.2 1-.1 1-.2 1-.1 1-.1 1-.2 1-.1 1-.1 1-.1 1-.1 1 0 1-.1 1-.1 1-.1 1-.1 1 0 1-.1 1-.1 1-.1 1 0 1-.1 1 0 1-.1 1-.1 1 0 1-.1 1 0 1 0 1-.1 -.2 0"/><path d="M394.8 156.8l1-.6 1 .5 1 1.6 1-1.3 1-1.3 1 .1 1 .4 1 .4 1-1 1-.9 1 .1 1 0 1-.1 1 .5 1 .3 1 .3 1 .5 1-.3 1-.3 1 .2 1 .5 1 .1 1-.2 1 .2 1 .4 1 .1 1 .3 1 .2 1 0 1 0 1 .1 1 .1 1-.2 1 0 1-.1 1-.1 1-.2 1-.1 1-.2 1-.7 1-.7 1-.9 1-1.1 1-1 1-1 1-1.4 1-1.5 1-1.6 1-1.7 1-1.6 1-1.6 1-1.8 1-1.9 1-1.6 1-1.2 1-.8 1-.8 1-.7 1-.5 1-.2 1 .1 1 .5 1 .7 1 .9 1 .9 1 1 1 1.2 1 1.3 1 1.5 1 1.6 1 1.5 1 1.6 1 1.5 1 1.6 1 1.6 1 1.6 1 1.7 1 1.6 1 1.6 1 1.5 1 1.7 1 1.6 1 1.6 1 1.5 1 1.4 1 1.2 1 1 1 1 1 .9 1 .9 1 .7 1 .6 1 .4 1 .4 1 .3 1 .3 1 .3 1 .2 1 0 1 0 1 0 1-.1 1-.1 1 0 1-.1 1-.1 1 0 1-.2 1-.1 1-.2 1-.2 1-.3 1-.2 1-.2 1-.1 1-.1 1-.1 1 0 1 .1 1 .1 1 .1 1 .2 1 .3 1 .2 1 .3 1 .3 1 .2 1 .3 1 .2 1 .2 1 .3 1 .2 1 .2 1 .3 1 .2 1 .2 1 .2 1 .2 1 .2 1 .2 1 .2 1 .2 1 .2 1 .3 1 .2 1 .2 1 .3 1 .3 1 .4 1 .3 1 .4 1 .4 1 .3 1 .4 1 .4 1 .4 1 .3 1 .4 1 .3 1 .3 1 .3 1 .3 1 .3 1 .3 1 .3 1 .3 1 .3 1 .3 1 .3 1 .3 1 .2 1 .3 1 .2 1 .2 1 .1 1 .1 1 .1 1 0 1 .1 1 0 1 .1 1 0 1 0 1 0 1 .1 1 0 1 0 1-.1 1-.1 1-.2 1-.2 1-.2 1-.2 1-.2 1-.2 1-.3 1-.2 1-.3 1-.2 1-.3 1-.3 1-.4 1-.3 1-.3 1-.4 1-.3 1-.4 1-.4 1-.3 1-.4 1-.4 1-.3 1-.4 1-.4 1-.3 1-.4 1-.3 1-.4 1-.4 1-.4 1-.4 1-.3 1-.4 1-.4 1-.4 1-.5 1-.4 1-.4 1-.5 1-.4 1-.5 1-.5 1-.5 1-.6 1-.5 1-.5 1-.5 1-.4 1-.4 1-.4 1-.4 1-.4 1-.3 1-.3 1-.4 1-.3 1-.3 1-.3 1-.3 1-.2 1-.2 1-.2 1-.2 1-.1 1-.2 1-.1 1-.1 1-.1 1-.1 1-.1 1-.1 1-.1 1-.1 1 0 1-.1 1-.1 1-.1 1 0 1-.1 1-.1 1 0 1-.1 1-.1 1 0 1-.1 1 0 1-.1 1 0 1-.1 1 0 -.2 0"/><path d="M394.8 155.2l1 .3 1-.6 1-.2 1 1.2 1-.9 1-1.1 1 .4 1 .6 1 .4 1-.2 1-.6 1-.4 1 .3 1 .5 1-.2 1 0 1 .5 1 .3 1-.1 1 0 1 .1 1 0 1 .3 1 .4 1 .6 1 0 1-.2 1 .3 1-.1 1 .1 1 .1 1 .1 1 .2 1-.1 1-.3 1-.1 1-.1 1-.2 1-.3 1-.6 1-.8 1-.8 1-.9 1-1.1 1-1.1 1-1.3 1-1.5 1-1.6 1-1.7 1-1.6 1-1.5 1-1.8 1-1.8 1-1.6 1-1.2 1-.8 1-.8 1-.7 1-.5 1-.2 1 .1 1 .5 1 .7 1 .8 1 .9 1 1 1 1.1 1 1.4 1 1.4 1 1.6 1 1.6 1 1.5 1 1.5 1 1.6 1 1.6 1 1.6 1 1.6 1 1.6 1 1.5 1 1.6 1 1.5 1 1.7 1 1.5 1 1.5 1 1.3 1 1.2 1 1 1 .9 1 .9 1 .8 1 .7 1 .5 1 .4 1 .4 1 .3 1 .2 1 .3 1 .1 1 0 1 0 1-.1 1-.1 1-.1 1-.1 1-.2 1-.1 1-.1 1-.2 1-.2 1-.3 1-.3 1-.3 1-.3 1-.2 1-.3 1-.1 1-.1 1-.1 1 .1 1 .1 1 .1 1 .2 1 .3 1 .3 1 .3 1 .4 1 .3 1 .4 1 .3 1 .3 1 .3 1 .4 1 .3 1 .3 1 .3 1 .2 1 .3 1 .3 1 .2 1 .3 1 .2 1 .3 1 .2 1 .3 1 .2 1 .3 1 .3 1 .4 1 .3 1 .4 1 .4 1 .4 1 .4 1 .4 1 .4 1 .3 1 .4 1 .4 1 .3 1 .3 1 .3 1 .3 1 .3 1 .3 1 .4 1 .3 1 .3 1 .3 1 .3 1 .2 1 .3 1 .2 1 .2 1 .2 1 .2 1 .1 1 .1 1 0 1 .1 1 0 1 .1 1 0 1 .1 1 0 1 0 1 0 1 .1 1-.1 1-.1 1-.2 1-.1 1-.2 1-.3 1-.2 1-.2 1-.2 1-.2 1-.3 1-.2 1-.3 1-.3 1-.3 1-.3 1-.4 1-.3 1-.4 1-.3 1-.4 1-.3 1-.4 1-.4 1-.3 1-.4 1-.3 1-.4 1-.3 1-.4 1-.4 1-.3 1-.4 1-.4 1-.4 1-.4 1-.4 1-.4 1-.4 1-.4 1-.4 1-.4 1-.5 1-.4 1-.5 1-.5 1-.6 1-.5 1-.5 1-.4 1-.4 1-.4 1-.4 1-.3 1-.4 1-.3 1-.3 1-.3 1-.3 1-.3 1-.3 1-.2 1-.3 1-.2 1-.2 1-.1 1-.2 1-.1 1-.1 1-.1 1-.1 1-.1 1-.1 1-.1 1-.1 1-.1 1-.1 1 0 1-.1 1-.1 1 0 1-.1 1-.1 1 0 1-.1 1-.1 1 0 1-.1 1 0 1-.1 1 0 1 0 1-.1 -.2 0"/><path d="M394.8 154.1l1 0 1-.6 1 .8 1-.6 1-1.4 1 .5 1 .8 1 .2 1-.7 1-.1 1-.1 1 0 1 .6 1 .6 1 .1 1-.2 1 .4 1 .1 1-.7 1 .3 1 .5 1 .3 1 0 1 .2 1 .5 1 0 1 0 1 .1 1 .2 1 .4 1 .1 1 0 1 .1 1-.1 1-.1 1-.2 1-.2 1-.1 1-.3 1-.5 1-.7 1-.9 1-1 1-1 1-1 1-1.4 1-1.5 1-1.6 1-1.6 1-1.5 1-1.6 1-1.8 1-1.7 1-1.5 1-1.2 1-.8 1-.8 1-.6 1-.5 1-.3 1 .1 1 .5 1 .6 1 .8 1 .9 1 .9 1 1.1 1 1.4 1 1.4 1 1.6 1 1.5 1 1.5 1 1.6 1 1.5 1 1.6 1 1.5 1 1.6 1 1.5 1 1.5 1 1.5 1 1.5 1 1.6 1 1.5 1 1.4 1 1.3 1 1.1 1 .9 1 .9 1 .9 1 .7 1 .6 1 .5 1 .3 1 .3 1 .3 1 .2 1 .1 1 .1 1 0 1-.1 1-.2 1-.1 1-.2 1-.2 1-.2 1-.2 1-.2 1-.3 1-.3 1-.4 1-.3 1-.4 1-.4 1-.4 1-.3 1-.3 1-.2 1-.1 1 0 1 .1 1 .1 1 .3 1 .3 1 .4 1 .4 1 .5 1 .4 1 .5 1 .5 1 .4 1 .5 1 .4 1 .5 1 .4 1 .4 1 .3 1 .4 1 .3 1 .4 1 .3 1 .3 1 .3 1 .3 1 .3 1 .3 1 .4 1 .3 1 .4 1 .4 1 .4 1 .4 1 .4 1 .4 1 .4 1 .5 1 .4 1 .3 1 .4 1 .4 1 .3 1 .3 1 .3 1 .3 1 .3 1 .4 1 .3 1 .3 1 .3 1 .3 1 .3 1 .3 1 .2 1 .2 1 .2 1 .2 1 .1 1 .1 1 0 1 .1 1 .1 1 0 1 .1 1 0 1 .1 1 0 1 .1 1 0 1-.1 1-.1 1-.1 1-.2 1-.1 1-.2 1-.2 1-.2 1-.2 1-.2 1-.3 1-.2 1-.3 1-.3 1-.2 1-.4 1-.3 1-.3 1-.3 1-.4 1-.3 1-.4 1-.3 1-.4 1-.3 1-.4 1-.3 1-.4 1-.3 1-.4 1-.3 1-.4 1-.3 1-.4 1-.4 1-.4 1-.3 1-.4 1-.4 1-.4 1-.4 1-.4 1-.5 1-.4 1-.5 1-.5 1-.5 1-.5 1-.4 1-.4 1-.4 1-.4 1-.3 1-.4 1-.3 1-.3 1-.3 1-.2 1-.3 1-.3 1-.2 1-.3 1-.2 1-.2 1-.2 1-.1 1-.2 1-.1 1-.1 1-.1 1-.1 1-.1 1-.1 1-.1 1 0 1-.1 1-.1 1 0 1-.1 1-.1 1-.1 1 0 1-.1 1 0 1-.1 1-.1 1 0 1-.1 1 0 1 0 1-.1 1 0 1-.1 -.2 0"/><path d="M394.8 152.8l1-.3 1-1.9 1 .5 1 .8 1-.8 1 .4 1-.2 1-.2 1 .6 1 .2 1 .1 1 0 1 0 1 .1 1 .1 1 .5 1 .2 1-.2 1 .2 1 .4 1 .4 1 .1 1 0 1 .1 1 .5 1 .2 1-.1 1 .3 1 .1 1 .3 1 .2 1 0 1 0 1-.1 1 .1 1 0 1-.1 1-.1 1-.5 1-.6 1-.6 1-.8 1-1 1-1 1-1 1-1.3 1-1.5 1-1.6 1-1.6 1-1.6 1-1.4 1-1.7 1-1.7 1-1.6 1-1.1 1-.8 1-.7 1-.7 1-.5 1-.2 1 .1 1 .4 1 .6 1 .8 1 .8 1 .9 1 1.1 1 1.3 1 1.4 1 1.5 1 1.5 1 1.6 1 1.5 1 1.5 1 1.5 1 1.5 1 1.5 1 1.5 1 1.4 1 1.5 1 1.4 1 1.5 1 1.4 1 1.4 1 1.2 1 1 1 .9 1 .8 1 .8 1 .6 1 .6 1 .4 1 .3 1 .2 1 .2 1 .1 1 .1 1 0 1-.1 1-.2 1-.2 1-.2 1-.3 1-.2 1-.3 1-.3 1-.3 1-.4 1-.5 1-.5 1-.5 1-.5 1-.5 1-.6 1-.4 1-.4 1-.3 1-.2 1-.1 1 .1 1 .2 1 .3 1 .4 1 .5 1 .5 1 .6 1 .6 1 .6 1 .7 1 .6 1 .6 1 .6 1 .6 1 .6 1 .5 1 .5 1 .5 1 .4 1 .4 1 .4 1 .4 1 .4 1 .4 1 .3 1 .4 1 .4 1 .4 1 .4 1 .4 1 .5 1 .4 1 .5 1 .4 1 .5 1 .4 1 .4 1 .4 1 .4 1 .4 1 .3 1 .3 1 .4 1 .3 1 .3 1 .4 1 .3 1 .3 1 .3 1 .3 1 .3 1 .3 1 .2 1 .3 1 .2 1 .1 1 .2 1 .1 1 0 1 .1 1 .1 1 .1 1 0 1 .1 1 .1 1 0 1 .1 1 0 1 0 1-.1 1-.1 1-.1 1-.2 1-.2 1-.2 1-.1 1-.2 1-.2 1-.2 1-.2 1-.3 1-.2 1-.3 1-.3 1-.3 1-.3 1-.3 1-.3 1-.4 1-.3 1-.3 1-.4 1-.3 1-.3 1-.4 1-.3 1-.4 1-.3 1-.4 1-.3 1-.4 1-.3 1-.4 1-.3 1-.4 1-.4 1-.3 1-.4 1-.4 1-.4 1-.4 1-.4 1-.4 1-.5 1-.5 1-.4 1-.5 1-.4 1-.3 1-.3 1-.4 1-.3 1-.2 1-.3 1-.3 1-.2 1-.3 1-.2 1-.2 1-.3 1-.2 1-.2 1-.1 1-.1 1-.2 1-.1 1-.1 1-.1 1-.1 1-.1 1 0 1-.1 1-.1 1-.1 1 0 1-.1 1-.1 1 0 1-.1 1 0 1-.1 1-.1 1 0 1-.1 1 0 1-.1 1 0 1-.1 1 0 1 0 1-.1 -.2 0"/><path d="M394.8 151.1l1 .2 1-.7 1-.4 1 .3 1-.1 1-.9 1 0 1 1 1 .2 1-.1 1-.1 1-.2 1-.3 1 0 1 .5 1 1.2 1 .5 1-.3 1-.1 1 .6 1 0 1-.2 1 .4 1 .5 1 0 1 .4 1 .3 1 .1 1 .3 1 .1 1-.1 1 .2 1 .1 1 0 1 0 1-.2 1-.1 1-.1 1-.3 1-.5 1-.6 1-.9 1-.9 1-1 1-1 1-1.3 1-1.4 1-1.6 1-1.5 1-1.5 1-1.6 1-1.7 1-1.6 1-1.4 1-1.1 1-.8 1-.7 1-.6 1-.5 1-.2 1 .1 1 .3 1 .6 1 .7 1 .8 1 .8 1 1 1 1.3 1 1.3 1 1.5 1 1.5 1 1.5 1 1.4 1 1.5 1 1.5 1 1.4 1 1.4 1 1.4 1 1.3 1 1.3 1 1.4 1 1.4 1 1.3 1 1.3 1 1.1 1 .9 1 .8 1 .7 1 .6 1 .6 1 .5 1 .3 1 .1 1 .1 1 .1 1 0 1 0 1-.1 1-.2 1-.3 1-.3 1-.3 1-.4 1-.3 1-.4 1-.4 1-.5 1-.6 1-.6 1-.7 1-.7 1-.7 1-.7 1-.8 1-.6 1-.6 1-.5 1-.3 1-.2 1 0 1 .2 1 .4 1 .5 1 .7 1 .7 1 .8 1 .9 1 .8 1 .9 1 .9 1 .9 1 .8 1 .8 1 .8 1 .7 1 .7 1 .6 1 .6 1 .5 1 .5 1 .6 1 .4 1 .5 1 .5 1 .4 1 .5 1 .4 1 .5 1 .5 1 .5 1 .5 1 .5 1 .5 1 .5 1 .4 1 .5 1 .4 1 .4 1 .4 1 .4 1 .3 1 .3 1 .4 1 .3 1 .4 1 .3 1 .4 1 .3 1 .3 1 .3 1 .3 1 .3 1 .2 1 .2 1 .2 1 .2 1 .1 1 .1 1 0 1 .1 1 .1 1 .1 1 .1 1 .1 1 .1 1 .1 1 0 1 0 1 0 1-.1 1-.1 1-.1 1-.2 1-.1 1-.2 1-.1 1-.2 1-.2 1-.2 1-.2 1-.2 1-.3 1-.2 1-.3 1-.3 1-.2 1-.3 1-.3 1-.3 1-.4 1-.3 1-.3 1-.3 1-.3 1-.3 1-.4 1-.3 1-.3 1-.4 1-.3 1-.3 1-.4 1-.3 1-.3 1-.4 1-.3 1-.4 1-.3 1-.4 1-.4 1-.4 1-.4 1-.4 1-.4 1-.4 1-.4 1-.4 1-.3 1-.3 1-.3 1-.2 1-.3 1-.2 1-.3 1-.2 1-.2 1-.2 1-.2 1-.2 1-.2 1-.2 1-.1 1-.1 1-.1 1-.1 1-.1 1-.1 1-.1 1-.1 1-.1 1 0 1-.1 1-.1 1 0 1-.1 1 0 1-.1 1-.1 1 0 1-.1 1 0 1-.1 1 0 1-.1 1 0 1-.1 1 0 1 0 1-.1 1 0 -.2 0"/><path d="M394.8 148.3l1-.3 1-.3 1 .8 1 .4 1-.9 1 .3 1 .2 1 .6 1-.5 1-.2 1 .6 1-.1 1 .2 1 .3 1 .1 1 0 1 .6 1 .2 1 0 1 .4 1 .3 1 .1 1 .2 1 .2 1 .4 1 .2 1 0 1 .4 1 .2 1 .1 1 .2 1 .3 1 0 1 0 1 0 1 0 1-.1 1-.1 1-.2 1-.5 1-.7 1-.8 1-.9 1-1 1-1 1-1.2 1-1.4 1-1.5 1-1.6 1-1.5 1-1.4 1-1.6 1-1.5 1-1.5 1-1.1 1-.7 1-.7 1-.6 1-.5 1-.2 1 0 1 .3 1 .6 1 .6 1 .7 1 .8 1 1 1 1.1 1 1.3 1 1.4 1 1.4 1 1.4 1 1.3 1 1.4 1 1.4 1 1.3 1 1.3 1 1.2 1 1.3 1 1.1 1 1.3 1 1.2 1 1.2 1 1.1 1 1 1 .7 1 .7 1 .5 1 .6 1 .4 1 .3 1 .2 1 0 1-.1 1-.1 1-.1 1-.1 1-.3 1-.3 1-.4 1-.5 1-.4 1-.5 1-.6 1-.5 1-.6 1-.7 1-.8 1-.8 1-1 1-.9 1-1.1 1-1 1-1 1-1 1-.9 1-.7 1-.6 1-.3 1 0 1 .3 1 .4 1 .7 1 .9 1 1 1 1.2 1 1.1 1 1.2 1 1.3 1 1.2 1 1.3 1 1.1 1 1.2 1 1 1 1 1 .9 1 .8 1 .8 1 .7 1 .7 1 .7 1 .6 1 .6 1 .6 1 .6 1 .5 1 .6 1 .6 1 .5 1 .6 1 .6 1 .5 1 .6 1 .5 1 .5 1 .5 1 .4 1 .5 1 .4 1 .4 1 .4 1 .3 1 .4 1 .4 1 .3 1 .4 1 .4 1 .3 1 .3 1 .4 1 .3 1 .2 1 .3 1 .2 1 .2 1 .2 1 .1 1 .1 1 .2 1 .1 1 .1 1 .1 1 .1 1 .1 1 .2 1 .1 1 .1 1 0 1 0 1 0 1-.1 1-.1 1-.1 1-.1 1-.1 1-.1 1-.1 1-.2 1-.1 1-.2 1-.2 1-.2 1-.2 1-.2 1-.3 1-.2 1-.3 1-.2 1-.3 1-.3 1-.2 1-.3 1-.3 1-.3 1-.3 1-.3 1-.3 1-.3 1-.3 1-.3 1-.3 1-.3 1-.3 1-.3 1-.3 1-.3 1-.3 1-.4 1-.3 1-.3 1-.3 1-.4 1-.4 1-.4 1-.4 1-.3 1-.3 1-.3 1-.2 1-.3 1-.2 1-.2 1-.2 1-.2 1-.2 1-.2 1-.2 1-.1 1-.2 1-.2 1-.1 1-.1 1-.1 1-.1 1-.1 1-.1 1-.1 1-.1 1 0 1-.1 1-.1 1 0 1-.1 1-.1 1 0 1-.1 1 0 1-.1 1 0 1-.1 1 0 1-.1 1 0 1-.1 1 0 1 0 1-.1 1 0 1 0 1-.1 -.2 0"/><path d="M394.8 145.6l1 .9 1 .4 1-1.3 1 .9 1-.9 1-1.1 1 1 1 .9 1 .8 1 .5 1-.4 1 0 1 .4 1 .4 1 .2 1 .1 1 .1 1 .1 1 .2 1 .1 1 .3 1 .2 1 .4 1 .2 1 .4 1 .5 1 .2 1 .2 1 .3 1 .3 1 .1 1 .1 1 .1 1 0 1 0 1-.1 1 .1 1-.1 1-.3 1-.4 1-.7 1-.8 1-.9 1-.9 1-.9 1-1.2 1-1.4 1-1.5 1-1.6 1-1.5 1-1.4 1-1.5 1-1.5 1-1.4 1-1 1-.7 1-.7 1-.6 1-.4 1-.2 1 0 1 .2 1 .5 1 .6 1 .6 1 .7 1 .9 1 1 1 1.1 1 1.3 1 1.2 1 1.3 1 1.2 1 1.2 1 1.2 1 1.2 1 1.1 1 1.1 1 1 1 1 1 1.1 1 1 1 1 1 .8 1 .8 1 .6 1 .4 1 .4 1 .3 1 .3 1 .1 1-.1 1-.2 1-.2 1-.3 1-.3 1-.4 1-.4 1-.5 1-.6 1-.7 1-.6 1-.7 1-.7 1-.8 1-.9 1-.9 1-1.1 1-1.2 1-1.3 1-1.4 1-1.4 1-1.5 1-1.4 1-1.5 1-1.3 1-1.2 1-.8 1-.6 1-.1 1 .3 1 .7 1 1 1 1.3 1 1.4 1 1.5 1 1.7 1 1.7 1 1.8 1 1.8 1 1.7 1 1.7 1 1.5 1 1.5 1 1.3 1 1.2 1 1.1 1 1.1 1 1 1 .9 1 .9 1 .8 1 .8 1 .7 1 .8 1 .7 1 .7 1 .7 1 .7 1 .6 1 .7 1 .6 1 .6 1 .6 1 .6 1 .5 1 .5 1 .5 1 .5 1 .4 1 .4 1 .4 1 .4 1 .4 1 .4 1 .4 1 .4 1 .4 1 .3 1 .4 1 .3 1 .3 1 .3 1 .2 1 .3 1 .2 1 .1 1 .2 1 .1 1 .1 1 .2 1 .2 1 .1 1 .2 1 .1 1 .2 1 .2 1 .1 1 0 1 0 1 0 1 0 1-.1 1 0 1 0 1-.1 1-.1 1 0 1-.2 1-.1 1-.1 1-.1 1-.2 1-.2 1-.1 1-.2 1-.2 1-.2 1-.2 1-.3 1-.2 1-.2 1-.2 1-.3 1-.2 1-.3 1-.2 1-.2 1-.3 1-.3 1-.2 1-.3 1-.2 1-.3 1-.2 1-.3 1-.3 1-.2 1-.3 1-.3 1-.3 1-.3 1-.3 1-.4 1-.3 1-.3 1-.2 1-.3 1-.2 1-.2 1-.2 1-.1 1-.2 1-.2 1-.1 1-.1 1-.2 1-.1 1-.2 1-.1 1-.1 1-.1 1-.1 1-.1 1-.1 1-.1 1 0 1-.1 1-.1 1 0 1-.1 1 0 1-.1 1-.1 1 0 1-.1 1 0 1 0 1-.1 1 0 1-.1 1 0 1-.1 1 0 1 0 1-.1 1 0 1 0 1-.1 1 0 -.2 0"/><path d="M394.8 144l1-.4 1 .5 1 0 1-.3 1 0 1-.7 1 .6 1 1.7 1 .4 1-.3 1-.1 1 .3 1 .6 1 .4 1-.2 1-.1 1 .3 1 .2 1 .1 1 .4 1 0 1 .3 1 .6 1 .1 1 .4 1 .4 1 .4 1 .3 1 .1 1 .4 1 .1 1 0 1 .2 1 .2 1-.1 1 0 1 .1 1 0 1-.2 1-.5 1-.5 1-.8 1-.9 1-.9 1-.9 1-1.2 1-1.4 1-1.5 1-1.4 1-1.4 1-1.4 1-1.5 1-1.5 1-1.3 1-1 1-.6 1-.7 1-.5 1-.4 1-.3 1 0 1 .2 1 .4 1 .5 1 .6 1 .6 1 .7 1 .9 1 1 1 1.1 1 1.1 1 1 1 1 1 1.1 1 1 1 .9 1 1 1 .9 1 .8 1 .8 1 .8 1 .8 1 .7 1 .7 1 .5 1 .3 1 .3 1 .1 1 .1 1 .1 1-.1 1-.3 1-.4 1-.5 1-.6 1-.5 1-.6 1-.7 1-.7 1-.8 1-.8 1-.9 1-.9 1-.9 1-1.1 1-1.2 1-1.2 1-1.5 1-1.5 1-1.7 1-1.8 1-1.9 1-2 1-2 1-2 1-1.9 1-1.7 1-1.4 1-.8 1-.2 1 .4 1 1 1 1.4 1 1.7 1 1.9 1 2.1 1 2.1 1 2.3 1 2.4 1 2.5 1 2.4 1 2.2 1 2.1 1 1.9 1 1.7 1 1.5 1 1.5 1 1.3 1 1.3 1 1.2 1 1.1 1 1.1 1 1 1 .9 1 .9 1 .8 1 .9 1 .9 1 .8 1 .8 1 .8 1 .7 1 .7 1 .6 1 .7 1 .6 1 .5 1 .6 1 .5 1 .4 1 .5 1 .4 1 .5 1 .4 1 .5 1 .4 1 .4 1 .4 1 .4 1 .3 1 .4 1 .3 1 .3 1 .3 1 .2 1 .3 1 .1 1 .2 1 .2 1 .2 1 .2 1 .2 1 .2 1 .2 1 .2 1 .2 1 .2 1 .2 1 .1 1 .1 1 .1 1 0 1 .1 1 0 1 0 1 0 1 0 1 0 1-.1 1 0 1-.1 1-.1 1 0 1-.1 1-.1 1-.2 1-.1 1-.1 1-.2 1-.1 1-.2 1-.2 1-.1 1-.2 1-.2 1-.2 1-.2 1-.2 1-.1 1-.2 1-.2 1-.2 1-.2 1-.2 1-.3 1-.2 1-.2 1-.2 1-.2 1-.2 1-.3 1-.2 1-.3 1-.3 1-.2 1-.3 1-.2 1-.2 1-.1 1-.2 1-.1 1-.2 1-.1 1-.1 1-.1 1-.1 1-.1 1-.1 1-.1 1-.1 1-.1 1-.1 1-.1 1 0 1-.1 1-.1 1 0 1-.1 1 0 1-.1 1-.1 1 0 1-.1 1 0 1 0 1-.1 1 0 1-.1 1 0 1 0 1-.1 1 0 1-.1 1 0 1 0 1-.1 1 0 1 0 1 0 1-.1 -.2 0"/><path d="M394.8 143.1l1-.6 1-1 1 0 1-.8 1-.2 1 .7 1 .7 1-.1 1 1.3 1 .8 1-.4 1-.5 1 .4 1 .2 1 0 1 1 1 .6 1 .2 1 .2 1 .3 1 .1 1 .3 1 .6 1 .3 1 .2 1 .4 1 .2 1 .1 1 .3 1 .4 1 .3 1 .1 1 0 1 .3 1 .2 1 0 1 0 1-.1 1-.1 1-.4 1-.7 1-.7 1-.9 1-.8 1-.8 1-1.2 1-1.5 1-1.4 1-1.3 1-1.4 1-1.4 1-1.4 1-1.4 1-1.2 1-.9 1-.7 1-.6 1-.5 1-.4 1-.3 1 0 1 .2 1 .3 1 .4 1 .5 1 .5 1 .6 1 .7 1 .8 1 .8 1 .9 1 .8 1 .8 1 .8 1 .8 1 .8 1 .7 1 .7 1 .6 1 .5 1 .6 1 .4 1 .5 1 .3 1 .2 1 .1 1 0 1-.1 1-.1 1-.3 1-.3 1-.6 1-.7 1-.7 1-.9 1-.8 1-.9 1-.9 1-1 1-1 1-1.1 1-1.1 1-1.1 1-1.2 1-1.4 1-1.5 1-1.6 1-1.9 1-2 1-2.2 1-2.3 1-2.4 1-2.6 1-2.6 1-2.7 1-2.6 1-2.5 1-2 1-1.4 1-.4 1 .7 1 1.5 1 2 1 2.3 1 2.5 1 2.6 1 2.7 1 3 1 3.2 1 3.3 1 3.2 1 3 1 2.7 1 2.4 1 2 1 1.9 1 1.9 1 1.7 1 1.6 1 1.5 1 1.5 1 1.3 1 1.2 1 1.1 1 1.1 1 1.1 1 1 1 1.1 1 1 1 .9 1 .9 1 .9 1 .7 1 .8 1 .7 1 .6 1 .6 1 .6 1 .6 1 .5 1 .5 1 .5 1 .5 1 .5 1 .5 1 .4 1 .4 1 .5 1 .4 1 .4 1 .3 1 .4 1 .3 1 .3 1 .3 1 .3 1 .2 1 .2 1 .3 1 .2 1 .2 1 .3 1 .3 1 .2 1 .3 1 .3 1 .3 1 .2 1 .2 1 .2 1 .1 1 .2 1 .1 1 .1 1 .1 1 0 1 .1 1 .1 1 0 1 0 1 0 1 0 1 0 1 0 1 0 1 0 1-.1 1 0 1-.1 1-.1 1-.1 1-.1 1-.1 1-.1 1-.1 1-.1 1-.1 1-.1 1-.2 1-.1 1-.1 1-.1 1-.2 1-.1 1-.2 1-.1 1-.1 1-.2 1-.2 1-.1 1-.2 1-.2 1-.2 1-.2 1-.2 1-.1 1-.2 1-.1 1-.2 1-.1 1-.1 1 0 1-.1 1-.1 1-.1 1 0 1-.1 1 0 1-.1 1-.1 1-.1 1 0 1-.1 1 0 1-.1 1 0 1-.1 1 0 1-.1 1 0 1-.1 1 0 1-.1 1 0 1 0 1-.1 1 0 1 0 1-.1 1 0 1 0 1-.1 1 0 1 0 1-.1 1 0 1 0 1 0 1-.1 1 0 -.2 0"/><path d="M394.8 139.4l1-.8 1-.9 1 1 1 .6 1-.4 1-.1 1 .6 1 1.7 1 .4 1-.3 1 .1 1 .5 1 .2 1 .7 1 .4 1-.3 1 .4 1 .1 1 0 1 .4 1 .4 1 .7 1 .3 1 .4 1 .6 1 .2 1 .3 1 0 1 .2 1 .5 1 .4 1 .1 1 .2 1 .2 1 .1 1 .1 1-.1 1 .1 1-.2 1-.5 1-.5 1-.8 1-.8 1-.7 1-.9 1-1.1 1-1.3 1-1.5 1-1.4 1-1.3 1-1.2 1-1.4 1-1.3 1-1.2 1-.9 1-.6 1-.5 1-.5 1-.5 1-.2 1 0 1 .1 1 .2 1 .4 1 .3 1 .4 1 .5 1 .5 1 .5 1 .7 1 .6 1 .6 1 .5 1 .6 1 .5 1 .5 1 .5 1 .5 1 .4 1 .2 1 .2 1 .2 1 0 1 0 1 0 1-.2 1-.3 1-.4 1-.4 1-.5 1-.6 1-.9 1-1 1-1.1 1-1.1 1-1.2 1-1.2 1-1.2 1-1.3 1-1.2 1-1.3 1-1.3 1-1.4 1-1.5 1-1.7 1-1.8 1-2.1 1-2.3 1-2.6 1-2.7 1-2.8 1-3 1-3.2 1-3.4 1-3.4 1-3.3 1-3.3 1-3.1 1-2.1 1-.6 1 1.1 1 2.2 1 2.8 1 2.9 1 3 1 3.2 1 3.4 1 3.7 1 4 1 4.3 1 4.3 1 3.9 1 3.3 1 2.8 1 2.4 1 2.3 1 2.3 1 2.1 1 2 1 1.9 1 1.8 1 1.5 1 1.5 1 1.4 1 1.3 1 1.2 1 1.3 1 1.2 1 1.2 1 1.2 1 1 1 1 1 .8 1 .8 1 .8 1 .7 1 .7 1 .7 1 .6 1 .6 1 .5 1 .6 1 .5 1 .5 1 .5 1 .5 1 .5 1 .5 1 .4 1 .4 1 .4 1 .4 1 .4 1 .3 1 .3 1 .3 1 .3 1 .3 1 .2 1 .3 1 .3 1 .3 1 .4 1 .3 1 .3 1 .4 1 .3 1 .3 1 .3 1 .3 1 .3 1 .2 1 .2 1 .2 1 .2 1 .1 1 .2 1 .1 1 .1 1 .1 1 .1 1 .1 1 .1 1 .1 1 0 1 .1 1 0 1 .1 1 0 1 0 1 0 1 0 1 0 1-.1 1 0 1 0 1-.1 1 0 1-.1 1 0 1-.1 1 0 1-.1 1 0 1-.1 1-.1 1-.1 1 0 1-.1 1-.1 1-.1 1-.1 1-.2 1-.1 1-.1 1-.1 1-.1 1-.1 1-.1 1 0 1-.1 1 0 1-.1 1 0 1 0 1 0 1 0 1-.1 1 0 1 0 1-.1 1 0 1 0 1-.1 1 0 1-.1 1 0 1 0 1-.1 1 0 1-.1 1 0 1 0 1-.1 1 0 1 0 1-.1 1 0 1 0 1 0 1-.1 1 0 1 0 1 0 1-.1 1 0 1 0 1 0 1 0 1-.1 -.2 0"/><path d="M394.8 134.8l1 .1 1 1.8 1 .2 1-.5 1-.5 1 .7 1 .3 1-.2 1 1.1 1 1.1 1-.2 1 .5 1 .4 1 .2 1 .3 1 .2 1 .5 1 .2 1 .6 1 .5 1 .1 1 .5 1 .5 1 0 1 .5 1 .7 1 .4 1 .1 1 .3 1 .5 1 .3 1 .3 1 .2 1 .2 1 .1 1 .1 1 0 1 0 1 0 1-.4 1-.6 1-.7 1-.6 1-.8 1-.9 1-1.1 1-1.4 1-1.4 1-1.3 1-1.3 1-1.2 1-1.3 1-1.2 1-1.1 1-.8 1-.6 1-.5 1-.5 1-.4 1-.2 1-.1 1 .1 1 .2 1 .2 1 .2 1 .3 1 .3 1 .3 1 .4 1 .4 1 .4 1 .3 1 .3 1 .3 1 .2 1 .3 1 .3 1 .2 1 .2 1 0 1-.1 1-.2 1-.3 1-.4 1-.3 1-.5 1-.6 1-.6 1-.7 1-.8 1-.9 1-1.1 1-1.3 1-1.4 1-1.5 1-1.5 1-1.6 1-1.5 1-1.5 1-1.5 1-1.5 1-1.5 1-1.7 1-1.8 1-1.9 1-2.2 1-2.5 1-2.9 1-3.1 1-3.2 1-3.4 1-3.5 1-3.8 1-4.2 1-4.1 1-3.9 1-3.9 1-4.3 1-3.1 1-.7 1 1.6 1 3 1 3.6 1 3.5 1 3.4 1 3.8 1 4.1 1 4.3 1 4.7 1 5.4 1 5.5 1 4.9 1 3.7 1 3.2 1 2.8 1 2.7 1 2.7 1 2.6 1 2.4 1 2.3 1 2 1 1.9 1 1.7 1 1.6 1 1.5 1 1.5 1 1.4 1 1.5 1 1.4 1 1.3 1 1.2 1 1 1 .9 1 .9 1 .9 1 .8 1 .7 1 .8 1 .6 1 .7 1 .6 1 .6 1 .6 1 .6 1 .5 1 .5 1 .5 1 .5 1 .5 1 .4 1 .5 1 .4 1 .4 1 .4 1 .3 1 .4 1 .3 1 .3 1 .3 1 .4 1 .3 1 .4 1 .4 1 .4 1 .4 1 .4 1 .4 1 .4 1 .4 1 .3 1 .4 1 .3 1 .3 1 .3 1 .2 1 .3 1 .2 1 .2 1 .2 1 .2 1 .2 1 .2 1 .1 1 .2 1 .1 1 .2 1 .1 1 .1 1 .1 1 .1 1 .1 1 .1 1 .1 1 0 1 .1 1 0 1 0 1 .1 1 0 1 0 1 .1 1 0 1 0 1 0 1 0 1 0 1 0 1 0 1 0 1-.1 1 0 1 0 1-.1 1 0 1-.1 1 0 1-.1 1 0 1 0 1 0 1 0 1 0 1 0 1 .1 1 0 1 0 1 0 1 0 1 .1 1 0 1-.1 1 0 1 0 1 0 1 0 1-.1 1 0 1 0 1-.1 1 0 1 0 1 0 1-.1 1 0 1 0 1 0 1-.1 1 0 1 0 1 0 1 0 1-.1 1 0 1 0 1 0 1 0 1-.1 1 0 1 0 1 0 -.2 0"/><path d="M394.8 133.8l1-.3 1 .1 1 .4 1-.2 1-.1 1-.1 1 .8 1 1.3 1 .2 1-.2 1 .3 1 1 1 .2 1 .2 1 .7 1 .4 1 .2 1 .3 1 .5 1 .3 1 .8 1 .3 1 .5 1 .4 1 .3 1 .7 1 .4 1 .2 1 .1 1 .3 1 .5 1 .2 1 .2 1 .2 1 .2 1 .1 1 .2 1 .2 1-.1 1-.4 1-.5 1-.7 1-.7 1-.8 1-.8 1-1.1 1-1.2 1-1.3 1-1.4 1-1.1 1-1.2 1-1.2 1-1.2 1-1 1-.8 1-.5 1-.5 1-.5 1-.4 1-.2 1-.1 1 0 1 .1 1 .2 1 .1 1 .2 1 .2 1 .3 1 .3 1 .3 1 .3 1 .3 1 .3 1 .1 1 .2 1 .1 1 .2 1 .1 1 0 1-.1 1-.3 1-.4 1-.5 1-.5 1-.5 1-.6 1-.7 1-.8 1-.9 1-.9 1-1.1 1-1.2 1-1.5 1-1.6 1-1.6 1-1.8 1-1.7 1-1.7 1-1.6 1-1.6 1-1.7 1-1.7 1-1.8 1-1.9 1-2.2 1-2.3 1-2.8 1-3.1 1-3.3 1-3.6 1-3.7 1-3.7 1-4.3 1-4.5 1-4.5 1-4.2 1-4.3 1-4.7 1-3.4 1-.8 1 1.8 1 3.2 1 4 1 3.8 1 3.7 1 4.1 1 4.5 1 4.7 1 5 1 5.9 1 6 1 5.4 1 4 1 3.4 1 3.1 1 3 1 2.9 1 2.8 1 2.6 1 2.5 1 2.2 1 2 1 1.9 1 1.7 1 1.6 1 1.6 1 1.6 1 1.6 1 1.5 1 1.4 1 1.2 1 1.1 1 1 1 1 1 .8 1 .9 1 .8 1 .7 1 .7 1 .7 1 .7 1 .6 1 .6 1 .6 1 .6 1 .5 1 .5 1 .5 1 .5 1 .5 1 .4 1 .5 1 .4 1 .4 1 .4 1 .3 1 .4 1 .3 1 .4 1 .3 1 .4 1 .4 1 .4 1 .5 1 .4 1 .5 1 .4 1 .4 1 .5 1 .4 1 .4 1 .4 1 .3 1 .4 1 .2 1 .3 1 .3 1 .2 1 .3 1 .2 1 .2 1 .3 1 .2 1 .2 1 .2 1 .2 1 .2 1 .1 1 .2 1 .1 1 .1 1 .1 1 .1 1 .1 1 .1 1 0 1 .1 1 .1 1 0 1 .1 1 .1 1 0 1 .1 1 0 1 0 1 .1 1 0 1 0 1 .1 1 0 1 0 1 0 1 0 1 .1 1 0 1 0 1 0 1 0 1 .1 1 0 1 .1 1 0 1 .1 1 .1 1 .1 1 0 1 .1 1 .1 1 0 1 .1 1 0 1 0 1 0 1 0 1 0 1 0 1 0 1-.1 1 0 1 0 1 0 1 0 1-.1 1 0 1 0 1 0 1 0 1 0 1-.1 1 0 1 0 1 0 1 0 1 0 1 0 1 0 1-.1 1 0 1 0 1 0 -.2 0"/></g>
<g fill="none" stroke-width="1.90" stroke-linejoin="round"><path d="M394.8 154.5l1 2.8 1 .8 1-1.8 1 1.1 1-.6 1-.4 1-1.2 1 .6 1 .2 1-.5 1 .6 1-.6 1 .8 1 0 1-.3 1 0 1 .6 1-.4 1 0 1 .8 1 .1 1-.3 1 0 1 .3 1 .3 1 .1 1 .3 1-.1 1 .1 1 .1 1-.1 1 .1 1 .2 1-.1 1-.2 1-.1 1-.4 1-.1 1-.3 1-.6 1-.7 1-.9 1-1 1-.9 1-1.3 1-1.3 1-1.5 1-1.7 1-1.5 1-1.7 1-1.6 1-1.9 1-1.8 1-1.6 1-1.2 1-.9 1-.8 1-.7 1-.5 1-.2 1 .1 1 .5" stroke="#10092d"/><path d="M394.8 160.6l1-3.1 1 .2 1-.7 1 0 1-1.1 1-.5 1 1 1-2 1 1.8 1-.2 1-.6 1 .5 1-.4 1 0 1 .9 1-.2 1 .7 1 .2 1-.5 1 0 1 .4 1-.6 1 .2 1 .4 1 .3 1 .1 1 .1 1 .2 1 .1 1 .1 1 0 1 0 1 0 1-.1 1 0 1-.2 1-.1 1-.3 1-.2 1-.7 1-.7 1-1 1-.9 1-1 1-1.2 1-1.3 1-1.5 1-1.6 1-1.7 1-1.6 1-1.7 1-1.8 1-1.8 1-1.6 1-1.2 1-.9 1-.8 1-.7 1-.5 1-.2 1 .1 1 .5" stroke="#160b39"/><path d="M394.8 159l1-1.3 1-.1 1-2.3 1 2.1 1-1.1 1-.8 1-.4 1 .5 1-1.5 1 2 1-.6 1-.2 1-.2 1 .4 1 .7 1-.9 1 .8 1-.1 1 .3 1 .4 1-.1 1-.2 1 .2 1 .5 1 0 1-.3 1 .6 1 .2 1 0 1 .1 1 .1 1 .1 1 .2 1-.4 1-.1 1-.2 1 0 1-.3 1-.4 1-.4 1-.9 1-.8 1-1 1-1 1-1.1 1-1.4 1-1.5 1-1.7 1-1.6 1-1.6 1-1.7 1-1.8 1-1.7 1-1.7 1-1.2 1-.9 1-.7 1-.7 1-.5 1-.3 1 .2 1 .5" stroke="#1e0c45"/><path d="M394.8 154.6l1 1.3 1 .7 1-1 1-.8 1 3.1 1-1.9 1-.1 1-1.2 1 .2 1 .8 1-.4 1 .6 1 .3 1-1.2 1 .1 1 1 1-.3 1 .4 1 .3 1 0 1-.6 1 .7 1 .3 1-.2 1 0 1 .2 1 .3 1 .1 1 .2 1-.1 1 .3 1-.1 1-.1 1 .2 1-.3 1-.1 1-.1 1-.3 1-.2 1-.6 1-.7 1-.9 1-1 1-1.1 1-1 1-1.4 1-1.5 1-1.6 1-1.7 1-1.6 1-1.6 1-1.9 1-1.7 1-1.6 1-1.2 1-.9 1-.8 1-.7 1-.5 1-.2 1 .1 1 .5" stroke="#260c51"/><path d="M394.8 155.5l1-.2 1-.2 1 1.6 1-.6 1-1.2 1 2.3 1-2.1 1-.2 1 .2 1 .6 1-.9 1-.4 1 .7 1 .5 1-.3 1 .4 1-.3 1 .4 1-.2 1 .6 1 .2 1-.5 1 .4 1 .1 1 .2 1 .1 1 .3 1 .3 1 .2 1-.1 1 .1 1 .2 1-.1 1-.2 1-.1 1-.1 1-.2 1-.3 1-.2 1-.5 1-.8 1-.9 1-1 1-1 1-1.1 1-1.3 1-1.5 1-1.7 1-1.6 1-1.6 1-1.6 1-1.8 1-1.8 1-1.6 1-1.2 1-.9 1-.8 1-.6 1-.5 1-.3 1 .2 1 .4" stroke="#2f0a5b"/><path d="M394.8 155.4l1-.6 1-.2 1 .8 1 .9 1-1.3 1-1.3 1 1.6 1-.8 1 .2 1 1.1 1 .5 1-1.1 1 .2 1-1 1 1.3 1-.9 1 .6 1 .3 1-.2 1-.2 1 .6 1 .3 1-.4 1 .5 1 .4 1 .2 1 .1 1 0 1 .2 1 0 1 .3 1-.3 1 .1 1 0 1-.1 1-.3 1-.1 1-.2 1-.3 1-.5 1-.7 1-1 1-.9 1-1 1-1.2 1-1.3 1-1.4 1-1.7 1-1.6 1-1.6 1-1.6 1-1.8 1-1.8 1-1.6 1-1.2 1-.9 1-.7 1-.7 1-.5 1-.2 1 .1 1 .4" stroke="#390963"/><path d="M394.8 158.4l1-4.4 1 1.6 1 .1 1-2 1 .5 1 .7 1-.2 1 1 1-1.2 1-.9 1 .9 1 .9 1-1.7 1 1.2 1-1 1 1.5 1-.2 1-.2 1 .1 1-.2 1 .4 1 .4 1 .1 1 .4 1-.1 1 .3 1 .3 1 0 1 .1 1 .1 1 .2 1-.1 1 .1 1 0 1-.3 1 .1 1-.2 1-.2 1-.4 1-.4 1-.8 1-.8 1-1.2 1-.9 1-1.1 1-1.3 1-1.6 1-1.5 1-1.7 1-1.6 1-1.5 1-1.9 1-1.7 1-1.6 1-1.2 1-.8 1-.8 1-.7 1-.5 1-.2 1 .1 1 .5" stroke="#420a68"/><path d="M394.8 155.6l1-1.6 1-1.1 1 2 1-1.4 1 .5 1 0 1 .1 1 .5 1-1.4 1 .4 1 .9 1-1 1 .8 1 .4 1 0 1 0 1-.2 1 .4 1-.1 1 .3 1-.4 1 .4 1 .5 1 .3 1 0 1 .4 1 0 1 .5 1-.1 1 .2 1-.2 1 .3 1-.1 1-.1 1-.1 1-.1 1-.2 1-.1 1-.3 1-.6 1-.7 1-.9 1-1 1-.9 1-1.2 1-1.3 1-1.5 1-1.6 1-1.7 1-1.5 1-1.6 1-1.8 1-1.7 1-1.6 1-1.2 1-.8 1-.8 1-.7 1-.5 1-.2 1 .1 1 .5" stroke="#4a0c6b"/><path d="M394.8 153.1l1 1.6 1 .9 1-.2 1-2 1 .6 1-.5 1-1.2 1 1.5 1 .5 1 .2 1-.3 1-.6 1 .2 1-.1 1 .6 1-.4 1 .7 1 .4 1 .1 1-.2 1 .5 1-.2 1 .1 1 .2 1 .1 1 .2 1 .4 1 .1 1 0 1 .3 1 .1 1-.2 1 .1 1-.1 1 0 1-.1 1-.2 1-.2 1-.3 1-.5 1-.7 1-.8 1-1.1 1-.9 1-1.1 1-1.3 1-1.6 1-1.5 1-1.7 1-1.6 1-1.6 1-1.7 1-1.8 1-1.5 1-1.2 1-.8 1-.8 1-.7 1-.4 1-.3 1 .1 1 .5" stroke="#520e6d"/><path d="M394.8 153.8l1 3.2 1-4.3 1 1.6 1 0 1 .1 1-.8 1-.3 1-.1 1-.4 1 .4 1 0 1 .7 1-.4 1 .4 1-.8 1 .7 1 .3 1 .1 1 .2 1 .6 1 0 1-.3 1 .5 1 0 1 .2 1 .4 1 0 1 .2 1-.1 1 .2 1 .3 1 0 1-.1 1 0 1-.2 1 0 1-.1 1-.2 1-.3 1-.6 1-.6 1-.9 1-1 1-1 1-1.1 1-1.3 1-1.5 1-1.6 1-1.6 1-1.5 1-1.7 1-1.7 1-1.7 1-1.5 1-1.2 1-.8 1-.8 1-.7 1-.4 1-.3 1 .1 1 .5" stroke="#5a116e"/><path d="M394.8 154l1-1.6 1 2.5 1-3.4 1 2.7 1-.2 1-.9 1 .2 1-1 1 .6 1-.9 1 .5 1 .5 1-1.1 1 1.4 1 0 1 .2 1 0 1 .7 1-.4 1 0 1 .9 1-.6 1 .5 1 .3 1 .4 1 .2 1-.3 1 .5 1-.1 1 .3 1 0 1 .1 1 0 1 .1 1-.2 1 0 1-.2 1-.2 1-.2 1-.6 1-.7 1-.9 1-.9 1-1 1-1.1 1-1.3 1-1.4 1-1.6 1-1.7 1-1.5 1-1.6 1-1.7 1-1.7 1-1.6 1-1.1 1-.8 1-.8 1-.7 1-.4 1-.3 1 .1 1 .5" stroke="#62146e"/><path d="M394.8 151.4l1 2 1 1.1 1-2.2 1-.5 1 .2 1 .4 1-.2 1-.3 1-.2 1 .9 1-.4 1-.3 1 1.2 1-.7 1 .6 1 .4 1 .1 1 .4 1-.2 1 0 1 .2 1 0 1 .4 1 .3 1 .2 1-.2 1 .6 1 0 1 .5 1 0 1-.1 1 0 1 0 1 .2 1-.1 1-.1 1-.2 1-.2 1-.3 1-.5 1-.6 1-.9 1-1 1-.9 1-1 1-1.4 1-1.4 1-1.6 1-1.7 1-1.5 1-1.6 1-1.6 1-1.8 1-1.5 1-1.2 1-.8 1-.7 1-.7 1-.4 1-.3 1 .1 1 .4" stroke="#6a176e"/><path d="M394.8 154.5l1-3.9 1 2.3 1-.3 1-.3 1 .2 1-1.2 1 .4 1-.1 1 1.1 1 .1 1-1 1 .5 1-.4 1 .3 1 .1 1 .4 1 .1 1 .5 1 .1 1-.3 1 .6 1 0 1 .2 1 .5 1-.1 1 .4 1 .2 1 .1 1 0 1 .3 1 0 1 0 1 .1 1 .2 1-.1 1-.3 1 0 1-.3 1-.2 1-.5 1-.8 1-.7 1-1 1-1 1-1 1-1.3 1-1.5 1-1.5 1-1.6 1-1.6 1-1.6 1-1.7 1-1.6 1-1.6 1-1.1 1-.8 1-.7 1-.7 1-.4 1-.3 1 .1 1 .4" stroke="#721a6e"/><path d="M394.8 151.7l1 1.3 1-1.1 1-1.5 1 .8 1 1.3 1-.2 1 0 1-.2 1-.2 1-.1 1-.1 1 .1 1 0 1 0 1 .7 1-.1 1 .5 1-.5 1 .4 1 .2 1 .3 1-.1 1 .2 1-.1 1 .4 1 .4 1 .3 1 0 1 .4 1-.1 1 .3 1-.1 1 .2 1-.1 1 .1 1-.2 1-.1 1-.1 1-.2 1-.5 1-.8 1-.8 1-.9 1-1 1-1.1 1-1.3 1-1.4 1-1.6 1-1.6 1-1.5 1-1.6 1-1.6 1-1.7 1-1.5 1-1.1 1-.8 1-.8 1-.6 1-.5 1-.2 1 .1 1 .4" stroke="#7c1d6d"/><path d="M394.8 151.3l1 .9 1-1.9 1 2 1-1.4 1-1.1 1 .2 1 1.4 1-1.4 1 .1 1 .5 1 .6 1 .2 1-.3 1-.2 1 .7 1 .2 1 .3 1 .1 1 .1 1 .2 1 .5 1-.2 1 .3 1 .2 1 .5 1-.3 1 .4 1 .5 1-.1 1 .3 1 .1 1 0 1 .1 1 .1 1-.2 1 0 1-.2 1-.1 1-.2 1-.6 1-.6 1-.8 1-1 1-1.1 1-.9 1-1.3 1-1.5 1-1.5 1-1.6 1-1.5 1-1.5 1-1.7 1-1.7 1-1.5 1-1 1-.9 1-.7 1-.6 1-.5 1-.2 1 .1 1 .3" stroke="#84206b"/><path d="M394.8 151.5l1-2.2 1 3 1-3.9 1 1 1 1.4 1 1 1-.6 1 .2 1-.8 1-1.5 1 2.1 1-.3 1-.2 1 .2 1 .1 1 .5 1 .1 1 .1 1-.3 1 .9 1 .1 1-.1 1 .6 1 0 1 .2 1 .3 1 0 1 .4 1 .1 1 .1 1 .4 1-.1 1 .1 1 .1 1 0 1-.1 1-.2 1-.1 1-.3 1-.4 1-.7 1-.9 1-.9 1-.9 1-1.1 1-1.3 1-1.4 1-1.6 1-1.5 1-1.5 1-1.6 1-1.6 1-1.6 1-1.5 1-1.1 1-.8 1-.7 1-.6 1-.5 1-.2 1 0 1 .4" stroke="#8c2369"/><path d="M394.8 147.9l1 .4 1 1.5 1-.7 1 .6 1-.2 1 1.4 1-1.4 1 .2 1 0 1 .2 1 0 1 .5 1 .6 1-.7 1 .6 1-.3 1 .2 1 .3 1 .2 1-.1 1 .8 1-.1 1 .5 1 .1 1 .2 1 .2 1 .3 1 0 1 .5 1 0 1 .3 1 0 1 0 1 0 1 .1 1 0 1-.1 1-.1 1-.4 1-.5 1-.6 1-.9 1-.8 1-1 1-1.1 1-1.2 1-1.5 1-1.5 1-1.6 1-1.5 1-1.5 1-1.6 1-1.6 1-1.5 1-1.1 1-.7 1-.7 1-.6 1-.5 1-.3 1 .1 1 .4" stroke="#932667"/><path d="M394.8 146.8l1 1.9 1 .9 1-.9 1 .4 1-.1 1 .7 1 .1 1-.3 1-.7 1 1 1-1.2 1 1.1 1 0 1 .6 1 .3 1-.2 1 .3 1 .2 1 .3 1 .4 1-.2 1 0 1 .7 1-.1 1 .2 1 .5 1 .2 1 .1 1 .1 1 .4 1 .1 1 0 1 .1 1 0 1 .1 1-.1 1-.1 1-.1 1-.4 1-.4 1-.6 1-1 1-.7 1-1 1-1.1 1-1.2 1-1.4 1-1.6 1-1.5 1-1.5 1-1.5 1-1.6 1-1.6 1-1.5 1-1 1-.8 1-.7 1-.6 1-.4 1-.3 1 .1 1 .3" stroke="#9b2964"/><path d="M394.8 148.8l1 .6 1-.3 1-.5 1-.1 1-1.2 1 2.9 1-1.5 1 .2 1 .5 1-.1 1-.2 1-.1 1 .7 1 .4 1 0 1-1.1 1 1 1 0 1 .8 1-.2 1 .6 1 .1 1-.4 1 .6 1 .8 1-.2 1 .3 1 .2 1 .4 1-.1 1 .3 1-.1 1 .1 1 .1 1 0 1 0 1-.1 1-.1 1-.3 1-.4 1-.6 1-.9 1-.9 1-.9 1-1 1-1.2 1-1.5 1-1.6 1-1.4 1-1.5 1-1.5 1-1.7 1-1.5 1-1.4 1-1.1 1-.7 1-.7 1-.6 1-.5 1-.2 1 0 1 .3" stroke="#a32c61"/><path d="M394.8 148l1 1.4 1-.9 1-1.7 1 .3 1 .6 1-.1 1-.2 1 .7 1-.7 1 .6 1 1.1 1-.7 1 .3 1 .5 1-.8 1 1.6 1-.3 1 .7 1 0 1-.1 1 .2 1 0 1 .6 1-.1 1 .5 1 .1 1 .4 1 .1 1 .4 1 .1 1 .1 1 .2 1-.1 1 .2 1-.1 1 .1 1-.2 1-.1 1-.1 1-.6 1-.7 1-.6 1-1 1-.9 1-1 1-1.3 1-1.4 1-1.5 1-1.6 1-1.4 1-1.5 1-1.5 1-1.6 1-1.4 1-1 1-.8 1-.7 1-.6 1-.4 1-.3 1 .1 1 .3" stroke="#ab2f5e"/><path d="M394.8 147.5l1 2.3 1-3.3 1 3 1-2 1-.7 1-.9 1 1.6 1-.3 1 .2 1 1.1 1-.2 1-.1 1-.1 1 0 1 .5 1 .1 1 .2 1 1.4 1-.7 1-.3 1 .7 1 .5 1 .1 1 0 1 .4 1 0 1 .5 1 .3 1 .1 1 .2 1 .1 1 .1 1 .1 1 .1 1 .2 1-.1 1-.1 1-.1 1-.3 1-.4 1-.7 1-.7 1-1 1-.8 1-1.1 1-1.1 1-1.5 1-1.5 1-1.5 1-1.5 1-1.4 1-1.6 1-1.5 1-1.4 1-1 1-.8 1-.6 1-.6 1-.5 1-.2 1 0 1 .3" stroke="#b3325a"/><path d="M394.8 146.2l1-.1 1-.5 1 .2 1 0 1 1.5 1 .4 1-.9 1-.1 1 .6 1 .8 1-1.6 1 1.1 1-.1 1 .9 1-1.1 1 .7 1 .2 1 .5 1 .1 1 .5 1 .2 1 .4 1 .2 1-.5 1 1.1 1 .2 1 .2 1 0 1 .2 1 .5 1 .1 1 .1 1 .1 1 .2 1 0 1-.3 1 .1 1-.1 1-.3 1-.3 1-.7 1-.8 1-.9 1-.9 1-.9 1-1.3 1-1.4 1-1.5 1-1.5 1-1.4 1-1.4 1-1.6 1-1.5 1-1.4 1-1 1-.7 1-.7 1-.6 1-.4 1-.3 1 .1 1 .3" stroke="#bc3754"/><path d="M394.8 146.5l1-1.9 1 .6 1-1.5 1 3.5 1-3.1 1 .3 1 1.7 1 .3 1-.8 1-.1 1-.5 1 1.7 1 0 1-.1 1 1 1 .5 1-.1 1 .1 1 .6 1 .1 1 .1 1 0 1 .4 1 .5 1 .1 1 .5 1 .1 1 .3 1 .3 1 .1 1 .3 1 .3 1-.2 1 .2 1 0 1 .1 1-.2 1-.1 1-.2 1-.4 1-.7 1-.7 1-1 1-.8 1-1 1-1.2 1-1.4 1-1.5 1-1.5 1-1.4 1-1.4 1-1.5 1-1.5 1-1.4 1-1 1-.7 1-.6 1-.6 1-.5 1-.2 1 0 1 .3" stroke="#c33b4f"/><path d="M394.8 143.5l1 2.7 1-1.1 1-2 1 1 1 2.1 1-3.4 1 1.9 1 1.5 1-1.2 1 .3 1 .6 1 1.1 1-.9 1 .4 1 .2 1 1.2 1 .2 1-.2 1 0 1 .4 1 .4 1-.3 1 .7 1-.2 1 .5 1 .5 1 0 1 .4 1 .2 1 .3 1-.1 1 .3 1 .2 1 .2 1-.1 1 .1 1 0 1-.2 1-.1 1-.5 1-.7 1-.7 1-.8 1-.9 1-1 1-1.1 1-1.5 1-1.4 1-1.5 1-1.5 1-1.4 1-1.4 1-1.6 1-1.3 1-.9 1-.7 1-.7 1-.6 1-.4 1-.2 1 0 1 .2" stroke="#ca404a"/><path d="M394.8 144.6l1-1.1 1-1.1 1 4.1 1-4.1 1 .8 1 0 1 2.4 1-.3 1-.9 1 .1 1 1 1 .2 1 .1 1-.3 1 .7 1 .6 1 0 1-.2 1 .9 1-.5 1 1.1 1 0 1 0 1 .7 1 .2 1 .2 1 .4 1 .4 1 0 1 .4 1 .1 1 .2 1-.1 1 .3 1 0 1 0 1 0 1 0 1-.4 1-.2 1-.6 1-.8 1-.9 1-.9 1-.9 1-1.2 1-1.4 1-1.5 1-1.5 1-1.3 1-1.4 1-1.5 1-1.5 1-1.3 1-.9 1-.7 1-.7 1-.5 1-.5 1-.2 1 0 1 .2" stroke="#d04545"/><path d="M394.8 142.4l1 .9 1-1.2 1 1.4 1-.1 1-.6 1-1.7 1 2.7 1-.2 1 2.4 1-2.1 1 .5 1 .6 1 .7 1 .2 1-.2 1 0 1 .2 1 .5 1 .4 1-.5 1 .8 1 .3 1 .6 1 .1 1 .3 1 .4 1 .2 1 .3 1 .7 1-.1 1 .1 1 .3 1-.1 1 .2 1 .1 1-.1 1 .1 1-.1 1-.2 1-.4 1-.5 1-.9 1-.7 1-1 1-.9 1-1.2 1-1.4 1-1.4 1-1.4 1-1.4 1-1.4 1-1.5 1-1.4 1-1.3 1-.9 1-.7 1-.7 1-.5 1-.4 1-.2 1-.1 1 .3" stroke="#d74b3f"/><path d="M394.8 141.7l1 2.6 1-2.6 1 .8 1-.1 1-2.7 1 3.3 1 .2 1 .1 1 .1 1 1.2 1-1.7 1 2.1 1-.5 1-.1 1 1.2 1 .1 1 .1 1-.3 1 .7 1 .5 1 .1 1-.2 1 .7 1 .2 1 .5 1 .2 1 .5 1 0 1 .4 1 .4 1 0 1 .4 1-.2 1 .3 1 0 1 0 1 .1 1 0 1-.3 1-.3 1-.6 1-.9 1-.8 1-.8 1-.9 1-1.2 1-1.4 1-1.4 1-1.5 1-1.3 1-1.4 1-1.4 1-1.4 1-1.3 1-1 1-.6 1-.6 1-.5 1-.5 1-.2 1 0 1 .2" stroke="#dd513a"/><path d="M394.8 141l1 .7 1 .5 1-1.4 1-.2 1 1 1 1.6 1-1.5 1 .5 1 1.9 1-1.4 1 .7 1 .6 1-.2 1 .4 1-.1 1 .7 1 .1 1 0 1 .8 1-.4 1 .7 1 .2 1 .7 1 .2 1 .4 1 .5 1-.1 1 .4 1 .4 1 0 1 .6 1-.1 1 .2 1 .1 1 .1 1 .1 1-.1 1-.1 1-.1 1-.3 1-.7 1-.7 1-.8 1-.8 1-1 1-1.1 1-1.4 1-1.5 1-1.4 1-1.3 1-1.4 1-1.4 1-1.4 1-1.2 1-.9 1-.7 1-.6 1-.5 1-.4 1-.3 1 0 1 .2" stroke="#e25734"/><path d="M394.8 140.4l1 1.2 1 0 1-2.3 1 1.8 1 .8 1-1.6 1 .7 1 .2 1 .6 1-.4 1 1.5 1 .1 1-.7 1 1.3 1 .2 1 .3 1 0 1 .5 1 .3 1 .7 1 0 1 .1 1 .5 1 .3 1 .5 1 0 1 .7 1 .2 1 .1 1 .4 1 .2 1 0 1 .3 1 .2 1 0 1 0 1 .2 1-.1 1-.1 1-.4 1-.6 1-.8 1-.8 1-.9 1-.8 1-1.2 1-1.4 1-1.3 1-1.5 1-1.3 1-1.3 1-1.4 1-1.4 1-1.2 1-.9 1-.7 1-.6 1-.5 1-.4 1-.2 1-.1 1 .2" stroke="#e75e2e"/><path d="M394.8 137.8l1 2.8 1-1.6 1 1 1-.2 1 .5 1-.4 1-.3 1 .9 1 .4 1 .5 1 1 1-.3 1 1 1 .3 1-.8 1 .3 1 .7 1 .8 1-.2 1 .3 1 .2 1 .8 1-.1 1 .4 1 .3 1 .5 1 .5 1 .1 1 .5 1 .1 1 .3 1 .1 1 .2 1 .1 1 .2 1 .1 1-.1 1 0 1-.2 1-.3 1-.6 1-.7 1-.8 1-.8 1-.9 1-1.2 1-1.4 1-1.3 1-1.5 1-1.2 1-1.3 1-1.4 1-1.4 1-1.2 1-.8 1-.7 1-.5 1-.6 1-.4 1-.2 1-.1 1 .2" stroke="#eb6628"/><path d="M394.8 138.6l1-.6 1-.2 1 1.3 1 .6 1-.7 1-.5 1 .9 1-.6 1 2.3 1 .2 1-.6 1 .8 1 .4 1 .1 1 .7 1 .5 1 .2 1 .2 1 0 1 .5 1 .3 1 .2 1 .5 1 0 1 .6 1 .3 1 .4 1 .4 1 .3 1 .1 1 .4 1 .1 1 .3 1 0 1 .2 1 0 1 .2 1-.1 1-.1 1-.4 1-.6 1-.7 1-.8 1-.8 1-.9 1-1.2 1-1.3 1-1.4 1-1.3 1-1.3 1-1.3 1-1.4 1-1.3 1-1.2 1-.8 1-.6 1-.6 1-.5 1-.4 1-.3 1 0 1 .1" stroke="#f06f20"/><path d="M394.8 138.9l1-.5 1 1.6 1-3.3 1 .6 1 1.2 1-.8 1 .5 1 2 1-.6 1 .1 1 1.5 1-1.2 1 .9 1 .1 1 .8 1 .4 1-.4 1 .8 1 1 1-.5 1 .4 1 .1 1 .8 1 .1 1 .7 1 .3 1 .5 1 .1 1 .5 1 .2 1 .3 1 .3 1-.1 1 .2 1 .2 1 .3 1-.1 1 0 1-.2 1-.4 1-.5 1-.7 1-.8 1-.8 1-.8 1-1.3 1-1.2 1-1.4 1-1.4 1-1.3 1-1.3 1-1.3 1-1.3 1-1.1 1-.9 1-.5 1-.6 1-.5 1-.4 1-.3 1 0 1 .1" stroke="#f37819"/><path d="M394.8 136.6l1 2.3 1-1.1 1 0 1-1.2 1 1.7 1-.9 1 .9 1-.4 1 1.1 1 .3 1 .6 1-.1 1-.4 1 1.1 1 .8 1-.2 1 .3 1 .3 1 .4 1 .3 1 .3 1 .4 1 .6 1 .4 1 .5 1 .1 1 .7 1 0 1 .6 1 .2 1 .3 1 .4 1 0 1 .2 1 .1 1 .1 1 .1 1 0 1-.1 1-.4 1-.6 1-.6 1-.8 1-.7 1-1 1-1.1 1-1.3 1-1.4 1-1.3 1-1.3 1-1.2 1-1.4 1-1.2 1-1.1 1-.9 1-.6 1-.5 1-.5 1-.4 1-.2 1-.1 1 .1" stroke="#f68013"/><path d="M394.8 135l1 1 1 2.2 1-2.4 1-.2 1-.2 1 2 1-.1 1 .8 1 0 1 1.1 1-.7 1 1 1 .2 1 .2 1 0 1-.1 1 .4 1 2.1 1-.8 1 .2 1 .5 1 .5 1 .4 1 .6 1 .3 1 .4 1 .1 1 .7 1 .1 1 .4 1 .4 1 0 1 .3 1 .3 1 0 1 0 1 .1 1 .2 1-.3 1-.2 1-.6 1-.7 1-.7 1-.8 1-.9 1-1.1 1-1.3 1-1.3 1-1.4 1-1.3 1-1.1 1-1.3 1-1.3 1-1.1 1-.8 1-.6 1-.5 1-.5 1-.4 1-.2 1-.1 1 .1" stroke="#f8890c"/><path d="M394.8 135.2l1 1.9 1-.7 1-.8 1 .5 1-.4 1 .9 1 .7 1-.9 1 .4 1 1.5 1-.5 1 .5 1-.2 1 1.3 1 .3 1-.1 1 1.1 1-.3 1 .2 1 .7 1 .7 1 .2 1 .4 1 .5 1 .2 1 .4 1 .3 1 .4 1 .5 1 .3 1 .3 1 .1 1 .2 1 .3 1 .1 1 .1 1 .2 1-.1 1-.1 1-.3 1-.6 1-.7 1-.7 1-.7 1-.9 1-1.1 1-1.3 1-1.3 1-1.3 1-1.3 1-1.1 1-1.3 1-1.2 1-1.1 1-.8 1-.6 1-.5 1-.5 1-.4 1-.2 1-.1 1 .1" stroke="#fa9207"/><path d="M394.8 132.8l1 3.2 1-1.2 1-.8 1-.2 1 1.1 1 .4 1 .1 1-.1 1 1 1 0 1 .8 1 .7 1 .1 1 .2 1 .5 1 .8 1 .1 1 .9 1 .3 1 .1 1 .2 1 .4 1 .3 1 .6 1 .5 1 .3 1 .4 1 .5 1 .4 1 .1 1 .2 1 .4 1 .2 1 .2 1 .2 1 .2 1 0 1 .1 1 0 1-.4 1-.6 1-.6 1-.8 1-.8 1-.8 1-1.1 1-1.2 1-1.4 1-1.3 1-1.2 1-1.2 1-1.2 1-1.2 1-1.1 1-.8 1-.5 1-.5 1-.5 1-.3 1-.3 1-.1 1 .1" stroke="#fb9b06"/><path d="M394.8 133.3l1 0 1-.5 1 .2 1-.3 1-.3 1 1.2 1-.9 1 2 1 1.3 1 .1 1-.1 1 1.4 1-.4 1 .3 1 .8 1 .2 1 .5 1 .1 1 .8 1-.2 1 .8 1 .5 1 .3 1 .6 1 .3 1 .6 1 .5 1 .2 1 .5 1 .2 1 .5 1 .1 1 .2 1 .2 1 .2 1 .2 1-.1 1 .2 1 0 1-.5 1-.5 1-.6 1-.7 1-.7 1-.9 1-1.1 1-1.2 1-1.4 1-1.3 1-1.2 1-1.1 1-1.2 1-1.2 1-1 1-.8 1-.5 1-.5 1-.5 1-.3 1-.3 1-.1 1 0" stroke="#fca50a"/></g>
<g fill="none" stroke-width="1.90" stroke-linejoin="round"><path d="M394.8 158.1l1 .1 1-1.2 1-1.4 1-.3 1 .7 1 0 1-.2 1-.1 1 0 1-.5 1 .5 1 .6 1 .3 1-.2 1-.4 1 0 1-.1 1 .4 1 .2 1-.3 1 .3 1 .5 1 .2 1-.2 1 .1 1 .3 1 .2 1 0 1 .1 1 .2 1 .3 1-.1 1-.2 1-.1 1-.2 1-.1 1-.1 1-.2 1-.2 1-.7 1-.7 1-.9 1-1 1-1.1 1-1 1-1.4 1-1.5 1-1.7 1-1.6 1-1.6 1-1.6 1-1.8 1-1.8 1-1.7 1-1.2 1-.9 1-.8 1-.7 1-.5 1-.2 1 .2 1 .4 1 .8 1 .9 1 .9 1 1 1 1.2 1 1.4 1 1.5 1 1.6 1 1.6 1 1.6 1 1.6 1 1.6 1 1.6 1 1.7 1 1.7 1 1.6 1 1.7 1 1.6 1 1.7 1 1.7 1 1.6 1 1.6 1 1.4 1 1.3 1 1.1 1 1 1 1 1 .9 1 .7 1 .7 1 .4 1 .5 1 .4 1 .3 1 .3 1 .3 1 .1 1 0 1 0 1 0 1 0 1 0 1 0 1 0 1 0 1-.1 1-.1 1-.1 1-.1 1-.1 1-.1 1-.1 1-.1 1 0 1 0 1 .1 1 .1 1 .1 1 .1 1 .2 1 .2 1 .2 1 .2 1 .1 1 .2 1 .1 1 .1 1 .2 1 .1 1 .1 1 .1 1 .1 1 .2 1 .1 1 .1 1 .1 1 .2 1 .1 1 .2 1 .1 1 .2 1 .2 1 .2 1 .2 1 .2 1 .3 1 .3 1 .3 1 .4 1 .3 1 .4 1 .3 1 .4 1 .4 1 .3 1 .3 1 .4 1 .2 1 .3 1 .3 1 .3 1 .3 1 .3 1 .3 1 .3 1 .3 1 .3 1 .2 1 .3 1 .2 1 .2 1 .2 1 .1 1 .1 1 .1 1 0 1 .1 1 0 1 0 1 0 1 .1 1 0 1 0 1 0 1 0 1-.1 1-.1 1-.2 1-.2 1-.2 1-.3 1-.2 1-.3 1-.2 1-.2 1-.3 1-.3 1-.3 1-.3 1-.4 1-.3 1-.4 1-.3 1-.4 1-.4 1-.4 1-.4 1-.3 1-.4 1-.4 1-.4 1-.3 1-.4 1-.4 1-.4 1-.4 1-.3 1-.4 1-.4 1-.4 1-.4 1-.5 1-.4 1-.4 1-.4 1-.5 1-.4 1-.5 1-.5 1-.5 1-.6 1-.5 1-.6 1-.5 1-.5 1-.4 1-.5 1-.4 1-.4 1-.3 1-.4 1-.3 1-.3 1-.4 1-.3 1-.3 1-.3 1-.2 1-.3 1-.2 1-.1 1-.2 1-.1 1-.1 1-.2 1-.1 1-.1 1-.1 1-.1 1 0 1-.1 1-.1 1-.1 1-.1 1 0 1-.1 1-.1 1-.1 1 0 1-.1 1 0 1-.1 1-.1 1 0 1-.1 1 0 1 0 1-.1 -.2 0" stroke="#10092d"/><path d="M394.8 156.8l1-.6 1 .5 1 1.6 1-1.3 1-1.3 1 .1 1 .4 1 .4 1-1 1-.9 1 .1 1 0 1-.1 1 .5 1 .3 1 .3 1 .5 1-.3 1-.3 1 .2 1 .5 1 .1 1-.2 1 .2 1 .4 1 .1 1 .3 1 .2 1 0 1 0 1 .1 1 .1 1-.2 1 0 1-.1 1-.1 1-.2 1-.1 1-.2 1-.7 1-.7 1-.9 1-1.1 1-1 1-1 1-1.4 1-1.5 1-1.6 1-1.7 1-1.6 1-1.6 1-1.8 1-1.9 1-1.6 1-1.2 1-.8 1-.8 1-.7 1-.5 1-.2 1 .1 1 .5 1 .7 1 .9 1 .9 1 1 1 1.2 1 1.3 1 1.5 1 1.6 1 1.5 1 1.6 1 1.5 1 1.6 1 1.6 1 1.6 1 1.7 1 1.6 1 1.6 1 1.5 1 1.7 1 1.6 1 1.6 1 1.5 1 1.4 1 1.2 1 1 1 1 1 .9 1 .9 1 .7 1 .6 1 .4 1 .4 1 .3 1 .3 1 .3 1 .2 1 0 1 0 1 0 1-.1 1-.1 1 0 1-.1 1-.1 1 0 1-.2 1-.1 1-.2 1-.2 1-.3 1-.2 1-.2 1-.1 1-.1 1-.1 1 0 1 .1 1 .1 1 .1 1 .2 1 .3 1 .2 1 .3 1 .3 1 .2 1 .3 1 .2 1 .2 1 .3 1 .2 1 .2 1 .3 1 .2 1 .2 1 .2 1 .2 1 .2 1 .2 1 .2 1 .2 1 .2 1 .3 1 .2 1 .2 1 .3 1 .3 1 .4 1 .3 1 .4 1 .4 1 .3 1 .4 1 .4 1 .4 1 .3 1 .4 1 .3 1 .3 1 .3 1 .3 1 .3 1 .3 1 .3 1 .3 1 .3 1 .3 1 .3 1 .3 1 .2 1 .3 1 .2 1 .2 1 .1 1 .1 1 .1 1 0 1 .1 1 0 1 .1 1 0 1 0 1 0 1 .1 1 0 1 0 1-.1 1-.1 1-.2 1-.2 1-.2 1-.2 1-.2 1-.2 1-.3 1-.2 1-.3 1-.2 1-.3 1-.3 1-.4 1-.3 1-.3 1-.4 1-.3 1-.4 1-.4 1-.3 1-.4 1-.4 1-.3 1-.4 1-.4 1-.3 1-.4 1-.3 1-.4 1-.4 1-.4 1-.4 1-.3 1-.4 1-.4 1-.4 1-.5 1-.4 1-.4 1-.5 1-.4 1-.5 1-.5 1-.5 1-.6 1-.5 1-.5 1-.5 1-.4 1-.4 1-.4 1-.4 1-.4 1-.3 1-.3 1-.4 1-.3 1-.3 1-.3 1-.3 1-.2 1-.2 1-.2 1-.2 1-.1 1-.2 1-.1 1-.1 1-.1 1-.1 1-.1 1-.1 1-.1 1-.1 1 0 1-.1 1-.1 1-.1 1 0 1-.1 1-.1 1 0 1-.1 1-.1 1 0 1-.1 1 0 1-.1 1 0 1-.1 1 0 -.2 0" stroke="#260c51"/><path d="M394.8 155.2l1 .3 1-.6 1-.2 1 1.2 1-.9 1-1.1 1 .4 1 .6 1 .4 1-.2 1-.6 1-.4 1 .3 1 .5 1-.2 1 0 1 .5 1 .3 1-.1 1 0 1 .1 1 0 1 .3 1 .4 1 .6 1 0 1-.2 1 .3 1-.1 1 .1 1 .1 1 .1 1 .2 1-.1 1-.3 1-.1 1-.1 1-.2 1-.3 1-.6 1-.8 1-.8 1-.9 1-1.1 1-1.1 1-1.3 1-1.5 1-1.6 1-1.7 1-1.6 1-1.5 1-1.8 1-1.8 1-1.6 1-1.2 1-.8 1-.8 1-.7 1-.5 1-.2 1 .1 1 .5 1 .7 1 .8 1 .9 1 1 1 1.1 1 1.4 1 1.4 1 1.6 1 1.6 1 1.5 1 1.5 1 1.6 1 1.6 1 1.6 1 1.6 1 1.6 1 1.5 1 1.6 1 1.5 1 1.7 1 1.5 1 1.5 1 1.3 1 1.2 1 1 1 .9 1 .9 1 .8 1 .7 1 .5 1 .4 1 .4 1 .3 1 .2 1 .3 1 .1 1 0 1 0 1-.1 1-.1 1-.1 1-.1 1-.2 1-.1 1-.1 1-.2 1-.2 1-.3 1-.3 1-.3 1-.3 1-.2 1-.3 1-.1 1-.1 1-.1 1 .1 1 .1 1 .1 1 .2 1 .3 1 .3 1 .3 1 .4 1 .3 1 .4 1 .3 1 .3 1 .3 1 .4 1 .3 1 .3 1 .3 1 .2 1 .3 1 .3 1 .2 1 .3 1 .2 1 .3 1 .2 1 .3 1 .2 1 .3 1 .3 1 .4 1 .3 1 .4 1 .4 1 .4 1 .4 1 .4 1 .4 1 .3 1 .4 1 .4 1 .3 1 .3 1 .3 1 .3 1 .3 1 .3 1 .4 1 .3 1 .3 1 .3 1 .3 1 .2 1 .3 1 .2 1 .2 1 .2 1 .2 1 .1 1 .1 1 0 1 .1 1 0 1 .1 1 0 1 .1 1 0 1 0 1 0 1 .1 1-.1 1-.1 1-.2 1-.1 1-.2 1-.3 1-.2 1-.2 1-.2 1-.2 1-.3 1-.2 1-.3 1-.3 1-.3 1-.3 1-.4 1-.3 1-.4 1-.3 1-.4 1-.3 1-.4 1-.4 1-.3 1-.4 1-.3 1-.4 1-.3 1-.4 1-.4 1-.3 1-.4 1-.4 1-.4 1-.4 1-.4 1-.4 1-.4 1-.4 1-.4 1-.4 1-.5 1-.4 1-.5 1-.5 1-.6 1-.5 1-.5 1-.4 1-.4 1-.4 1-.4 1-.3 1-.4 1-.3 1-.3 1-.3 1-.3 1-.3 1-.3 1-.2 1-.3 1-.2 1-.2 1-.1 1-.2 1-.1 1-.1 1-.1 1-.1 1-.1 1-.1 1-.1 1-.1 1-.1 1-.1 1 0 1-.1 1-.1 1 0 1-.1 1-.1 1 0 1-.1 1-.1 1 0 1-.1 1 0 1-.1 1 0 1 0 1-.1 -.2 0" stroke="#420a68"/><path d="M394.8 154.1l1 0 1-.6 1 .8 1-.6 1-1.4 1 .5 1 .8 1 .2 1-.7 1-.1 1-.1 1 0 1 .6 1 .6 1 .1 1-.2 1 .4 1 .1 1-.7 1 .3 1 .5 1 .3 1 0 1 .2 1 .5 1 0 1 0 1 .1 1 .2 1 .4 1 .1 1 0 1 .1 1-.1 1-.1 1-.2 1-.2 1-.1 1-.3 1-.5 1-.7 1-.9 1-1 1-1 1-1 1-1.4 1-1.5 1-1.6 1-1.6 1-1.5 1-1.6 1-1.8 1-1.7 1-1.5 1-1.2 1-.8 1-.8 1-.6 1-.5 1-.3 1 .1 1 .5 1 .6 1 .8 1 .9 1 .9 1 1.1 1 1.4 1 1.4 1 1.6 1 1.5 1 1.5 1 1.6 1 1.5 1 1.6 1 1.5 1 1.6 1 1.5 1 1.5 1 1.5 1 1.5 1 1.6 1 1.5 1 1.4 1 1.3 1 1.1 1 .9 1 .9 1 .9 1 .7 1 .6 1 .5 1 .3 1 .3 1 .3 1 .2 1 .1 1 .1 1 0 1-.1 1-.2 1-.1 1-.2 1-.2 1-.2 1-.2 1-.2 1-.3 1-.3 1-.4 1-.3 1-.4 1-.4 1-.4 1-.3 1-.3 1-.2 1-.1 1 0 1 .1 1 .1 1 .3 1 .3 1 .4 1 .4 1 .5 1 .4 1 .5 1 .5 1 .4 1 .5 1 .4 1 .5 1 .4 1 .4 1 .3 1 .4 1 .3 1 .4 1 .3 1 .3 1 .3 1 .3 1 .3 1 .3 1 .4 1 .3 1 .4 1 .4 1 .4 1 .4 1 .4 1 .4 1 .4 1 .5 1 .4 1 .3 1 .4 1 .4 1 .3 1 .3 1 .3 1 .3 1 .3 1 .4 1 .3 1 .3 1 .3 1 .3 1 .3 1 .3 1 .2 1 .2 1 .2 1 .2 1 .1 1 .1 1 0 1 .1 1 .1 1 0 1 .1 1 0 1 .1 1 0 1 .1 1 0 1-.1 1-.1 1-.1 1-.2 1-.1 1-.2 1-.2 1-.2 1-.2 1-.2 1-.3 1-.2 1-.3 1-.3 1-.2 1-.4 1-.3 1-.3 1-.3 1-.4 1-.3 1-.4 1-.3 1-.4 1-.3 1-.4 1-.3 1-.4 1-.3 1-.4 1-.3 1-.4 1-.3 1-.4 1-.4 1-.4 1-.3 1-.4 1-.4 1-.4 1-.4 1-.4 1-.5 1-.4 1-.5 1-.5 1-.5 1-.5 1-.4 1-.4 1-.4 1-.4 1-.3 1-.4 1-.3 1-.3 1-.3 1-.2 1-.3 1-.3 1-.2 1-.3 1-.2 1-.2 1-.2 1-.1 1-.2 1-.1 1-.1 1-.1 1-.1 1-.1 1-.1 1-.1 1 0 1-.1 1-.1 1 0 1-.1 1-.1 1-.1 1 0 1-.1 1 0 1-.1 1-.1 1 0 1-.1 1 0 1 0 1-.1 1 0 1-.1 -.2 0" stroke="#5a116e"/><path d="M394.8 152.8l1-.3 1-1.9 1 .5 1 .8 1-.8 1 .4 1-.2 1-.2 1 .6 1 .2 1 .1 1 0 1 0 1 .1 1 .1 1 .5 1 .2 1-.2 1 .2 1 .4 1 .4 1 .1 1 0 1 .1 1 .5 1 .2 1-.1 1 .3 1 .1 1 .3 1 .2 1 0 1 0 1-.1 1 .1 1 0 1-.1 1-.1 1-.5 1-.6 1-.6 1-.8 1-1 1-1 1-1 1-1.3 1-1.5 1-1.6 1-1.6 1-1.6 1-1.4 1-1.7 1-1.7 1-1.6 1-1.1 1-.8 1-.7 1-.7 1-.5 1-.2 1 .1 1 .4 1 .6 1 .8 1 .8 1 .9 1 1.1 1 1.3 1 1.4 1 1.5 1 1.5 1 1.6 1 1.5 1 1.5 1 1.5 1 1.5 1 1.5 1 1.5 1 1.4 1 1.5 1 1.4 1 1.5 1 1.4 1 1.4 1 1.2 1 1 1 .9 1 .8 1 .8 1 .6 1 .6 1 .4 1 .3 1 .2 1 .2 1 .1 1 .1 1 0 1-.1 1-.2 1-.2 1-.2 1-.3 1-.2 1-.3 1-.3 1-.3 1-.4 1-.5 1-.5 1-.5 1-.5 1-.5 1-.6 1-.4 1-.4 1-.3 1-.2 1-.1 1 .1 1 .2 1 .3 1 .4 1 .5 1 .5 1 .6 1 .6 1 .6 1 .7 1 .6 1 .6 1 .6 1 .6 1 .6 1 .5 1 .5 1 .5 1 .4 1 .4 1 .4 1 .4 1 .4 1 .4 1 .3 1 .4 1 .4 1 .4 1 .4 1 .4 1 .5 1 .4 1 .5 1 .4 1 .5 1 .4 1 .4 1 .4 1 .4 1 .4 1 .3 1 .3 1 .4 1 .3 1 .3 1 .4 1 .3 1 .3 1 .3 1 .3 1 .3 1 .3 1 .2 1 .3 1 .2 1 .1 1 .2 1 .1 1 0 1 .1 1 .1 1 .1 1 0 1 .1 1 .1 1 0 1 .1 1 0 1 0 1-.1 1-.1 1-.1 1-.2 1-.2 1-.2 1-.1 1-.2 1-.2 1-.2 1-.2 1-.3 1-.2 1-.3 1-.3 1-.3 1-.3 1-.3 1-.3 1-.4 1-.3 1-.3 1-.4 1-.3 1-.3 1-.4 1-.3 1-.4 1-.3 1-.4 1-.3 1-.4 1-.3 1-.4 1-.3 1-.4 1-.4 1-.3 1-.4 1-.4 1-.4 1-.4 1-.4 1-.4 1-.5 1-.5 1-.4 1-.5 1-.4 1-.3 1-.3 1-.4 1-.3 1-.2 1-.3 1-.3 1-.2 1-.3 1-.2 1-.2 1-.3 1-.2 1-.2 1-.1 1-.1 1-.2 1-.1 1-.1 1-.1 1-.1 1-.1 1 0 1-.1 1-.1 1-.1 1 0 1-.1 1-.1 1 0 1-.1 1 0 1-.1 1-.1 1 0 1-.1 1 0 1-.1 1 0 1-.1 1 0 1 0 1-.1 -.2 0" stroke="#721a6e"/><path d="M394.8 151.1l1 .2 1-.7 1-.4 1 .3 1-.1 1-.9 1 0 1 1 1 .2 1-.1 1-.1 1-.2 1-.3 1 0 1 .5 1 1.2 1 .5 1-.3 1-.1 1 .6 1 0 1-.2 1 .4 1 .5 1 0 1 .4 1 .3 1 .1 1 .3 1 .1 1-.1 1 .2 1 .1 1 0 1 0 1-.2 1-.1 1-.1 1-.3 1-.5 1-.6 1-.9 1-.9 1-1 1-1 1-1.3 1-1.4 1-1.6 1-1.5 1-1.5 1-1.6 1-1.7 1-1.6 1-1.4 1-1.1 1-.8 1-.7 1-.6 1-.5 1-.2 1 .1 1 .3 1 .6 1 .7 1 .8 1 .8 1 1 1 1.3 1 1.3 1 1.5 1 1.5 1 1.5 1 1.4 1 1.5 1 1.5 1 1.4 1 1.4 1 1.4 1 1.3 1 1.3 1 1.4 1 1.4 1 1.3 1 1.3 1 1.1 1 .9 1 .8 1 .7 1 .6 1 .6 1 .5 1 .3 1 .1 1 .1 1 .1 1 0 1 0 1-.1 1-.2 1-.3 1-.3 1-.3 1-.4 1-.3 1-.4 1-.4 1-.5 1-.6 1-.6 1-.7 1-.7 1-.7 1-.7 1-.8 1-.6 1-.6 1-.5 1-.3 1-.2 1 0 1 .2 1 .4 1 .5 1 .7 1 .7 1 .8 1 .9 1 .8 1 .9 1 .9 1 .9 1 .8 1 .8 1 .8 1 .7 1 .7 1 .6 1 .6 1 .5 1 .5 1 .6 1 .4 1 .5 1 .5 1 .4 1 .5 1 .4 1 .5 1 .5 1 .5 1 .5 1 .5 1 .5 1 .5 1 .4 1 .5 1 .4 1 .4 1 .4 1 .4 1 .3 1 .3 1 .4 1 .3 1 .4 1 .3 1 .4 1 .3 1 .3 1 .3 1 .3 1 .3 1 .2 1 .2 1 .2 1 .2 1 .1 1 .1 1 0 1 .1 1 .1 1 .1 1 .1 1 .1 1 .1 1 .1 1 0 1 0 1 0 1-.1 1-.1 1-.1 1-.2 1-.1 1-.2 1-.1 1-.2 1-.2 1-.2 1-.2 1-.2 1-.3 1-.2 1-.3 1-.3 1-.2 1-.3 1-.3 1-.3 1-.4 1-.3 1-.3 1-.3 1-.3 1-.3 1-.4 1-.3 1-.3 1-.4 1-.3 1-.3 1-.4 1-.3 1-.3 1-.4 1-.3 1-.4 1-.3 1-.4 1-.4 1-.4 1-.4 1-.4 1-.4 1-.4 1-.4 1-.4 1-.3 1-.3 1-.3 1-.2 1-.3 1-.2 1-.3 1-.2 1-.2 1-.2 1-.2 1-.2 1-.2 1-.2 1-.1 1-.1 1-.1 1-.1 1-.1 1-.1 1-.1 1-.1 1-.1 1 0 1-.1 1-.1 1 0 1-.1 1 0 1-.1 1-.1 1 0 1-.1 1 0 1-.1 1 0 1-.1 1 0 1-.1 1 0 1 0 1-.1 1 0 -.2 0" stroke="#8c2369"/><path d="M394.8 148.3l1-.3 1-.3 1 .8 1 .4 1-.9 1 .3 1 .2 1 .6 1-.5 1-.2 1 .6 1-.1 1 .2 1 .3 1 .1 1 0 1 .6 1 .2 1 0 1 .4 1 .3 1 .1 1 .2 1 .2 1 .4 1 .2 1 0 1 .4 1 .2 1 .1 1 .2 1 .3 1 0 1 0 1 0 1 0 1-.1 1-.1 1-.2 1-.5 1-.7 1-.8 1-.9 1-1 1-1 1-1.2 1-1.4 1-1.5 1-1.6 1-1.5 1-1.4 1-1.6 1-1.5 1-1.5 1-1.1 1-.7 1-.7 1-.6 1-.5 1-.2 1 0 1 .3 1 .6 1 .6 1 .7 1 .8 1 1 1 1.1 1 1.3 1 1.4 1 1.4 1 1.4 1 1.3 1 1.4 1 1.4 1 1.3 1 1.3 1 1.2 1 1.3 1 1.1 1 1.3 1 1.2 1 1.2 1 1.1 1 1 1 .7 1 .7 1 .5 1 .6 1 .4 1 .3 1 .2 1 0 1-.1 1-.1 1-.1 1-.1 1-.3 1-.3 1-.4 1-.5 1-.4 1-.5 1-.6 1-.5 1-.6 1-.7 1-.8 1-.8 1-1 1-.9 1-1.1 1-1 1-1 1-1 1-.9 1-.7 1-.6 1-.3 1 0 1 .3 1 .4 1 .7 1 .9 1 1 1 1.2 1 1.1 1 1.2 1 1.3 1 1.2 1 1.3 1 1.1 1 1.2 1 1 1 1 1 .9 1 .8 1 .8 1 .7 1 .7 1 .7 1 .6 1 .6 1 .6 1 .6 1 .5 1 .6 1 .6 1 .5 1 .6 1 .6 1 .5 1 .6 1 .5 1 .5 1 .5 1 .4 1 .5 1 .4 1 .4 1 .4 1 .3 1 .4 1 .4 1 .3 1 .4 1 .4 1 .3 1 .3 1 .4 1 .3 1 .2 1 .3 1 .2 1 .2 1 .2 1 .1 1 .1 1 .2 1 .1 1 .1 1 .1 1 .1 1 .1 1 .2 1 .1 1 .1 1 0 1 0 1 0 1-.1 1-.1 1-.1 1-.1 1-.1 1-.1 1-.1 1-.2 1-.1 1-.2 1-.2 1-.2 1-.2 1-.2 1-.3 1-.2 1-.3 1-.2 1-.3 1-.3 1-.2 1-.3 1-.3 1-.3 1-.3 1-.3 1-.3 1-.3 1-.3 1-.3 1-.3 1-.3 1-.3 1-.3 1-.3 1-.3 1-.3 1-.4 1-.3 1-.3 1-.3 1-.4 1-.4 1-.4 1-.4 1-.3 1-.3 1-.3 1-.2 1-.3 1-.2 1-.2 1-.2 1-.2 1-.2 1-.2 1-.2 1-.1 1-.2 1-.2 1-.1 1-.1 1-.1 1-.1 1-.1 1-.1 1-.1 1-.1 1 0 1-.1 1-.1 1 0 1-.1 1-.1 1 0 1-.1 1 0 1-.1 1 0 1-.1 1 0 1-.1 1 0 1-.1 1 0 1 0 1-.1 1 0 1 0 1-.1 -.2 0" stroke="#a32c61"/><path d="M394.8 145.6l1 .9 1 .4 1-1.3 1 .9 1-.9 1-1.1 1 1 1 .9 1 .8 1 .5 1-.4 1 0 1 .4 1 .4 1 .2 1 .1 1 .1 1 .1 1 .2 1 .1 1 .3 1 .2 1 .4 1 .2 1 .4 1 .5 1 .2 1 .2 1 .3 1 .3 1 .1 1 .1 1 .1 1 0 1 0 1-.1 1 .1 1-.1 1-.3 1-.4 1-.7 1-.8 1-.9 1-.9 1-.9 1-1.2 1-1.4 1-1.5 1-1.6 1-1.5 1-1.4 1-1.5 1-1.5 1-1.4 1-1 1-.7 1-.7 1-.6 1-.4 1-.2 1 0 1 .2 1 .5 1 .6 1 .6 1 .7 1 .9 1 1 1 1.1 1 1.3 1 1.2 1 1.3 1 1.2 1 1.2 1 1.2 1 1.2 1 1.1 1 1.1 1 1 1 1 1 1.1 1 1 1 1 1 .8 1 .8 1 .6 1 .4 1 .4 1 .3 1 .3 1 .1 1-.1 1-.2 1-.2 1-.3 1-.3 1-.4 1-.4 1-.5 1-.6 1-.7 1-.6 1-.7 1-.7 1-.8 1-.9 1-.9 1-1.1 1-1.2 1-1.3 1-1.4 1-1.4 1-1.5 1-1.4 1-1.5 1-1.3 1-1.2 1-.8 1-.6 1-.1 1 .3 1 .7 1 1 1 1.3 1 1.4 1 1.5 1 1.7 1 1.7 1 1.8 1 1.8 1 1.7 1 1.7 1 1.5 1 1.5 1 1.3 1 1.2 1 1.1 1 1.1 1 1 1 .9 1 .9 1 .8 1 .8 1 .7 1 .8 1 .7 1 .7 1 .7 1 .7 1 .6 1 .7 1 .6 1 .6 1 .6 1 .6 1 .5 1 .5 1 .5 1 .5 1 .4 1 .4 1 .4 1 .4 1 .4 1 .4 1 .4 1 .4 1 .4 1 .3 1 .4 1 .3 1 .3 1 .3 1 .2 1 .3 1 .2 1 .1 1 .2 1 .1 1 .1 1 .2 1 .2 1 .1 1 .2 1 .1 1 .2 1 .2 1 .1 1 0 1 0 1 0 1 0 1-.1 1 0 1 0 1-.1 1-.1 1 0 1-.2 1-.1 1-.1 1-.1 1-.2 1-.2 1-.1 1-.2 1-.2 1-.2 1-.2 1-.3 1-.2 1-.2 1-.2 1-.3 1-.2 1-.3 1-.2 1-.2 1-.3 1-.3 1-.2 1-.3 1-.2 1-.3 1-.2 1-.3 1-.3 1-.2 1-.3 1-.3 1-.3 1-.3 1-.3 1-.4 1-.3 1-.3 1-.2 1-.3 1-.2 1-.2 1-.2 1-.1 1-.2 1-.2 1-.1 1-.1 1-.2 1-.1 1-.2 1-.1 1-.1 1-.1 1-.1 1-.1 1-.1 1-.1 1 0 1-.1 1-.1 1 0 1-.1 1 0 1-.1 1-.1 1 0 1-.1 1 0 1 0 1-.1 1 0 1-.1 1 0 1-.1 1 0 1 0 1-.1 1 0 1 0 1-.1 1 0 -.2 0" stroke="#bc3754"/><path d="M394.8 144l1-.4 1 .5 1 0 1-.3 1 0 1-.7 1 .6 1 1.7 1 .4 1-.3 1-.1 1 .3 1 .6 1 .4 1-.2 1-.1 1 .3 1 .2 1 .1 1 .4 1 0 1 .3 1 .6 1 .1 1 .4 1 .4 1 .4 1 .3 1 .1 1 .4 1 .1 1 0 1 .2 1 .2 1-.1 1 0 1 .1 1 0 1-.2 1-.5 1-.5 1-.8 1-.9 1-.9 1-.9 1-1.2 1-1.4 1-1.5 1-1.4 1-1.4 1-1.4 1-1.5 1-1.5 1-1.3 1-1 1-.6 1-.7 1-.5 1-.4 1-.3 1 0 1 .2 1 .4 1 .5 1 .6 1 .6 1 .7 1 .9 1 1 1 1.1 1 1.1 1 1 1 1 1 1.1 1 1 1 .9 1 1 1 .9 1 .8 1 .8 1 .8 1 .8 1 .7 1 .7 1 .5 1 .3 1 .3 1 .1 1 .1 1 .1 1-.1 1-.3 1-.4 1-.5 1-.6 1-.5 1-.6 1-.7 1-.7 1-.8 1-.8 1-.9 1-.9 1-.9 1-1.1 1-1.2 1-1.2 1-1.5 1-1.5 1-1.7 1-1.8 1-1.9 1-2 1-2 1-2 1-1.9 1-1.7 1-1.4 1-.8 1-.2 1 .4 1 1 1 1.4 1 1.7 1 1.9 1 2.1 1 2.1 1 2.3 1 2.4 1 2.5 1 2.4 1 2.2 1 2.1 1 1.9 1 1.7 1 1.5 1 1.5 1 1.3 1 1.3 1 1.2 1 1.1 1 1.1 1 1 1 .9 1 .9 1 .8 1 .9 1 .9 1 .8 1 .8 1 .8 1 .7 1 .7 1 .6 1 .7 1 .6 1 .5 1 .6 1 .5 1 .4 1 .5 1 .4 1 .5 1 .4 1 .5 1 .4 1 .4 1 .4 1 .4 1 .3 1 .4 1 .3 1 .3 1 .3 1 .2 1 .3 1 .1 1 .2 1 .2 1 .2 1 .2 1 .2 1 .2 1 .2 1 .2 1 .2 1 .2 1 .2 1 .1 1 .1 1 .1 1 0 1 .1 1 0 1 0 1 0 1 0 1 0 1-.1 1 0 1-.1 1-.1 1 0 1-.1 1-.1 1-.2 1-.1 1-.1 1-.2 1-.1 1-.2 1-.2 1-.1 1-.2 1-.2 1-.2 1-.2 1-.2 1-.1 1-.2 1-.2 1-.2 1-.2 1-.2 1-.3 1-.2 1-.2 1-.2 1-.2 1-.2 1-.3 1-.2 1-.3 1-.3 1-.2 1-.3 1-.2 1-.2 1-.1 1-.2 1-.1 1-.2 1-.1 1-.1 1-.1 1-.1 1-.1 1-.1 1-.1 1-.1 1-.1 1-.1 1-.1 1 0 1-.1 1-.1 1 0 1-.1 1 0 1-.1 1-.1 1 0 1-.1 1 0 1 0 1-.1 1 0 1-.1 1 0 1 0 1-.1 1 0 1-.1 1 0 1 0 1-.1 1 0 1 0 1 0 1-.1 -.2 0" stroke="#d04545"/><path d="M394.8 143.1l1-.6 1-1 1 0 1-.8 1-.2 1 .7 1 .7 1-.1 1 1.3 1 .8 1-.4 1-.5 1 .4 1 .2 1 0 1 1 1 .6 1 .2 1 .2 1 .3 1 .1 1 .3 1 .6 1 .3 1 .2 1 .4 1 .2 1 .1 1 .3 1 .4 1 .3 1 .1 1 0 1 .3 1 .2 1 0 1 0 1-.1 1-.1 1-.4 1-.7 1-.7 1-.9 1-.8 1-.8 1-1.2 1-1.5 1-1.4 1-1.3 1-1.4 1-1.4 1-1.4 1-1.4 1-1.2 1-.9 1-.7 1-.6 1-.5 1-.4 1-.3 1 0 1 .2 1 .3 1 .4 1 .5 1 .5 1 .6 1 .7 1 .8 1 .8 1 .9 1 .8 1 .8 1 .8 1 .8 1 .8 1 .7 1 .7 1 .6 1 .5 1 .6 1 .4 1 .5 1 .3 1 .2 1 .1 1 0 1-.1 1-.1 1-.3 1-.3 1-.6 1-.7 1-.7 1-.9 1-.8 1-.9 1-.9 1-1 1-1 1-1.1 1-1.1 1-1.1 1-1.2 1-1.4 1-1.5 1-1.6 1-1.9 1-2 1-2.2 1-2.3 1-2.4 1-2.6 1-2.6 1-2.7 1-2.6 1-2.5 1-2 1-1.4 1-.4 1 .7 1 1.5 1 2 1 2.3 1 2.5 1 2.6 1 2.7 1 3 1 3.2 1 3.3 1 3.2 1 3 1 2.7 1 2.4 1 2 1 1.9 1 1.9 1 1.7 1 1.6 1 1.5 1 1.5 1 1.3 1 1.2 1 1.1 1 1.1 1 1.1 1 1 1 1.1 1 1 1 .9 1 .9 1 .9 1 .7 1 .8 1 .7 1 .6 1 .6 1 .6 1 .6 1 .5 1 .5 1 .5 1 .5 1 .5 1 .5 1 .4 1 .4 1 .5 1 .4 1 .4 1 .3 1 .4 1 .3 1 .3 1 .3 1 .3 1 .2 1 .2 1 .3 1 .2 1 .2 1 .3 1 .3 1 .2 1 .3 1 .3 1 .3 1 .2 1 .2 1 .2 1 .1 1 .2 1 .1 1 .1 1 .1 1 0 1 .1 1 .1 1 0 1 0 1 0 1 0 1 0 1 0 1 0 1 0 1-.1 1 0 1-.1 1-.1 1-.1 1-.1 1-.1 1-.1 1-.1 1-.1 1-.1 1-.1 1-.2 1-.1 1-.1 1-.1 1-.2 1-.1 1-.2 1-.1 1-.1 1-.2 1-.2 1-.1 1-.2 1-.2 1-.2 1-.2 1-.2 1-.1 1-.2 1-.1 1-.2 1-.1 1-.1 1 0 1-.1 1-.1 1-.1 1 0 1-.1 1 0 1-.1 1-.1 1-.1 1 0 1-.1 1 0 1-.1 1 0 1-.1 1 0 1-.1 1 0 1-.1 1 0 1-.1 1 0 1 0 1-.1 1 0 1 0 1-.1 1 0 1 0 1-.1 1 0 1 0 1-.1 1 0 1 0 1 0 1-.1 1 0 -.2 0" stroke="#e25734"/><path d="M394.8 139.4l1-.8 1-.9 1 1 1 .6 1-.4 1-.1 1 .6 1 1.7 1 .4 1-.3 1 .1 1 .5 1 .2 1 .7 1 .4 1-.3 1 .4 1 .1 1 0 1 .4 1 .4 1 .7 1 .3 1 .4 1 .6 1 .2 1 .3 1 0 1 .2 1 .5 1 .4 1 .1 1 .2 1 .2 1 .1 1 .1 1-.1 1 .1 1-.2 1-.5 1-.5 1-.8 1-.8 1-.7 1-.9 1-1.1 1-1.3 1-1.5 1-1.4 1-1.3 1-1.2 1-1.4 1-1.3 1-1.2 1-.9 1-.6 1-.5 1-.5 1-.5 1-.2 1 0 1 .1 1 .2 1 .4 1 .3 1 .4 1 .5 1 .5 1 .5 1 .7 1 .6 1 .6 1 .5 1 .6 1 .5 1 .5 1 .5 1 .5 1 .4 1 .2 1 .2 1 .2 1 0 1 0 1 0 1-.2 1-.3 1-.4 1-.4 1-.5 1-.6 1-.9 1-1 1-1.1 1-1.1 1-1.2 1-1.2 1-1.2 1-1.3 1-1.2 1-1.3 1-1.3 1-1.4 1-1.5 1-1.7 1-1.8 1-2.1 1-2.3 1-2.6 1-2.7 1-2.8 1-3 1-3.2 1-3.4 1-3.4 1-3.3 1-3.3 1-3.1 1-2.1 1-.6 1 1.1 1 2.2 1 2.8 1 2.9 1 3 1 3.2 1 3.4 1 3.7 1 4 1 4.3 1 4.3 1 3.9 1 3.3 1 2.8 1 2.4 1 2.3 1 2.3 1 2.1 1 2 1 1.9 1 1.8 1 1.5 1 1.5 1 1.4 1 1.3 1 1.2 1 1.3 1 1.2 1 1.2 1 1.2 1 1 1 1 1 .8 1 .8 1 .8 1 .7 1 .7 1 .7 1 .6 1 .6 1 .5 1 .6 1 .5 1 .5 1 .5 1 .5 1 .5 1 .5 1 .4 1 .4 1 .4 1 .4 1 .4 1 .3 1 .3 1 .3 1 .3 1 .3 1 .2 1 .3 1 .3 1 .3 1 .4 1 .3 1 .3 1 .4 1 .3 1 .3 1 .3 1 .3 1 .3 1 .2 1 .2 1 .2 1 .2 1 .1 1 .2 1 .1 1 .1 1 .1 1 .1 1 .1 1 .1 1 .1 1 0 1 .1 1 0 1 .1 1 0 1 0 1 0 1 0 1 0 1-.1 1 0 1 0 1-.1 1 0 1-.1 1 0 1-.1 1 0 1-.1 1 0 1-.1 1-.1 1-.1 1 0 1-.1 1-.1 1-.1 1-.1 1-.2 1-.1 1-.1 1-.1 1-.1 1-.1 1-.1 1 0 1-.1 1 0 1-.1 1 0 1 0 1 0 1 0 1-.1 1 0 1 0 1-.1 1 0 1 0 1-.1 1 0 1-.1 1 0 1 0 1-.1 1 0 1-.1 1 0 1 0 1-.1 1 0 1 0 1-.1 1 0 1 0 1 0 1-.1 1 0 1 0 1 0 1-.1 1 0 1 0 1 0 1 0 1-.1 -.2 0" stroke="#f06f20"/><path d="M394.8 134.8l1 .1 1 1.8 1 .2 1-.5 1-.5 1 .7 1 .3 1-.2 1 1.1 1 1.1 1-.2 1 .5 1 .4 1 .2 1 .3 1 .2 1 .5 1 .2 1 .6 1 .5 1 .1 1 .5 1 .5 1 0 1 .5 1 .7 1 .4 1 .1 1 .3 1 .5 1 .3 1 .3 1 .2 1 .2 1 .1 1 .1 1 0 1 0 1 0 1-.4 1-.6 1-.7 1-.6 1-.8 1-.9 1-1.1 1-1.4 1-1.4 1-1.3 1-1.3 1-1.2 1-1.3 1-1.2 1-1.1 1-.8 1-.6 1-.5 1-.5 1-.4 1-.2 1-.1 1 .1 1 .2 1 .2 1 .2 1 .3 1 .3 1 .3 1 .4 1 .4 1 .4 1 .3 1 .3 1 .3 1 .2 1 .3 1 .3 1 .2 1 .2 1 0 1-.1 1-.2 1-.3 1-.4 1-.3 1-.5 1-.6 1-.6 1-.7 1-.8 1-.9 1-1.1 1-1.3 1-1.4 1-1.5 1-1.5 1-1.6 1-1.5 1-1.5 1-1.5 1-1.5 1-1.5 1-1.7 1-1.8 1-1.9 1-2.2 1-2.5 1-2.9 1-3.1 1-3.2 1-3.4 1-3.5 1-3.8 1-4.2 1-4.1 1-3.9 1-3.9 1-4.3 1-3.1 1-.7 1 1.6 1 3 1 3.6 1 3.5 1 3.4 1 3.8 1 4.1 1 4.3 1 4.7 1 5.4 1 5.5 1 4.9 1 3.7 1 3.2 1 2.8 1 2.7 1 2.7 1 2.6 1 2.4 1 2.3 1 2 1 1.9 1 1.7 1 1.6 1 1.5 1 1.5 1 1.4 1 1.5 1 1.4 1 1.3 1 1.2 1 1 1 .9 1 .9 1 .9 1 .8 1 .7 1 .8 1 .6 1 .7 1 .6 1 .6 1 .6 1 .6 1 .5 1 .5 1 .5 1 .5 1 .5 1 .4 1 .5 1 .4 1 .4 1 .4 1 .3 1 .4 1 .3 1 .3 1 .3 1 .4 1 .3 1 .4 1 .4 1 .4 1 .4 1 .4 1 .4 1 .4 1 .4 1 .3 1 .4 1 .3 1 .3 1 .3 1 .2 1 .3 1 .2 1 .2 1 .2 1 .2 1 .2 1 .2 1 .1 1 .2 1 .1 1 .2 1 .1 1 .1 1 .1 1 .1 1 .1 1 .1 1 .1 1 0 1 .1 1 0 1 0 1 .1 1 0 1 0 1 .1 1 0 1 0 1 0 1 0 1 0 1 0 1 0 1 0 1-.1 1 0 1 0 1-.1 1 0 1-.1 1 0 1-.1 1 0 1 0 1 0 1 0 1 0 1 0 1 .1 1 0 1 0 1 0 1 0 1 .1 1 0 1-.1 1 0 1 0 1 0 1 0 1-.1 1 0 1 0 1-.1 1 0 1 0 1 0 1-.1 1 0 1 0 1 0 1-.1 1 0 1 0 1 0 1 0 1-.1 1 0 1 0 1 0 1 0 1-.1 1 0 1 0 1 0 -.2 0" stroke="#f8890c"/><path d="M394.8 133.8l1-.3 1 .1 1 .4 1-.2 1-.1 1-.1 1 .8 1 1.3 1 .2 1-.2 1 .3 1 1 1 .2 1 .2 1 .7 1 .4 1 .2 1 .3 1 .5 1 .3 1 .8 1 .3 1 .5 1 .4 1 .3 1 .7 1 .4 1 .2 1 .1 1 .3 1 .5 1 .2 1 .2 1 .2 1 .2 1 .1 1 .2 1 .2 1-.1 1-.4 1-.5 1-.7 1-.7 1-.8 1-.8 1-1.1 1-1.2 1-1.3 1-1.4 1-1.1 1-1.2 1-1.2 1-1.2 1-1 1-.8 1-.5 1-.5 1-.5 1-.4 1-.2 1-.1 1 0 1 .1 1 .2 1 .1 1 .2 1 .2 1 .3 1 .3 1 .3 1 .3 1 .3 1 .3 1 .1 1 .2 1 .1 1 .2 1 .1 1 0 1-.1 1-.3 1-.4 1-.5 1-.5 1-.5 1-.6 1-.7 1-.8 1-.9 1-.9 1-1.1 1-1.2 1-1.5 1-1.6 1-1.6 1-1.8 1-1.7 1-1.7 1-1.6 1-1.6 1-1.7 1-1.7 1-1.8 1-1.9 1-2.2 1-2.3 1-2.8 1-3.1 1-3.3 1-3.6 1-3.7 1-3.7 1-4.3 1-4.5 1-4.5 1-4.2 1-4.3 1-4.7 1-3.4 1-.8 1 1.8 1 3.2 1 4 1 3.8 1 3.7 1 4.1 1 4.5 1 4.7 1 5 1 5.9 1 6 1 5.4 1 4 1 3.4 1 3.1 1 3 1 2.9 1 2.8 1 2.6 1 2.5 1 2.2 1 2 1 1.9 1 1.7 1 1.6 1 1.6 1 1.6 1 1.6 1 1.5 1 1.4 1 1.2 1 1.1 1 1 1 1 1 .8 1 .9 1 .8 1 .7 1 .7 1 .7 1 .7 1 .6 1 .6 1 .6 1 .6 1 .5 1 .5 1 .5 1 .5 1 .5 1 .4 1 .5 1 .4 1 .4 1 .4 1 .3 1 .4 1 .3 1 .4 1 .3 1 .4 1 .4 1 .4 1 .5 1 .4 1 .5 1 .4 1 .4 1 .5 1 .4 1 .4 1 .4 1 .3 1 .4 1 .2 1 .3 1 .3 1 .2 1 .3 1 .2 1 .2 1 .3 1 .2 1 .2 1 .2 1 .2 1 .2 1 .1 1 .2 1 .1 1 .1 1 .1 1 .1 1 .1 1 .1 1 0 1 .1 1 .1 1 0 1 .1 1 .1 1 0 1 .1 1 0 1 0 1 .1 1 0 1 0 1 .1 1 0 1 0 1 0 1 0 1 .1 1 0 1 0 1 0 1 0 1 .1 1 0 1 .1 1 0 1 .1 1 .1 1 .1 1 0 1 .1 1 .1 1 0 1 .1 1 0 1 0 1 0 1 0 1 0 1 0 1 0 1-.1 1 0 1 0 1 0 1 0 1-.1 1 0 1 0 1 0 1 0 1 0 1-.1 1 0 1 0 1 0 1 0 1 0 1 0 1 0 1-.1 1 0 1 0 1 0 -.2 0" stroke="#fca50a"/></g>
<rect x="394.2" y="20.3" width="281.0" height="183.5" fill="none" stroke="#000" stroke-width="1.4"/>
<line x1="417.6" y1="203.8" x2="417.6" y2="199.8" stroke="#000" stroke-width="1.2"/>
<line x1="417.6" y1="20.3" x2="417.6" y2="24.3" stroke="#000" stroke-width="1.2"/>
<line x1="441.0" y1="203.8" x2="441.0" y2="199.8" stroke="#000" stroke-width="1.2"/>
<line x1="441.0" y1="20.3" x2="441.0" y2="24.3" stroke="#000" stroke-width="1.2"/>
<line x1="464.4" y1="203.8" x2="464.4" y2="199.8" stroke="#000" stroke-width="1.2"/>
<line x1="464.4" y1="20.3" x2="464.4" y2="24.3" stroke="#000" stroke-width="1.2"/>
<line x1="487.9" y1="203.8" x2="487.9" y2="199.8" stroke="#000" stroke-width="1.2"/>
<line x1="487.9" y1="20.3" x2="487.9" y2="24.3" stroke="#000" stroke-width="1.2"/>
<line x1="511.3" y1="203.8" x2="511.3" y2="199.8" stroke="#000" stroke-width="1.2"/>
<line x1="511.3" y1="20.3" x2="511.3" y2="24.3" stroke="#000" stroke-width="1.2"/>
<line x1="534.7" y1="203.8" x2="534.7" y2="199.8" stroke="#000" stroke-width="1.2"/>
<line x1="534.7" y1="20.3" x2="534.7" y2="24.3" stroke="#000" stroke-width="1.2"/>
<line x1="558.1" y1="203.8" x2="558.1" y2="199.8" stroke="#000" stroke-width="1.2"/>
<line x1="558.1" y1="20.3" x2="558.1" y2="24.3" stroke="#000" stroke-width="1.2"/>
<line x1="581.5" y1="203.8" x2="581.5" y2="199.8" stroke="#000" stroke-width="1.2"/>
<line x1="581.5" y1="20.3" x2="581.5" y2="24.3" stroke="#000" stroke-width="1.2"/>
<line x1="605.0" y1="203.8" x2="605.0" y2="199.8" stroke="#000" stroke-width="1.2"/>
<line x1="605.0" y1="20.3" x2="605.0" y2="24.3" stroke="#000" stroke-width="1.2"/>
<line x1="628.4" y1="203.8" x2="628.4" y2="199.8" stroke="#000" stroke-width="1.2"/>
<line x1="628.4" y1="20.3" x2="628.4" y2="24.3" stroke="#000" stroke-width="1.2"/>
<line x1="651.8" y1="203.8" x2="651.8" y2="199.8" stroke="#000" stroke-width="1.2"/>
<line x1="651.8" y1="20.3" x2="651.8" y2="24.3" stroke="#000" stroke-width="1.2"/>
<line x1="394.2" y1="203.8" x2="397.2" y2="203.8" stroke="#000" stroke-width="1.2"/>
<line x1="675.2" y1="203.8" x2="672.2" y2="203.8" stroke="#000" stroke-width="1.2"/>
<line x1="394.2" y1="173.2" x2="398.7" y2="173.2" stroke="#000" stroke-width="1.2"/>
<line x1="675.2" y1="173.2" x2="670.7" y2="173.2" stroke="#000" stroke-width="1.2"/>
<line x1="394.2" y1="142.6" x2="397.2" y2="142.6" stroke="#000" stroke-width="1.2"/>
<line x1="675.2" y1="142.6" x2="672.2" y2="142.6" stroke="#000" stroke-width="1.2"/>
<line x1="394.2" y1="112.1" x2="398.7" y2="112.1" stroke="#000" stroke-width="1.2"/>
<line x1="675.2" y1="112.1" x2="670.7" y2="112.1" stroke="#000" stroke-width="1.2"/>
<line x1="394.2" y1="81.5" x2="397.2" y2="81.5" stroke="#000" stroke-width="1.2"/>
<line x1="675.2" y1="81.5" x2="672.2" y2="81.5" stroke="#000" stroke-width="1.2"/>
<line x1="394.2" y1="50.9" x2="398.7" y2="50.9" stroke="#000" stroke-width="1.2"/>
<line x1="675.2" y1="50.9" x2="670.7" y2="50.9" stroke="#000" stroke-width="1.2"/>
<text x="389.4" y="207.2" font-size="17.8" text-anchor="end" font-weight="normal" font-style="normal" fill="#000" >0.5</text>
<text x="389.4" y="176.6" font-size="17.8" text-anchor="end" font-weight="normal" font-style="normal" fill="#000" >1</text>
<text x="389.4" y="146.0" font-size="17.8" text-anchor="end" font-weight="normal" font-style="normal" fill="#000" >1.5</text>
<text x="389.4" y="115.5" font-size="17.8" text-anchor="end" font-weight="normal" font-style="normal" fill="#000" >2</text>
<text x="389.4" y="84.9" font-size="17.8" text-anchor="end" font-weight="normal" font-style="normal" fill="#000" >2.5</text>
<text x="389.4" y="54.3" font-size="17.8" text-anchor="end" font-weight="normal" font-style="normal" fill="#000" >3</text>
<text x="354.0" y="30.4" font-size="26.0" text-anchor="start" font-weight="bold" font-style="normal" fill="#000" >d</text>
<text x="360.4" y="111.2" font-size="20.0" text-anchor="middle" font-weight="bold" font-style="normal" fill="#000" transform="rotate(-90 360.4 111.2)">Extinction</text>
<text x="656.3" y="43.6" font-size="17.9" text-anchor="end" font-weight="normal" font-style="normal" fill="#000" >Measured</text>
<line x1="410.6" y1="93.3" x2="453.8" y2="127.0" stroke="#222" stroke-width="1.1"/>
<text x="407.2" y="90.2" font-size="17.8" text-anchor="start" font-weight="normal" font-style="normal" fill="#000" >T mode</text>
<line x1="514.7" y1="46.4" x2="539.9" y2="84.8" stroke="#222" stroke-width="1.1"/>
<text x="542.3" y="98.6" font-size="17.8" text-anchor="start" font-weight="normal" font-style="normal" fill="#000" >ENZ peak</text>
<defs><linearGradient id="cbd" x1="0" y1="1" x2="0" y2="0">
<stop offset="0.00" stop-color="#10092d"/>
<stop offset="0.10" stop-color="#2b0b57"/>
<stop offset="0.20" stop-color="#4c0c6b"/>
<stop offset="0.30" stop-color="#69166e"/>
<stop offset="0.40" stop-color="#87216b"/>
<stop offset="0.50" stop-color="#a32c61"/>
<stop offset="0.60" stop-color="#c03a51"/>
<stop offset="0.70" stop-color="#d84c3e"/>
<stop offset="0.80" stop-color="#eb6429"/>
<stop offset="0.90" stop-color="#f78410"/>
<stop offset="1.00" stop-color="#fca50a"/>
</linearGradient></defs>
<rect x="658.2" y="81.3" width="8.0" height="111.2" fill="url(#cbd)" stroke="#222" stroke-width="0.6"/>
<text x="654.3" y="91.2" font-size="16.0" text-anchor="end" font-weight="normal" font-style="normal" fill="#000" >60</text>
<text x="654.3" y="194.3" font-size="16.0" text-anchor="end" font-weight="normal" font-style="normal" fill="#000" >0</text>
<text x="647.3" y="136.3" font-size="15.5" text-anchor="middle" font-weight="normal" font-style="normal" fill="#000" transform="rotate(-90 647.3 136.3)">AOI (°)</text>
<rect x="455.4" y="222.8" width="2.2" height="183.2" fill="#d3dcdb"/>
<rect x="487.6" y="222.8" width="12.1" height="183.2" fill="#d3dcdb"/>
<rect x="511.1" y="222.8" width="10.9" height="183.2" fill="#d3dcdb"/>
<rect x="536.0" y="222.8" width="18.4" height="183.2" fill="#d3dcdb"/>
<g fill="none" stroke="#fff" stroke-width="5.00" stroke-linejoin="round"><path d="M394.8 353.2l1 .2 1 .1 1 .1 1 .1 1 .1 1 .1 1 .1 1 .2 1 .1 1 .1 1 .1 1 .1 1 .1 1 .2 1 .1 1 .1 1 .1 1 .1 1 .1 1 .1 1 .1 1 .1 1 .1 1 .1 1 .1 1 0 1 .1 1 0 1 .1 1 0 1 .1 1 0 1 .1 1-.3 1-.5 1-.5 1-.5 1-.5 1-.5 1-.5 1-.5 1-.7 1-1 1-1 1-1 1-1.3 1-1.6 1-1.7 1-1.6 1-1.7 1-1.8 1-1.8 1-1.9 1-1.8 1-1.9 1-2.1 1-1.9 1-1.9 1-2 1-1.7 1-.8 1-.3 1-.2 1-.1 1 .1 1 1 1 1.5 1 1.5 1 1.8 1 1.9 1 2.2 1 2.2 1 2.4 1 2.5 1 2.7 1 2.7 1 2.7 1 2.8 1 2.8 1 2.8 1 2.7 1 2.5 1 2.2 1 2.2 1 2.1 1 2 1 1.9 1 1.8 1 1.7 1 1.6 1 1.6 1 1.5 1 1.5 1 1.4 1 1.3 1 1.2 1 1.1 1 1 1 .9 1 .8 1 .8 1 .8 1 .6 1 .7 1 .6 1 .6 1 .5 1 .6 1 .5 1 .5 1 .5 1 .4 1 .5 1 .3 1 .4 1 .3 1 .3 1 .2 1 .2 1 .2 1 .1 1 .2 1 .2 1 .1 1 .1 1 .2 1 .1 1 .1 1 .1 1 .1 1 .1 1 0 1 .1 1 .1 1 0 1 .1 1 .1 1 0 1 .1 1 0 1 .1 1 0 1 .1 1 0 1 .1 1 .1 1 0 1 .1 1 0 1 .1 1 0 1 .1 1 0 1 .1 1 0 1 .1 1 0 1 .1 1 0 1 .1 1 .1 1 0 1 .1 1 0 1 .1 1 0 1 .1 1 .1 1 0 1 .1 1 .1 1 .1 1 0 1 .1 1 .1 1 .1 1 0 1 .1 1 .1 1 .1 1 0 1 .1 1 .1 1 .1 1 .1 1 0 1 .1 1 .1 1 .1 1 0 1 .1 1 .1 1 .1 1 0 1 .1 1 .1 1 0 1 .1 1 .1 1 0 1 .1 1 0 1 .1 1 0 1 .1 1 0 1 0 1 .1 1 0 1 0 1 .1 1 0 1 0 1 .1 1 0 1 0 1 .1 1 0 1 0 1 .1 1 0 1 0 1 0 1 .1 1 0 1 0 1 0 1 .1 1 0 1 0 1 0 1 .1 1 0 1 0 1 0 1 0 1 .1 1 0 1 0 1 0 1 0 1 0 1 .1 1 0 1 0 1 0 1 0 1 0 1 .1 1 0 1 0 1 0 1 0 1 0 1 0 1 .1 1 0 1 0 1 0 1 0 1 0 1 0 1 .1 1 0 1 0 1 0 1 0 1 0 1 0 1 0 1 0 1 0 1 .1 1 0 1 0 1 0 1 0 1 0 1 0 1 0 -.2 0"/><path d="M394.8 352.8l1 .1 1 .1 1 .2 1 .1 1 .1 1 .1 1 .1 1 .2 1 .1 1 .1 1 .1 1 .1 1 .2 1 .1 1 .1 1 .1 1 .1 1 .1 1 .1 1 .1 1 .2 1 .1 1 .1 1 .1 1 0 1 .1 1 .1 1 0 1 .1 1 0 1 .1 1 .1 1 0 1-.3 1-.5 1-.5 1-.5 1-.5 1-.4 1-.5 1-.5 1-.7 1-1 1-1 1-1 1-1.3 1-1.6 1-1.7 1-1.6 1-1.6 1-1.8 1-1.9 1-1.8 1-1.9 1-1.9 1-2 1-1.9 1-1.9 1-2 1-1.7 1-.7 1-.3 1-.2 1-.2 1 .2 1 .9 1 1.5 1 1.5 1 1.8 1 1.9 1 2.2 1 2.2 1 2.3 1 2.6 1 2.7 1 2.7 1 2.7 1 2.7 1 2.8 1 2.8 1 2.7 1 2.4 1 2.3 1 2.2 1 2 1 2 1 1.9 1 1.7 1 1.7 1 1.6 1 1.6 1 1.5 1 1.5 1 1.4 1 1.2 1 1.2 1 1.1 1 .9 1 .9 1 .8 1 .8 1 .7 1 .7 1 .6 1 .6 1 .5 1 .5 1 .5 1 .5 1 .5 1 .4 1 .4 1 .4 1 .4 1 .3 1 .3 1 .2 1 .3 1 .1 1 .2 1 .2 1 .2 1 .1 1 .2 1 .2 1 .1 1 .1 1 .2 1 .1 1 .1 1 .1 1 .2 1 .1 1 .1 1 .1 1 .1 1 .1 1 .1 1 .1 1 0 1 .1 1 .1 1 .1 1 .1 1 .1 1 .1 1 0 1 .1 1 .1 1 .1 1 0 1 .1 1 .1 1 0 1 .1 1 .1 1 0 1 .1 1 .1 1 0 1 .1 1 0 1 .1 1 .1 1 0 1 .1 1 .1 1 0 1 .1 1 .1 1 .1 1 0 1 .1 1 .1 1 .1 1 .1 1 0 1 .1 1 .1 1 .1 1 .1 1 0 1 .1 1 .1 1 .1 1 .1 1 0 1 .1 1 .1 1 .1 1 .1 1 0 1 .1 1 .1 1 0 1 .1 1 .1 1 0 1 .1 1 .1 1 0 1 .1 1 0 1 .1 1 0 1 0 1 .1 1 0 1 .1 1 0 1 0 1 .1 1 0 1 0 1 .1 1 0 1 0 1 .1 1 0 1 0 1 .1 1 0 1 0 1 0 1 .1 1 0 1 0 1 0 1 .1 1 0 1 0 1 0 1 .1 1 0 1 0 1 0 1 0 1 .1 1 0 1 0 1 0 1 0 1 0 1 .1 1 0 1 0 1 0 1 0 1 0 1 .1 1 0 1 0 1 0 1 0 1 0 1 0 1 .1 1 0 1 0 1 0 1 0 1 0 1 0 1 .1 1 0 1 0 1 0 1 0 1 0 1 0 1 0 1 0 1 0 1 .1 1 0 1 0 1 0 1 0 1 0 1 0 -.2 0"/><path d="M394.8 352.1l1 .1 1 .1 1 .1 1 .2 1 .1 1 .1 1 .2 1 .1 1 .1 1 .2 1 .1 1 .1 1 .2 1 .1 1 .1 1 .1 1 .1 1 .2 1 .1 1 .1 1 .1 1 .1 1 .1 1 .1 1 .1 1 .1 1 0 1 .1 1 .1 1 .1 1 0 1 .1 1 0 1-.3 1-.5 1-.4 1-.5 1-.5 1-.4 1-.5 1-.5 1-.7 1-.9 1-1 1-1.1 1-1.2 1-1.7 1-1.6 1-1.6 1-1.6 1-1.8 1-1.8 1-1.8 1-1.9 1-1.9 1-2 1-2 1-1.8 1-1.9 1-1.7 1-.7 1-.4 1-.2 1-.1 1 .1 1 1 1 1.5 1 1.5 1 1.7 1 1.9 1 2.1 1 2.2 1 2.3 1 2.6 1 2.6 1 2.7 1 2.6 1 2.6 1 2.8 1 2.7 1 2.6 1 2.4 1 2.1 1 2.1 1 2 1 1.9 1 1.8 1 1.7 1 1.6 1 1.6 1 1.5 1 1.4 1 1.4 1 1.3 1 1.2 1 1.1 1 1 1 .9 1 .8 1 .7 1 .7 1 .6 1 .5 1 .5 1 .4 1 .4 1 .4 1 .3 1 .4 1 .3 1 .3 1 .3 1 .2 1 .3 1 .3 1 .2 1 .1 1 .2 1 .2 1 .1 1 .2 1 .2 1 .2 1 .2 1 .2 1 .2 1 .2 1 .3 1 .2 1 .2 1 .3 1 .3 1 .3 1 .3 1 .2 1 .3 1 .2 1 .2 1 .3 1 .2 1 .2 1 .2 1 .2 1 .2 1 .2 1 .2 1 .2 1 .1 1 .2 1 .1 1 .2 1 .1 1 .1 1 .1 1 .2 1 .1 1 .1 1 .1 1 .1 1 .1 1 .1 1 .1 1 .1 1 .1 1 .1 1 .1 1 0 1 .1 1 .1 1 .1 1 .1 1 .1 1 .1 1 .1 1 .1 1 .1 1 .1 1 .1 1 0 1 .1 1 .1 1 .1 1 .1 1 .1 1 .1 1 .1 1 .1 1 .1 1 0 1 .1 1 .1 1 .1 1 .1 1 0 1 .1 1 .1 1 .1 1 0 1 .1 1 .1 1 0 1 .1 1 0 1 .1 1 0 1 .1 1 0 1 .1 1 0 1 0 1 .1 1 0 1 .1 1 0 1 0 1 .1 1 0 1 0 1 .1 1 0 1 0 1 .1 1 0 1 0 1 .1 1 0 1 0 1 0 1 .1 1 0 1 0 1 0 1 .1 1 0 1 0 1 0 1 .1 1 0 1 0 1 0 1 0 1 .1 1 0 1 0 1 0 1 0 1 .1 1 0 1 0 1 0 1 0 1 0 1 .1 1 0 1 0 1 0 1 0 1 0 1 0 1 .1 1 0 1 0 1 0 1 0 1 0 1 0 1 .1 1 0 1 0 1 0 1 0 1 0 1 0 1 0 1 0 1 0 1 0 1 .1 1 0 1 0 -.2 0"/><path d="M394.8 351.1l1 .2 1 .1 1 .2 1 .1 1 .2 1 .1 1 .1 1 .2 1 .1 1 .2 1 .1 1 .2 1 .1 1 .1 1 .2 1 .1 1 .1 1 .1 1 .2 1 .1 1 .1 1 .1 1 .1 1 .2 1 0 1 .1 1 .1 1 .1 1 .1 1 .1 1 0 1 .1 1 0 1-.3 1-.4 1-.5 1-.4 1-.5 1-.5 1-.4 1-.5 1-.6 1-.9 1-1.1 1-1 1-1.3 1-1.6 1-1.6 1-1.6 1-1.6 1-1.7 1-1.8 1-1.8 1-1.9 1-1.9 1-2 1-1.9 1-1.8 1-1.9 1-1.6 1-.8 1-.3 1-.2 1-.1 1 .1 1 .9 1 1.4 1 1.5 1 1.7 1 1.9 1 2.1 1 2.1 1 2.3 1 2.4 1 2.6 1 2.6 1 2.5 1 2.5 1 2.6 1 2.6 1 2.4 1 2.3 1 2.1 1 1.9 1 1.9 1 1.8 1 1.7 1 1.6 1 1.5 1 1.4 1 1.4 1 1.4 1 1.2 1 1.2 1 1.1 1 .9 1 .9 1 .7 1 .6 1 .6 1 .5 1 .4 1 .4 1 .3 1 .2 1 .2 1 .1 1 .1 1 0 1 .1 1 0 1 .1 1 .1 1 .1 1 .1 1 .1 1 .1 1 .1 1 .1 1 .1 1 .2 1 .2 1 .3 1 .3 1 .2 1 .4 1 .3 1 .4 1 .4 1 .5 1 .5 1 .5 1 .6 1 .5 1 .5 1 .5 1 .5 1 .5 1 .4 1 .5 1 .4 1 .4 1 .4 1 .4 1 .4 1 .3 1 .3 1 .3 1 .3 1 .3 1 .3 1 .2 1 .2 1 .2 1 .2 1 .2 1 .2 1 .2 1 .1 1 .2 1 .2 1 .1 1 .2 1 .1 1 .1 1 .2 1 .1 1 .1 1 .1 1 .1 1 .2 1 .1 1 .1 1 .1 1 .1 1 .1 1 .2 1 .1 1 .1 1 .1 1 .1 1 .1 1 .1 1 .1 1 .1 1 .1 1 .1 1 .1 1 .1 1 .1 1 .1 1 .1 1 .1 1 .1 1 .1 1 0 1 .1 1 .1 1 .1 1 0 1 .1 1 .1 1 0 1 .1 1 .1 1 0 1 .1 1 0 1 .1 1 0 1 0 1 .1 1 0 1 .1 1 0 1 .1 1 0 1 0 1 .1 1 0 1 .1 1 0 1 0 1 .1 1 0 1 0 1 .1 1 0 1 0 1 .1 1 0 1 0 1 0 1 .1 1 0 1 0 1 0 1 .1 1 0 1 0 1 0 1 .1 1 0 1 0 1 0 1 0 1 .1 1 0 1 0 1 0 1 0 1 .1 1 0 1 0 1 0 1 0 1 .1 1 0 1 0 1 0 1 0 1 0 1 0 1 .1 1 0 1 0 1 0 1 0 1 0 1 0 1 0 1 .1 1 0 1 0 1 0 1 0 1 0 1 0 1 0 1 0 -.2 0"/><path d="M394.8 350.1l1 .2 1 .1 1 .2 1 .1 1 .2 1 .1 1 .2 1 .1 1 .2 1 .2 1 .1 1 .2 1 .1 1 .2 1 .1 1 .2 1 .1 1 .1 1 .2 1 .1 1 .1 1 .1 1 .2 1 .1 1 .1 1 .1 1 .1 1 .1 1 .1 1 .1 1 .1 1 .1 1 0 1-.3 1-.5 1-.4 1-.5 1-.4 1-.4 1-.5 1-.4 1-.7 1-.8 1-1 1-1.1 1-1.3 1-1.6 1-1.6 1-1.5 1-1.6 1-1.7 1-1.8 1-1.7 1-1.9 1-1.9 1-2 1-1.9 1-1.8 1-1.8 1-1.6 1-.7 1-.4 1-.2 1-.1 1 .1 1 .9 1 1.4 1 1.5 1 1.6 1 1.9 1 2 1 2.1 1 2.1 1 2.4 1 2.4 1 2.5 1 2.4 1 2.3 1 2.4 1 2.5 1 2.3 1 2.1 1 1.9 1 1.8 1 1.8 1 1.6 1 1.6 1 1.4 1 1.4 1 1.3 1 1.2 1 1.2 1 1.1 1 1.1 1 .9 1 .7 1 .7 1 .5 1 .5 1 .4 1 .3 1 .2 1 .1 1 .1 1 0 1-.2 1-.2 1-.3 1-.3 1-.3 1-.2 1-.2 1-.1 1-.1 1-.1 1-.1 1 0 1 0 1 0 1 .2 1 .2 1 .2 1 .4 1 .3 1 .4 1 .4 1 .5 1 .6 1 .6 1 .8 1 .8 1 .9 1 .9 1 .9 1 .8 1 .9 1 .7 1 .8 1 .7 1 .7 1 .7 1 .7 1 .6 1 .6 1 .6 1 .6 1 .5 1 .5 1 .5 1 .4 1 .4 1 .4 1 .3 1 .3 1 .3 1 .3 1 .2 1 .3 1 .2 1 .3 1 .2 1 .3 1 .2 1 .2 1 .2 1 .1 1 .2 1 .2 1 .1 1 .2 1 .1 1 .2 1 .1 1 .2 1 .1 1 .2 1 .1 1 .1 1 .2 1 .1 1 .1 1 .1 1 .2 1 .1 1 .1 1 .1 1 .1 1 .2 1 .1 1 .1 1 .1 1 .1 1 .1 1 .1 1 .1 1 .1 1 .1 1 .1 1 .1 1 0 1 .1 1 .1 1 .1 1 0 1 .1 1 .1 1 0 1 .1 1 0 1 .1 1 0 1 .1 1 0 1 .1 1 0 1 .1 1 0 1 .1 1 0 1 .1 1 0 1 .1 1 0 1 .1 1 0 1 0 1 .1 1 0 1 0 1 .1 1 0 1 0 1 .1 1 0 1 0 1 .1 1 0 1 0 1 .1 1 0 1 0 1 0 1 .1 1 0 1 0 1 0 1 .1 1 0 1 0 1 0 1 0 1 .1 1 0 1 0 1 0 1 0 1 .1 1 0 1 0 1 0 1 0 1 .1 1 0 1 0 1 0 1 0 1 0 1 0 1 .1 1 0 1 0 1 0 1 0 1 0 1 0 1 0 1 .1 1 0 1 0 1 0 -.2 0"/><path d="M394.8 349l1 .1 1 .2 1 .2 1 .1 1 .2 1 .2 1 .1 1 .2 1 .2 1 .2 1 .1 1 .2 1 .2 1 .1 1 .2 1 .1 1 .2 1 .1 1 .2 1 .1 1 .1 1 .2 1 .1 1 .2 1 .1 1 .1 1 .1 1 .1 1 .1 1 .1 1 .2 1 .1 1-.1 1-.3 1-.4 1-.4 1-.4 1-.5 1-.4 1-.4 1-.4 1-.6 1-.8 1-1.1 1-1.1 1-1.2 1-1.6 1-1.6 1-1.5 1-1.6 1-1.6 1-1.7 1-1.7 1-1.9 1-2 1-2 1-1.8 1-1.8 1-1.8 1-1.5 1-.7 1-.3 1-.3 1-.1 1 .1 1 .9 1 1.3 1 1.4 1 1.7 1 1.8 1 1.9 1 1.9 1 2.1 1 2.2 1 2.2 1 2.3 1 2.1 1 2.1 1 2.2 1 2.2 1 2 1 1.9 1 1.7 1 1.6 1 1.5 1 1.5 1 1.3 1 1.2 1 1.2 1 1.1 1 1 1 1 1 .9 1 .7 1 .7 1 .5 1 .4 1 .2 1 .2 1 .1 1 0 1-.1 1-.2 1-.3 1-.4 1-.6 1-.7 1-.9 1-.8 1-.9 1-.7 1-.5 1-.5 1-.4 1-.3 1-.3 1-.3 1-.2 1 0 1 .1 1 .2 1 .3 1 .5 1 .5 1 .5 1 .7 1 .7 1 .8 1 1 1 1.2 1 1.3 1 1.4 1 1.5 1 1.4 1 1.3 1 1.3 1 1.3 1 1.2 1 1.1 1 1.2 1 1.1 1 1 1 1 1 1 1 .9 1 .8 1 .9 1 .7 1 .8 1 .7 1 .6 1 .5 1 .5 1 .5 1 .4 1 .5 1 .4 1 .4 1 .3 1 .4 1 .4 1 .3 1 .3 1 .3 1 .3 1 .2 1 .2 1 .3 1 .2 1 .2 1 .2 1 .2 1 .2 1 .2 1 .2 1 .2 1 .1 1 .2 1 .2 1 .1 1 .2 1 .1 1 .2 1 .2 1 .1 1 .1 1 .2 1 .1 1 .2 1 .1 1 .1 1 .1 1 .2 1 .1 1 .1 1 .1 1 .1 1 .1 1 .1 1 .1 1 .1 1 .1 1 .1 1 .1 1 .1 1 0 1 .1 1 .1 1 0 1 .1 1 .1 1 0 1 .1 1 .1 1 0 1 .1 1 .1 1 0 1 .1 1 0 1 .1 1 0 1 .1 1 0 1 .1 1 0 1 .1 1 0 1 .1 1 0 1 0 1 .1 1 0 1 .1 1 0 1 0 1 .1 1 0 1 0 1 .1 1 0 1 0 1 .1 1 0 1 0 1 .1 1 0 1 0 1 0 1 .1 1 0 1 0 1 0 1 .1 1 0 1 0 1 0 1 .1 1 0 1 0 1 0 1 0 1 .1 1 0 1 0 1 0 1 0 1 0 1 .1 1 0 1 0 1 0 1 0 1 0 1 0 1 .1 1 0 1 0 1 0 1 0 -.2 0"/><path d="M394.8 347.7l1 .2 1 .2 1 .2 1 .2 1 .1 1 .2 1 .2 1 .2 1 .2 1 .2 1 .2 1 .1 1 .2 1 .2 1 .2 1 .1 1 .2 1 .1 1 .2 1 .1 1 .2 1 .1 1 .2 1 .1 1 .2 1 .1 1 .1 1 .2 1 .1 1 .1 1 .2 1 .1 1-.1 1-.3 1-.4 1-.4 1-.4 1-.4 1-.4 1-.4 1-.4 1-.6 1-.7 1-1 1-1.2 1-1.2 1-1.6 1-1.5 1-1.5 1-1.6 1-1.6 1-1.6 1-1.7 1-1.9 1-2 1-1.9 1-1.9 1-1.7 1-1.7 1-1.5 1-.7 1-.3 1-.3 1-.1 1 .1 1 .8 1 1.3 1 1.4 1 1.6 1 1.7 1 1.9 1 1.8 1 1.8 1 2.1 1 2 1 2 1 2 1 1.8 1 1.9 1 1.9 1 1.8 1 1.6 1 1.5 1 1.4 1 1.3 1 1.2 1 1.1 1 1 1 .9 1 .8 1 .8 1 .8 1 .6 1 .5 1 .4 1 .3 1 0 1 0 1-.1 1-.2 1-.4 1-.4 1-.6 1-.7 1-.8 1-1.1 1-1.2 1-1.5 1-1.5 1-1.4 1-1.2 1-1 1-.8 1-.7 1-.6 1-.6 1-.4 1-.4 1-.1 1 0 1 .3 1 .4 1 .5 1 .7 1 .7 1 .9 1 .9 1 1.1 1 1.4 1 1.6 1 1.9 1 2 1 2 1 2 1 1.9 1 1.8 1 1.7 1 1.7 1 1.6 1 1.6 1 1.5 1 1.5 1 1.4 1 1.3 1 1.3 1 1.2 1 1.1 1 1.1 1 1 1 1 1 .8 1 .8 1 .7 1 .6 1 .6 1 .6 1 .5 1 .5 1 .6 1 .5 1 .4 1 .5 1 .4 1 .4 1 .4 1 .3 1 .3 1 .3 1 .2 1 .3 1 .3 1 .2 1 .3 1 .2 1 .2 1 .3 1 .2 1 .2 1 .2 1 .2 1 .2 1 .2 1 .2 1 .1 1 .2 1 .2 1 .2 1 .1 1 .2 1 .1 1 .2 1 .1 1 .2 1 .1 1 .1 1 .2 1 .1 1 .1 1 .1 1 .2 1 .1 1 .1 1 .1 1 .1 1 .1 1 .1 1 .1 1 0 1 .1 1 .1 1 .1 1 .1 1 0 1 .1 1 .1 1 .1 1 0 1 .1 1 .1 1 0 1 .1 1 .1 1 0 1 .1 1 0 1 .1 1 .1 1 0 1 .1 1 0 1 .1 1 0 1 .1 1 0 1 0 1 .1 1 0 1 .1 1 0 1 .1 1 0 1 0 1 .1 1 0 1 0 1 .1 1 0 1 0 1 .1 1 0 1 0 1 0 1 .1 1 0 1 0 1 .1 1 0 1 0 1 0 1 .1 1 0 1 0 1 0 1 .1 1 0 1 0 1 0 1 0 1 .1 1 0 1 0 1 0 1 0 1 0 1 .1 1 0 1 0 1 0 1 0 1 0 -.2 0"/><path d="M394.8 346.4l1 .2 1 .2 1 .2 1 .2 1 .2 1 .2 1 .2 1 .2 1 .2 1 .2 1 .2 1 .2 1 .2 1 .2 1 .2 1 .2 1 .1 1 .2 1 .2 1 .1 1 .2 1 .1 1 .2 1 .2 1 .1 1 .2 1 .1 1 .2 1 .1 1 .2 1 .1 1 .2 1-.1 1-.3 1-.4 1-.4 1-.4 1-.3 1-.4 1-.4 1-.4 1-.5 1-.7 1-1 1-1.2 1-1.3 1-1.5 1-1.5 1-1.5 1-1.5 1-1.6 1-1.6 1-1.6 1-1.9 1-2 1-1.9 1-1.8 1-1.7 1-1.7 1-1.4 1-.7 1-.4 1-.2 1-.2 1 .1 1 .8 1 1.2 1 1.4 1 1.6 1 1.6 1 1.8 1 1.7 1 1.7 1 1.8 1 1.9 1 1.8 1 1.6 1 1.6 1 1.6 1 1.6 1 1.5 1 1.4 1 1.2 1 1.2 1 1 1 1 1 .8 1 .8 1 .7 1 .6 1 .6 1 .5 1 .4 1 .2 1 .1 1-.1 1-.2 1-.4 1-.4 1-.5 1-.7 1-.8 1-.9 1-1.1 1-1.3 1-1.6 1-1.8 1-2.1 1-2.1 1-2 1-1.8 1-1.4 1-1.2 1-1 1-.9 1-.9 1-.7 1-.5 1-.2 1 0 1 .2 1 .5 1 .7 1 .8 1 1 1 1 1 1.2 1 1.3 1 1.8 1 2.1 1 2.4 1 2.7 1 2.7 1 2.6 1 2.4 1 2.3 1 2.2 1 2.2 1 2.1 1 2.1 1 2 1 1.9 1 1.8 1 1.7 1 1.6 1 1.6 1 1.5 1 1.4 1 1.3 1 1.2 1 1.1 1 1 1 .8 1 .9 1 .7 1 .7 1 .7 1 .7 1 .7 1 .6 1 .6 1 .6 1 .5 1 .5 1 .5 1 .4 1 .3 1 .4 1 .3 1 .4 1 .3 1 .3 1 .3 1 .3 1 .3 1 .2 1 .3 1 .2 1 .3 1 .2 1 .2 1 .3 1 .2 1 .2 1 .2 1 .2 1 .2 1 .2 1 .2 1 .1 1 .2 1 .2 1 .1 1 .2 1 .2 1 .1 1 .2 1 .1 1 .1 1 .2 1 .1 1 .1 1 .1 1 .2 1 .1 1 .1 1 .1 1 .1 1 .1 1 .1 1 .1 1 .1 1 .1 1 0 1 .1 1 .1 1 .1 1 .1 1 .1 1 0 1 .1 1 .1 1 .1 1 0 1 .1 1 .1 1 0 1 .1 1 0 1 .1 1 .1 1 0 1 .1 1 0 1 .1 1 0 1 .1 1 0 1 .1 1 0 1 .1 1 0 1 .1 1 0 1 0 1 .1 1 0 1 0 1 .1 1 0 1 0 1 .1 1 0 1 0 1 .1 1 0 1 0 1 .1 1 0 1 0 1 .1 1 0 1 0 1 0 1 .1 1 0 1 0 1 0 1 .1 1 0 1 0 1 0 1 0 1 0 1 .1 1 0 1 0 1 0 1 0 1 0 -.2 0"/><path d="M394.8 345l1 .2 1 .2 1 .2 1 .3 1 .2 1 .2 1 .2 1 .2 1 .3 1 .2 1 .2 1 .2 1 .2 1 .2 1 .3 1 .1 1 .2 1 .2 1 .2 1 .1 1 .2 1 .2 1 .2 1 .1 1 .2 1 .2 1 .1 1 .2 1 .2 1 .2 1 .1 1 .2 1-.1 1-.3 1-.4 1-.3 1-.4 1-.4 1-.3 1-.4 1-.3 1-.5 1-.6 1-1.1 1-1.2 1-1.3 1-1.5 1-1.4 1-1.5 1-1.5 1-1.5 1-1.5 1-1.6 1-2 1-2 1-1.9 1-1.7 1-1.7 1-1.6 1-1.4 1-.6 1-.4 1-.2 1-.2 1 .1 1 .7 1 1.2 1 1.3 1 1.5 1 1.7 1 1.6 1 1.6 1 1.5 1 1.7 1 1.6 1 1.6 1 1.4 1 1.3 1 1.3 1 1.3 1 1.2 1 1.1 1 1 1 .9 1 .8 1 .8 1 .6 1 .5 1 .4 1 .4 1 .3 1 .3 1 .2 1-.1 1-.2 1-.4 1-.5 1-.7 1-.7 1-.9 1-1 1-1.1 1-1.4 1-1.5 1-1.7 1-2 1-2.4 1-2.8 1-2.8 1-2.7 1-2.3 1-1.8 1-1.5 1-1.3 1-1.3 1-1.1 1-1 1-.7 1-.3 1 0 1 .3 1 .5 1 .8 1 1 1 1.2 1 1.2 1 1.4 1 1.6 1 2.1 1 2.7 1 3 1 3.3 1 3.3 1 3.3 1 3 1 2.8 1 2.7 1 2.7 1 2.6 1 2.6 1 2.4 1 2.3 1 2.2 1 2.1 1 2 1 1.9 1 1.9 1 1.7 1 1.6 1 1.5 1 1.3 1 1.2 1 1.1 1 1 1 .9 1 .9 1 .8 1 .9 1 .8 1 .7 1 .8 1 .7 1 .6 1 .6 1 .6 1 .4 1 .5 1 .4 1 .4 1 .4 1 .4 1 .3 1 .4 1 .3 1 .4 1 .3 1 .3 1 .3 1 .2 1 .3 1 .3 1 .2 1 .3 1 .2 1 .3 1 .2 1 .2 1 .2 1 .2 1 .2 1 .2 1 .2 1 .2 1 .2 1 .2 1 .1 1 .2 1 .2 1 .1 1 .2 1 .1 1 .2 1 .1 1 .1 1 .2 1 .1 1 .1 1 .1 1 .1 1 .1 1 .2 1 .1 1 .1 1 .1 1 .1 1 .1 1 .1 1 .1 1 0 1 .1 1 .1 1 .1 1 .1 1 .1 1 0 1 .1 1 .1 1 .1 1 0 1 .1 1 .1 1 0 1 .1 1 .1 1 0 1 .1 1 0 1 .1 1 0 1 .1 1 0 1 .1 1 0 1 .1 1 0 1 .1 1 0 1 .1 1 0 1 0 1 .1 1 0 1 0 1 .1 1 0 1 0 1 .1 1 0 1 0 1 .1 1 0 1 0 1 .1 1 0 1 0 1 .1 1 0 1 0 1 0 1 .1 1 0 1 0 1 0 1 0 1 .1 1 0 1 0 1 0 1 0 1 0 -.2 0"/><path d="M394.8 343.5l1 .2 1 .3 1 .2 1 .3 1 .2 1 .2 1 .3 1 .2 1 .2 1 .3 1 .2 1 .3 1 .2 1 .2 1 .3 1 .2 1 .1 1 .2 1 .2 1 .2 1 .2 1 .2 1 .2 1 .1 1 .2 1 .2 1 .2 1 .2 1 .2 1 .2 1 .2 1 .2 1-.2 1-.2 1-.4 1-.3 1-.4 1-.3 1-.4 1-.3 1-.3 1-.5 1-.5 1-1.1 1-1.2 1-1.3 1-1.4 1-1.5 1-1.4 1-1.4 1-1.5 1-1.5 1-1.5 1-2 1-2 1-1.9 1-1.7 1-1.7 1-1.5 1-1.3 1-.7 1-.3 1-.3 1-.1 1 0 1 .7 1 1.1 1 1.3 1 1.5 1 1.5 1 1.6 1 1.4 1 1.4 1 1.5 1 1.4 1 1.4 1 1.1 1 1 1 1 1 .9 1 .9 1 .9 1 .7 1 .6 1 .6 1 .4 1 .4 1 .3 1 .1 1 .1 1 .1 1 0 1-.1 1-.3 1-.5 1-.7 1-.9 1-1 1-1.1 1-1.2 1-1.3 1-1.6 1-1.8 1-1.9 1-2.1 1-2.5 1-3.1 1-3.5 1-3.5 1-3.4 1-2.9 1-2.3 1-1.8 1-1.7 1-1.6 1-1.4 1-1.2 1-.9 1-.5 1-.1 1 .4 1 .6 1 1 1 1.1 1 1.4 1 1.5 1 1.6 1 1.9 1 2.5 1 3.2 1 3.7 1 3.9 1 4 1 4 1 3.6 1 3.3 1 3.3 1 3.2 1 3.2 1 3 1 3 1 2.8 1 2.6 1 2.5 1 2.4 1 2.3 1 2.2 1 2.1 1 1.9 1 1.8 1 1.6 1 1.4 1 1.3 1 1.2 1 1.1 1 1 1 1 1 1 1 1 1 .9 1 .9 1 .8 1 .8 1 .7 1 .6 1 .6 1 .5 1 .5 1 .5 1 .4 1 .5 1 .4 1 .4 1 .4 1 .4 1 .3 1 .4 1 .3 1 .3 1 .3 1 .3 1 .3 1 .3 1 .3 1 .3 1 .2 1 .3 1 .2 1 .2 1 .3 1 .2 1 .2 1 .2 1 .2 1 .2 1 .2 1 .2 1 .2 1 .2 1 .1 1 .2 1 .1 1 .2 1 .2 1 .1 1 .1 1 .2 1 .1 1 .1 1 .2 1 .1 1 .1 1 .1 1 .2 1 .1 1 .1 1 .1 1 .1 1 .1 1 .1 1 .1 1 .1 1 .1 1 .1 1 .1 1 0 1 .1 1 .1 1 .1 1 .1 1 0 1 .1 1 .1 1 .1 1 0 1 .1 1 .1 1 0 1 .1 1 0 1 .1 1 .1 1 0 1 .1 1 0 1 .1 1 0 1 .1 1 0 1 0 1 .1 1 0 1 .1 1 0 1 0 1 .1 1 0 1 .1 1 0 1 0 1 .1 1 0 1 0 1 .1 1 0 1 0 1 .1 1 0 1 0 1 0 1 .1 1 0 1 0 1 0 1 .1 1 0 1 0 1 0 1 0 1 0 -.2 0"/><path d="M394.8 342l1 .2 1 .3 1 .2 1 .3 1 .2 1 .3 1 .3 1 .2 1 .3 1 .2 1 .3 1 .2 1 .3 1 .3 1 .2 1 .2 1 .2 1 .2 1 .2 1 .2 1 .2 1 .2 1 .2 1 .2 1 .2 1 .2 1 .2 1 .3 1 .2 1 .2 1 .2 1 .2 1-.1 1-.3 1-.3 1-.4 1-.3 1-.3 1-.3 1-.3 1-.4 1-.3 1-.5 1-1.1 1-1.2 1-1.4 1-1.4 1-1.4 1-1.4 1-1.4 1-1.4 1-1.4 1-1.5 1-2 1-2 1-1.9 1-1.7 1-1.6 1-1.5 1-1.2 1-.6 1-.4 1-.3 1-.1 1 .1 1 .6 1 1 1 1.3 1 1.4 1 1.5 1 1.5 1 1.3 1 1.2 1 1.3 1 1.3 1 1.1 1 .9 1 .7 1 .7 1 .6 1 .7 1 .5 1 .5 1 .4 1 .4 1 .2 1 .1 1 0 1-.1 1-.1 1-.2 1-.2 1-.3 1-.6 1-.8 1-1.1 1-1.1 1-1.3 1-1.4 1-1.5 1-1.7 1-2 1-2.1 1-2.3 1-2.5 1-3 1-3.7 1-4.1 1-4.3 1-4 1-3.5 1-2.7 1-2.1 1-2 1-1.9 1-1.7 1-1.5 1-1.1 1-.6 1-.1 1 .4 1 .8 1 1.1 1 1.3 1 1.6 1 1.7 1 1.8 1 2.1 1 2.9 1 3.7 1 4.2 1 4.6 1 4.7 1 4.6 1 4.2 1 3.8 1 3.7 1 3.8 1 3.6 1 3.6 1 3.4 1 3.2 1 3 1 2.9 1 2.7 1 2.7 1 2.6 1 2.4 1 2.2 1 2.1 1 1.8 1 1.6 1 1.5 1 1.3 1 1.3 1 1.2 1 1.1 1 1.2 1 1.1 1 1.1 1 1 1 .9 1 .9 1 .8 1 .7 1 .7 1 .5 1 .6 1 .5 1 .6 1 .5 1 .4 1 .5 1 .4 1 .5 1 .4 1 .4 1 .3 1 .4 1 .4 1 .3 1 .3 1 .3 1 .3 1 .3 1 .3 1 .3 1 .3 1 .2 1 .3 1 .2 1 .3 1 .2 1 .2 1 .2 1 .2 1 .3 1 .2 1 .1 1 .2 1 .2 1 .2 1 .2 1 .1 1 .2 1 .1 1 .2 1 .1 1 .2 1 .1 1 .2 1 .1 1 .1 1 .2 1 .1 1 .1 1 .2 1 .1 1 .1 1 .1 1 .1 1 .1 1 .1 1 .1 1 .1 1 .1 1 .1 1 .1 1 .1 1 .1 1 0 1 .1 1 .1 1 .1 1 .1 1 0 1 .1 1 .1 1 0 1 .1 1 .1 1 0 1 .1 1 .1 1 0 1 .1 1 0 1 .1 1 0 1 .1 1 0 1 0 1 .1 1 0 1 .1 1 0 1 .1 1 0 1 .1 1 0 1 0 1 .1 1 0 1 0 1 .1 1 0 1 .1 1 0 1 0 1 0 1 .1 1 0 1 0 1 0 1 .1 1 0 1 0 1 0 1 0 1 0 -.2 0"/><path d="M394.8 340.4l1 .2 1 .3 1 .3 1 .3 1 .2 1 .3 1 .3 1 .3 1 .2 1 .3 1 .3 1 .3 1 .2 1 .3 1 .3 1 .2 1 .2 1 .2 1 .3 1 .2 1 .2 1 .2 1 .2 1 .2 1 .3 1 .2 1 .2 1 .3 1 .2 1 .2 1 .3 1 .2 1-.2 1-.3 1-.2 1-.3 1-.3 1-.3 1-.3 1-.3 1-.3 1-.3 1-.4 1-1.1 1-1.3 1-1.3 1-1.4 1-1.4 1-1.3 1-1.4 1-1.4 1-1.4 1-1.3 1-2.1 1-2.1 1-1.8 1-1.6 1-1.6 1-1.4 1-1.1 1-.6 1-.4 1-.3 1-.2 1 .1 1 .5 1 1 1 1.3 1 1.4 1 1.4 1 1.4 1 1.2 1 1.1 1 1.1 1 1.1 1 1 1 .6 1 .5 1 .4 1 .4 1 .3 1 .4 1 .2 1 .2 1 .1 1 0 1-.1 1-.2 1-.3 1-.3 1-.4 1-.4 1-.6 1-.8 1-1.1 1-1.4 1-1.4 1-1.6 1-1.7 1-1.8 1-2 1-2.2 1-2.5 1-2.7 1-2.9 1-3.4 1-4.2 1-4.8 1-4.9 1-4.6 1-4 1-3 1-2.4 1-2.3 1-2.2 1-2 1-1.7 1-1.2 1-.7 1-.2 1 .5 1 .8 1 1.2 1 1.5 1 1.7 1 2 1 2 1 2.3 1 3.2 1 4.2 1 4.8 1 5.2 1 5.2 1 5.2 1 4.7 1 4.2 1 4.2 1 4.2 1 4.1 1 4 1 3.9 1 3.6 1 3.4 1 3.2 1 3.1 1 3 1 2.8 1 2.7 1 2.5 1 2.3 1 2.1 1 1.8 1 1.7 1 1.5 1 1.4 1 1.3 1 1.3 1 1.3 1 1.2 1 1.2 1 1.2 1 1 1 1 1 .9 1 .8 1 .7 1 .6 1 .7 1 .6 1 .5 1 .6 1 .5 1 .5 1 .5 1 .5 1 .4 1 .5 1 .4 1 .4 1 .4 1 .3 1 .4 1 .3 1 .4 1 .3 1 .3 1 .3 1 .3 1 .3 1 .3 1 .2 1 .3 1 .2 1 .3 1 .2 1 .2 1 .3 1 .2 1 .2 1 .2 1 .2 1 .2 1 .2 1 .2 1 .1 1 .2 1 .2 1 .1 1 .2 1 .2 1 .1 1 .2 1 .1 1 .1 1 .2 1 .1 1 .2 1 .1 1 .1 1 .1 1 .1 1 .2 1 .1 1 .1 1 .1 1 .1 1 .1 1 .1 1 .1 1 .1 1 .1 1 .1 1 0 1 .1 1 .1 1 .1 1 .1 1 .1 1 0 1 .1 1 .1 1 0 1 .1 1 .1 1 0 1 .1 1 0 1 .1 1 0 1 .1 1 0 1 .1 1 0 1 .1 1 0 1 .1 1 0 1 .1 1 0 1 .1 1 0 1 .1 1 0 1 0 1 .1 1 0 1 0 1 .1 1 0 1 0 1 .1 1 0 1 0 1 .1 1 0 1 0 1 0 1 0 1 .1 1 0 -.2 0"/><path d="M394.8 338.7l1 .3 1 .3 1 .3 1 .3 1 .3 1 .3 1 .3 1 .3 1 .3 1 .3 1 .3 1 .3 1 .2 1 .3 1 .3 1 .3 1 .2 1 .2 1 .3 1 .2 1 .2 1 .2 1 .3 1 .2 1 .3 1 .2 1 .3 1 .2 1 .3 1 .3 1 .2 1 .3 1-.2 1-.3 1-.3 1-.3 1-.2 1-.3 1-.3 1-.2 1-.3 1-.3 1-.2 1-1.2 1-1.3 1-1.4 1-1.3 1-1.3 1-1.4 1-1.3 1-1.3 1-1.3 1-1.3 1-2.1 1-2.1 1-1.8 1-1.6 1-1.5 1-1.4 1-1 1-.6 1-.4 1-.3 1-.2 1 .1 1 .5 1 .9 1 1.3 1 1.3 1 1.4 1 1.3 1 1.1 1 1 1 1 1 1 1 .7 1 .5 1 .2 1 .2 1 .1 1 .1 1 .1 1 .1 1 0 1-.1 1-.2 1-.3 1-.4 1-.5 1-.5 1-.6 1-.7 1-.7 1-1.1 1-1.4 1-1.5 1-1.7 1-1.9 1-1.9 1-2.1 1-2.3 1-2.5 1-2.8 1-3.1 1-3.2 1-3.8 1-4.7 1-5.3 1-5.4 1-5.2 1-4.4 1-3.4 1-2.7 1-2.6 1-2.5 1-2.2 1-1.8 1-1.4 1-.8 1-.2 1 .5 1 .9 1 1.3 1 1.6 1 1.9 1 2.1 1 2.3 1 2.4 1 3.6 1 4.6 1 5.3 1 5.6 1 5.9 1 5.6 1 5.2 1 4.6 1 4.7 1 4.6 1 4.5 1 4.4 1 4.2 1 4 1 3.7 1 3.5 1 3.5 1 3.3 1 3.1 1 3 1 2.7 1 2.6 1 2.2 1 2 1 1.8 1 1.7 1 1.5 1 1.5 1 1.4 1 1.4 1 1.4 1 1.3 1 1.2 1 1.2 1 1.1 1 1 1 .8 1 .8 1 .7 1 .7 1 .6 1 .7 1 .6 1 .5 1 .6 1 .5 1 .5 1 .5 1 .5 1 .4 1 .5 1 .4 1 .4 1 .4 1 .3 1 .4 1 .3 1 .4 1 .3 1 .3 1 .3 1 .3 1 .3 1 .3 1 .2 1 .3 1 .3 1 .2 1 .2 1 .3 1 .2 1 .2 1 .2 1 .2 1 .2 1 .2 1 .2 1 .2 1 .2 1 .2 1 .1 1 .2 1 .2 1 .1 1 .2 1 .1 1 .2 1 .1 1 .2 1 .1 1 .2 1 .1 1 .1 1 .1 1 .2 1 .1 1 .1 1 .1 1 .1 1 .1 1 .1 1 .1 1 .1 1 .1 1 .1 1 .1 1 .1 1 .1 1 .1 1 0 1 .1 1 .1 1 .1 1 .1 1 0 1 .1 1 .1 1 0 1 .1 1 0 1 .1 1 0 1 .1 1 0 1 .1 1 .1 1 0 1 .1 1 0 1 .1 1 0 1 .1 1 0 1 0 1 .1 1 0 1 .1 1 0 1 0 1 .1 1 0 1 .1 1 0 1 0 1 0 1 .1 1 0 1 0 1 0 1 .1 1 0 1 0 -.2 0"/></g>
<g fill="none" stroke-width="1.80" stroke-linejoin="round"><path d="M394.8 353.2l1 .2 1 .1 1 .1 1 .1 1 .1 1 .1 1 .1 1 .2 1 .1 1 .1 1 .1 1 .1 1 .1 1 .2 1 .1 1 .1 1 .1 1 .1 1 .1 1 .1 1 .1 1 .1 1 .1 1 .1 1 .1 1 0 1 .1 1 0 1 .1 1 0 1 .1 1 0 1 .1 1-.3 1-.5 1-.5 1-.5 1-.5 1-.5 1-.5 1-.5 1-.7 1-1 1-1 1-1 1-1.3 1-1.6 1-1.7 1-1.6 1-1.7 1-1.8 1-1.8 1-1.9 1-1.8 1-1.9 1-2.1 1-1.9 1-1.9 1-2 1-1.7 1-.8 1-.3 1-.2 1-.1 1 .1" stroke="#10092d"/><path d="M394.8 353.1l1 .2 1 .1 1 .1 1 .1 1 .1 1 .1 1 .2 1 .1 1 .1 1 .1 1 .1 1 .1 1 .2 1 .1 1 .1 1 .1 1 .1 1 .1 1 .1 1 .1 1 .1 1 .1 1 .1 1 .1 1 .1 1 0 1 .1 1 0 1 .1 1 .1 1 0 1 .1 1 0 1-.3 1-.5 1-.5 1-.5 1-.4 1-.5 1-.5 1-.5 1-.7 1-1 1-1 1-1 1-1.3 1-1.7 1-1.6 1-1.7 1-1.6 1-1.8 1-1.9 1-1.8 1-1.9 1-1.8 1-2.1 1-1.9 1-1.9 1-2 1-1.7 1-.8 1-.3 1-.2 1-.1 1 .1" stroke="#160b39"/><path d="M394.8 353l1 .1 1 .1 1 .1 1 .2 1 .1 1 .1 1 .1 1 .1 1 .2 1 .1 1 .1 1 .1 1 .1 1 .2 1 .1 1 .1 1 .1 1 .1 1 .1 1 .1 1 .1 1 .1 1 .1 1 .1 1 .1 1 0 1 .1 1 0 1 .1 1 .1 1 0 1 .1 1 0 1-.3 1-.5 1-.5 1-.5 1-.4 1-.5 1-.5 1-.5 1-.7 1-1 1-1 1-1 1-1.3 1-1.6 1-1.7 1-1.6 1-1.7 1-1.8 1-1.8 1-1.9 1-1.8 1-1.9 1-2.1 1-1.9 1-1.8 1-2 1-1.7 1-.8 1-.3 1-.2 1-.1 1 .1" stroke="#1e0c45"/><path d="M394.8 352.8l1 .1 1 .1 1 .2 1 .1 1 .1 1 .1 1 .1 1 .2 1 .1 1 .1 1 .1 1 .1 1 .2 1 .1 1 .1 1 .1 1 .1 1 .1 1 .1 1 .1 1 .2 1 .1 1 .1 1 .1 1 0 1 .1 1 .1 1 0 1 .1 1 0 1 .1 1 .1 1 0 1-.3 1-.5 1-.5 1-.5 1-.5 1-.4 1-.5 1-.5 1-.7 1-1 1-1 1-1 1-1.3 1-1.6 1-1.7 1-1.6 1-1.6 1-1.8 1-1.9 1-1.8 1-1.9 1-1.9 1-2 1-1.9 1-1.9 1-2 1-1.7 1-.7 1-.3 1-.2 1-.2 1 .2" stroke="#260c51"/><path d="M394.8 352.6l1 .1 1 .1 1 .1 1 .2 1 .1 1 .1 1 .1 1 .2 1 .1 1 .1 1 .1 1 .2 1 .1 1 .1 1 .1 1 .1 1 .2 1 .1 1 .1 1 .1 1 .1 1 .1 1 .1 1 .1 1 .1 1 0 1 .1 1 .1 1 0 1 .1 1 0 1 .1 1 .1 1-.4 1-.4 1-.5 1-.5 1-.5 1-.5 1-.4 1-.5 1-.7 1-1 1-1 1-1 1-1.3 1-1.6 1-1.7 1-1.6 1-1.6 1-1.8 1-1.9 1-1.8 1-1.8 1-1.9 1-2.1 1-1.9 1-1.8 1-2 1-1.7 1-.8 1-.3 1-.2 1-.1 1 .1" stroke="#2f0a5b"/><path d="M394.8 352.3l1 .1 1 .2 1 .1 1 .1 1 .2 1 .1 1 .1 1 .1 1 .2 1 .1 1 .1 1 .1 1 .2 1 .1 1 .1 1 .1 1 .2 1 .1 1 .1 1 .1 1 .1 1 .1 1 .1 1 .1 1 .1 1 .1 1 0 1 .1 1 .1 1 0 1 .1 1 .1 1 0 1-.3 1-.5 1-.5 1-.4 1-.5 1-.5 1-.5 1-.4 1-.8 1-.9 1-1 1-1 1-1.3 1-1.6 1-1.7 1-1.6 1-1.6 1-1.8 1-1.8 1-1.9 1-1.8 1-1.9 1-2.1 1-1.9 1-1.8 1-2 1-1.6 1-.8 1-.3 1-.2 1-.1 1 .1" stroke="#390963"/><path d="M394.8 352.1l1 .1 1 .1 1 .1 1 .2 1 .1 1 .1 1 .2 1 .1 1 .1 1 .2 1 .1 1 .1 1 .2 1 .1 1 .1 1 .1 1 .1 1 .2 1 .1 1 .1 1 .1 1 .1 1 .1 1 .1 1 .1 1 .1 1 0 1 .1 1 .1 1 .1 1 0 1 .1 1 0 1-.3 1-.5 1-.4 1-.5 1-.5 1-.4 1-.5 1-.5 1-.7 1-.9 1-1 1-1.1 1-1.2 1-1.7 1-1.6 1-1.6 1-1.6 1-1.8 1-1.8 1-1.8 1-1.9 1-1.9 1-2 1-2 1-1.8 1-1.9 1-1.7 1-.7 1-.4 1-.2 1-.1 1 .1" stroke="#420a68"/><path d="M394.8 351.8l1 .1 1 .1 1 .2 1 .1 1 .1 1 .2 1 .1 1 .1 1 .2 1 .1 1 .1 1 .2 1 .1 1 .1 1 .2 1 .1 1 .1 1 .1 1 .1 1 .2 1 .1 1 .1 1 .1 1 .1 1 .1 1 .1 1 0 1 .1 1 .1 1 .1 1 0 1 .1 1 0 1-.3 1-.4 1-.5 1-.5 1-.4 1-.5 1-.5 1-.4 1-.7 1-1 1-1 1-1 1-1.3 1-1.6 1-1.6 1-1.6 1-1.7 1-1.7 1-1.8 1-1.8 1-1.9 1-1.9 1-2 1-1.9 1-1.8 1-2 1-1.6 1-.8 1-.3 1-.2 1-.1 1 .1" stroke="#4a0c6b"/><path d="M394.8 351.5l1 .1 1 .1 1 .2 1 .1 1 .2 1 .1 1 .1 1 .2 1 .1 1 .1 1 .2 1 .1 1 .2 1 .1 1 .1 1 .2 1 .1 1 .1 1 .1 1 .1 1 .1 1 .2 1 .1 1 .1 1 .1 1 .1 1 0 1 .1 1 .1 1 .1 1 0 1 .1 1 0 1-.3 1-.4 1-.5 1-.5 1-.4 1-.5 1-.4 1-.5 1-.7 1-.9 1-1 1-1.1 1-1.2 1-1.6 1-1.7 1-1.6 1-1.6 1-1.7 1-1.8 1-1.8 1-1.9 1-1.9 1-2 1-1.9 1-1.8 1-1.9 1-1.7 1-.7 1-.3 1-.3 1-.1 1 .1" stroke="#520e6d"/><path d="M394.8 351.1l1 .2 1 .1 1 .2 1 .1 1 .2 1 .1 1 .1 1 .2 1 .1 1 .2 1 .1 1 .2 1 .1 1 .1 1 .2 1 .1 1 .1 1 .1 1 .2 1 .1 1 .1 1 .1 1 .1 1 .2 1 0 1 .1 1 .1 1 .1 1 .1 1 .1 1 0 1 .1 1 0 1-.3 1-.4 1-.5 1-.4 1-.5 1-.5 1-.4 1-.5 1-.6 1-.9 1-1.1 1-1 1-1.3 1-1.6 1-1.6 1-1.6 1-1.6 1-1.7 1-1.8 1-1.8 1-1.9 1-1.9 1-2 1-1.9 1-1.8 1-1.9 1-1.6 1-.8 1-.3 1-.2 1-.1 1 .1" stroke="#5a116e"/><path d="M394.8 350.8l1 .2 1 .1 1 .2 1 .1 1 .1 1 .2 1 .1 1 .2 1 .1 1 .2 1 .1 1 .2 1 .1 1 .2 1 .1 1 .1 1 .2 1 .1 1 .1 1 .1 1 .2 1 .1 1 .1 1 .1 1 .1 1 .1 1 .1 1 .1 1 .1 1 0 1 .1 1 .1 1 0 1-.3 1-.4 1-.5 1-.4 1-.5 1-.4 1-.5 1-.4 1-.7 1-.9 1-1 1-1.1 1-1.2 1-1.6 1-1.6 1-1.6 1-1.6 1-1.8 1-1.7 1-1.8 1-1.9 1-1.9 1-2 1-1.9 1-1.8 1-1.9 1-1.6 1-.7 1-.3 1-.3 1-.1 1 .1" stroke="#62146e"/><path d="M394.8 350.5l1 .1 1 .2 1 .1 1 .2 1 .1 1 .2 1 .1 1 .2 1 .1 1 .2 1 .1 1 .2 1 .1 1 .2 1 .1 1 .2 1 .1 1 .1 1 .1 1 .2 1 .1 1 .1 1 .1 1 .2 1 .1 1 .1 1 0 1 .1 1 .1 1 .1 1 .1 1 .1 1 0 1-.3 1-.5 1-.4 1-.4 1-.5 1-.4 1-.5 1-.4 1-.7 1-.8 1-1.1 1-1 1-1.3 1-1.6 1-1.6 1-1.6 1-1.6 1-1.7 1-1.7 1-1.8 1-1.9 1-1.9 1-2 1-1.9 1-1.8 1-1.9 1-1.5 1-.8 1-.3 1-.2 1-.2 1 .2" stroke="#6a176e"/><path d="M394.8 350.1l1 .2 1 .1 1 .2 1 .1 1 .2 1 .1 1 .2 1 .1 1 .2 1 .2 1 .1 1 .2 1 .1 1 .2 1 .1 1 .2 1 .1 1 .1 1 .2 1 .1 1 .1 1 .1 1 .2 1 .1 1 .1 1 .1 1 .1 1 .1 1 .1 1 .1 1 .1 1 .1 1 0 1-.3 1-.5 1-.4 1-.5 1-.4 1-.4 1-.5 1-.4 1-.7 1-.8 1-1 1-1.1 1-1.3 1-1.6 1-1.6 1-1.5 1-1.6 1-1.7 1-1.8 1-1.7 1-1.9 1-1.9 1-2 1-1.9 1-1.8 1-1.8 1-1.6 1-.7 1-.4 1-.2 1-.1 1 .1" stroke="#721a6e"/><path d="M394.8 349.7l1 .2 1 .2 1 .1 1 .2 1 .1 1 .2 1 .2 1 .1 1 .2 1 .1 1 .2 1 .2 1 .1 1 .2 1 .1 1 .2 1 .1 1 .1 1 .2 1 .1 1 .1 1 .2 1 .1 1 .1 1 .1 1 .1 1 .1 1 .1 1 .1 1 .1 1 .2 1 .1 1-.1 1-.3 1-.4 1-.4 1-.5 1-.4 1-.4 1-.5 1-.4 1-.6 1-.9 1-1 1-1.1 1-1.3 1-1.5 1-1.6 1-1.6 1-1.6 1-1.7 1-1.7 1-1.7 1-1.9 1-1.9 1-2 1-1.9 1-1.8 1-1.8 1-1.6 1-.7 1-.3 1-.3 1-.1 1 .1" stroke="#7c1d6d"/><path d="M394.8 349.4l1 .1 1 .2 1 .2 1 .1 1 .2 1 .1 1 .2 1 .2 1 .1 1 .2 1 .2 1 .1 1 .2 1 .2 1 .1 1 .2 1 .1 1 .1 1 .2 1 .1 1 .1 1 .2 1 .1 1 .1 1 .2 1 .1 1 .1 1 .1 1 .1 1 .1 1 .1 1 .1 1 0 1-.3 1-.4 1-.5 1-.4 1-.4 1-.5 1-.4 1-.4 1-.6 1-.8 1-1.1 1-1.1 1-1.3 1-1.5 1-1.6 1-1.6 1-1.5 1-1.7 1-1.7 1-1.7 1-1.9 1-2 1-1.9 1-1.9 1-1.8 1-1.8 1-1.5 1-.8 1-.3 1-.2 1-.1 1 .1" stroke="#84206b"/><path d="M394.8 349l1 .1 1 .2 1 .2 1 .1 1 .2 1 .2 1 .1 1 .2 1 .2 1 .2 1 .1 1 .2 1 .2 1 .1 1 .2 1 .1 1 .2 1 .1 1 .2 1 .1 1 .1 1 .2 1 .1 1 .2 1 .1 1 .1 1 .1 1 .1 1 .1 1 .1 1 .2 1 .1 1-.1 1-.3 1-.4 1-.4 1-.4 1-.5 1-.4 1-.4 1-.4 1-.6 1-.8 1-1.1 1-1.1 1-1.2 1-1.6 1-1.6 1-1.5 1-1.6 1-1.6 1-1.7 1-1.7 1-1.9 1-2 1-2 1-1.8 1-1.8 1-1.8 1-1.5 1-.7 1-.3 1-.3 1-.1 1 .1" stroke="#8c2369"/><path d="M394.8 348.6l1 .1 1 .2 1 .2 1 .2 1 .1 1 .2 1 .2 1 .2 1 .1 1 .2 1 .2 1 .2 1 .1 1 .2 1 .2 1 .1 1 .2 1 .1 1 .1 1 .2 1 .1 1 .2 1 .1 1 .2 1 .1 1 .1 1 .1 1 .1 1 .2 1 .1 1 .1 1 .1 1 0 1-.3 1-.4 1-.5 1-.4 1-.4 1-.4 1-.4 1-.4 1-.6 1-.8 1-1 1-1.2 1-1.2 1-1.6 1-1.5 1-1.6 1-1.5 1-1.7 1-1.7 1-1.6 1-2 1-1.9 1-2 1-1.8 1-1.8 1-1.8 1-1.5 1-.7 1-.3 1-.3 1-.1 1 .1" stroke="#932667"/><path d="M394.8 348.1l1 .2 1 .2 1 .2 1 .2 1 .1 1 .2 1 .2 1 .2 1 .2 1 .1 1 .2 1 .2 1 .2 1 .2 1 .1 1 .2 1 .1 1 .2 1 .1 1 .2 1 .1 1 .2 1 .1 1 .2 1 .1 1 .1 1 .1 1 .2 1 .1 1 .1 1 .1 1 .2 1-.1 1-.3 1-.4 1-.4 1-.4 1-.4 1-.4 1-.5 1-.4 1-.5 1-.8 1-1 1-1.2 1-1.2 1-1.6 1-1.5 1-1.6 1-1.5 1-1.6 1-1.7 1-1.7 1-1.9 1-2 1-1.9 1-1.8 1-1.8 1-1.8 1-1.4 1-.7 1-.4 1-.2 1-.2 1 .1" stroke="#9b2964"/><path d="M394.8 347.7l1 .2 1 .2 1 .2 1 .2 1 .1 1 .2 1 .2 1 .2 1 .2 1 .2 1 .2 1 .1 1 .2 1 .2 1 .2 1 .1 1 .2 1 .1 1 .2 1 .1 1 .2 1 .1 1 .2 1 .1 1 .2 1 .1 1 .1 1 .2 1 .1 1 .1 1 .2 1 .1 1-.1 1-.3 1-.4 1-.4 1-.4 1-.4 1-.4 1-.4 1-.4 1-.6 1-.7 1-1 1-1.2 1-1.2 1-1.6 1-1.5 1-1.5 1-1.6 1-1.6 1-1.6 1-1.7 1-1.9 1-2 1-1.9 1-1.9 1-1.7 1-1.7 1-1.5 1-.7 1-.3 1-.3 1-.1 1 .1" stroke="#a32c61"/><path d="M394.8 347.3l1 .2 1 .2 1 .2 1 .1 1 .2 1 .2 1 .2 1 .2 1 .2 1 .2 1 .2 1 .2 1 .2 1 .1 1 .2 1 .2 1 .2 1 .1 1 .2 1 .1 1 .2 1 .1 1 .2 1 .1 1 .2 1 .1 1 .1 1 .2 1 .1 1 .2 1 .1 1 .1 1 0 1-.3 1-.4 1-.4 1-.4 1-.4 1-.4 1-.4 1-.4 1-.6 1-.7 1-1 1-1.2 1-1.3 1-1.5 1-1.5 1-1.5 1-1.5 1-1.7 1-1.6 1-1.6 1-2 1-1.9 1-2 1-1.8 1-1.7 1-1.7 1-1.5 1-.7 1-.3 1-.3 1-.1 1 .1" stroke="#ab2f5e"/><path d="M394.8 346.8l1 .2 1 .2 1 .2 1 .2 1 .2 1 .2 1 .2 1 .2 1 .2 1 .2 1 .2 1 .2 1 .2 1 .2 1 .2 1 .1 1 .2 1 .2 1 .1 1 .2 1 .1 1 .2 1 .1 1 .2 1 .1 1 .2 1 .1 1 .2 1 .1 1 .2 1 .1 1 .2 1-.1 1-.3 1-.4 1-.4 1-.4 1-.4 1-.4 1-.4 1-.4 1-.5 1-.7 1-1 1-1.2 1-1.3 1-1.5 1-1.5 1-1.5 1-1.5 1-1.6 1-1.6 1-1.7 1-1.9 1-2 1-1.9 1-1.8 1-1.7 1-1.7 1-1.4 1-.7 1-.4 1-.2 1-.2 1 .1" stroke="#b3325a"/><path d="M394.8 346.4l1 .2 1 .2 1 .2 1 .2 1 .2 1 .2 1 .2 1 .2 1 .2 1 .2 1 .2 1 .2 1 .2 1 .2 1 .2 1 .2 1 .1 1 .2 1 .2 1 .1 1 .2 1 .1 1 .2 1 .2 1 .1 1 .2 1 .1 1 .2 1 .1 1 .2 1 .1 1 .2 1-.1 1-.3 1-.4 1-.4 1-.4 1-.3 1-.4 1-.4 1-.4 1-.5 1-.7 1-1 1-1.2 1-1.3 1-1.5 1-1.5 1-1.5 1-1.5 1-1.6 1-1.6 1-1.6 1-1.9 1-2 1-1.9 1-1.8 1-1.7 1-1.7 1-1.4 1-.7 1-.4 1-.2 1-.2 1 .1" stroke="#bc3754"/><path d="M394.8 345.9l1 .2 1 .2 1 .3 1 .2 1 .2 1 .2 1 .2 1 .2 1 .2 1 .2 1 .2 1 .2 1 .2 1 .2 1 .2 1 .2 1 .2 1 .1 1 .2 1 .2 1 .1 1 .2 1 .2 1 .1 1 .2 1 .1 1 .2 1 .2 1 .1 1 .2 1 .1 1 .2 1-.1 1-.3 1-.4 1-.4 1-.3 1-.4 1-.4 1-.4 1-.3 1-.6 1-.6 1-1 1-1.2 1-1.3 1-1.5 1-1.5 1-1.5 1-1.5 1-1.5 1-1.6 1-1.6 1-2 1-2 1-1.9 1-1.8 1-1.6 1-1.7 1-1.4 1-.7 1-.3 1-.3 1-.1 1 .1" stroke="#c33b4f"/><path d="M394.8 345.5l1 .2 1 .2 1 .2 1 .2 1 .2 1 .2 1 .3 1 .2 1 .2 1 .2 1 .2 1 .2 1 .2 1 .2 1 .3 1 .1 1 .2 1 .2 1 .1 1 .2 1 .2 1 .1 1 .2 1 .2 1 .1 1 .2 1 .2 1 .1 1 .2 1 .2 1 .1 1 .2 1-.1 1-.3 1-.4 1-.3 1-.4 1-.4 1-.4 1-.3 1-.4 1-.5 1-.6 1-1.1 1-1.1 1-1.3 1-1.5 1-1.5 1-1.5 1-1.5 1-1.5 1-1.6 1-1.6 1-1.9 1-2 1-1.9 1-1.8 1-1.7 1-1.6 1-1.4 1-.7 1-.3 1-.3 1-.1 1 .1" stroke="#ca404a"/><path d="M394.8 345l1 .2 1 .2 1 .2 1 .3 1 .2 1 .2 1 .2 1 .2 1 .3 1 .2 1 .2 1 .2 1 .2 1 .2 1 .3 1 .1 1 .2 1 .2 1 .2 1 .1 1 .2 1 .2 1 .2 1 .1 1 .2 1 .2 1 .1 1 .2 1 .2 1 .2 1 .1 1 .2 1-.1 1-.3 1-.4 1-.3 1-.4 1-.4 1-.3 1-.4 1-.3 1-.5 1-.6 1-1.1 1-1.2 1-1.3 1-1.5 1-1.4 1-1.5 1-1.5 1-1.5 1-1.5 1-1.6 1-2 1-2 1-1.9 1-1.7 1-1.7 1-1.6 1-1.4 1-.6 1-.4 1-.2 1-.2 1 .1" stroke="#d04545"/><path d="M394.8 344.5l1 .2 1 .3 1 .2 1 .2 1 .2 1 .3 1 .2 1 .2 1 .2 1 .3 1 .2 1 .2 1 .2 1 .2 1 .3 1 .2 1 .1 1 .2 1 .2 1 .2 1 .1 1 .2 1 .2 1 .2 1 .2 1 .1 1 .2 1 .2 1 .2 1 .1 1 .2 1 .2 1-.1 1-.3 1-.4 1-.3 1-.4 1-.3 1-.4 1-.3 1-.4 1-.5 1-.5 1-1.1 1-1.2 1-1.3 1-1.5 1-1.4 1-1.5 1-1.5 1-1.5 1-1.5 1-1.5 1-2 1-2 1-1.9 1-1.8 1-1.6 1-1.6 1-1.3 1-.7 1-.4 1-.2 1-.2 1 .1" stroke="#d74b3f"/><path d="M394.8 344l1 .2 1 .3 1 .2 1 .2 1 .3 1 .2 1 .2 1 .3 1 .2 1 .2 1 .2 1 .3 1 .2 1 .2 1 .3 1 .2 1 .1 1 .2 1 .2 1 .2 1 .2 1 .2 1 .1 1 .2 1 .2 1 .2 1 .2 1 .2 1 .1 1 .2 1 .2 1 .2 1-.1 1-.3 1-.4 1-.3 1-.4 1-.3 1-.4 1-.3 1-.4 1-.4 1-.6 1-1 1-1.2 1-1.4 1-1.4 1-1.5 1-1.4 1-1.4 1-1.5 1-1.6 1-1.5 1-2 1-2 1-1.9 1-1.7 1-1.6 1-1.6 1-1.3 1-.7 1-.3 1-.3 1-.2 1 .1" stroke="#dd513a"/><path d="M394.8 343.5l1 .2 1 .3 1 .2 1 .3 1 .2 1 .2 1 .3 1 .2 1 .2 1 .3 1 .2 1 .3 1 .2 1 .2 1 .3 1 .2 1 .1 1 .2 1 .2 1 .2 1 .2 1 .2 1 .2 1 .1 1 .2 1 .2 1 .2 1 .2 1 .2 1 .2 1 .2 1 .2 1-.2 1-.2 1-.4 1-.3 1-.4 1-.3 1-.4 1-.3 1-.3 1-.5 1-.5 1-1.1 1-1.2 1-1.3 1-1.4 1-1.5 1-1.4 1-1.4 1-1.5 1-1.5 1-1.5 1-2 1-2 1-1.9 1-1.7 1-1.7 1-1.5 1-1.3 1-.7 1-.3 1-.3 1-.1 1 0" stroke="#e25734"/><path d="M394.8 343l1 .2 1 .3 1 .2 1 .3 1 .2 1 .3 1 .2 1 .2 1 .3 1 .2 1 .3 1 .2 1 .3 1 .2 1 .3 1 .2 1 .1 1 .2 1 .2 1 .2 1 .2 1 .2 1 .2 1 .2 1 .2 1 .2 1 .2 1 .2 1 .2 1 .2 1 .2 1 .2 1-.2 1-.3 1-.3 1-.3 1-.4 1-.3 1-.3 1-.4 1-.3 1-.4 1-.5 1-1.1 1-1.2 1-1.3 1-1.5 1-1.4 1-1.4 1-1.5 1-1.4 1-1.5 1-1.5 1-2 1-2 1-1.9 1-1.7 1-1.6 1-1.5 1-1.3 1-.6 1-.4 1-.3 1-.1 1 0" stroke="#e75e2e"/><path d="M394.8 342.5l1 .2 1 .3 1 .2 1 .3 1 .2 1 .3 1 .2 1 .3 1 .2 1 .3 1 .2 1 .3 1 .2 1 .3 1 .2 1 .2 1 .2 1 .2 1 .2 1 .2 1 .2 1 .2 1 .2 1 .2 1 .2 1 .2 1 .2 1 .2 1 .2 1 .2 1 .2 1 .2 1-.1 1-.3 1-.3 1-.3 1-.4 1-.3 1-.3 1-.4 1-.3 1-.4 1-.4 1-1.1 1-1.3 1-1.3 1-1.4 1-1.4 1-1.5 1-1.4 1-1.4 1-1.5 1-1.4 1-2 1-2.1 1-1.8 1-1.7 1-1.6 1-1.6 1-1.2 1-.6 1-.4 1-.3 1-.1 1 0" stroke="#eb6628"/><path d="M394.8 342l1 .2 1 .3 1 .2 1 .3 1 .2 1 .3 1 .3 1 .2 1 .3 1 .2 1 .3 1 .2 1 .3 1 .3 1 .2 1 .2 1 .2 1 .2 1 .2 1 .2 1 .2 1 .2 1 .2 1 .2 1 .2 1 .2 1 .2 1 .3 1 .2 1 .2 1 .2 1 .2 1-.1 1-.3 1-.3 1-.4 1-.3 1-.3 1-.3 1-.3 1-.4 1-.3 1-.5 1-1.1 1-1.2 1-1.4 1-1.4 1-1.4 1-1.4 1-1.4 1-1.4 1-1.4 1-1.5 1-2 1-2 1-1.9 1-1.7 1-1.6 1-1.5 1-1.2 1-.6 1-.4 1-.3 1-.1 1 .1" stroke="#f06f20"/><path d="M394.8 341.4l1 .3 1 .3 1 .2 1 .3 1 .2 1 .3 1 .3 1 .2 1 .3 1 .3 1 .2 1 .3 1 .3 1 .2 1 .3 1 .2 1 .2 1 .2 1 .2 1 .2 1 .2 1 .2 1 .2 1 .2 1 .2 1 .3 1 .2 1 .2 1 .2 1 .2 1 .3 1 .2 1-.2 1-.3 1-.3 1-.3 1-.3 1-.3 1-.3 1-.3 1-.3 1-.4 1-.4 1-1.1 1-1.3 1-1.3 1-1.4 1-1.4 1-1.4 1-1.4 1-1.4 1-1.4 1-1.4 1-2.1 1-2 1-1.8 1-1.7 1-1.6 1-1.5 1-1.1 1-.7 1-.3 1-.3 1-.2 1 .1" stroke="#f37819"/><path d="M394.8 340.9l1 .3 1 .2 1 .3 1 .3 1 .2 1 .3 1 .3 1 .3 1 .2 1 .3 1 .3 1 .2 1 .3 1 .3 1 .2 1 .3 1 .2 1 .2 1 .2 1 .2 1 .2 1 .2 1 .2 1 .2 1 .3 1 .2 1 .2 1 .2 1 .3 1 .2 1 .2 1 .3 1-.2 1-.3 1-.3 1-.3 1-.3 1-.3 1-.3 1-.3 1-.3 1-.4 1-.4 1-1.1 1-1.2 1-1.4 1-1.4 1-1.3 1-1.4 1-1.4 1-1.4 1-1.4 1-1.4 1-2 1-2.1 1-1.8 1-1.7 1-1.5 1-1.5 1-1.1 1-.6 1-.4 1-.3 1-.2 1 .1" stroke="#f68013"/><path d="M394.8 340.4l1 .2 1 .3 1 .3 1 .3 1 .2 1 .3 1 .3 1 .3 1 .2 1 .3 1 .3 1 .3 1 .2 1 .3 1 .3 1 .2 1 .2 1 .2 1 .3 1 .2 1 .2 1 .2 1 .2 1 .2 1 .3 1 .2 1 .2 1 .3 1 .2 1 .2 1 .3 1 .2 1-.2 1-.3 1-.2 1-.3 1-.3 1-.3 1-.3 1-.3 1-.3 1-.3 1-.4 1-1.1 1-1.3 1-1.3 1-1.4 1-1.4 1-1.3 1-1.4 1-1.4 1-1.4 1-1.3 1-2.1 1-2.1 1-1.8 1-1.6 1-1.6 1-1.4 1-1.1 1-.6 1-.4 1-.3 1-.2 1 .1" stroke="#f8890c"/><path d="M394.8 339.8l1 .3 1 .3 1 .3 1 .2 1 .3 1 .3 1 .3 1 .3 1 .3 1 .2 1 .3 1 .3 1 .3 1 .3 1 .3 1 .2 1 .2 1 .2 1 .2 1 .3 1 .2 1 .2 1 .2 1 .2 1 .3 1 .2 1 .3 1 .2 1 .2 1 .3 1 .2 1 .3 1-.2 1-.3 1-.3 1-.3 1-.3 1-.2 1-.3 1-.3 1-.3 1-.3 1-.3 1-1.2 1-1.3 1-1.3 1-1.4 1-1.3 1-1.4 1-1.3 1-1.4 1-1.3 1-1.4 1-2.1 1-2 1-1.8 1-1.7 1-1.5 1-1.4 1-1.1 1-.6 1-.4 1-.3 1-.2 1 .1" stroke="#fa9207"/><path d="M394.8 339.3l1 .2 1 .3 1 .3 1 .3 1 .3 1 .3 1 .3 1 .3 1 .3 1 .2 1 .3 1 .3 1 .3 1 .3 1 .3 1 .2 1 .3 1 .2 1 .2 1 .2 1 .2 1 .3 1 .2 1 .2 1 .3 1 .2 1 .3 1 .2 1 .3 1 .2 1 .3 1 .2 1-.2 1-.3 1-.2 1-.3 1-.3 1-.3 1-.2 1-.3 1-.3 1-.3 1-.3 1-1.1 1-1.3 1-1.4 1-1.3 1-1.4 1-1.3 1-1.3 1-1.4 1-1.3 1-1.4 1-2 1-2.1 1-1.8 1-1.6 1-1.6 1-1.3 1-1.1 1-.6 1-.4 1-.3 1-.2 1 .1" stroke="#fb9b06"/><path d="M394.8 338.7l1 .3 1 .3 1 .3 1 .3 1 .3 1 .3 1 .3 1 .3 1 .3 1 .3 1 .3 1 .3 1 .2 1 .3 1 .3 1 .3 1 .2 1 .2 1 .3 1 .2 1 .2 1 .2 1 .3 1 .2 1 .3 1 .2 1 .3 1 .2 1 .3 1 .3 1 .2 1 .3 1-.2 1-.3 1-.3 1-.3 1-.2 1-.3 1-.3 1-.2 1-.3 1-.3 1-.2 1-1.2 1-1.3 1-1.4 1-1.3 1-1.3 1-1.4 1-1.3 1-1.3 1-1.3 1-1.3 1-2.1 1-2.1 1-1.8 1-1.6 1-1.5 1-1.4 1-1 1-.6 1-.4 1-.3 1-.2 1 .1" stroke="#fca50a"/></g>
<g fill="none" stroke-width="1.80" stroke-linejoin="round"><path d="M394.8 353.2l1 .2 1 .1 1 .1 1 .1 1 .1 1 .1 1 .1 1 .2 1 .1 1 .1 1 .1 1 .1 1 .1 1 .2 1 .1 1 .1 1 .1 1 .1 1 .1 1 .1 1 .1 1 .1 1 .1 1 .1 1 .1 1 0 1 .1 1 0 1 .1 1 0 1 .1 1 0 1 .1 1-.3 1-.5 1-.5 1-.5 1-.5 1-.5 1-.5 1-.5 1-.7 1-1 1-1 1-1 1-1.3 1-1.6 1-1.7 1-1.6 1-1.7 1-1.8 1-1.8 1-1.9 1-1.8 1-1.9 1-2.1 1-1.9 1-1.9 1-2 1-1.7 1-.8 1-.3 1-.2 1-.1 1 .1 1 1 1 1.5 1 1.5 1 1.8 1 1.9 1 2.2 1 2.2 1 2.4 1 2.5 1 2.7 1 2.7 1 2.7 1 2.8 1 2.8 1 2.8 1 2.7 1 2.5 1 2.2 1 2.2 1 2.1 1 2 1 1.9 1 1.8 1 1.7 1 1.6 1 1.6 1 1.5 1 1.5 1 1.4 1 1.3 1 1.2 1 1.1 1 1 1 .9 1 .8 1 .8 1 .8 1 .6 1 .7 1 .6 1 .6 1 .5 1 .6 1 .5 1 .5 1 .5 1 .4 1 .5 1 .3 1 .4 1 .3 1 .3 1 .2 1 .2 1 .2 1 .1 1 .2 1 .2 1 .1 1 .1 1 .2 1 .1 1 .1 1 .1 1 .1 1 .1 1 0 1 .1 1 .1 1 0 1 .1 1 .1 1 0 1 .1 1 0 1 .1 1 0 1 .1 1 0 1 .1 1 .1 1 0 1 .1 1 0 1 .1 1 0 1 .1 1 0 1 .1 1 0 1 .1 1 0 1 .1 1 0 1 .1 1 .1 1 0 1 .1 1 0 1 .1 1 0 1 .1 1 .1 1 0 1 .1 1 .1 1 .1 1 0 1 .1 1 .1 1 .1 1 0 1 .1 1 .1 1 .1 1 0 1 .1 1 .1 1 .1 1 .1 1 0 1 .1 1 .1 1 .1 1 0 1 .1 1 .1 1 .1 1 0 1 .1 1 .1 1 0 1 .1 1 .1 1 0 1 .1 1 0 1 .1 1 0 1 .1 1 0 1 0 1 .1 1 0 1 0 1 .1 1 0 1 0 1 .1 1 0 1 0 1 .1 1 0 1 0 1 .1 1 0 1 0 1 0 1 .1 1 0 1 0 1 0 1 .1 1 0 1 0 1 0 1 .1 1 0 1 0 1 0 1 0 1 .1 1 0 1 0 1 0 1 0 1 0 1 .1 1 0 1 0 1 0 1 0 1 0 1 .1 1 0 1 0 1 0 1 0 1 0 1 0 1 .1 1 0 1 0 1 0 1 0 1 0 1 0 1 .1 1 0 1 0 1 0 1 0 1 0 1 0 1 0 1 0 1 0 1 .1 1 0 1 0 1 0 1 0 1 0 1 0 1 0 -.2 0" stroke="#10092d"/><path d="M394.8 352.8l1 .1 1 .1 1 .2 1 .1 1 .1 1 .1 1 .1 1 .2 1 .1 1 .1 1 .1 1 .1 1 .2 1 .1 1 .1 1 .1 1 .1 1 .1 1 .1 1 .1 1 .2 1 .1 1 .1 1 .1 1 0 1 .1 1 .1 1 0 1 .1 1 0 1 .1 1 .1 1 0 1-.3 1-.5 1-.5 1-.5 1-.5 1-.4 1-.5 1-.5 1-.7 1-1 1-1 1-1 1-1.3 1-1.6 1-1.7 1-1.6 1-1.6 1-1.8 1-1.9 1-1.8 1-1.9 1-1.9 1-2 1-1.9 1-1.9 1-2 1-1.7 1-.7 1-.3 1-.2 1-.2 1 .2 1 .9 1 1.5 1 1.5 1 1.8 1 1.9 1 2.2 1 2.2 1 2.3 1 2.6 1 2.7 1 2.7 1 2.7 1 2.7 1 2.8 1 2.8 1 2.7 1 2.4 1 2.3 1 2.2 1 2 1 2 1 1.9 1 1.7 1 1.7 1 1.6 1 1.6 1 1.5 1 1.5 1 1.4 1 1.2 1 1.2 1 1.1 1 .9 1 .9 1 .8 1 .8 1 .7 1 .7 1 .6 1 .6 1 .5 1 .5 1 .5 1 .5 1 .5 1 .4 1 .4 1 .4 1 .4 1 .3 1 .3 1 .2 1 .3 1 .1 1 .2 1 .2 1 .2 1 .1 1 .2 1 .2 1 .1 1 .1 1 .2 1 .1 1 .1 1 .1 1 .2 1 .1 1 .1 1 .1 1 .1 1 .1 1 .1 1 .1 1 0 1 .1 1 .1 1 .1 1 .1 1 .1 1 .1 1 0 1 .1 1 .1 1 .1 1 0 1 .1 1 .1 1 0 1 .1 1 .1 1 0 1 .1 1 .1 1 0 1 .1 1 0 1 .1 1 .1 1 0 1 .1 1 .1 1 0 1 .1 1 .1 1 .1 1 0 1 .1 1 .1 1 .1 1 .1 1 0 1 .1 1 .1 1 .1 1 .1 1 0 1 .1 1 .1 1 .1 1 .1 1 0 1 .1 1 .1 1 .1 1 .1 1 0 1 .1 1 .1 1 0 1 .1 1 .1 1 0 1 .1 1 .1 1 0 1 .1 1 0 1 .1 1 0 1 0 1 .1 1 0 1 .1 1 0 1 0 1 .1 1 0 1 0 1 .1 1 0 1 0 1 .1 1 0 1 0 1 .1 1 0 1 0 1 0 1 .1 1 0 1 0 1 0 1 .1 1 0 1 0 1 0 1 .1 1 0 1 0 1 0 1 0 1 .1 1 0 1 0 1 0 1 0 1 0 1 .1 1 0 1 0 1 0 1 0 1 0 1 .1 1 0 1 0 1 0 1 0 1 0 1 0 1 .1 1 0 1 0 1 0 1 0 1 0 1 0 1 .1 1 0 1 0 1 0 1 0 1 0 1 0 1 0 1 0 1 0 1 .1 1 0 1 0 1 0 1 0 1 0 1 0 -.2 0" stroke="#260c51"/><path d="M394.8 352.1l1 .1 1 .1 1 .1 1 .2 1 .1 1 .1 1 .2 1 .1 1 .1 1 .2 1 .1 1 .1 1 .2 1 .1 1 .1 1 .1 1 .1 1 .2 1 .1 1 .1 1 .1 1 .1 1 .1 1 .1 1 .1 1 .1 1 0 1 .1 1 .1 1 .1 1 0 1 .1 1 0 1-.3 1-.5 1-.4 1-.5 1-.5 1-.4 1-.5 1-.5 1-.7 1-.9 1-1 1-1.1 1-1.2 1-1.7 1-1.6 1-1.6 1-1.6 1-1.8 1-1.8 1-1.8 1-1.9 1-1.9 1-2 1-2 1-1.8 1-1.9 1-1.7 1-.7 1-.4 1-.2 1-.1 1 .1 1 1 1 1.5 1 1.5 1 1.7 1 1.9 1 2.1 1 2.2 1 2.3 1 2.6 1 2.6 1 2.7 1 2.6 1 2.6 1 2.8 1 2.7 1 2.6 1 2.4 1 2.1 1 2.1 1 2 1 1.9 1 1.8 1 1.7 1 1.6 1 1.6 1 1.5 1 1.4 1 1.4 1 1.3 1 1.2 1 1.1 1 1 1 .9 1 .8 1 .7 1 .7 1 .6 1 .5 1 .5 1 .4 1 .4 1 .4 1 .3 1 .4 1 .3 1 .3 1 .3 1 .2 1 .3 1 .3 1 .2 1 .1 1 .2 1 .2 1 .1 1 .2 1 .2 1 .2 1 .2 1 .2 1 .2 1 .2 1 .3 1 .2 1 .2 1 .3 1 .3 1 .3 1 .3 1 .2 1 .3 1 .2 1 .2 1 .3 1 .2 1 .2 1 .2 1 .2 1 .2 1 .2 1 .2 1 .2 1 .1 1 .2 1 .1 1 .2 1 .1 1 .1 1 .1 1 .2 1 .1 1 .1 1 .1 1 .1 1 .1 1 .1 1 .1 1 .1 1 .1 1 .1 1 .1 1 0 1 .1 1 .1 1 .1 1 .1 1 .1 1 .1 1 .1 1 .1 1 .1 1 .1 1 .1 1 0 1 .1 1 .1 1 .1 1 .1 1 .1 1 .1 1 .1 1 .1 1 .1 1 0 1 .1 1 .1 1 .1 1 .1 1 0 1 .1 1 .1 1 .1 1 0 1 .1 1 .1 1 0 1 .1 1 0 1 .1 1 0 1 .1 1 0 1 .1 1 0 1 0 1 .1 1 0 1 .1 1 0 1 0 1 .1 1 0 1 0 1 .1 1 0 1 0 1 .1 1 0 1 0 1 .1 1 0 1 0 1 0 1 .1 1 0 1 0 1 0 1 .1 1 0 1 0 1 0 1 .1 1 0 1 0 1 0 1 0 1 .1 1 0 1 0 1 0 1 0 1 .1 1 0 1 0 1 0 1 0 1 0 1 .1 1 0 1 0 1 0 1 0 1 0 1 0 1 .1 1 0 1 0 1 0 1 0 1 0 1 0 1 .1 1 0 1 0 1 0 1 0 1 0 1 0 1 0 1 0 1 0 1 0 1 .1 1 0 1 0 -.2 0" stroke="#420a68"/><path d="M394.8 351.1l1 .2 1 .1 1 .2 1 .1 1 .2 1 .1 1 .1 1 .2 1 .1 1 .2 1 .1 1 .2 1 .1 1 .1 1 .2 1 .1 1 .1 1 .1 1 .2 1 .1 1 .1 1 .1 1 .1 1 .2 1 0 1 .1 1 .1 1 .1 1 .1 1 .1 1 0 1 .1 1 0 1-.3 1-.4 1-.5 1-.4 1-.5 1-.5 1-.4 1-.5 1-.6 1-.9 1-1.1 1-1 1-1.3 1-1.6 1-1.6 1-1.6 1-1.6 1-1.7 1-1.8 1-1.8 1-1.9 1-1.9 1-2 1-1.9 1-1.8 1-1.9 1-1.6 1-.8 1-.3 1-.2 1-.1 1 .1 1 .9 1 1.4 1 1.5 1 1.7 1 1.9 1 2.1 1 2.1 1 2.3 1 2.4 1 2.6 1 2.6 1 2.5 1 2.5 1 2.6 1 2.6 1 2.4 1 2.3 1 2.1 1 1.9 1 1.9 1 1.8 1 1.7 1 1.6 1 1.5 1 1.4 1 1.4 1 1.4 1 1.2 1 1.2 1 1.1 1 .9 1 .9 1 .7 1 .6 1 .6 1 .5 1 .4 1 .4 1 .3 1 .2 1 .2 1 .1 1 .1 1 0 1 .1 1 0 1 .1 1 .1 1 .1 1 .1 1 .1 1 .1 1 .1 1 .1 1 .1 1 .2 1 .2 1 .3 1 .3 1 .2 1 .4 1 .3 1 .4 1 .4 1 .5 1 .5 1 .5 1 .6 1 .5 1 .5 1 .5 1 .5 1 .5 1 .4 1 .5 1 .4 1 .4 1 .4 1 .4 1 .4 1 .3 1 .3 1 .3 1 .3 1 .3 1 .3 1 .2 1 .2 1 .2 1 .2 1 .2 1 .2 1 .2 1 .1 1 .2 1 .2 1 .1 1 .2 1 .1 1 .1 1 .2 1 .1 1 .1 1 .1 1 .1 1 .2 1 .1 1 .1 1 .1 1 .1 1 .1 1 .2 1 .1 1 .1 1 .1 1 .1 1 .1 1 .1 1 .1 1 .1 1 .1 1 .1 1 .1 1 .1 1 .1 1 .1 1 .1 1 .1 1 .1 1 .1 1 0 1 .1 1 .1 1 .1 1 0 1 .1 1 .1 1 0 1 .1 1 .1 1 0 1 .1 1 0 1 .1 1 0 1 0 1 .1 1 0 1 .1 1 0 1 .1 1 0 1 0 1 .1 1 0 1 .1 1 0 1 0 1 .1 1 0 1 0 1 .1 1 0 1 0 1 .1 1 0 1 0 1 0 1 .1 1 0 1 0 1 0 1 .1 1 0 1 0 1 0 1 .1 1 0 1 0 1 0 1 0 1 .1 1 0 1 0 1 0 1 0 1 .1 1 0 1 0 1 0 1 0 1 .1 1 0 1 0 1 0 1 0 1 0 1 0 1 .1 1 0 1 0 1 0 1 0 1 0 1 0 1 0 1 .1 1 0 1 0 1 0 1 0 1 0 1 0 1 0 1 0 -.2 0" stroke="#5a116e"/><path d="M394.8 350.1l1 .2 1 .1 1 .2 1 .1 1 .2 1 .1 1 .2 1 .1 1 .2 1 .2 1 .1 1 .2 1 .1 1 .2 1 .1 1 .2 1 .1 1 .1 1 .2 1 .1 1 .1 1 .1 1 .2 1 .1 1 .1 1 .1 1 .1 1 .1 1 .1 1 .1 1 .1 1 .1 1 0 1-.3 1-.5 1-.4 1-.5 1-.4 1-.4 1-.5 1-.4 1-.7 1-.8 1-1 1-1.1 1-1.3 1-1.6 1-1.6 1-1.5 1-1.6 1-1.7 1-1.8 1-1.7 1-1.9 1-1.9 1-2 1-1.9 1-1.8 1-1.8 1-1.6 1-.7 1-.4 1-.2 1-.1 1 .1 1 .9 1 1.4 1 1.5 1 1.6 1 1.9 1 2 1 2.1 1 2.1 1 2.4 1 2.4 1 2.5 1 2.4 1 2.3 1 2.4 1 2.5 1 2.3 1 2.1 1 1.9 1 1.8 1 1.8 1 1.6 1 1.6 1 1.4 1 1.4 1 1.3 1 1.2 1 1.2 1 1.1 1 1.1 1 .9 1 .7 1 .7 1 .5 1 .5 1 .4 1 .3 1 .2 1 .1 1 .1 1 0 1-.2 1-.2 1-.3 1-.3 1-.3 1-.2 1-.2 1-.1 1-.1 1-.1 1-.1 1 0 1 0 1 0 1 .2 1 .2 1 .2 1 .4 1 .3 1 .4 1 .4 1 .5 1 .6 1 .6 1 .8 1 .8 1 .9 1 .9 1 .9 1 .8 1 .9 1 .7 1 .8 1 .7 1 .7 1 .7 1 .7 1 .6 1 .6 1 .6 1 .6 1 .5 1 .5 1 .5 1 .4 1 .4 1 .4 1 .3 1 .3 1 .3 1 .3 1 .2 1 .3 1 .2 1 .3 1 .2 1 .3 1 .2 1 .2 1 .2 1 .1 1 .2 1 .2 1 .1 1 .2 1 .1 1 .2 1 .1 1 .2 1 .1 1 .2 1 .1 1 .1 1 .2 1 .1 1 .1 1 .1 1 .2 1 .1 1 .1 1 .1 1 .1 1 .2 1 .1 1 .1 1 .1 1 .1 1 .1 1 .1 1 .1 1 .1 1 .1 1 .1 1 .1 1 0 1 .1 1 .1 1 .1 1 0 1 .1 1 .1 1 0 1 .1 1 0 1 .1 1 0 1 .1 1 0 1 .1 1 0 1 .1 1 0 1 .1 1 0 1 .1 1 0 1 .1 1 0 1 .1 1 0 1 0 1 .1 1 0 1 0 1 .1 1 0 1 0 1 .1 1 0 1 0 1 .1 1 0 1 0 1 .1 1 0 1 0 1 0 1 .1 1 0 1 0 1 0 1 .1 1 0 1 0 1 0 1 0 1 .1 1 0 1 0 1 0 1 0 1 .1 1 0 1 0 1 0 1 0 1 .1 1 0 1 0 1 0 1 0 1 0 1 0 1 .1 1 0 1 0 1 0 1 0 1 0 1 0 1 0 1 .1 1 0 1 0 1 0 -.2 0" stroke="#721a6e"/><path d="M394.8 349l1 .1 1 .2 1 .2 1 .1 1 .2 1 .2 1 .1 1 .2 1 .2 1 .2 1 .1 1 .2 1 .2 1 .1 1 .2 1 .1 1 .2 1 .1 1 .2 1 .1 1 .1 1 .2 1 .1 1 .2 1 .1 1 .1 1 .1 1 .1 1 .1 1 .1 1 .2 1 .1 1-.1 1-.3 1-.4 1-.4 1-.4 1-.5 1-.4 1-.4 1-.4 1-.6 1-.8 1-1.1 1-1.1 1-1.2 1-1.6 1-1.6 1-1.5 1-1.6 1-1.6 1-1.7 1-1.7 1-1.9 1-2 1-2 1-1.8 1-1.8 1-1.8 1-1.5 1-.7 1-.3 1-.3 1-.1 1 .1 1 .9 1 1.3 1 1.4 1 1.7 1 1.8 1 1.9 1 1.9 1 2.1 1 2.2 1 2.2 1 2.3 1 2.1 1 2.1 1 2.2 1 2.2 1 2 1 1.9 1 1.7 1 1.6 1 1.5 1 1.5 1 1.3 1 1.2 1 1.2 1 1.1 1 1 1 1 1 .9 1 .7 1 .7 1 .5 1 .4 1 .2 1 .2 1 .1 1 0 1-.1 1-.2 1-.3 1-.4 1-.6 1-.7 1-.9 1-.8 1-.9 1-.7 1-.5 1-.5 1-.4 1-.3 1-.3 1-.3 1-.2 1 0 1 .1 1 .2 1 .3 1 .5 1 .5 1 .5 1 .7 1 .7 1 .8 1 1 1 1.2 1 1.3 1 1.4 1 1.5 1 1.4 1 1.3 1 1.3 1 1.3 1 1.2 1 1.1 1 1.2 1 1.1 1 1 1 1 1 1 1 .9 1 .8 1 .9 1 .7 1 .8 1 .7 1 .6 1 .5 1 .5 1 .5 1 .4 1 .5 1 .4 1 .4 1 .3 1 .4 1 .4 1 .3 1 .3 1 .3 1 .3 1 .2 1 .2 1 .3 1 .2 1 .2 1 .2 1 .2 1 .2 1 .2 1 .2 1 .2 1 .1 1 .2 1 .2 1 .1 1 .2 1 .1 1 .2 1 .2 1 .1 1 .1 1 .2 1 .1 1 .2 1 .1 1 .1 1 .1 1 .2 1 .1 1 .1 1 .1 1 .1 1 .1 1 .1 1 .1 1 .1 1 .1 1 .1 1 .1 1 .1 1 0 1 .1 1 .1 1 0 1 .1 1 .1 1 0 1 .1 1 .1 1 0 1 .1 1 .1 1 0 1 .1 1 0 1 .1 1 0 1 .1 1 0 1 .1 1 0 1 .1 1 0 1 .1 1 0 1 0 1 .1 1 0 1 .1 1 0 1 0 1 .1 1 0 1 0 1 .1 1 0 1 0 1 .1 1 0 1 0 1 .1 1 0 1 0 1 0 1 .1 1 0 1 0 1 0 1 .1 1 0 1 0 1 0 1 .1 1 0 1 0 1 0 1 0 1 .1 1 0 1 0 1 0 1 0 1 0 1 .1 1 0 1 0 1 0 1 0 1 0 1 0 1 .1 1 0 1 0 1 0 1 0 -.2 0" stroke="#8c2369"/><path d="M394.8 347.7l1 .2 1 .2 1 .2 1 .2 1 .1 1 .2 1 .2 1 .2 1 .2 1 .2 1 .2 1 .1 1 .2 1 .2 1 .2 1 .1 1 .2 1 .1 1 .2 1 .1 1 .2 1 .1 1 .2 1 .1 1 .2 1 .1 1 .1 1 .2 1 .1 1 .1 1 .2 1 .1 1-.1 1-.3 1-.4 1-.4 1-.4 1-.4 1-.4 1-.4 1-.4 1-.6 1-.7 1-1 1-1.2 1-1.2 1-1.6 1-1.5 1-1.5 1-1.6 1-1.6 1-1.6 1-1.7 1-1.9 1-2 1-1.9 1-1.9 1-1.7 1-1.7 1-1.5 1-.7 1-.3 1-.3 1-.1 1 .1 1 .8 1 1.3 1 1.4 1 1.6 1 1.7 1 1.9 1 1.8 1 1.8 1 2.1 1 2 1 2 1 2 1 1.8 1 1.9 1 1.9 1 1.8 1 1.6 1 1.5 1 1.4 1 1.3 1 1.2 1 1.1 1 1 1 .9 1 .8 1 .8 1 .8 1 .6 1 .5 1 .4 1 .3 1 0 1 0 1-.1 1-.2 1-.4 1-.4 1-.6 1-.7 1-.8 1-1.1 1-1.2 1-1.5 1-1.5 1-1.4 1-1.2 1-1 1-.8 1-.7 1-.6 1-.6 1-.4 1-.4 1-.1 1 0 1 .3 1 .4 1 .5 1 .7 1 .7 1 .9 1 .9 1 1.1 1 1.4 1 1.6 1 1.9 1 2 1 2 1 2 1 1.9 1 1.8 1 1.7 1 1.7 1 1.6 1 1.6 1 1.5 1 1.5 1 1.4 1 1.3 1 1.3 1 1.2 1 1.1 1 1.1 1 1 1 1 1 .8 1 .8 1 .7 1 .6 1 .6 1 .6 1 .5 1 .5 1 .6 1 .5 1 .4 1 .5 1 .4 1 .4 1 .4 1 .3 1 .3 1 .3 1 .2 1 .3 1 .3 1 .2 1 .3 1 .2 1 .2 1 .3 1 .2 1 .2 1 .2 1 .2 1 .2 1 .2 1 .2 1 .1 1 .2 1 .2 1 .2 1 .1 1 .2 1 .1 1 .2 1 .1 1 .2 1 .1 1 .1 1 .2 1 .1 1 .1 1 .1 1 .2 1 .1 1 .1 1 .1 1 .1 1 .1 1 .1 1 .1 1 0 1 .1 1 .1 1 .1 1 .1 1 0 1 .1 1 .1 1 .1 1 0 1 .1 1 .1 1 0 1 .1 1 .1 1 0 1 .1 1 0 1 .1 1 .1 1 0 1 .1 1 0 1 .1 1 0 1 .1 1 0 1 0 1 .1 1 0 1 .1 1 0 1 .1 1 0 1 0 1 .1 1 0 1 0 1 .1 1 0 1 0 1 .1 1 0 1 0 1 0 1 .1 1 0 1 0 1 .1 1 0 1 0 1 0 1 .1 1 0 1 0 1 0 1 .1 1 0 1 0 1 0 1 0 1 .1 1 0 1 0 1 0 1 0 1 0 1 .1 1 0 1 0 1 0 1 0 1 0 -.2 0" stroke="#a32c61"/><path d="M394.8 346.4l1 .2 1 .2 1 .2 1 .2 1 .2 1 .2 1 .2 1 .2 1 .2 1 .2 1 .2 1 .2 1 .2 1 .2 1 .2 1 .2 1 .1 1 .2 1 .2 1 .1 1 .2 1 .1 1 .2 1 .2 1 .1 1 .2 1 .1 1 .2 1 .1 1 .2 1 .1 1 .2 1-.1 1-.3 1-.4 1-.4 1-.4 1-.3 1-.4 1-.4 1-.4 1-.5 1-.7 1-1 1-1.2 1-1.3 1-1.5 1-1.5 1-1.5 1-1.5 1-1.6 1-1.6 1-1.6 1-1.9 1-2 1-1.9 1-1.8 1-1.7 1-1.7 1-1.4 1-.7 1-.4 1-.2 1-.2 1 .1 1 .8 1 1.2 1 1.4 1 1.6 1 1.6 1 1.8 1 1.7 1 1.7 1 1.8 1 1.9 1 1.8 1 1.6 1 1.6 1 1.6 1 1.6 1 1.5 1 1.4 1 1.2 1 1.2 1 1 1 1 1 .8 1 .8 1 .7 1 .6 1 .6 1 .5 1 .4 1 .2 1 .1 1-.1 1-.2 1-.4 1-.4 1-.5 1-.7 1-.8 1-.9 1-1.1 1-1.3 1-1.6 1-1.8 1-2.1 1-2.1 1-2 1-1.8 1-1.4 1-1.2 1-1 1-.9 1-.9 1-.7 1-.5 1-.2 1 0 1 .2 1 .5 1 .7 1 .8 1 1 1 1 1 1.2 1 1.3 1 1.8 1 2.1 1 2.4 1 2.7 1 2.7 1 2.6 1 2.4 1 2.3 1 2.2 1 2.2 1 2.1 1 2.1 1 2 1 1.9 1 1.8 1 1.7 1 1.6 1 1.6 1 1.5 1 1.4 1 1.3 1 1.2 1 1.1 1 1 1 .8 1 .9 1 .7 1 .7 1 .7 1 .7 1 .7 1 .6 1 .6 1 .6 1 .5 1 .5 1 .5 1 .4 1 .3 1 .4 1 .3 1 .4 1 .3 1 .3 1 .3 1 .3 1 .3 1 .2 1 .3 1 .2 1 .3 1 .2 1 .2 1 .3 1 .2 1 .2 1 .2 1 .2 1 .2 1 .2 1 .2 1 .1 1 .2 1 .2 1 .1 1 .2 1 .2 1 .1 1 .2 1 .1 1 .1 1 .2 1 .1 1 .1 1 .1 1 .2 1 .1 1 .1 1 .1 1 .1 1 .1 1 .1 1 .1 1 .1 1 .1 1 0 1 .1 1 .1 1 .1 1 .1 1 .1 1 0 1 .1 1 .1 1 .1 1 0 1 .1 1 .1 1 0 1 .1 1 0 1 .1 1 .1 1 0 1 .1 1 0 1 .1 1 0 1 .1 1 0 1 .1 1 0 1 .1 1 0 1 .1 1 0 1 0 1 .1 1 0 1 0 1 .1 1 0 1 0 1 .1 1 0 1 0 1 .1 1 0 1 0 1 .1 1 0 1 0 1 .1 1 0 1 0 1 0 1 .1 1 0 1 0 1 0 1 .1 1 0 1 0 1 0 1 0 1 0 1 .1 1 0 1 0 1 0 1 0 1 0 -.2 0" stroke="#bc3754"/><path d="M394.8 345l1 .2 1 .2 1 .2 1 .3 1 .2 1 .2 1 .2 1 .2 1 .3 1 .2 1 .2 1 .2 1 .2 1 .2 1 .3 1 .1 1 .2 1 .2 1 .2 1 .1 1 .2 1 .2 1 .2 1 .1 1 .2 1 .2 1 .1 1 .2 1 .2 1 .2 1 .1 1 .2 1-.1 1-.3 1-.4 1-.3 1-.4 1-.4 1-.3 1-.4 1-.3 1-.5 1-.6 1-1.1 1-1.2 1-1.3 1-1.5 1-1.4 1-1.5 1-1.5 1-1.5 1-1.5 1-1.6 1-2 1-2 1-1.9 1-1.7 1-1.7 1-1.6 1-1.4 1-.6 1-.4 1-.2 1-.2 1 .1 1 .7 1 1.2 1 1.3 1 1.5 1 1.7 1 1.6 1 1.6 1 1.5 1 1.7 1 1.6 1 1.6 1 1.4 1 1.3 1 1.3 1 1.3 1 1.2 1 1.1 1 1 1 .9 1 .8 1 .8 1 .6 1 .5 1 .4 1 .4 1 .3 1 .3 1 .2 1-.1 1-.2 1-.4 1-.5 1-.7 1-.7 1-.9 1-1 1-1.1 1-1.4 1-1.5 1-1.7 1-2 1-2.4 1-2.8 1-2.8 1-2.7 1-2.3 1-1.8 1-1.5 1-1.3 1-1.3 1-1.1 1-1 1-.7 1-.3 1 0 1 .3 1 .5 1 .8 1 1 1 1.2 1 1.2 1 1.4 1 1.6 1 2.1 1 2.7 1 3 1 3.3 1 3.3 1 3.3 1 3 1 2.8 1 2.7 1 2.7 1 2.6 1 2.6 1 2.4 1 2.3 1 2.2 1 2.1 1 2 1 1.9 1 1.9 1 1.7 1 1.6 1 1.5 1 1.3 1 1.2 1 1.1 1 1 1 .9 1 .9 1 .8 1 .9 1 .8 1 .7 1 .8 1 .7 1 .6 1 .6 1 .6 1 .4 1 .5 1 .4 1 .4 1 .4 1 .4 1 .3 1 .4 1 .3 1 .4 1 .3 1 .3 1 .3 1 .2 1 .3 1 .3 1 .2 1 .3 1 .2 1 .3 1 .2 1 .2 1 .2 1 .2 1 .2 1 .2 1 .2 1 .2 1 .2 1 .2 1 .1 1 .2 1 .2 1 .1 1 .2 1 .1 1 .2 1 .1 1 .1 1 .2 1 .1 1 .1 1 .1 1 .1 1 .1 1 .2 1 .1 1 .1 1 .1 1 .1 1 .1 1 .1 1 .1 1 0 1 .1 1 .1 1 .1 1 .1 1 .1 1 0 1 .1 1 .1 1 .1 1 0 1 .1 1 .1 1 0 1 .1 1 .1 1 0 1 .1 1 0 1 .1 1 0 1 .1 1 0 1 .1 1 0 1 .1 1 0 1 .1 1 0 1 .1 1 0 1 0 1 .1 1 0 1 0 1 .1 1 0 1 0 1 .1 1 0 1 0 1 .1 1 0 1 0 1 .1 1 0 1 0 1 .1 1 0 1 0 1 0 1 .1 1 0 1 0 1 0 1 0 1 .1 1 0 1 0 1 0 1 0 1 0 -.2 0" stroke="#d04545"/><path d="M394.8 343.5l1 .2 1 .3 1 .2 1 .3 1 .2 1 .2 1 .3 1 .2 1 .2 1 .3 1 .2 1 .3 1 .2 1 .2 1 .3 1 .2 1 .1 1 .2 1 .2 1 .2 1 .2 1 .2 1 .2 1 .1 1 .2 1 .2 1 .2 1 .2 1 .2 1 .2 1 .2 1 .2 1-.2 1-.2 1-.4 1-.3 1-.4 1-.3 1-.4 1-.3 1-.3 1-.5 1-.5 1-1.1 1-1.2 1-1.3 1-1.4 1-1.5 1-1.4 1-1.4 1-1.5 1-1.5 1-1.5 1-2 1-2 1-1.9 1-1.7 1-1.7 1-1.5 1-1.3 1-.7 1-.3 1-.3 1-.1 1 0 1 .7 1 1.1 1 1.3 1 1.5 1 1.5 1 1.6 1 1.4 1 1.4 1 1.5 1 1.4 1 1.4 1 1.1 1 1 1 1 1 .9 1 .9 1 .9 1 .7 1 .6 1 .6 1 .4 1 .4 1 .3 1 .1 1 .1 1 .1 1 0 1-.1 1-.3 1-.5 1-.7 1-.9 1-1 1-1.1 1-1.2 1-1.3 1-1.6 1-1.8 1-1.9 1-2.1 1-2.5 1-3.1 1-3.5 1-3.5 1-3.4 1-2.9 1-2.3 1-1.8 1-1.7 1-1.6 1-1.4 1-1.2 1-.9 1-.5 1-.1 1 .4 1 .6 1 1 1 1.1 1 1.4 1 1.5 1 1.6 1 1.9 1 2.5 1 3.2 1 3.7 1 3.9 1 4 1 4 1 3.6 1 3.3 1 3.3 1 3.2 1 3.2 1 3 1 3 1 2.8 1 2.6 1 2.5 1 2.4 1 2.3 1 2.2 1 2.1 1 1.9 1 1.8 1 1.6 1 1.4 1 1.3 1 1.2 1 1.1 1 1 1 1 1 1 1 1 1 .9 1 .9 1 .8 1 .8 1 .7 1 .6 1 .6 1 .5 1 .5 1 .5 1 .4 1 .5 1 .4 1 .4 1 .4 1 .4 1 .3 1 .4 1 .3 1 .3 1 .3 1 .3 1 .3 1 .3 1 .3 1 .3 1 .2 1 .3 1 .2 1 .2 1 .3 1 .2 1 .2 1 .2 1 .2 1 .2 1 .2 1 .2 1 .2 1 .2 1 .1 1 .2 1 .1 1 .2 1 .2 1 .1 1 .1 1 .2 1 .1 1 .1 1 .2 1 .1 1 .1 1 .1 1 .2 1 .1 1 .1 1 .1 1 .1 1 .1 1 .1 1 .1 1 .1 1 .1 1 .1 1 .1 1 0 1 .1 1 .1 1 .1 1 .1 1 0 1 .1 1 .1 1 .1 1 0 1 .1 1 .1 1 0 1 .1 1 0 1 .1 1 .1 1 0 1 .1 1 0 1 .1 1 0 1 .1 1 0 1 0 1 .1 1 0 1 .1 1 0 1 0 1 .1 1 0 1 .1 1 0 1 0 1 .1 1 0 1 0 1 .1 1 0 1 0 1 .1 1 0 1 0 1 0 1 .1 1 0 1 0 1 0 1 .1 1 0 1 0 1 0 1 0 1 0 -.2 0" stroke="#e25734"/><path d="M394.8 342l1 .2 1 .3 1 .2 1 .3 1 .2 1 .3 1 .3 1 .2 1 .3 1 .2 1 .3 1 .2 1 .3 1 .3 1 .2 1 .2 1 .2 1 .2 1 .2 1 .2 1 .2 1 .2 1 .2 1 .2 1 .2 1 .2 1 .2 1 .3 1 .2 1 .2 1 .2 1 .2 1-.1 1-.3 1-.3 1-.4 1-.3 1-.3 1-.3 1-.3 1-.4 1-.3 1-.5 1-1.1 1-1.2 1-1.4 1-1.4 1-1.4 1-1.4 1-1.4 1-1.4 1-1.4 1-1.5 1-2 1-2 1-1.9 1-1.7 1-1.6 1-1.5 1-1.2 1-.6 1-.4 1-.3 1-.1 1 .1 1 .6 1 1 1 1.3 1 1.4 1 1.5 1 1.5 1 1.3 1 1.2 1 1.3 1 1.3 1 1.1 1 .9 1 .7 1 .7 1 .6 1 .7 1 .5 1 .5 1 .4 1 .4 1 .2 1 .1 1 0 1-.1 1-.1 1-.2 1-.2 1-.3 1-.6 1-.8 1-1.1 1-1.1 1-1.3 1-1.4 1-1.5 1-1.7 1-2 1-2.1 1-2.3 1-2.5 1-3 1-3.7 1-4.1 1-4.3 1-4 1-3.5 1-2.7 1-2.1 1-2 1-1.9 1-1.7 1-1.5 1-1.1 1-.6 1-.1 1 .4 1 .8 1 1.1 1 1.3 1 1.6 1 1.7 1 1.8 1 2.1 1 2.9 1 3.7 1 4.2 1 4.6 1 4.7 1 4.6 1 4.2 1 3.8 1 3.7 1 3.8 1 3.6 1 3.6 1 3.4 1 3.2 1 3 1 2.9 1 2.7 1 2.7 1 2.6 1 2.4 1 2.2 1 2.1 1 1.8 1 1.6 1 1.5 1 1.3 1 1.3 1 1.2 1 1.1 1 1.2 1 1.1 1 1.1 1 1 1 .9 1 .9 1 .8 1 .7 1 .7 1 .5 1 .6 1 .5 1 .6 1 .5 1 .4 1 .5 1 .4 1 .5 1 .4 1 .4 1 .3 1 .4 1 .4 1 .3 1 .3 1 .3 1 .3 1 .3 1 .3 1 .3 1 .3 1 .2 1 .3 1 .2 1 .3 1 .2 1 .2 1 .2 1 .2 1 .3 1 .2 1 .1 1 .2 1 .2 1 .2 1 .2 1 .1 1 .2 1 .1 1 .2 1 .1 1 .2 1 .1 1 .2 1 .1 1 .1 1 .2 1 .1 1 .1 1 .2 1 .1 1 .1 1 .1 1 .1 1 .1 1 .1 1 .1 1 .1 1 .1 1 .1 1 .1 1 .1 1 .1 1 0 1 .1 1 .1 1 .1 1 .1 1 0 1 .1 1 .1 1 0 1 .1 1 .1 1 0 1 .1 1 .1 1 0 1 .1 1 0 1 .1 1 0 1 .1 1 0 1 0 1 .1 1 0 1 .1 1 0 1 .1 1 0 1 .1 1 0 1 0 1 .1 1 0 1 0 1 .1 1 0 1 .1 1 0 1 0 1 0 1 .1 1 0 1 0 1 0 1 .1 1 0 1 0 1 0 1 0 1 0 -.2 0" stroke="#f06f20"/><path d="M394.8 340.4l1 .2 1 .3 1 .3 1 .3 1 .2 1 .3 1 .3 1 .3 1 .2 1 .3 1 .3 1 .3 1 .2 1 .3 1 .3 1 .2 1 .2 1 .2 1 .3 1 .2 1 .2 1 .2 1 .2 1 .2 1 .3 1 .2 1 .2 1 .3 1 .2 1 .2 1 .3 1 .2 1-.2 1-.3 1-.2 1-.3 1-.3 1-.3 1-.3 1-.3 1-.3 1-.3 1-.4 1-1.1 1-1.3 1-1.3 1-1.4 1-1.4 1-1.3 1-1.4 1-1.4 1-1.4 1-1.3 1-2.1 1-2.1 1-1.8 1-1.6 1-1.6 1-1.4 1-1.1 1-.6 1-.4 1-.3 1-.2 1 .1 1 .5 1 1 1 1.3 1 1.4 1 1.4 1 1.4 1 1.2 1 1.1 1 1.1 1 1.1 1 1 1 .6 1 .5 1 .4 1 .4 1 .3 1 .4 1 .2 1 .2 1 .1 1 0 1-.1 1-.2 1-.3 1-.3 1-.4 1-.4 1-.6 1-.8 1-1.1 1-1.4 1-1.4 1-1.6 1-1.7 1-1.8 1-2 1-2.2 1-2.5 1-2.7 1-2.9 1-3.4 1-4.2 1-4.8 1-4.9 1-4.6 1-4 1-3 1-2.4 1-2.3 1-2.2 1-2 1-1.7 1-1.2 1-.7 1-.2 1 .5 1 .8 1 1.2 1 1.5 1 1.7 1 2 1 2 1 2.3 1 3.2 1 4.2 1 4.8 1 5.2 1 5.2 1 5.2 1 4.7 1 4.2 1 4.2 1 4.2 1 4.1 1 4 1 3.9 1 3.6 1 3.4 1 3.2 1 3.1 1 3 1 2.8 1 2.7 1 2.5 1 2.3 1 2.1 1 1.8 1 1.7 1 1.5 1 1.4 1 1.3 1 1.3 1 1.3 1 1.2 1 1.2 1 1.2 1 1 1 1 1 .9 1 .8 1 .7 1 .6 1 .7 1 .6 1 .5 1 .6 1 .5 1 .5 1 .5 1 .5 1 .4 1 .5 1 .4 1 .4 1 .4 1 .3 1 .4 1 .3 1 .4 1 .3 1 .3 1 .3 1 .3 1 .3 1 .3 1 .2 1 .3 1 .2 1 .3 1 .2 1 .2 1 .3 1 .2 1 .2 1 .2 1 .2 1 .2 1 .2 1 .2 1 .1 1 .2 1 .2 1 .1 1 .2 1 .2 1 .1 1 .2 1 .1 1 .1 1 .2 1 .1 1 .2 1 .1 1 .1 1 .1 1 .1 1 .2 1 .1 1 .1 1 .1 1 .1 1 .1 1 .1 1 .1 1 .1 1 .1 1 .1 1 0 1 .1 1 .1 1 .1 1 .1 1 .1 1 0 1 .1 1 .1 1 0 1 .1 1 .1 1 0 1 .1 1 0 1 .1 1 0 1 .1 1 0 1 .1 1 0 1 .1 1 0 1 .1 1 0 1 .1 1 0 1 .1 1 0 1 .1 1 0 1 0 1 .1 1 0 1 0 1 .1 1 0 1 0 1 .1 1 0 1 0 1 .1 1 0 1 0 1 0 1 0 1 .1 1 0 -.2 0" stroke="#f8890c"/><path d="M394.8 338.7l1 .3 1 .3 1 .3 1 .3 1 .3 1 .3 1 .3 1 .3 1 .3 1 .3 1 .3 1 .3 1 .2 1 .3 1 .3 1 .3 1 .2 1 .2 1 .3 1 .2 1 .2 1 .2 1 .3 1 .2 1 .3 1 .2 1 .3 1 .2 1 .3 1 .3 1 .2 1 .3 1-.2 1-.3 1-.3 1-.3 1-.2 1-.3 1-.3 1-.2 1-.3 1-.3 1-.2 1-1.2 1-1.3 1-1.4 1-1.3 1-1.3 1-1.4 1-1.3 1-1.3 1-1.3 1-1.3 1-2.1 1-2.1 1-1.8 1-1.6 1-1.5 1-1.4 1-1 1-.6 1-.4 1-.3 1-.2 1 .1 1 .5 1 .9 1 1.3 1 1.3 1 1.4 1 1.3 1 1.1 1 1 1 1 1 1 1 .7 1 .5 1 .2 1 .2 1 .1 1 .1 1 .1 1 .1 1 0 1-.1 1-.2 1-.3 1-.4 1-.5 1-.5 1-.6 1-.7 1-.7 1-1.1 1-1.4 1-1.5 1-1.7 1-1.9 1-1.9 1-2.1 1-2.3 1-2.5 1-2.8 1-3.1 1-3.2 1-3.8 1-4.7 1-5.3 1-5.4 1-5.2 1-4.4 1-3.4 1-2.7 1-2.6 1-2.5 1-2.2 1-1.8 1-1.4 1-.8 1-.2 1 .5 1 .9 1 1.3 1 1.6 1 1.9 1 2.1 1 2.3 1 2.4 1 3.6 1 4.6 1 5.3 1 5.6 1 5.9 1 5.6 1 5.2 1 4.6 1 4.7 1 4.6 1 4.5 1 4.4 1 4.2 1 4 1 3.7 1 3.5 1 3.5 1 3.3 1 3.1 1 3 1 2.7 1 2.6 1 2.2 1 2 1 1.8 1 1.7 1 1.5 1 1.5 1 1.4 1 1.4 1 1.4 1 1.3 1 1.2 1 1.2 1 1.1 1 1 1 .8 1 .8 1 .7 1 .7 1 .6 1 .7 1 .6 1 .5 1 .6 1 .5 1 .5 1 .5 1 .5 1 .4 1 .5 1 .4 1 .4 1 .4 1 .3 1 .4 1 .3 1 .4 1 .3 1 .3 1 .3 1 .3 1 .3 1 .3 1 .2 1 .3 1 .3 1 .2 1 .2 1 .3 1 .2 1 .2 1 .2 1 .2 1 .2 1 .2 1 .2 1 .2 1 .2 1 .2 1 .1 1 .2 1 .2 1 .1 1 .2 1 .1 1 .2 1 .1 1 .2 1 .1 1 .2 1 .1 1 .1 1 .1 1 .2 1 .1 1 .1 1 .1 1 .1 1 .1 1 .1 1 .1 1 .1 1 .1 1 .1 1 .1 1 .1 1 .1 1 .1 1 0 1 .1 1 .1 1 .1 1 .1 1 0 1 .1 1 .1 1 0 1 .1 1 0 1 .1 1 0 1 .1 1 0 1 .1 1 .1 1 0 1 .1 1 0 1 .1 1 0 1 .1 1 0 1 0 1 .1 1 0 1 .1 1 0 1 0 1 .1 1 0 1 .1 1 0 1 0 1 0 1 .1 1 0 1 0 1 0 1 .1 1 0 1 0 -.2 0" stroke="#fca50a"/></g>
<rect x="394.2" y="222.8" width="281.0" height="183.2" fill="none" stroke="#000" stroke-width="1.4"/>
<line x1="417.6" y1="406.0" x2="417.6" y2="402.0" stroke="#000" stroke-width="1.2"/>
<line x1="417.6" y1="222.8" x2="417.6" y2="226.8" stroke="#000" stroke-width="1.2"/>
<line x1="441.0" y1="406.0" x2="441.0" y2="402.0" stroke="#000" stroke-width="1.2"/>
<line x1="441.0" y1="222.8" x2="441.0" y2="226.8" stroke="#000" stroke-width="1.2"/>
<line x1="464.4" y1="406.0" x2="464.4" y2="402.0" stroke="#000" stroke-width="1.2"/>
<line x1="464.4" y1="222.8" x2="464.4" y2="226.8" stroke="#000" stroke-width="1.2"/>
<line x1="487.9" y1="406.0" x2="487.9" y2="402.0" stroke="#000" stroke-width="1.2"/>
<line x1="487.9" y1="222.8" x2="487.9" y2="226.8" stroke="#000" stroke-width="1.2"/>
<line x1="511.3" y1="406.0" x2="511.3" y2="402.0" stroke="#000" stroke-width="1.2"/>
<line x1="511.3" y1="222.8" x2="511.3" y2="226.8" stroke="#000" stroke-width="1.2"/>
<line x1="534.7" y1="406.0" x2="534.7" y2="402.0" stroke="#000" stroke-width="1.2"/>
<line x1="534.7" y1="222.8" x2="534.7" y2="226.8" stroke="#000" stroke-width="1.2"/>
<line x1="558.1" y1="406.0" x2="558.1" y2="402.0" stroke="#000" stroke-width="1.2"/>
<line x1="558.1" y1="222.8" x2="558.1" y2="226.8" stroke="#000" stroke-width="1.2"/>
<line x1="581.5" y1="406.0" x2="581.5" y2="402.0" stroke="#000" stroke-width="1.2"/>
<line x1="581.5" y1="222.8" x2="581.5" y2="226.8" stroke="#000" stroke-width="1.2"/>
<line x1="605.0" y1="406.0" x2="605.0" y2="402.0" stroke="#000" stroke-width="1.2"/>
<line x1="605.0" y1="222.8" x2="605.0" y2="226.8" stroke="#000" stroke-width="1.2"/>
<line x1="628.4" y1="406.0" x2="628.4" y2="402.0" stroke="#000" stroke-width="1.2"/>
<line x1="628.4" y1="222.8" x2="628.4" y2="226.8" stroke="#000" stroke-width="1.2"/>
<line x1="651.8" y1="406.0" x2="651.8" y2="402.0" stroke="#000" stroke-width="1.2"/>
<line x1="651.8" y1="222.8" x2="651.8" y2="226.8" stroke="#000" stroke-width="1.2"/>
<line x1="394.2" y1="406.0" x2="398.7" y2="406.0" stroke="#000" stroke-width="1.2"/>
<line x1="675.2" y1="406.0" x2="670.7" y2="406.0" stroke="#000" stroke-width="1.2"/>
<line x1="394.2" y1="379.8" x2="397.2" y2="379.8" stroke="#000" stroke-width="1.2"/>
<line x1="675.2" y1="379.8" x2="672.2" y2="379.8" stroke="#000" stroke-width="1.2"/>
<line x1="394.2" y1="353.7" x2="398.7" y2="353.7" stroke="#000" stroke-width="1.2"/>
<line x1="675.2" y1="353.7" x2="670.7" y2="353.7" stroke="#000" stroke-width="1.2"/>
<line x1="394.2" y1="327.5" x2="397.2" y2="327.5" stroke="#000" stroke-width="1.2"/>
<line x1="675.2" y1="327.5" x2="672.2" y2="327.5" stroke="#000" stroke-width="1.2"/>
<line x1="394.2" y1="301.3" x2="398.7" y2="301.3" stroke="#000" stroke-width="1.2"/>
<line x1="675.2" y1="301.3" x2="670.7" y2="301.3" stroke="#000" stroke-width="1.2"/>
<line x1="394.2" y1="275.1" x2="397.2" y2="275.1" stroke="#000" stroke-width="1.2"/>
<line x1="675.2" y1="275.1" x2="672.2" y2="275.1" stroke="#000" stroke-width="1.2"/>
<line x1="394.2" y1="249.0" x2="398.7" y2="249.0" stroke="#000" stroke-width="1.2"/>
<line x1="675.2" y1="249.0" x2="670.7" y2="249.0" stroke="#000" stroke-width="1.2"/>
<text x="389.4" y="409.4" font-size="17.8" text-anchor="end" font-weight="normal" font-style="normal" fill="#000" >0</text>
<text x="389.4" y="357.1" font-size="17.8" text-anchor="end" font-weight="normal" font-style="normal" fill="#000" >1</text>
<text x="389.4" y="304.7" font-size="17.8" text-anchor="end" font-weight="normal" font-style="normal" fill="#000" >2</text>
<text x="389.4" y="252.4" font-size="17.8" text-anchor="end" font-weight="normal" font-style="normal" fill="#000" >3</text>
<text x="348.6" y="237.0" font-size="26.0" text-anchor="start" font-weight="bold" font-style="normal" fill="#000" >e</text>
<text x="369.6" y="315.0" font-size="20.0" text-anchor="middle" font-weight="bold" font-style="normal" fill="#000" transform="rotate(-90 369.6 315.0)">Extinction</text>
<text x="662.6" y="243.8" font-size="18.0" text-anchor="end" font-weight="normal" font-style="normal" fill="#000" >Calculated</text>
<text x="666.4" y="262.0" font-size="16.0" text-anchor="end" font-weight="normal" font-style="italic" fill="#000" >Electrodeposited</text>
<text x="666.4" y="276.2" font-size="16.0" text-anchor="end" font-weight="normal" font-style="italic" fill="#000" >Au</text>
<defs><linearGradient id="cbe" x1="0" y1="1" x2="0" y2="0">
<stop offset="0.00" stop-color="#10092d"/>
<stop offset="0.10" stop-color="#2b0b57"/>
<stop offset="0.20" stop-color="#4c0c6b"/>
<stop offset="0.30" stop-color="#69166e"/>
<stop offset="0.40" stop-color="#87216b"/>
<stop offset="0.50" stop-color="#a32c61"/>
<stop offset="0.60" stop-color="#c03a51"/>
<stop offset="0.70" stop-color="#d84c3e"/>
<stop offset="0.80" stop-color="#eb6429"/>
<stop offset="0.90" stop-color="#f78410"/>
<stop offset="1.00" stop-color="#fca50a"/>
</linearGradient></defs>
<rect x="658.1" y="284.5" width="8.2" height="111.5" fill="url(#cbe)" stroke="#222" stroke-width="0.6"/>
<text x="654.8" y="296.6" font-size="16.0" text-anchor="end" font-weight="normal" font-style="normal" fill="#000" >60</text>
<text x="654.8" y="397.9" font-size="16.0" text-anchor="end" font-weight="normal" font-style="normal" fill="#000" >0</text>
<text x="649.8" y="340.9" font-size="15.5" text-anchor="middle" font-weight="normal" font-style="normal" fill="#000" transform="rotate(-90 649.8 340.9)">AOI (°)</text>
<rect x="455.4" y="427.0" width="2.2" height="183.2" fill="#d3dcdb"/>
<rect x="487.6" y="427.0" width="12.1" height="183.2" fill="#d3dcdb"/>
<rect x="511.1" y="427.0" width="10.9" height="183.2" fill="#d3dcdb"/>
<rect x="536.0" y="427.0" width="18.4" height="183.2" fill="#d3dcdb"/>
<g fill="none" stroke="#fff" stroke-width="5.00" stroke-linejoin="round"><path d="M394.8 576.6l1 .1 1 .1 1 .1 1 .1 1 .2 1 .1 1 .1 1 .1 1 .1 1 .1 1 .1 1 .1 1 .1 1 .1 1 .1 1 0 1 0 1 0 1 0 1-.1 1 0 1 0 1 0 1 0 1 0 1 0 1 0 1 0 1-.1 1 0 1 0 1 0 1-.1 1-.6 1-.7 1-.6 1-.7 1-.6 1-.6 1-.7 1-.6 1-.7 1-.6 1-1.1 1-1.4 1-1.5 1-1.8 1-1.9 1-2 1-2.1 1-2.1 1-2 1-2 1-2 1-1.7 1-1.2 1-1.1 1-.9 1-.4 1 .2 1 .7 1 .9 1 1 1 1.3 1 1.6 1 1.8 1 2.1 1 2.4 1 3.1 1 3.6 1 3.7 1 3.2 1 3.1 1 3 1 2.9 1 2.9 1 3.1 1 2.8 1 1.7 1 1.2 1 1.1 1 .9 1 .8 1 .7 1 .8 1 .7 1 .7 1 .6 1 .7 1 .5 1 .5 1 .4 1 .4 1 .4 1 .3 1 .4 1 .3 1 .3 1 .3 1 .3 1 .2 1 .2 1 .2 1 .2 1 .1 1 .2 1 .1 1 .1 1 .1 1 .1 1 0 1 .1 1 .1 1 0 1 .1 1 0 1 .1 1 0 1 .1 1 0 1 .1 1 0 1 .1 1 0 1 0 1 .1 1 0 1 0 1 0 1 .1 1 0 1 0 1 0 1 .1 1 0 1 0 1 0 1 .1 1 0 1 0 1 0 1 0 1 .1 1 0 1 0 1 0 1 0 1 .1 1 0 1 0 1 0 1 0 1 0 1 .1 1 0 1 0 1 0 1 0 1 0 1 0 1 0 1 .1 1 0 1 0 1 0 1 0 1 0 1 0 1 0 1 .1 1 0 1 0 1 0 1 0 1 0 1 0 1 0 1 0 1 .1 1 0 1 0 1 0 1 0 1 0 1 0 1 0 1 0 1 .1 1 0 1 0 1 0 1 0 1 0 1 0 1 0 1 0 1 .1 1 0 1 0 1 0 1 0 1 0 1 0 1 0 1 0 1 .1 1 0 1 0 1 0 1 0 1 0 1 0 1 0 1 0 1 0 1 .1 1 0 1 0 1 0 1 0 1 0 1 0 1 0 1 0 1 0 1 0 1 0 1 .1 1 0 1 0 1 0 1 0 1 0 1 0 1 0 1 0 1 0 1 0 1 0 1 0 1 .1 1 0 1 0 1 0 1 0 1 0 1 0 1 0 1 0 1 0 1 0 1 0 1 0 1 0 1 0 1 0 1 0 1 0 1 .1 1 0 1 0 1 0 1 0 1 0 1 0 1 0 1 0 1 0 1 0 1 0 1 0 1 0 1 0 1 0 1 0 1 0 1 0 1 0 1 0 1 0 -.2 0"/><path d="M394.8 576.4l1 .1 1 .1 1 .1 1 .1 1 .1 1 .2 1 .1 1 .1 1 .1 1 .1 1 .1 1 .1 1 .1 1 .2 1 0 1 0 1 0 1 0 1 0 1 0 1 0 1 0 1 0 1-.1 1 0 1 0 1 0 1 0 1 0 1 0 1 0 1 0 1-.1 1-.6 1-.7 1-.6 1-.6 1-.7 1-.6 1-.6 1-.7 1-.6 1-.7 1-1 1-1.4 1-1.5 1-1.8 1-1.9 1-2 1-2.1 1-2.1 1-2 1-2 1-1.9 1-1.7 1-1.3 1-1 1-.9 1-.4 1 .2 1 .6 1 1 1 1 1 1.2 1 1.6 1 1.8 1 2.1 1 2.3 1 3.2 1 3.6 1 3.6 1 3.3 1 3.1 1 3 1 2.9 1 2.9 1 3.1 1 2.8 1 1.7 1 1.2 1 1.1 1 .9 1 .8 1 .7 1 .8 1 .7 1 .7 1 .6 1 .7 1 .5 1 .5 1 .4 1 .4 1 .4 1 .3 1 .4 1 .3 1 .3 1 .3 1 .3 1 .2 1 .2 1 .2 1 .2 1 .1 1 .2 1 .1 1 .1 1 .1 1 .1 1 0 1 .1 1 .1 1 0 1 .1 1 0 1 .1 1 0 1 .1 1 0 1 .1 1 0 1 .1 1 0 1 0 1 .1 1 0 1 0 1 0 1 .1 1 0 1 0 1 0 1 .1 1 0 1 0 1 0 1 .1 1 0 1 0 1 0 1 0 1 .1 1 0 1 0 1 0 1 0 1 .1 1 0 1 0 1 0 1 0 1 0 1 .1 1 0 1 0 1 0 1 0 1 0 1 0 1 0 1 .1 1 0 1 0 1 0 1 0 1 0 1 0 1 0 1 .1 1 0 1 0 1 0 1 0 1 0 1 0 1 0 1 0 1 .1 1 0 1 0 1 0 1 0 1 0 1 0 1 0 1 0 1 .1 1 0 1 0 1 0 1 0 1 0 1 0 1 0 1 0 1 .1 1 0 1 0 1 0 1 0 1 0 1 0 1 0 1 0 1 .1 1 0 1 0 1 0 1 0 1 0 1 0 1 0 1 0 1 0 1 .1 1 0 1 0 1 0 1 0 1 0 1 0 1 0 1 0 1 0 1 0 1 0 1 .1 1 0 1 0 1 0 1 0 1 0 1 0 1 0 1 0 1 0 1 0 1 0 1 0 1 .1 1 0 1 0 1 0 1 0 1 0 1 0 1 0 1 0 1 0 1 0 1 0 1 0 1 0 1 0 1 0 1 0 1 0 1 .1 1 0 1 0 1 0 1 0 1 0 1 0 1 0 1 0 1 0 1 0 1 0 1 0 1 0 1 0 1 0 1 0 1 0 1 0 1 0 1 0 1 0 -.2 0"/><path d="M394.8 576l1 .2 1 .1 1 .1 1 .1 1 .1 1 .1 1 .2 1 .1 1 .1 1 .1 1 .1 1 .1 1 .1 1 .2 1 0 1 0 1 0 1 0 1 0 1 0 1 0 1 0 1 0 1 0 1 0 1 0 1 0 1 0 1 0 1 0 1 0 1 0 1-.1 1-.6 1-.6 1-.6 1-.7 1-.6 1-.6 1-.6 1-.7 1-.6 1-.6 1-1.1 1-1.3 1-1.5 1-1.8 1-2 1-1.9 1-2.1 1-2.1 1-2 1-1.9 1-2 1-1.6 1-1.2 1-1.1 1-.8 1-.4 1 .1 1 .7 1 .9 1 1 1 1.2 1 1.5 1 1.8 1 2.1 1 2.3 1 3.1 1 3.5 1 3.6 1 3.2 1 3 1 2.9 1 2.9 1 2.8 1 3.1 1 2.8 1 1.6 1 1.2 1 1 1 .9 1 .7 1 .7 1 .7 1 .7 1 .6 1 .6 1 .6 1 .5 1 .4 1 .3 1 .3 1 .2 1 .3 1 .2 1 .2 1 .1 1 .1 1 .1 1 .1 1 0 1 0 1 0 1-.1 1-.1 1-.1 1-.1 1-.1 1-.1 1-.2 1-.1 1-.1 1-.1 1 0 1 .1 1 .1 1 .2 1 .2 1 .3 1 .4 1 .4 1 .4 1 .4 1 .4 1 .4 1 .3 1 .3 1 .2 1 .2 1 .2 1 .2 1 .2 1 .1 1 .1 1 .2 1 .1 1 .1 1 .1 1 0 1 .1 1 .1 1 .1 1 0 1 .1 1 0 1 .1 1 0 1 0 1 .1 1 0 1 .1 1 0 1 0 1 .1 1 0 1 0 1 0 1 .1 1 0 1 0 1 0 1 0 1 .1 1 0 1 0 1 0 1 0 1 0 1 0 1 .1 1 0 1 0 1 0 1 0 1 0 1 0 1 0 1 .1 1 0 1 0 1 0 1 0 1 0 1 0 1 0 1 0 1 .1 1 0 1 0 1 0 1 0 1 0 1 0 1 0 1 0 1 .1 1 0 1 0 1 0 1 0 1 0 1 0 1 0 1 0 1 .1 1 0 1 0 1 0 1 0 1 0 1 0 1 0 1 0 1 0 1 .1 1 0 1 0 1 0 1 0 1 0 1 0 1 0 1 0 1 0 1 0 1 .1 1 0 1 0 1 0 1 0 1 0 1 0 1 0 1 0 1 0 1 0 1 0 1 0 1 .1 1 0 1 0 1 0 1 0 1 0 1 0 1 0 1 0 1 0 1 0 1 0 1 0 1 0 1 0 1 0 1 0 1 0 1 .1 1 0 1 0 1 0 1 0 1 0 1 0 1 0 1 0 1 0 1 0 1 0 1 0 1 0 1 0 1 0 1 0 1 0 1 0 1 0 1 0 1 0 1 0 -.2 0"/><path d="M394.8 575.6l1 .1 1 .1 1 .2 1 .1 1 .1 1 .1 1 .2 1 .1 1 .1 1 .1 1 .1 1 .2 1 .1 1 .1 1 .1 1 0 1 0 1 0 1 0 1 0 1 0 1 0 1 0 1 0 1 0 1 0 1 0 1 0 1 0 1 .1 1 0 1 0 1-.1 1-.6 1-.6 1-.6 1-.6 1-.6 1-.6 1-.6 1-.6 1-.6 1-.7 1-1 1-1.3 1-1.5 1-1.8 1-2 1-2 1-2 1-2.1 1-1.9 1-2 1-1.9 1-1.6 1-1.2 1-1 1-.8 1-.4 1 .1 1 .6 1 .9 1 1 1 1.2 1 1.5 1 1.8 1 2 1 2.2 1 2.9 1 3.4 1 3.5 1 3.1 1 2.8 1 2.8 1 2.8 1 2.7 1 2.9 1 2.7 1 1.5 1 1.1 1 1 1 .8 1 .7 1 .6 1 .5 1 .6 1 .5 1 .5 1 .4 1 .4 1 .2 1 .1 1 .1 1 0 1 0 1-.1 1-.1 1-.2 1-.2 1-.3 1-.3 1-.4 1-.4 1-.5 1-.5 1-.5 1-.5 1-.6 1-.5 1-.6 1-.5 1-.5 1-.6 1-.3 1-.2 1 0 1 .3 1 .5 1 .6 1 .9 1 1.1 1 1.2 1 1.3 1 1.1 1 1.1 1 1 1 .9 1 .8 1 .7 1 .6 1 .5 1 .5 1 .5 1 .4 1 .4 1 .3 1 .3 1 .2 1 .3 1 .2 1 .2 1 .2 1 .1 1 .1 1 .2 1 .1 1 .1 1 .1 1 .1 1 .1 1 0 1 .1 1 .1 1 .1 1 0 1 .1 1 0 1 .1 1 0 1 .1 1 0 1 0 1 .1 1 0 1 0 1 0 1 .1 1 0 1 0 1 0 1 0 1 0 1 .1 1 0 1 0 1 0 1 0 1 0 1 0 1 .1 1 0 1 0 1 0 1 0 1 0 1 0 1 0 1 .1 1 0 1 0 1 0 1 0 1 0 1 0 1 0 1 .1 1 0 1 0 1 0 1 0 1 0 1 0 1 0 1 0 1 0 1 .1 1 0 1 0 1 0 1 0 1 0 1 0 1 0 1 0 1 .1 1 0 1 0 1 0 1 0 1 0 1 0 1 0 1 0 1 0 1 0 1 .1 1 0 1 0 1 0 1 0 1 0 1 0 1 0 1 0 1 0 1 0 1 0 1 0 1 .1 1 0 1 0 1 0 1 0 1 0 1 0 1 0 1 0 1 0 1 0 1 0 1 0 1 0 1 0 1 0 1 .1 1 0 1 0 1 0 1 0 1 0 1 0 1 0 1 0 1 0 1 0 1 0 1 0 1 0 1 0 1 0 1 0 1 0 1 0 1 0 1 0 1 0 1 0 1 0 1 0 1 0 -.2 0"/><path d="M394.8 575.1l1 .1 1 .2 1 .1 1 .1 1 .1 1 .2 1 .1 1 .1 1 .1 1 .2 1 .1 1 .1 1 .1 1 .2 1 0 1 .1 1 0 1 0 1 0 1 0 1 0 1 0 1 .1 1 0 1 0 1 0 1 0 1 0 1 0 1 .1 1 0 1 0 1-.1 1-.5 1-.6 1-.6 1-.6 1-.6 1-.6 1-.6 1-.5 1-.6 1-.6 1-1 1-1.3 1-1.5 1-1.9 1-1.9 1-2 1-2.1 1-2 1-1.9 1-1.9 1-1.9 1-1.6 1-1.1 1-1 1-.8 1-.4 1 .1 1 .6 1 .9 1 .9 1 1.2 1 1.5 1 1.7 1 1.9 1 2.2 1 2.8 1 3.2 1 3.3 1 2.9 1 2.7 1 2.7 1 2.5 1 2.6 1 2.8 1 2.5 1 1.4 1 1.1 1 .9 1 .7 1 .6 1 .5 1 .4 1 .5 1 .4 1 .3 1 .3 1 .1 1 .1 1-.2 1-.2 1-.2 1-.4 1-.3 1-.5 1-.5 1-.7 1-.7 1-.8 1-.9 1-.9 1-1 1-.9 1-1 1-1.1 1-1 1-1.1 1-1 1-1.1 1-1 1-1 1-.8 1-.4 1 .1 1 .5 1 .8 1 1.1 1 1.5 1 2 1 2.2 1 2.2 1 2 1 1.9 1 1.8 1 1.6 1 1.4 1 1.2 1 1.1 1 .9 1 .9 1 .8 1 .7 1 .7 1 .5 1 .5 1 .5 1 .4 1 .3 1 .4 1 .3 1 .2 1 .2 1 .2 1 .2 1 .2 1 .2 1 .1 1 .2 1 .1 1 .1 1 .1 1 .1 1 .1 1 .1 1 .1 1 .1 1 .1 1 0 1 .1 1 0 1 .1 1 0 1 .1 1 0 1 0 1 0 1 0 1 .1 1 0 1 0 1 0 1 0 1 .1 1 0 1 0 1 0 1 0 1 0 1 .1 1 0 1 0 1 0 1 0 1 0 1 0 1 .1 1 0 1 0 1 0 1 0 1 0 1 0 1 0 1 .1 1 0 1 0 1 0 1 0 1 0 1 0 1 0 1 0 1 .1 1 0 1 0 1 0 1 0 1 0 1 0 1 0 1 0 1 0 1 .1 1 0 1 0 1 0 1 0 1 0 1 0 1 0 1 0 1 0 1 .1 1 0 1 0 1 0 1 0 1 0 1 0 1 0 1 0 1 0 1 0 1 0 1 .1 1 0 1 0 1 0 1 0 1 0 1 0 1 0 1 0 1 0 1 0 1 0 1 0 1 0 1 0 1 .1 1 0 1 0 1 0 1 0 1 0 1 0 1 0 1 0 1 0 1 0 1 0 1 0 1 0 1 0 1 0 1 0 1 0 1 0 1 0 1 0 1 0 1 0 1 0 1 0 1 0 1 0 1 0 1 0 -.2 0"/><path d="M394.8 574.6l1 .1 1 .1 1 .2 1 .1 1 .1 1 .2 1 .1 1 .1 1 .1 1 .2 1 .1 1 .1 1 .2 1 .1 1 .1 1 0 1 0 1 .1 1 0 1 0 1 0 1 0 1 .1 1 0 1 0 1 0 1 .1 1 0 1 0 1 0 1 .1 1 0 1 0 1-.6 1-.6 1-.5 1-.6 1-.6 1-.5 1-.6 1-.6 1-.5 1-.6 1-1 1-1.3 1-1.4 1-1.9 1-2 1-2 1-2 1-2 1-1.9 1-1.8 1-1.9 1-1.5 1-1.1 1-1 1-.8 1-.4 1 .2 1 .5 1 .8 1 .9 1 1.2 1 1.4 1 1.7 1 1.9 1 2.1 1 2.6 1 3 1 3 1 2.7 1 2.5 1 2.5 1 2.4 1 2.3 1 2.7 1 2.3 1 1.3 1 1 1 .8 1 .6 1 .4 1 .4 1 .3 1 .3 1 .2 1 .2 1 0 1 0 1-.3 1-.4 1-.5 1-.7 1-.7 1-.8 1-.9 1-1 1-1.2 1-1.3 1-1.4 1-1.5 1-1.6 1-1.5 1-1.6 1-1.7 1-1.7 1-1.7 1-1.7 1-1.7 1-1.7 1-1.6 1-1.7 1-1.3 1-.7 1 .1 1 .8 1 1.2 1 1.7 1 2.4 1 3.1 1 3.5 1 3.5 1 3.1 1 3 1 2.7 1 2.5 1 2.2 1 1.9 1 1.6 1 1.5 1 1.4 1 1.2 1 1.1 1 1 1 .9 1 .7 1 .7 1 .6 1 .6 1 .5 1 .5 1 .4 1 .3 1 .3 1 .3 1 .2 1 .3 1 .2 1 .2 1 .2 1 .2 1 .2 1 .1 1 .2 1 .1 1 .1 1 .1 1 .1 1 .1 1 .1 1 .1 1 .1 1 0 1 .1 1 0 1 0 1 .1 1 0 1 0 1 0 1 .1 1 0 1 0 1 0 1 0 1 .1 1 0 1 0 1 0 1 0 1 .1 1 0 1 0 1 0 1 0 1 0 1 0 1 .1 1 0 1 0 1 0 1 0 1 0 1 0 1 .1 1 0 1 0 1 0 1 0 1 0 1 0 1 0 1 0 1 .1 1 0 1 0 1 0 1 0 1 0 1 0 1 0 1 0 1 .1 1 0 1 0 1 0 1 0 1 0 1 0 1 0 1 0 1 0 1 .1 1 0 1 0 1 0 1 0 1 0 1 0 1 0 1 0 1 0 1 0 1 .1 1 0 1 0 1 0 1 0 1 0 1 0 1 0 1 0 1 0 1 0 1 0 1 0 1 .1 1 0 1 0 1 0 1 0 1 0 1 0 1 0 1 0 1 0 1 0 1 0 1 0 1 0 1 0 1 0 1 0 1 0 1 0 1 0 1 0 1 0 1 0 1 .1 1 0 1 0 1 0 1 0 1 0 1 0 1 0 1 0 1 0 -.2 0"/><path d="M394.8 574l1 .1 1 .2 1 .1 1 .1 1 .2 1 .1 1 .1 1 .2 1 .1 1 .2 1 .1 1 .1 1 .2 1 .1 1 .1 1 0 1 .1 1 0 1 0 1 .1 1 0 1 0 1 .1 1 0 1 0 1 .1 1 0 1 0 1 .1 1 0 1 0 1 .1 1-.1 1-.5 1-.5 1-.6 1-.5 1-.6 1-.5 1-.5 1-.6 1-.5 1-.5 1-1 1-1.3 1-1.4 1-1.9 1-2 1-2 1-2 1-2 1-1.8 1-1.9 1-1.7 1-1.6 1-1 1-1 1-.7 1-.4 1 .1 1 .5 1 .8 1 .9 1 1.1 1 1.4 1 1.7 1 1.8 1 2 1 2.5 1 2.7 1 2.8 1 2.5 1 2.3 1 2.2 1 2.2 1 2.2 1 2.4 1 2.2 1 1.2 1 .9 1 .7 1 .5 1 .3 1 .2 1 .2 1 .1 1 0 1 0 1-.1 1-.3 1-.5 1-.7 1-.9 1-1 1-1.1 1-1.2 1-1.3 1-1.5 1-1.7 1-1.9 1-2 1-2.2 1-2.2 1-2.2 1-2.2 1-2.3 1-2.3 1-2.4 1-2.4 1-2.3 1-2.3 1-2.3 1-2.3 1-1.9 1-.9 1 .1 1 1 1 1.7 1 2.2 1 3.2 1 4.3 1 4.9 1 4.8 1 4.2 1 4 1 3.7 1 3.4 1 3 1 2.5 1 2.2 1 2 1 1.9 1 1.7 1 1.5 1 1.3 1 1.2 1 1 1 .9 1 .8 1 .8 1 .7 1 .6 1 .5 1 .5 1 .4 1 .3 1 .4 1 .3 1 .3 1 .3 1 .3 1 .2 1 .2 1 .2 1 .2 1 .2 1 .2 1 .1 1 .1 1 .2 1 .1 1 .1 1 .1 1 0 1 .1 1 0 1 .1 1 0 1 0 1 .1 1 0 1 0 1 0 1 .1 1 0 1 0 1 0 1 .1 1 0 1 0 1 0 1 0 1 .1 1 0 1 0 1 0 1 0 1 0 1 .1 1 0 1 0 1 0 1 0 1 0 1 0 1 .1 1 0 1 0 1 0 1 0 1 0 1 0 1 0 1 .1 1 0 1 0 1 0 1 0 1 0 1 0 1 0 1 0 1 .1 1 0 1 0 1 0 1 0 1 0 1 0 1 0 1 0 1 .1 1 0 1 0 1 0 1 0 1 0 1 0 1 0 1 0 1 0 1 0 1 .1 1 0 1 0 1 0 1 0 1 0 1 0 1 0 1 0 1 0 1 0 1 0 1 0 1 .1 1 0 1 0 1 0 1 0 1 0 1 0 1 0 1 0 1 0 1 0 1 0 1 0 1 0 1 0 1 0 1 0 1 0 1 .1 1 0 1 0 1 0 1 0 1 0 1 0 1 0 1 0 1 0 1 0 1 0 1 0 1 0 1 0 1 0 1 0 -.2 0"/><path d="M394.8 573.4l1 .1 1 .1 1 .2 1 .1 1 .2 1 .1 1 .2 1 .1 1 .1 1 .2 1 .1 1 .2 1 .1 1 .2 1 0 1 .1 1 0 1 .1 1 0 1 .1 1 0 1 .1 1 0 1 .1 1 0 1 0 1 .1 1 0 1 .1 1 0 1 .1 1 0 1 0 1-.5 1-.5 1-.5 1-.5 1-.6 1-.5 1-.5 1-.5 1-.5 1-.5 1-1 1-1.2 1-1.5 1-1.9 1-2 1-1.9 1-2 1-2 1-1.8 1-1.8 1-1.7 1-1.5 1-1 1-.9 1-.7 1-.4 1 .1 1 .5 1 .7 1 .8 1 1.1 1 1.4 1 1.6 1 1.8 1 1.9 1 2.3 1 2.5 1 2.6 1 2.2 1 2.1 1 2.1 1 2 1 2 1 2.2 1 1.9 1 1.2 1 .8 1 .6 1 .4 1 .2 1 .1 1 0 1 0 1-.2 1-.1 1-.3 1-.5 1-.8 1-1 1-1.2 1-1.4 1-1.5 1-1.6 1-1.7 1-2 1-2.2 1-2.4 1-2.7 1-2.7 1-2.8 1-2.9 1-2.8 1-2.9 1-3 1-3 1-3 1-3 1-2.8 1-3 1-2.9 1-2.5 1-1.3 1 .2 1 1.3 1 2.1 1 2.7 1 3.9 1 5.6 1 6.3 1 6 1 5.3 1 5 1 4.7 1 4.3 1 3.7 1 3.1 1 2.8 1 2.6 1 2.3 1 2.1 1 1.9 1 1.7 1 1.4 1 1.3 1 1.1 1 1 1 1 1 .8 1 .8 1 .7 1 .5 1 .5 1 .5 1 .4 1 .4 1 .4 1 .4 1 .3 1 .3 1 .3 1 .3 1 .2 1 .2 1 .2 1 .2 1 .1 1 .2 1 .1 1 .2 1 .1 1 .1 1 0 1 .1 1 0 1 0 1 .1 1 0 1 0 1 .1 1 0 1 0 1 .1 1 0 1 0 1 0 1 .1 1 0 1 0 1 0 1 0 1 .1 1 0 1 0 1 0 1 0 1 .1 1 0 1 0 1 0 1 0 1 0 1 0 1 .1 1 0 1 0 1 0 1 0 1 0 1 0 1 0 1 .1 1 0 1 0 1 0 1 0 1 0 1 0 1 0 1 .1 1 0 1 0 1 0 1 0 1 0 1 0 1 0 1 0 1 .1 1 0 1 0 1 0 1 0 1 0 1 0 1 0 1 0 1 0 1 .1 1 0 1 0 1 0 1 0 1 0 1 0 1 0 1 0 1 0 1 0 1 0 1 .1 1 0 1 0 1 0 1 0 1 0 1 0 1 0 1 0 1 0 1 0 1 0 1 0 1 0 1 0 1 0 1 .1 1 0 1 0 1 0 1 0 1 0 1 0 1 0 1 0 1 0 1 0 1 0 1 0 1 0 1 0 1 0 1 0 1 0 1 0 1 0 1 0 1 0 -.2 0"/><path d="M394.8 572.7l1 .1 1 .2 1 .1 1 .2 1 .1 1 .2 1 .1 1 .2 1 .1 1 .2 1 .1 1 .2 1 .1 1 .2 1 .1 1 0 1 .1 1 .1 1 0 1 .1 1 0 1 .1 1 0 1 .1 1 .1 1 0 1 .1 1 0 1 .1 1 0 1 .1 1 .1 1 0 1-.5 1-.5 1-.5 1-.5 1-.5 1-.5 1-.4 1-.5 1-.5 1-.5 1-.9 1-1.2 1-1.5 1-1.9 1-2.1 1-1.9 1-2 1-1.9 1-1.8 1-1.7 1-1.7 1-1.4 1-1 1-.9 1-.6 1-.4 1 .1 1 .4 1 .7 1 .8 1 1 1 1.4 1 1.6 1 1.7 1 1.8 1 2.1 1 2.3 1 2.3 1 2 1 1.9 1 1.9 1 1.8 1 1.8 1 2 1 1.7 1 1.1 1 .8 1 .5 1 .3 1 .1 1-.1 1-.1 1-.3 1-.3 1-.3 1-.5 1-.7 1-1 1-1.3 1-1.6 1-1.8 1-1.9 1-2 1-2.1 1-2.4 1-2.8 1-3 1-3.3 1-3.4 1-3.4 1-3.5 1-3.4 1-3.5 1-3.7 1-3.7 1-3.7 1-3.6 1-3.5 1-3.5 1-3.8 1-3.1 1-1.6 1 .3 1 1.7 1 2.5 1 3.2 1 4.6 1 6.9 1 7.9 1 7.3 1 6.3 1 6.1 1 5.7 1 5.2 1 4.5 1 3.7 1 3.4 1 3 1 2.9 1 2.5 1 2.3 1 2.1 1 1.7 1 1.5 1 1.4 1 1.2 1 1.2 1 1 1 .9 1 .8 1 .7 1 .6 1 .5 1 .6 1 .5 1 .4 1 .4 1 .4 1 .4 1 .3 1 .4 1 .2 1 .3 1 .2 1 .2 1 .2 1 .2 1 .2 1 .1 1 .2 1 .1 1 0 1 .1 1 0 1 .1 1 0 1 0 1 .1 1 0 1 .1 1 0 1 0 1 .1 1 0 1 0 1 0 1 .1 1 0 1 0 1 0 1 .1 1 0 1 0 1 0 1 0 1 .1 1 0 1 0 1 0 1 0 1 0 1 0 1 .1 1 0 1 0 1 0 1 0 1 0 1 0 1 .1 1 0 1 0 1 0 1 0 1 0 1 0 1 0 1 .1 1 0 1 0 1 0 1 0 1 0 1 0 1 0 1 0 1 .1 1 0 1 0 1 0 1 0 1 0 1 0 1 0 1 0 1 0 1 .1 1 0 1 0 1 0 1 0 1 0 1 0 1 0 1 0 1 0 1 0 1 .1 1 0 1 0 1 0 1 0 1 0 1 0 1 0 1 0 1 0 1 0 1 0 1 0 1 0 1 .1 1 0 1 0 1 0 1 0 1 0 1 0 1 0 1 0 1 0 1 0 1 0 1 0 1 0 1 0 1 0 1 0 1 0 1 0 1 0 1 0 1 0 1 0 1 0 1 0 1 0 -.2 0"/><path d="M394.8 572l1 .1 1 .2 1 .2 1 .1 1 .2 1 .1 1 .2 1 .1 1 .2 1 .2 1 .1 1 .2 1 .1 1 .2 1 .1 1 .1 1 0 1 .1 1 .1 1 0 1 .1 1 .1 1 0 1 .1 1 .1 1 .1 1 0 1 .1 1 .1 1 0 1 .1 1 .1 1 0 1-.5 1-.4 1-.5 1-.4 1-.5 1-.5 1-.4 1-.5 1-.4 1-.5 1-.9 1-1.2 1-1.4 1-1.9 1-2.1 1-2 1-1.9 1-1.9 1-1.7 1-1.7 1-1.6 1-1.4 1-1 1-.8 1-.6 1-.4 1 .1 1 .4 1 .6 1 .8 1 .9 1 1.4 1 1.6 1 1.6 1 1.7 1 1.9 1 2.1 1 2.1 1 1.8 1 1.7 1 1.7 1 1.7 1 1.7 1 1.7 1 1.5 1 1.1 1 .7 1 .4 1 .2 1 0 1-.2 1-.3 1-.4 1-.4 1-.5 1-.6 1-.9 1-1.3 1-1.6 1-1.9 1-2.1 1-2.3 1-2.4 1-2.5 1-2.8 1-3.2 1-3.6 1-3.8 1-4 1-4 1-4.1 1-3.9 1-4.1 1-4.3 1-4.3 1-4.3 1-4.2 1-4 1-4 1-4.5 1-3.8 1-1.9 1 .5 1 1.9 1 3 1 3.6 1 5.2 1 8.1 1 9.4 1 8.4 1 7.2 1 7 1 6.7 1 6.1 1 5.2 1 4.2 1 3.8 1 3.6 1 3.3 1 3 1 2.6 1 2.3 1 2 1 1.8 1 1.5 1 1.5 1 1.3 1 1.2 1 1.1 1 .9 1 .8 1 .7 1 .6 1 .6 1 .6 1 .5 1 .5 1 .4 1 .5 1 .3 1 .4 1 .3 1 .3 1 .3 1 .2 1 .2 1 .3 1 .2 1 .1 1 .2 1 .1 1 .1 1 0 1 .1 1 0 1 .1 1 0 1 0 1 .1 1 0 1 .1 1 0 1 0 1 .1 1 0 1 0 1 0 1 .1 1 0 1 0 1 0 1 .1 1 0 1 0 1 0 1 0 1 .1 1 0 1 0 1 0 1 0 1 0 1 .1 1 0 1 0 1 0 1 0 1 0 1 0 1 .1 1 0 1 0 1 0 1 0 1 0 1 0 1 0 1 .1 1 0 1 0 1 0 1 0 1 0 1 0 1 0 1 .1 1 0 1 0 1 0 1 0 1 0 1 0 1 0 1 0 1 0 1 .1 1 0 1 0 1 0 1 0 1 0 1 0 1 0 1 0 1 0 1 .1 1 0 1 0 1 0 1 0 1 0 1 0 1 0 1 0 1 0 1 0 1 0 1 0 1 .1 1 0 1 0 1 0 1 0 1 0 1 0 1 0 1 0 1 0 1 0 1 0 1 0 1 0 1 0 1 0 1 0 1 0 1 0 1 0 1 0 1 0 1 0 1 0 1 0 1 0 1 0 1 0 1 0 -.2 0"/><path d="M394.8 571.3l1 .1 1 .2 1 .1 1 .2 1 .2 1 .1 1 .2 1 .2 1 .1 1 .2 1 .2 1 .1 1 .2 1 .1 1 .2 1 .1 1 0 1 .1 1 .1 1 .1 1 .1 1 0 1 .1 1 .1 1 .1 1 .1 1 .1 1 0 1 .1 1 .1 1 .1 1 .1 1 0 1-.4 1-.5 1-.4 1-.4 1-.4 1-.5 1-.4 1-.4 1-.5 1-.4 1-.8 1-1.2 1-1.4 1-2 1-2.1 1-1.9 1-1.9 1-1.9 1-1.7 1-1.6 1-1.6 1-1.3 1-.9 1-.8 1-.6 1-.4 1 .1 1 .4 1 .6 1 .7 1 .9 1 1.3 1 1.5 1 1.6 1 1.6 1 1.8 1 1.8 1 1.9 1 1.7 1 1.5 1 1.5 1 1.5 1 1.6 1 1.5 1 1.3 1 1 1 .7 1 .3 1 .1 1-.2 1-.2 1-.5 1-.5 1-.6 1-.7 1-.7 1-1.1 1-1.5 1-1.9 1-2.2 1-2.4 1-2.6 1-2.8 1-2.8 1-3.3 1-3.6 1-4.1 1-4.4 1-4.5 1-4.6 1-4.6 1-4.5 1-4.7 1-4.8 1-4.9 1-4.9 1-4.8 1-4.4 1-4.7 1-5.1 1-4.3 1-2.2 1 .6 1 2.2 1 3.3 1 4.1 1 5.8 1 9.3 1 10.6 1 9.6 1 8.1 1 7.9 1 7.6 1 6.9 1 5.8 1 4.8 1 4.4 1 4 1 3.7 1 3.4 1 3 1 2.6 1 2.2 1 2 1 1.8 1 1.6 1 1.5 1 1.4 1 1.1 1 1.1 1 .9 1 .7 1 .8 1 .6 1 .7 1 .6 1 .5 1 .5 1 .5 1 .5 1 .4 1 .3 1 .3 1 .3 1 .3 1 .3 1 .2 1 .2 1 .2 1 .2 1 .1 1 .1 1 .1 1 0 1 .1 1 0 1 .1 1 0 1 0 1 .1 1 0 1 .1 1 0 1 0 1 .1 1 0 1 0 1 .1 1 0 1 0 1 0 1 .1 1 0 1 0 1 0 1 0 1 .1 1 0 1 0 1 0 1 0 1 .1 1 0 1 0 1 0 1 0 1 0 1 0 1 0 1 .1 1 0 1 0 1 0 1 0 1 0 1 0 1 .1 1 0 1 0 1 0 1 0 1 0 1 0 1 0 1 0 1 .1 1 0 1 0 1 0 1 0 1 0 1 0 1 0 1 0 1 .1 1 0 1 0 1 0 1 0 1 0 1 0 1 0 1 0 1 0 1 .1 1 0 1 0 1 0 1 0 1 0 1 0 1 0 1 0 1 0 1 0 1 0 1 .1 1 0 1 0 1 0 1 0 1 0 1 0 1 0 1 0 1 0 1 0 1 0 1 0 1 0 1 0 1 0 1 0 1 0 1 0 1 .1 1 0 1 0 1 0 1 0 1 0 1 0 1 0 1 0 1 0 1 0 1 0 -.2 0"/><path d="M394.8 570.5l1 .2 1 .1 1 .2 1 .2 1 .1 1 .2 1 .2 1 .2 1 .1 1 .2 1 .2 1 .1 1 .2 1 .2 1 .1 1 .1 1 .1 1 .1 1 .1 1 .1 1 .1 1 .1 1 .1 1 .1 1 .1 1 .1 1 .1 1 .1 1 .1 1 0 1 .1 1 .1 1 .1 1-.4 1-.4 1-.4 1-.4 1-.4 1-.4 1-.4 1-.4 1-.4 1-.4 1-.8 1-1.1 1-1.4 1-2 1-2.1 1-2 1-1.9 1-1.8 1-1.6 1-1.6 1-1.5 1-1.3 1-.9 1-.7 1-.6 1-.3 1 0 1 .3 1 .6 1 .7 1 .8 1 1.3 1 1.5 1 1.5 1 1.5 1 1.6 1 1.7 1 1.7 1 1.5 1 1.5 1 1.3 1 1.4 1 1.4 1 1.4 1 1.2 1 .9 1 .6 1 .3 1 0 1-.3 1-.3 1-.6 1-.6 1-.7 1-.9 1-.8 1-1.2 1-1.7 1-2.1 1-2.5 1-2.7 1-2.9 1-3.1 1-3.1 1-3.6 1-4 1-4.5 1-4.8 1-5 1-5.1 1-5 1-5 1-5.1 1-5.3 1-5.4 1-5.4 1-5.2 1-4.9 1-5 1-5.6 1-4.8 1-2.4 1 .6 1 2.4 1 3.7 1 4.4 1 6.4 1 10.2 1 11.6 1 10.5 1 8.8 1 8.8 1 8.3 1 7.5 1 6.4 1 5.2 1 4.8 1 4.4 1 4 1 3.7 1 3.3 1 2.9 1 2.5 1 2.1 1 1.9 1 1.8 1 1.7 1 1.4 1 1.3 1 1.2 1 1 1 .8 1 .8 1 .7 1 .7 1 .7 1 .6 1 .5 1 .5 1 .5 1 .5 1 .4 1 .3 1 .3 1 .3 1 .3 1 .3 1 .2 1 .2 1 .2 1 .1 1 .1 1 .1 1 .1 1 0 1 .1 1 0 1 .1 1 0 1 .1 1 0 1 0 1 .1 1 0 1 0 1 .1 1 0 1 0 1 .1 1 0 1 0 1 .1 1 0 1 0 1 0 1 0 1 .1 1 0 1 0 1 0 1 0 1 .1 1 0 1 0 1 0 1 0 1 0 1 0 1 .1 1 0 1 0 1 0 1 0 1 0 1 0 1 0 1 .1 1 0 1 0 1 0 1 0 1 0 1 0 1 0 1 .1 1 0 1 0 1 0 1 0 1 0 1 0 1 0 1 0 1 .1 1 0 1 0 1 0 1 0 1 0 1 0 1 0 1 0 1 .1 1 0 1 0 1 0 1 0 1 0 1 0 1 0 1 0 1 0 1 0 1 0 1 .1 1 0 1 0 1 0 1 0 1 0 1 0 1 0 1 0 1 0 1 0 1 0 1 0 1 0 1 0 1 0 1 0 1 .1 1 0 1 0 1 0 1 0 1 0 1 0 1 0 1 0 1 0 1 0 1 0 1 0 1 0 1 0 1 0 -.2 0"/><path d="M394.8 569.7l1 .2 1 .2 1 .1 1 .2 1 .2 1 .2 1 .2 1 .1 1 .2 1 .2 1 .2 1 .2 1 .1 1 .2 1 .2 1 .1 1 .1 1 .1 1 .1 1 .1 1 .1 1 .1 1 .1 1 .1 1 .1 1 .2 1 .1 1 .1 1 .1 1 .1 1 .1 1 .1 1 .1 1-.4 1-.4 1-.3 1-.4 1-.4 1-.3 1-.4 1-.3 1-.4 1-.4 1-.7 1-1.2 1-1.4 1-2 1-2.1 1-1.9 1-1.9 1-1.8 1-1.6 1-1.5 1-1.5 1-1.2 1-.8 1-.7 1-.5 1-.4 1 0 1 .3 1 .6 1 .6 1 .8 1 1.2 1 1.4 1 1.5 1 1.4 1 1.5 1 1.5 1 1.5 1 1.4 1 1.3 1 1.2 1 1.3 1 1.2 1 1.2 1 1.1 1 .8 1 .6 1 .2 1-.1 1-.3 1-.5 1-.6 1-.8 1-.9 1-.9 1-1 1-1.4 1-1.9 1-2.3 1-2.7 1-3 1-3.2 1-3.4 1-3.4 1-3.9 1-4.5 1-4.9 1-5.2 1-5.5 1-5.5 1-5.5 1-5.4 1-5.6 1-5.8 1-5.9 1-5.9 1-5.6 1-5.4 1-5.5 1-6.1 1-5.2 1-2.6 1 .6 1 2.7 1 4 1 4.8 1 6.9 1 11.1 1 12.7 1 11.4 1 9.6 1 9.5 1 9 1 8.2 1 7 1 5.7 1 5.2 1 4.8 1 4.4 1 4 1 3.6 1 3.1 1 2.7 1 2.3 1 2.2 1 1.9 1 1.8 1 1.6 1 1.4 1 1.3 1 1 1 .9 1 .9 1 .8 1 .7 1 .7 1 .7 1 .6 1 .6 1 .5 1 .5 1 .4 1 .4 1 .3 1 .4 1 .3 1 .2 1 .3 1 .2 1 .2 1 .2 1 .1 1 .1 1 0 1 .1 1 0 1 .1 1 0 1 .1 1 0 1 .1 1 0 1 .1 1 0 1 0 1 .1 1 0 1 0 1 .1 1 0 1 0 1 0 1 .1 1 0 1 0 1 0 1 .1 1 0 1 0 1 0 1 0 1 .1 1 0 1 0 1 0 1 0 1 0 1 0 1 .1 1 0 1 0 1 0 1 0 1 0 1 0 1 .1 1 0 1 0 1 0 1 0 1 0 1 0 1 0 1 .1 1 0 1 0 1 0 1 0 1 0 1 0 1 0 1 0 1 .1 1 0 1 0 1 0 1 0 1 0 1 0 1 0 1 0 1 .1 1 0 1 0 1 0 1 0 1 0 1 0 1 0 1 0 1 0 1 0 1 .1 1 0 1 0 1 0 1 0 1 0 1 0 1 0 1 0 1 0 1 0 1 0 1 0 1 0 1 0 1 .1 1 0 1 0 1 0 1 0 1 0 1 0 1 0 1 0 1 0 1 0 1 0 1 0 1 0 1 0 1 0 1 0 1 0 1 0 1 0 -.2 0"/></g>
<g fill="none" stroke-width="1.80" stroke-linejoin="round"><path d="M394.8 576.6l1 .1 1 .1 1 .1 1 .1 1 .2 1 .1 1 .1 1 .1 1 .1 1 .1 1 .1 1 .1 1 .1 1 .1 1 .1 1 0 1 0 1 0 1 0 1-.1 1 0 1 0 1 0 1 0 1 0 1 0 1 0 1 0 1-.1 1 0 1 0 1 0 1-.1 1-.6 1-.7 1-.6 1-.7 1-.6 1-.6 1-.7 1-.6 1-.7 1-.6 1-1.1 1-1.4 1-1.5 1-1.8 1-1.9 1-2 1-2.1 1-2.1 1-2 1-2 1-2 1-1.7 1-1.2 1-1.1 1-.9 1-.4 1 .2" stroke="#10092d"/><path d="M394.8 576.6l1 .1 1 .1 1 .1 1 .1 1 .1 1 .1 1 .1 1 .1 1 .2 1 .1 1 .1 1 .1 1 .1 1 .1 1 .1 1-.1 1 0 1 0 1 0 1 0 1 0 1 0 1 0 1 0 1 0 1-.1 1 0 1 0 1 0 1 0 1 0 1 0 1-.1 1-.6 1-.7 1-.6 1-.7 1-.6 1-.7 1-.6 1-.7 1-.6 1-.6 1-1.1 1-1.4 1-1.5 1-1.8 1-1.9 1-2 1-2.1 1-2.1 1-2 1-2 1-2 1-1.7 1-1.2 1-1.1 1-.8 1-.5 1 .2" stroke="#160b39"/><path d="M394.8 576.5l1 .1 1 .1 1 .1 1 .1 1 .1 1 .1 1 .2 1 .1 1 .1 1 .1 1 .1 1 .1 1 .1 1 .1 1 .1 1 0 1 0 1 0 1 0 1-.1 1 0 1 0 1 0 1 0 1 0 1 0 1 0 1 0 1 0 1 0 1 0 1-.1 1 0 1-.7 1-.6 1-.7 1-.6 1-.6 1-.7 1-.6 1-.7 1-.6 1-.6 1-1.1 1-1.4 1-1.5 1-1.8 1-1.9 1-2 1-2.1 1-2.1 1-2 1-2 1-1.9 1-1.8 1-1.2 1-1 1-.9 1-.4 1 .1" stroke="#1e0c45"/><path d="M394.8 576.4l1 .1 1 .1 1 .1 1 .1 1 .1 1 .2 1 .1 1 .1 1 .1 1 .1 1 .1 1 .1 1 .1 1 .2 1 0 1 0 1 0 1 0 1 0 1 0 1 0 1 0 1 0 1-.1 1 0 1 0 1 0 1 0 1 0 1 0 1 0 1 0 1-.1 1-.6 1-.7 1-.6 1-.6 1-.7 1-.6 1-.6 1-.7 1-.6 1-.7 1-1 1-1.4 1-1.5 1-1.8 1-1.9 1-2 1-2.1 1-2.1 1-2 1-2 1-1.9 1-1.7 1-1.3 1-1 1-.9 1-.4 1 .2" stroke="#260c51"/><path d="M394.8 576.3l1 .1 1 .1 1 .1 1 .1 1 .1 1 .2 1 .1 1 .1 1 .1 1 .1 1 .1 1 .1 1 .2 1 .1 1 0 1 0 1 0 1 0 1 0 1 0 1 0 1 0 1 0 1 0 1 0 1 0 1 0 1 0 1 0 1-.1 1 0 1 0 1 0 1-.7 1-.6 1-.6 1-.7 1-.6 1-.6 1-.7 1-.6 1-.6 1-.7 1-1 1-1.4 1-1.5 1-1.8 1-1.9 1-2 1-2.1 1-2.1 1-2 1-2 1-1.9 1-1.7 1-1.2 1-1.1 1-.8 1-.4 1 .1" stroke="#2f0a5b"/><path d="M394.8 576.2l1 .1 1 .1 1 .1 1 .1 1 .1 1 .2 1 .1 1 .1 1 .1 1 .1 1 .1 1 .1 1 .2 1 .1 1 0 1 0 1 0 1 0 1 0 1 0 1 0 1 0 1 0 1 0 1 0 1 0 1 0 1 0 1 0 1 0 1 0 1 0 1-.1 1-.6 1-.7 1-.6 1-.6 1-.6 1-.7 1-.6 1-.6 1-.7 1-.6 1-1.1 1-1.3 1-1.5 1-1.8 1-1.9 1-2 1-2.1 1-2.1 1-2 1-1.9 1-2 1-1.7 1-1.2 1-1 1-.9 1-.4 1 .2" stroke="#390963"/><path d="M394.8 576l1 .2 1 .1 1 .1 1 .1 1 .1 1 .1 1 .2 1 .1 1 .1 1 .1 1 .1 1 .1 1 .1 1 .2 1 0 1 0 1 0 1 0 1 0 1 0 1 0 1 0 1 0 1 0 1 0 1 0 1 0 1 0 1 0 1 0 1 0 1 0 1-.1 1-.6 1-.6 1-.6 1-.7 1-.6 1-.6 1-.6 1-.7 1-.6 1-.6 1-1.1 1-1.3 1-1.5 1-1.8 1-2 1-1.9 1-2.1 1-2.1 1-2 1-1.9 1-2 1-1.6 1-1.2 1-1.1 1-.8 1-.4 1 .1" stroke="#420a68"/><path d="M394.8 575.9l1 .1 1 .1 1 .2 1 .1 1 .1 1 .1 1 .1 1 .1 1 .2 1 .1 1 .1 1 .1 1 .1 1 .1 1 .1 1 0 1 0 1 0 1 0 1 0 1 0 1 0 1 0 1 0 1 0 1 0 1 0 1 0 1 0 1 0 1 0 1 0 1 0 1-.7 1-.6 1-.6 1-.6 1-.6 1-.6 1-.7 1-.6 1-.6 1-.6 1-1.1 1-1.3 1-1.5 1-1.8 1-2 1-2 1-2 1-2.1 1-2 1-1.9 1-1.9 1-1.7 1-1.2 1-1 1-.8 1-.5 1 .2" stroke="#4a0c6b"/><path d="M394.8 575.8l1 .1 1 .1 1 .1 1 .1 1 .2 1 .1 1 .1 1 .1 1 .1 1 .1 1 .2 1 .1 1 .1 1 .1 1 .1 1 0 1 0 1 0 1 0 1 0 1 0 1 0 1 0 1 0 1 0 1 0 1 0 1 0 1 0 1 0 1 0 1 0 1 0 1-.6 1-.6 1-.6 1-.7 1-.6 1-.6 1-.6 1-.6 1-.6 1-.6 1-1.1 1-1.3 1-1.5 1-1.8 1-2 1-2 1-2 1-2.1 1-2 1-1.9 1-1.9 1-1.7 1-1.1 1-1.1 1-.8 1-.4 1 .2" stroke="#520e6d"/><path d="M394.8 575.6l1 .1 1 .1 1 .2 1 .1 1 .1 1 .1 1 .2 1 .1 1 .1 1 .1 1 .1 1 .2 1 .1 1 .1 1 .1 1 0 1 0 1 0 1 0 1 0 1 0 1 0 1 0 1 0 1 0 1 0 1 0 1 0 1 0 1 .1 1 0 1 0 1-.1 1-.6 1-.6 1-.6 1-.6 1-.6 1-.6 1-.6 1-.6 1-.6 1-.7 1-1 1-1.3 1-1.5 1-1.8 1-2 1-2 1-2 1-2.1 1-1.9 1-2 1-1.9 1-1.6 1-1.2 1-1 1-.8 1-.4 1 .1" stroke="#5a116e"/><path d="M394.8 575.5l1 .1 1 .1 1 .1 1 .1 1 .2 1 .1 1 .1 1 .1 1 .1 1 .2 1 .1 1 .1 1 .1 1 .2 1 0 1 0 1 0 1 0 1 .1 1 0 1 0 1 0 1 0 1 0 1 0 1 0 1 0 1 0 1 0 1 .1 1 0 1 0 1-.1 1-.6 1-.6 1-.6 1-.6 1-.6 1-.6 1-.6 1-.6 1-.6 1-.6 1-1 1-1.3 1-1.5 1-1.8 1-2 1-2 1-2.1 1-2 1-1.9 1-1.9 1-1.9 1-1.7 1-1.1 1-1 1-.9 1-.4 1 .2" stroke="#62146e"/><path d="M394.8 575.3l1 .1 1 .1 1 .2 1 .1 1 .1 1 .1 1 .2 1 .1 1 .1 1 .1 1 .1 1 .2 1 .1 1 .1 1 .1 1 0 1 0 1 0 1 0 1 0 1 .1 1 0 1 0 1 0 1 0 1 0 1 0 1 0 1 .1 1 0 1 0 1 0 1-.1 1-.6 1-.5 1-.6 1-.6 1-.6 1-.6 1-.6 1-.6 1-.6 1-.6 1-1 1-1.3 1-1.5 1-1.8 1-2 1-2 1-2.1 1-2 1-1.9 1-1.9 1-1.9 1-1.6 1-1.2 1-1 1-.8 1-.4 1 .2" stroke="#6a176e"/><path d="M394.8 575.1l1 .1 1 .2 1 .1 1 .1 1 .1 1 .2 1 .1 1 .1 1 .1 1 .2 1 .1 1 .1 1 .1 1 .2 1 0 1 .1 1 0 1 0 1 0 1 0 1 0 1 0 1 .1 1 0 1 0 1 0 1 0 1 0 1 0 1 .1 1 0 1 0 1-.1 1-.5 1-.6 1-.6 1-.6 1-.6 1-.6 1-.6 1-.5 1-.6 1-.6 1-1 1-1.3 1-1.5 1-1.9 1-1.9 1-2 1-2.1 1-2 1-1.9 1-1.9 1-1.9 1-1.6 1-1.1 1-1 1-.8 1-.4 1 .1" stroke="#721a6e"/><path d="M394.8 574.9l1 .2 1 .1 1 .1 1 .1 1 .2 1 .1 1 .1 1 .2 1 .1 1 .1 1 .1 1 .2 1 .1 1 .1 1 .1 1 0 1 0 1 0 1 .1 1 0 1 0 1 0 1 0 1 .1 1 0 1 0 1 0 1 0 1 0 1 .1 1 0 1 0 1 0 1-.6 1-.6 1-.6 1-.6 1-.5 1-.6 1-.6 1-.6 1-.6 1-.5 1-1 1-1.3 1-1.5 1-1.9 1-2 1-1.9 1-2.1 1-2 1-1.9 1-1.9 1-1.8 1-1.6 1-1.2 1-.9 1-.8 1-.4 1 .1" stroke="#7c1d6d"/><path d="M394.8 574.8l1 .1 1 .1 1 .1 1 .2 1 .1 1 .1 1 .2 1 .1 1 .1 1 .1 1 .2 1 .1 1 .1 1 .2 1 0 1 .1 1 0 1 0 1 0 1 0 1 .1 1 0 1 0 1 0 1 0 1 .1 1 0 1 0 1 0 1 .1 1 0 1 0 1 0 1-.6 1-.6 1-.6 1-.5 1-.6 1-.6 1-.5 1-.6 1-.6 1-.6 1-1 1-1.2 1-1.5 1-1.9 1-2 1-1.9 1-2.1 1-2 1-1.9 1-1.9 1-1.8 1-1.6 1-1.1 1-1 1-.7 1-.5 1 .2" stroke="#84206b"/><path d="M394.8 574.6l1 .1 1 .1 1 .2 1 .1 1 .1 1 .2 1 .1 1 .1 1 .1 1 .2 1 .1 1 .1 1 .2 1 .1 1 .1 1 0 1 0 1 .1 1 0 1 0 1 0 1 0 1 .1 1 0 1 0 1 0 1 .1 1 0 1 0 1 0 1 .1 1 0 1 0 1-.6 1-.6 1-.5 1-.6 1-.6 1-.5 1-.6 1-.6 1-.5 1-.6 1-1 1-1.3 1-1.4 1-1.9 1-2 1-2 1-2 1-2 1-1.9 1-1.8 1-1.9 1-1.5 1-1.1 1-1 1-.8 1-.4 1 .2" stroke="#8c2369"/><path d="M394.8 574.4l1 .1 1 .1 1 .2 1 .1 1 .1 1 .2 1 .1 1 .1 1 .2 1 .1 1 .1 1 .2 1 .1 1 .1 1 .1 1 0 1 .1 1 0 1 0 1 .1 1 0 1 0 1 0 1 .1 1 0 1 0 1 0 1 .1 1 0 1 0 1 .1 1 0 1 0 1-.6 1-.6 1-.5 1-.6 1-.5 1-.6 1-.5 1-.6 1-.5 1-.6 1-1 1-1.3 1-1.4 1-1.9 1-2 1-2 1-2 1-2 1-1.9 1-1.8 1-1.8 1-1.6 1-1.1 1-.9 1-.8 1-.4 1 .1" stroke="#932667"/><path d="M394.8 574.2l1 .1 1 .2 1 .1 1 .1 1 .2 1 .1 1 .1 1 .2 1 .1 1 .1 1 .2 1 .1 1 .1 1 .2 1 .1 1 0 1 0 1 0 1 .1 1 0 1 0 1 .1 1 0 1 0 1 .1 1 0 1 0 1 .1 1 0 1 0 1 0 1 .1 1 0 1-.6 1-.5 1-.6 1-.5 1-.6 1-.5 1-.6 1-.5 1-.6 1-.5 1-1 1-1.3 1-1.4 1-1.9 1-2 1-2 1-2 1-2 1-1.9 1-1.8 1-1.8 1-1.5 1-1.1 1-.9 1-.8 1-.4 1 .1" stroke="#9b2964"/><path d="M394.8 574l1 .1 1 .2 1 .1 1 .1 1 .2 1 .1 1 .1 1 .2 1 .1 1 .2 1 .1 1 .1 1 .2 1 .1 1 .1 1 0 1 .1 1 0 1 0 1 .1 1 0 1 0 1 .1 1 0 1 0 1 .1 1 0 1 0 1 .1 1 0 1 0 1 .1 1-.1 1-.5 1-.5 1-.6 1-.5 1-.6 1-.5 1-.5 1-.6 1-.5 1-.5 1-1 1-1.3 1-1.4 1-1.9 1-2 1-2 1-2 1-2 1-1.8 1-1.9 1-1.7 1-1.6 1-1 1-1 1-.7 1-.4 1 .1" stroke="#a32c61"/><path d="M394.8 573.8l1 .1 1 .2 1 .1 1 .1 1 .2 1 .1 1 .1 1 .2 1 .1 1 .2 1 .1 1 .1 1 .2 1 .1 1 .1 1 0 1 .1 1 0 1 .1 1 0 1 0 1 .1 1 0 1 0 1 .1 1 0 1 .1 1 0 1 0 1 .1 1 0 1 .1 1-.1 1-.5 1-.5 1-.6 1-.5 1-.5 1-.6 1-.5 1-.5 1-.5 1-.6 1-.9 1-1.3 1-1.5 1-1.8 1-2.1 1-1.9 1-2 1-2 1-1.8 1-1.8 1-1.8 1-1.5 1-1.1 1-.9 1-.7 1-.4 1 .1" stroke="#ab2f5e"/><path d="M394.8 573.6l1 .1 1 .2 1 .1 1 .1 1 .2 1 .1 1 .2 1 .1 1 .1 1 .2 1 .1 1 .2 1 .1 1 .1 1 .1 1 .1 1 0 1 .1 1 0 1 0 1 .1 1 0 1 .1 1 0 1 0 1 .1 1 0 1 .1 1 0 1 .1 1 0 1 0 1 0 1-.5 1-.5 1-.5 1-.6 1-.5 1-.5 1-.5 1-.6 1-.5 1-.5 1-.9 1-1.3 1-1.5 1-1.8 1-2.1 1-1.9 1-2 1-2 1-1.8 1-1.8 1-1.8 1-1.5 1-1 1-.9 1-.7 1-.4 1 .1" stroke="#b3325a"/><path d="M394.8 573.4l1 .1 1 .1 1 .2 1 .1 1 .2 1 .1 1 .2 1 .1 1 .1 1 .2 1 .1 1 .2 1 .1 1 .2 1 0 1 .1 1 0 1 .1 1 0 1 .1 1 0 1 .1 1 0 1 .1 1 0 1 0 1 .1 1 0 1 .1 1 0 1 .1 1 0 1 0 1-.5 1-.5 1-.5 1-.5 1-.6 1-.5 1-.5 1-.5 1-.5 1-.5 1-1 1-1.2 1-1.5 1-1.9 1-2 1-1.9 1-2 1-2 1-1.8 1-1.8 1-1.7 1-1.5 1-1 1-.9 1-.7 1-.4 1 .1" stroke="#bc3754"/><path d="M394.8 573.1l1 .2 1 .1 1 .2 1 .1 1 .2 1 .1 1 .2 1 .1 1 .1 1 .2 1 .1 1 .2 1 .1 1 .2 1 .1 1 0 1 .1 1 0 1 .1 1 0 1 .1 1 0 1 .1 1 0 1 .1 1 0 1 .1 1 0 1 .1 1 0 1 0 1 .1 1 0 1-.5 1-.5 1-.5 1-.5 1-.5 1-.5 1-.5 1-.5 1-.5 1-.6 1-.9 1-1.2 1-1.5 1-1.9 1-2 1-2 1-2 1-1.9 1-1.8 1-1.8 1-1.7 1-1.4 1-1.1 1-.8 1-.7 1-.4 1 .1" stroke="#c33b4f"/><path d="M394.8 572.9l1 .2 1 .1 1 .2 1 .1 1 .2 1 .1 1 .1 1 .2 1 .1 1 .2 1 .1 1 .2 1 .1 1 .2 1 .1 1 0 1 .1 1 0 1 .1 1 0 1 .1 1 0 1 .1 1 .1 1 0 1 .1 1 0 1 .1 1 0 1 .1 1 0 1 .1 1 0 1-.5 1-.5 1-.5 1-.5 1-.5 1-.5 1-.5 1-.5 1-.5 1-.5 1-.9 1-1.2 1-1.5 1-1.9 1-2 1-2 1-2 1-1.9 1-1.8 1-1.7 1-1.7 1-1.5 1-1 1-.8 1-.7 1-.4 1 .1" stroke="#ca404a"/><path d="M394.8 572.7l1 .1 1 .2 1 .1 1 .2 1 .1 1 .2 1 .1 1 .2 1 .1 1 .2 1 .1 1 .2 1 .1 1 .2 1 .1 1 0 1 .1 1 .1 1 0 1 .1 1 0 1 .1 1 0 1 .1 1 .1 1 0 1 .1 1 0 1 .1 1 0 1 .1 1 .1 1 0 1-.5 1-.5 1-.5 1-.5 1-.5 1-.5 1-.4 1-.5 1-.5 1-.5 1-.9 1-1.2 1-1.5 1-1.9 1-2.1 1-1.9 1-2 1-1.9 1-1.8 1-1.7 1-1.7 1-1.4 1-1 1-.9 1-.6 1-.4 1 .1" stroke="#d04545"/><path d="M394.8 572.5l1 .1 1 .2 1 .1 1 .2 1 .1 1 .2 1 .1 1 .2 1 .1 1 .2 1 .1 1 .2 1 .1 1 .2 1 .1 1 .1 1 0 1 .1 1 0 1 .1 1 .1 1 0 1 .1 1 0 1 .1 1 .1 1 0 1 .1 1 0 1 .1 1 .1 1 0 1 0 1-.4 1-.5 1-.5 1-.5 1-.5 1-.4 1-.5 1-.5 1-.5 1-.4 1-.9 1-1.2 1-1.5 1-1.9 1-2.1 1-1.9 1-2 1-1.9 1-1.8 1-1.7 1-1.6 1-1.5 1-.9 1-.9 1-.6 1-.4 1 .1" stroke="#d74b3f"/><path d="M394.8 572.2l1 .2 1 .1 1 .2 1 .1 1 .2 1 .1 1 .2 1 .2 1 .1 1 .2 1 .1 1 .2 1 .1 1 .2 1 .1 1 .1 1 0 1 .1 1 .1 1 0 1 .1 1 0 1 .1 1 .1 1 0 1 .1 1 .1 1 0 1 .1 1 .1 1 0 1 .1 1 0 1-.5 1-.4 1-.5 1-.5 1-.4 1-.5 1-.5 1-.4 1-.5 1-.5 1-.8 1-1.3 1-1.4 1-1.9 1-2.1 1-1.9 1-2 1-1.9 1-1.7 1-1.7 1-1.7 1-1.4 1-1 1-.8 1-.6 1-.4 1 .1" stroke="#dd513a"/><path d="M394.8 572l1 .1 1 .2 1 .2 1 .1 1 .2 1 .1 1 .2 1 .1 1 .2 1 .2 1 .1 1 .2 1 .1 1 .2 1 .1 1 .1 1 0 1 .1 1 .1 1 0 1 .1 1 .1 1 0 1 .1 1 .1 1 .1 1 0 1 .1 1 .1 1 0 1 .1 1 .1 1 0 1-.5 1-.4 1-.5 1-.4 1-.5 1-.5 1-.4 1-.5 1-.4 1-.5 1-.9 1-1.2 1-1.4 1-1.9 1-2.1 1-2 1-1.9 1-1.9 1-1.7 1-1.7 1-1.6 1-1.4 1-1 1-.8 1-.6 1-.4 1 .1" stroke="#e25734"/><path d="M394.8 571.7l1 .2 1 .2 1 .1 1 .2 1 .1 1 .2 1 .2 1 .1 1 .2 1 .1 1 .2 1 .2 1 .1 1 .2 1 .1 1 .1 1 0 1 .1 1 .1 1 .1 1 0 1 .1 1 .1 1 0 1 .1 1 .1 1 .1 1 0 1 .1 1 .1 1 .1 1 0 1 .1 1-.5 1-.4 1-.5 1-.4 1-.5 1-.4 1-.5 1-.4 1-.5 1-.4 1-.9 1-1.2 1-1.4 1-1.9 1-2.1 1-2 1-1.9 1-1.9 1-1.7 1-1.7 1-1.6 1-1.4 1-.9 1-.8 1-.6 1-.4 1 .1" stroke="#e75e2e"/><path d="M394.8 571.5l1 .2 1 .1 1 .2 1 .1 1 .2 1 .2 1 .1 1 .2 1 .2 1 .1 1 .2 1 .1 1 .2 1 .2 1 .1 1 .1 1 0 1 .1 1 .1 1 .1 1 0 1 .1 1 .1 1 .1 1 .1 1 0 1 .1 1 .1 1 .1 1 0 1 .1 1 .1 1 0 1-.4 1-.5 1-.4 1-.4 1-.5 1-.4 1-.4 1-.5 1-.4 1-.4 1-.9 1-1.2 1-1.4 1-2 1-2.1 1-1.9 1-1.9 1-1.9 1-1.7 1-1.7 1-1.5 1-1.4 1-.9 1-.8 1-.6 1-.4 1 .1" stroke="#eb6628"/><path d="M394.8 571.3l1 .1 1 .2 1 .1 1 .2 1 .2 1 .1 1 .2 1 .2 1 .1 1 .2 1 .2 1 .1 1 .2 1 .1 1 .2 1 .1 1 0 1 .1 1 .1 1 .1 1 .1 1 0 1 .1 1 .1 1 .1 1 .1 1 .1 1 0 1 .1 1 .1 1 .1 1 .1 1 0 1-.4 1-.5 1-.4 1-.4 1-.4 1-.5 1-.4 1-.4 1-.5 1-.4 1-.8 1-1.2 1-1.4 1-2 1-2.1 1-1.9 1-1.9 1-1.9 1-1.7 1-1.6 1-1.6 1-1.3 1-.9 1-.8 1-.6 1-.4 1 .1" stroke="#f06f20"/><path d="M394.8 571l1 .2 1 .1 1 .2 1 .2 1 .1 1 .2 1 .2 1 .1 1 .2 1 .2 1 .1 1 .2 1 .2 1 .1 1 .2 1 0 1 .1 1 .1 1 .1 1 .1 1 .1 1 .1 1 0 1 .1 1 .1 1 .1 1 .1 1 .1 1 .1 1 0 1 .1 1 .1 1 .1 1-.5 1-.4 1-.4 1-.4 1-.4 1-.4 1-.5 1-.4 1-.4 1-.4 1-.8 1-1.2 1-1.4 1-2 1-2.1 1-1.9 1-1.9 1-1.9 1-1.7 1-1.6 1-1.5 1-1.3 1-.9 1-.8 1-.6 1-.3 1 0" stroke="#f37819"/><path d="M394.8 570.7l1 .2 1 .2 1 .2 1 .1 1 .2 1 .2 1 .1 1 .2 1 .2 1 .1 1 .2 1 .2 1 .1 1 .2 1 .1 1 .1 1 .1 1 .1 1 .1 1 .1 1 .1 1 .1 1 .1 1 .1 1 0 1 .1 1 .1 1 .1 1 .1 1 .1 1 .1 1 .1 1 0 1-.4 1-.4 1-.4 1-.4 1-.4 1-.4 1-.4 1-.4 1-.4 1-.4 1-.8 1-1.2 1-1.4 1-2 1-2.1 1-1.9 1-2 1-1.8 1-1.7 1-1.6 1-1.5 1-1.3 1-.9 1-.7 1-.6 1-.3 1 0" stroke="#f68013"/><path d="M394.8 570.5l1 .2 1 .1 1 .2 1 .2 1 .1 1 .2 1 .2 1 .2 1 .1 1 .2 1 .2 1 .1 1 .2 1 .2 1 .1 1 .1 1 .1 1 .1 1 .1 1 .1 1 .1 1 .1 1 .1 1 .1 1 .1 1 .1 1 .1 1 .1 1 .1 1 0 1 .1 1 .1 1 .1 1-.4 1-.4 1-.4 1-.4 1-.4 1-.4 1-.4 1-.4 1-.4 1-.4 1-.8 1-1.1 1-1.4 1-2 1-2.1 1-2 1-1.9 1-1.8 1-1.6 1-1.6 1-1.5 1-1.3 1-.9 1-.7 1-.6 1-.3 1 0" stroke="#f8890c"/><path d="M394.8 570.2l1 .2 1 .2 1 .2 1 .1 1 .2 1 .2 1 .1 1 .2 1 .2 1 .2 1 .1 1 .2 1 .2 1 .2 1 .1 1 .1 1 .1 1 .1 1 .1 1 .1 1 .1 1 .1 1 .1 1 .1 1 .1 1 .1 1 .1 1 .1 1 .1 1 .1 1 .1 1 .1 1 0 1-.3 1-.4 1-.4 1-.4 1-.4 1-.4 1-.3 1-.4 1-.4 1-.4 1-.8 1-1.1 1-1.5 1-1.9 1-2.2 1-1.9 1-1.9 1-1.8 1-1.6 1-1.6 1-1.5 1-1.2 1-.9 1-.7 1-.6 1-.3 1 0" stroke="#fa9207"/><path d="M394.8 570l1 .1 1 .2 1 .2 1 .2 1 .2 1 .1 1 .2 1 .2 1 .2 1 .1 1 .2 1 .2 1 .2 1 .1 1 .2 1 .1 1 .1 1 .1 1 .1 1 .1 1 .1 1 .1 1 .1 1 .1 1 .1 1 .1 1 .1 1 .1 1 .1 1 .1 1 .1 1 .1 1 .1 1-.4 1-.3 1-.4 1-.4 1-.4 1-.3 1-.4 1-.4 1-.4 1-.3 1-.8 1-1.1 1-1.5 1-1.9 1-2.2 1-1.9 1-1.9 1-1.8 1-1.6 1-1.6 1-1.4 1-1.3 1-.8 1-.7 1-.5 1-.4 1 0" stroke="#fb9b06"/><path d="M394.8 569.7l1 .2 1 .2 1 .1 1 .2 1 .2 1 .2 1 .2 1 .1 1 .2 1 .2 1 .2 1 .2 1 .1 1 .2 1 .2 1 .1 1 .1 1 .1 1 .1 1 .1 1 .1 1 .1 1 .1 1 .1 1 .1 1 .2 1 .1 1 .1 1 .1 1 .1 1 .1 1 .1 1 .1 1-.4 1-.4 1-.3 1-.4 1-.4 1-.3 1-.4 1-.3 1-.4 1-.4 1-.7 1-1.2 1-1.4 1-2 1-2.1 1-1.9 1-1.9 1-1.8 1-1.6 1-1.5 1-1.5 1-1.2 1-.8 1-.7 1-.5 1-.4 1 0" stroke="#fca50a"/></g>
<g fill="none" stroke-width="1.80" stroke-linejoin="round"><path d="M394.8 576.6l1 .1 1 .1 1 .1 1 .1 1 .2 1 .1 1 .1 1 .1 1 .1 1 .1 1 .1 1 .1 1 .1 1 .1 1 .1 1 0 1 0 1 0 1 0 1-.1 1 0 1 0 1 0 1 0 1 0 1 0 1 0 1 0 1-.1 1 0 1 0 1 0 1-.1 1-.6 1-.7 1-.6 1-.7 1-.6 1-.6 1-.7 1-.6 1-.7 1-.6 1-1.1 1-1.4 1-1.5 1-1.8 1-1.9 1-2 1-2.1 1-2.1 1-2 1-2 1-2 1-1.7 1-1.2 1-1.1 1-.9 1-.4 1 .2 1 .7 1 .9 1 1 1 1.3 1 1.6 1 1.8 1 2.1 1 2.4 1 3.1 1 3.6 1 3.7 1 3.2 1 3.1 1 3 1 2.9 1 2.9 1 3.1 1 2.8 1 1.7 1 1.2 1 1.1 1 .9 1 .8 1 .7 1 .8 1 .7 1 .7 1 .6 1 .7 1 .5 1 .5 1 .4 1 .4 1 .4 1 .3 1 .4 1 .3 1 .3 1 .3 1 .3 1 .2 1 .2 1 .2 1 .2 1 .1 1 .2 1 .1 1 .1 1 .1 1 .1 1 0 1 .1 1 .1 1 0 1 .1 1 0 1 .1 1 0 1 .1 1 0 1 .1 1 0 1 .1 1 0 1 0 1 .1 1 0 1 0 1 0 1 .1 1 0 1 0 1 0 1 .1 1 0 1 0 1 0 1 .1 1 0 1 0 1 0 1 0 1 .1 1 0 1 0 1 0 1 0 1 .1 1 0 1 0 1 0 1 0 1 0 1 .1 1 0 1 0 1 0 1 0 1 0 1 0 1 0 1 .1 1 0 1 0 1 0 1 0 1 0 1 0 1 0 1 .1 1 0 1 0 1 0 1 0 1 0 1 0 1 0 1 0 1 .1 1 0 1 0 1 0 1 0 1 0 1 0 1 0 1 0 1 .1 1 0 1 0 1 0 1 0 1 0 1 0 1 0 1 0 1 .1 1 0 1 0 1 0 1 0 1 0 1 0 1 0 1 0 1 .1 1 0 1 0 1 0 1 0 1 0 1 0 1 0 1 0 1 0 1 .1 1 0 1 0 1 0 1 0 1 0 1 0 1 0 1 0 1 0 1 0 1 0 1 .1 1 0 1 0 1 0 1 0 1 0 1 0 1 0 1 0 1 0 1 0 1 0 1 0 1 .1 1 0 1 0 1 0 1 0 1 0 1 0 1 0 1 0 1 0 1 0 1 0 1 0 1 0 1 0 1 0 1 0 1 0 1 .1 1 0 1 0 1 0 1 0 1 0 1 0 1 0 1 0 1 0 1 0 1 0 1 0 1 0 1 0 1 0 1 0 1 0 1 0 1 0 1 0 1 0 -.2 0" stroke="#10092d"/><path d="M394.8 576.4l1 .1 1 .1 1 .1 1 .1 1 .1 1 .2 1 .1 1 .1 1 .1 1 .1 1 .1 1 .1 1 .1 1 .2 1 0 1 0 1 0 1 0 1 0 1 0 1 0 1 0 1 0 1-.1 1 0 1 0 1 0 1 0 1 0 1 0 1 0 1 0 1-.1 1-.6 1-.7 1-.6 1-.6 1-.7 1-.6 1-.6 1-.7 1-.6 1-.7 1-1 1-1.4 1-1.5 1-1.8 1-1.9 1-2 1-2.1 1-2.1 1-2 1-2 1-1.9 1-1.7 1-1.3 1-1 1-.9 1-.4 1 .2 1 .6 1 1 1 1 1 1.2 1 1.6 1 1.8 1 2.1 1 2.3 1 3.2 1 3.6 1 3.6 1 3.3 1 3.1 1 3 1 2.9 1 2.9 1 3.1 1 2.8 1 1.7 1 1.2 1 1.1 1 .9 1 .8 1 .7 1 .8 1 .7 1 .7 1 .6 1 .7 1 .5 1 .5 1 .4 1 .4 1 .4 1 .3 1 .4 1 .3 1 .3 1 .3 1 .3 1 .2 1 .2 1 .2 1 .2 1 .1 1 .2 1 .1 1 .1 1 .1 1 .1 1 0 1 .1 1 .1 1 0 1 .1 1 0 1 .1 1 0 1 .1 1 0 1 .1 1 0 1 .1 1 0 1 0 1 .1 1 0 1 0 1 0 1 .1 1 0 1 0 1 0 1 .1 1 0 1 0 1 0 1 .1 1 0 1 0 1 0 1 0 1 .1 1 0 1 0 1 0 1 0 1 .1 1 0 1 0 1 0 1 0 1 0 1 .1 1 0 1 0 1 0 1 0 1 0 1 0 1 0 1 .1 1 0 1 0 1 0 1 0 1 0 1 0 1 0 1 .1 1 0 1 0 1 0 1 0 1 0 1 0 1 0 1 0 1 .1 1 0 1 0 1 0 1 0 1 0 1 0 1 0 1 0 1 .1 1 0 1 0 1 0 1 0 1 0 1 0 1 0 1 0 1 .1 1 0 1 0 1 0 1 0 1 0 1 0 1 0 1 0 1 .1 1 0 1 0 1 0 1 0 1 0 1 0 1 0 1 0 1 0 1 .1 1 0 1 0 1 0 1 0 1 0 1 0 1 0 1 0 1 0 1 0 1 0 1 .1 1 0 1 0 1 0 1 0 1 0 1 0 1 0 1 0 1 0 1 0 1 0 1 0 1 .1 1 0 1 0 1 0 1 0 1 0 1 0 1 0 1 0 1 0 1 0 1 0 1 0 1 0 1 0 1 0 1 0 1 0 1 .1 1 0 1 0 1 0 1 0 1 0 1 0 1 0 1 0 1 0 1 0 1 0 1 0 1 0 1 0 1 0 1 0 1 0 1 0 1 0 1 0 1 0 -.2 0" stroke="#260c51"/><path d="M394.8 576l1 .2 1 .1 1 .1 1 .1 1 .1 1 .1 1 .2 1 .1 1 .1 1 .1 1 .1 1 .1 1 .1 1 .2 1 0 1 0 1 0 1 0 1 0 1 0 1 0 1 0 1 0 1 0 1 0 1 0 1 0 1 0 1 0 1 0 1 0 1 0 1-.1 1-.6 1-.6 1-.6 1-.7 1-.6 1-.6 1-.6 1-.7 1-.6 1-.6 1-1.1 1-1.3 1-1.5 1-1.8 1-2 1-1.9 1-2.1 1-2.1 1-2 1-1.9 1-2 1-1.6 1-1.2 1-1.1 1-.8 1-.4 1 .1 1 .7 1 .9 1 1 1 1.2 1 1.5 1 1.8 1 2.1 1 2.3 1 3.1 1 3.5 1 3.6 1 3.2 1 3 1 2.9 1 2.9 1 2.8 1 3.1 1 2.8 1 1.6 1 1.2 1 1 1 .9 1 .7 1 .7 1 .7 1 .7 1 .6 1 .6 1 .6 1 .5 1 .4 1 .3 1 .3 1 .2 1 .3 1 .2 1 .2 1 .1 1 .1 1 .1 1 .1 1 0 1 0 1 0 1-.1 1-.1 1-.1 1-.1 1-.1 1-.1 1-.2 1-.1 1-.1 1-.1 1 0 1 .1 1 .1 1 .2 1 .2 1 .3 1 .4 1 .4 1 .4 1 .4 1 .4 1 .4 1 .3 1 .3 1 .2 1 .2 1 .2 1 .2 1 .2 1 .1 1 .1 1 .2 1 .1 1 .1 1 .1 1 0 1 .1 1 .1 1 .1 1 0 1 .1 1 0 1 .1 1 0 1 0 1 .1 1 0 1 .1 1 0 1 0 1 .1 1 0 1 0 1 0 1 .1 1 0 1 0 1 0 1 0 1 .1 1 0 1 0 1 0 1 0 1 0 1 0 1 .1 1 0 1 0 1 0 1 0 1 0 1 0 1 0 1 .1 1 0 1 0 1 0 1 0 1 0 1 0 1 0 1 0 1 .1 1 0 1 0 1 0 1 0 1 0 1 0 1 0 1 0 1 .1 1 0 1 0 1 0 1 0 1 0 1 0 1 0 1 0 1 .1 1 0 1 0 1 0 1 0 1 0 1 0 1 0 1 0 1 0 1 .1 1 0 1 0 1 0 1 0 1 0 1 0 1 0 1 0 1 0 1 0 1 .1 1 0 1 0 1 0 1 0 1 0 1 0 1 0 1 0 1 0 1 0 1 0 1 0 1 .1 1 0 1 0 1 0 1 0 1 0 1 0 1 0 1 0 1 0 1 0 1 0 1 0 1 0 1 0 1 0 1 0 1 0 1 .1 1 0 1 0 1 0 1 0 1 0 1 0 1 0 1 0 1 0 1 0 1 0 1 0 1 0 1 0 1 0 1 0 1 0 1 0 1 0 1 0 1 0 1 0 -.2 0" stroke="#420a68"/><path d="M394.8 575.6l1 .1 1 .1 1 .2 1 .1 1 .1 1 .1 1 .2 1 .1 1 .1 1 .1 1 .1 1 .2 1 .1 1 .1 1 .1 1 0 1 0 1 0 1 0 1 0 1 0 1 0 1 0 1 0 1 0 1 0 1 0 1 0 1 0 1 .1 1 0 1 0 1-.1 1-.6 1-.6 1-.6 1-.6 1-.6 1-.6 1-.6 1-.6 1-.6 1-.7 1-1 1-1.3 1-1.5 1-1.8 1-2 1-2 1-2 1-2.1 1-1.9 1-2 1-1.9 1-1.6 1-1.2 1-1 1-.8 1-.4 1 .1 1 .6 1 .9 1 1 1 1.2 1 1.5 1 1.8 1 2 1 2.2 1 2.9 1 3.4 1 3.5 1 3.1 1 2.8 1 2.8 1 2.8 1 2.7 1 2.9 1 2.7 1 1.5 1 1.1 1 1 1 .8 1 .7 1 .6 1 .5 1 .6 1 .5 1 .5 1 .4 1 .4 1 .2 1 .1 1 .1 1 0 1 0 1-.1 1-.1 1-.2 1-.2 1-.3 1-.3 1-.4 1-.4 1-.5 1-.5 1-.5 1-.5 1-.6 1-.5 1-.6 1-.5 1-.5 1-.6 1-.3 1-.2 1 0 1 .3 1 .5 1 .6 1 .9 1 1.1 1 1.2 1 1.3 1 1.1 1 1.1 1 1 1 .9 1 .8 1 .7 1 .6 1 .5 1 .5 1 .5 1 .4 1 .4 1 .3 1 .3 1 .2 1 .3 1 .2 1 .2 1 .2 1 .1 1 .1 1 .2 1 .1 1 .1 1 .1 1 .1 1 .1 1 0 1 .1 1 .1 1 .1 1 0 1 .1 1 0 1 .1 1 0 1 .1 1 0 1 0 1 .1 1 0 1 0 1 0 1 .1 1 0 1 0 1 0 1 0 1 0 1 .1 1 0 1 0 1 0 1 0 1 0 1 0 1 .1 1 0 1 0 1 0 1 0 1 0 1 0 1 0 1 .1 1 0 1 0 1 0 1 0 1 0 1 0 1 0 1 .1 1 0 1 0 1 0 1 0 1 0 1 0 1 0 1 0 1 0 1 .1 1 0 1 0 1 0 1 0 1 0 1 0 1 0 1 0 1 .1 1 0 1 0 1 0 1 0 1 0 1 0 1 0 1 0 1 0 1 0 1 .1 1 0 1 0 1 0 1 0 1 0 1 0 1 0 1 0 1 0 1 0 1 0 1 0 1 .1 1 0 1 0 1 0 1 0 1 0 1 0 1 0 1 0 1 0 1 0 1 0 1 0 1 0 1 0 1 0 1 .1 1 0 1 0 1 0 1 0 1 0 1 0 1 0 1 0 1 0 1 0 1 0 1 0 1 0 1 0 1 0 1 0 1 0 1 0 1 0 1 0 1 0 1 0 1 0 1 0 1 0 -.2 0" stroke="#5a116e"/><path d="M394.8 575.1l1 .1 1 .2 1 .1 1 .1 1 .1 1 .2 1 .1 1 .1 1 .1 1 .2 1 .1 1 .1 1 .1 1 .2 1 0 1 .1 1 0 1 0 1 0 1 0 1 0 1 0 1 .1 1 0 1 0 1 0 1 0 1 0 1 0 1 .1 1 0 1 0 1-.1 1-.5 1-.6 1-.6 1-.6 1-.6 1-.6 1-.6 1-.5 1-.6 1-.6 1-1 1-1.3 1-1.5 1-1.9 1-1.9 1-2 1-2.1 1-2 1-1.9 1-1.9 1-1.9 1-1.6 1-1.1 1-1 1-.8 1-.4 1 .1 1 .6 1 .9 1 .9 1 1.2 1 1.5 1 1.7 1 1.9 1 2.2 1 2.8 1 3.2 1 3.3 1 2.9 1 2.7 1 2.7 1 2.5 1 2.6 1 2.8 1 2.5 1 1.4 1 1.1 1 .9 1 .7 1 .6 1 .5 1 .4 1 .5 1 .4 1 .3 1 .3 1 .1 1 .1 1-.2 1-.2 1-.2 1-.4 1-.3 1-.5 1-.5 1-.7 1-.7 1-.8 1-.9 1-.9 1-1 1-.9 1-1 1-1.1 1-1 1-1.1 1-1 1-1.1 1-1 1-1 1-.8 1-.4 1 .1 1 .5 1 .8 1 1.1 1 1.5 1 2 1 2.2 1 2.2 1 2 1 1.9 1 1.8 1 1.6 1 1.4 1 1.2 1 1.1 1 .9 1 .9 1 .8 1 .7 1 .7 1 .5 1 .5 1 .5 1 .4 1 .3 1 .4 1 .3 1 .2 1 .2 1 .2 1 .2 1 .2 1 .2 1 .1 1 .2 1 .1 1 .1 1 .1 1 .1 1 .1 1 .1 1 .1 1 .1 1 .1 1 0 1 .1 1 0 1 .1 1 0 1 .1 1 0 1 0 1 0 1 0 1 .1 1 0 1 0 1 0 1 0 1 .1 1 0 1 0 1 0 1 0 1 0 1 .1 1 0 1 0 1 0 1 0 1 0 1 0 1 .1 1 0 1 0 1 0 1 0 1 0 1 0 1 0 1 .1 1 0 1 0 1 0 1 0 1 0 1 0 1 0 1 0 1 .1 1 0 1 0 1 0 1 0 1 0 1 0 1 0 1 0 1 0 1 .1 1 0 1 0 1 0 1 0 1 0 1 0 1 0 1 0 1 0 1 .1 1 0 1 0 1 0 1 0 1 0 1 0 1 0 1 0 1 0 1 0 1 0 1 .1 1 0 1 0 1 0 1 0 1 0 1 0 1 0 1 0 1 0 1 0 1 0 1 0 1 0 1 0 1 .1 1 0 1 0 1 0 1 0 1 0 1 0 1 0 1 0 1 0 1 0 1 0 1 0 1 0 1 0 1 0 1 0 1 0 1 0 1 0 1 0 1 0 1 0 1 0 1 0 1 0 1 0 1 0 1 0 -.2 0" stroke="#721a6e"/><path d="M394.8 574.6l1 .1 1 .1 1 .2 1 .1 1 .1 1 .2 1 .1 1 .1 1 .1 1 .2 1 .1 1 .1 1 .2 1 .1 1 .1 1 0 1 0 1 .1 1 0 1 0 1 0 1 0 1 .1 1 0 1 0 1 0 1 .1 1 0 1 0 1 0 1 .1 1 0 1 0 1-.6 1-.6 1-.5 1-.6 1-.6 1-.5 1-.6 1-.6 1-.5 1-.6 1-1 1-1.3 1-1.4 1-1.9 1-2 1-2 1-2 1-2 1-1.9 1-1.8 1-1.9 1-1.5 1-1.1 1-1 1-.8 1-.4 1 .2 1 .5 1 .8 1 .9 1 1.2 1 1.4 1 1.7 1 1.9 1 2.1 1 2.6 1 3 1 3 1 2.7 1 2.5 1 2.5 1 2.4 1 2.3 1 2.7 1 2.3 1 1.3 1 1 1 .8 1 .6 1 .4 1 .4 1 .3 1 .3 1 .2 1 .2 1 0 1 0 1-.3 1-.4 1-.5 1-.7 1-.7 1-.8 1-.9 1-1 1-1.2 1-1.3 1-1.4 1-1.5 1-1.6 1-1.5 1-1.6 1-1.7 1-1.7 1-1.7 1-1.7 1-1.7 1-1.7 1-1.6 1-1.7 1-1.3 1-.7 1 .1 1 .8 1 1.2 1 1.7 1 2.4 1 3.1 1 3.5 1 3.5 1 3.1 1 3 1 2.7 1 2.5 1 2.2 1 1.9 1 1.6 1 1.5 1 1.4 1 1.2 1 1.1 1 1 1 .9 1 .7 1 .7 1 .6 1 .6 1 .5 1 .5 1 .4 1 .3 1 .3 1 .3 1 .2 1 .3 1 .2 1 .2 1 .2 1 .2 1 .2 1 .1 1 .2 1 .1 1 .1 1 .1 1 .1 1 .1 1 .1 1 .1 1 .1 1 0 1 .1 1 0 1 0 1 .1 1 0 1 0 1 0 1 .1 1 0 1 0 1 0 1 0 1 .1 1 0 1 0 1 0 1 0 1 .1 1 0 1 0 1 0 1 0 1 0 1 0 1 .1 1 0 1 0 1 0 1 0 1 0 1 0 1 .1 1 0 1 0 1 0 1 0 1 0 1 0 1 0 1 0 1 .1 1 0 1 0 1 0 1 0 1 0 1 0 1 0 1 0 1 .1 1 0 1 0 1 0 1 0 1 0 1 0 1 0 1 0 1 0 1 .1 1 0 1 0 1 0 1 0 1 0 1 0 1 0 1 0 1 0 1 0 1 .1 1 0 1 0 1 0 1 0 1 0 1 0 1 0 1 0 1 0 1 0 1 0 1 0 1 .1 1 0 1 0 1 0 1 0 1 0 1 0 1 0 1 0 1 0 1 0 1 0 1 0 1 0 1 0 1 0 1 0 1 0 1 0 1 0 1 0 1 0 1 0 1 .1 1 0 1 0 1 0 1 0 1 0 1 0 1 0 1 0 1 0 -.2 0" stroke="#8c2369"/><path d="M394.8 574l1 .1 1 .2 1 .1 1 .1 1 .2 1 .1 1 .1 1 .2 1 .1 1 .2 1 .1 1 .1 1 .2 1 .1 1 .1 1 0 1 .1 1 0 1 0 1 .1 1 0 1 0 1 .1 1 0 1 0 1 .1 1 0 1 0 1 .1 1 0 1 0 1 .1 1-.1 1-.5 1-.5 1-.6 1-.5 1-.6 1-.5 1-.5 1-.6 1-.5 1-.5 1-1 1-1.3 1-1.4 1-1.9 1-2 1-2 1-2 1-2 1-1.8 1-1.9 1-1.7 1-1.6 1-1 1-1 1-.7 1-.4 1 .1 1 .5 1 .8 1 .9 1 1.1 1 1.4 1 1.7 1 1.8 1 2 1 2.5 1 2.7 1 2.8 1 2.5 1 2.3 1 2.2 1 2.2 1 2.2 1 2.4 1 2.2 1 1.2 1 .9 1 .7 1 .5 1 .3 1 .2 1 .2 1 .1 1 0 1 0 1-.1 1-.3 1-.5 1-.7 1-.9 1-1 1-1.1 1-1.2 1-1.3 1-1.5 1-1.7 1-1.9 1-2 1-2.2 1-2.2 1-2.2 1-2.2 1-2.3 1-2.3 1-2.4 1-2.4 1-2.3 1-2.3 1-2.3 1-2.3 1-1.9 1-.9 1 .1 1 1 1 1.7 1 2.2 1 3.2 1 4.3 1 4.9 1 4.8 1 4.2 1 4 1 3.7 1 3.4 1 3 1 2.5 1 2.2 1 2 1 1.9 1 1.7 1 1.5 1 1.3 1 1.2 1 1 1 .9 1 .8 1 .8 1 .7 1 .6 1 .5 1 .5 1 .4 1 .3 1 .4 1 .3 1 .3 1 .3 1 .3 1 .2 1 .2 1 .2 1 .2 1 .2 1 .2 1 .1 1 .1 1 .2 1 .1 1 .1 1 .1 1 0 1 .1 1 0 1 .1 1 0 1 0 1 .1 1 0 1 0 1 0 1 .1 1 0 1 0 1 0 1 .1 1 0 1 0 1 0 1 0 1 .1 1 0 1 0 1 0 1 0 1 0 1 .1 1 0 1 0 1 0 1 0 1 0 1 0 1 .1 1 0 1 0 1 0 1 0 1 0 1 0 1 0 1 .1 1 0 1 0 1 0 1 0 1 0 1 0 1 0 1 0 1 .1 1 0 1 0 1 0 1 0 1 0 1 0 1 0 1 0 1 .1 1 0 1 0 1 0 1 0 1 0 1 0 1 0 1 0 1 0 1 0 1 .1 1 0 1 0 1 0 1 0 1 0 1 0 1 0 1 0 1 0 1 0 1 0 1 0 1 .1 1 0 1 0 1 0 1 0 1 0 1 0 1 0 1 0 1 0 1 0 1 0 1 0 1 0 1 0 1 0 1 0 1 0 1 .1 1 0 1 0 1 0 1 0 1 0 1 0 1 0 1 0 1 0 1 0 1 0 1 0 1 0 1 0 1 0 1 0 -.2 0" stroke="#a32c61"/><path d="M394.8 573.4l1 .1 1 .1 1 .2 1 .1 1 .2 1 .1 1 .2 1 .1 1 .1 1 .2 1 .1 1 .2 1 .1 1 .2 1 0 1 .1 1 0 1 .1 1 0 1 .1 1 0 1 .1 1 0 1 .1 1 0 1 0 1 .1 1 0 1 .1 1 0 1 .1 1 0 1 0 1-.5 1-.5 1-.5 1-.5 1-.6 1-.5 1-.5 1-.5 1-.5 1-.5 1-1 1-1.2 1-1.5 1-1.9 1-2 1-1.9 1-2 1-2 1-1.8 1-1.8 1-1.7 1-1.5 1-1 1-.9 1-.7 1-.4 1 .1 1 .5 1 .7 1 .8 1 1.1 1 1.4 1 1.6 1 1.8 1 1.9 1 2.3 1 2.5 1 2.6 1 2.2 1 2.1 1 2.1 1 2 1 2 1 2.2 1 1.9 1 1.2 1 .8 1 .6 1 .4 1 .2 1 .1 1 0 1 0 1-.2 1-.1 1-.3 1-.5 1-.8 1-1 1-1.2 1-1.4 1-1.5 1-1.6 1-1.7 1-2 1-2.2 1-2.4 1-2.7 1-2.7 1-2.8 1-2.9 1-2.8 1-2.9 1-3 1-3 1-3 1-3 1-2.8 1-3 1-2.9 1-2.5 1-1.3 1 .2 1 1.3 1 2.1 1 2.7 1 3.9 1 5.6 1 6.3 1 6 1 5.3 1 5 1 4.7 1 4.3 1 3.7 1 3.1 1 2.8 1 2.6 1 2.3 1 2.1 1 1.9 1 1.7 1 1.4 1 1.3 1 1.1 1 1 1 1 1 .8 1 .8 1 .7 1 .5 1 .5 1 .5 1 .4 1 .4 1 .4 1 .4 1 .3 1 .3 1 .3 1 .3 1 .2 1 .2 1 .2 1 .2 1 .1 1 .2 1 .1 1 .2 1 .1 1 .1 1 0 1 .1 1 0 1 0 1 .1 1 0 1 0 1 .1 1 0 1 0 1 .1 1 0 1 0 1 0 1 .1 1 0 1 0 1 0 1 0 1 .1 1 0 1 0 1 0 1 0 1 .1 1 0 1 0 1 0 1 0 1 0 1 0 1 .1 1 0 1 0 1 0 1 0 1 0 1 0 1 0 1 .1 1 0 1 0 1 0 1 0 1 0 1 0 1 0 1 .1 1 0 1 0 1 0 1 0 1 0 1 0 1 0 1 0 1 .1 1 0 1 0 1 0 1 0 1 0 1 0 1 0 1 0 1 0 1 .1 1 0 1 0 1 0 1 0 1 0 1 0 1 0 1 0 1 0 1 0 1 0 1 .1 1 0 1 0 1 0 1 0 1 0 1 0 1 0 1 0 1 0 1 0 1 0 1 0 1 0 1 0 1 0 1 .1 1 0 1 0 1 0 1 0 1 0 1 0 1 0 1 0 1 0 1 0 1 0 1 0 1 0 1 0 1 0 1 0 1 0 1 0 1 0 1 0 1 0 -.2 0" stroke="#bc3754"/><path d="M394.8 572.7l1 .1 1 .2 1 .1 1 .2 1 .1 1 .2 1 .1 1 .2 1 .1 1 .2 1 .1 1 .2 1 .1 1 .2 1 .1 1 0 1 .1 1 .1 1 0 1 .1 1 0 1 .1 1 0 1 .1 1 .1 1 0 1 .1 1 0 1 .1 1 0 1 .1 1 .1 1 0 1-.5 1-.5 1-.5 1-.5 1-.5 1-.5 1-.4 1-.5 1-.5 1-.5 1-.9 1-1.2 1-1.5 1-1.9 1-2.1 1-1.9 1-2 1-1.9 1-1.8 1-1.7 1-1.7 1-1.4 1-1 1-.9 1-.6 1-.4 1 .1 1 .4 1 .7 1 .8 1 1 1 1.4 1 1.6 1 1.7 1 1.8 1 2.1 1 2.3 1 2.3 1 2 1 1.9 1 1.9 1 1.8 1 1.8 1 2 1 1.7 1 1.1 1 .8 1 .5 1 .3 1 .1 1-.1 1-.1 1-.3 1-.3 1-.3 1-.5 1-.7 1-1 1-1.3 1-1.6 1-1.8 1-1.9 1-2 1-2.1 1-2.4 1-2.8 1-3 1-3.3 1-3.4 1-3.4 1-3.5 1-3.4 1-3.5 1-3.7 1-3.7 1-3.7 1-3.6 1-3.5 1-3.5 1-3.8 1-3.1 1-1.6 1 .3 1 1.7 1 2.5 1 3.2 1 4.6 1 6.9 1 7.9 1 7.3 1 6.3 1 6.1 1 5.7 1 5.2 1 4.5 1 3.7 1 3.4 1 3 1 2.9 1 2.5 1 2.3 1 2.1 1 1.7 1 1.5 1 1.4 1 1.2 1 1.2 1 1 1 .9 1 .8 1 .7 1 .6 1 .5 1 .6 1 .5 1 .4 1 .4 1 .4 1 .4 1 .3 1 .4 1 .2 1 .3 1 .2 1 .2 1 .2 1 .2 1 .2 1 .1 1 .2 1 .1 1 0 1 .1 1 0 1 .1 1 0 1 0 1 .1 1 0 1 .1 1 0 1 0 1 .1 1 0 1 0 1 0 1 .1 1 0 1 0 1 0 1 .1 1 0 1 0 1 0 1 0 1 .1 1 0 1 0 1 0 1 0 1 0 1 0 1 .1 1 0 1 0 1 0 1 0 1 0 1 0 1 .1 1 0 1 0 1 0 1 0 1 0 1 0 1 0 1 .1 1 0 1 0 1 0 1 0 1 0 1 0 1 0 1 0 1 .1 1 0 1 0 1 0 1 0 1 0 1 0 1 0 1 0 1 0 1 .1 1 0 1 0 1 0 1 0 1 0 1 0 1 0 1 0 1 0 1 0 1 .1 1 0 1 0 1 0 1 0 1 0 1 0 1 0 1 0 1 0 1 0 1 0 1 0 1 0 1 .1 1 0 1 0 1 0 1 0 1 0 1 0 1 0 1 0 1 0 1 0 1 0 1 0 1 0 1 0 1 0 1 0 1 0 1 0 1 0 1 0 1 0 1 0 1 0 1 0 1 0 -.2 0" stroke="#d04545"/><path d="M394.8 572l1 .1 1 .2 1 .2 1 .1 1 .2 1 .1 1 .2 1 .1 1 .2 1 .2 1 .1 1 .2 1 .1 1 .2 1 .1 1 .1 1 0 1 .1 1 .1 1 0 1 .1 1 .1 1 0 1 .1 1 .1 1 .1 1 0 1 .1 1 .1 1 0 1 .1 1 .1 1 0 1-.5 1-.4 1-.5 1-.4 1-.5 1-.5 1-.4 1-.5 1-.4 1-.5 1-.9 1-1.2 1-1.4 1-1.9 1-2.1 1-2 1-1.9 1-1.9 1-1.7 1-1.7 1-1.6 1-1.4 1-1 1-.8 1-.6 1-.4 1 .1 1 .4 1 .6 1 .8 1 .9 1 1.4 1 1.6 1 1.6 1 1.7 1 1.9 1 2.1 1 2.1 1 1.8 1 1.7 1 1.7 1 1.7 1 1.7 1 1.7 1 1.5 1 1.1 1 .7 1 .4 1 .2 1 0 1-.2 1-.3 1-.4 1-.4 1-.5 1-.6 1-.9 1-1.3 1-1.6 1-1.9 1-2.1 1-2.3 1-2.4 1-2.5 1-2.8 1-3.2 1-3.6 1-3.8 1-4 1-4 1-4.1 1-3.9 1-4.1 1-4.3 1-4.3 1-4.3 1-4.2 1-4 1-4 1-4.5 1-3.8 1-1.9 1 .5 1 1.9 1 3 1 3.6 1 5.2 1 8.1 1 9.4 1 8.4 1 7.2 1 7 1 6.7 1 6.1 1 5.2 1 4.2 1 3.8 1 3.6 1 3.3 1 3 1 2.6 1 2.3 1 2 1 1.8 1 1.5 1 1.5 1 1.3 1 1.2 1 1.1 1 .9 1 .8 1 .7 1 .6 1 .6 1 .6 1 .5 1 .5 1 .4 1 .5 1 .3 1 .4 1 .3 1 .3 1 .3 1 .2 1 .2 1 .3 1 .2 1 .1 1 .2 1 .1 1 .1 1 0 1 .1 1 0 1 .1 1 0 1 0 1 .1 1 0 1 .1 1 0 1 0 1 .1 1 0 1 0 1 0 1 .1 1 0 1 0 1 0 1 .1 1 0 1 0 1 0 1 0 1 .1 1 0 1 0 1 0 1 0 1 0 1 .1 1 0 1 0 1 0 1 0 1 0 1 0 1 .1 1 0 1 0 1 0 1 0 1 0 1 0 1 0 1 .1 1 0 1 0 1 0 1 0 1 0 1 0 1 0 1 .1 1 0 1 0 1 0 1 0 1 0 1 0 1 0 1 0 1 0 1 .1 1 0 1 0 1 0 1 0 1 0 1 0 1 0 1 0 1 0 1 .1 1 0 1 0 1 0 1 0 1 0 1 0 1 0 1 0 1 0 1 0 1 0 1 0 1 .1 1 0 1 0 1 0 1 0 1 0 1 0 1 0 1 0 1 0 1 0 1 0 1 0 1 0 1 0 1 0 1 0 1 0 1 0 1 0 1 0 1 0 1 0 1 0 1 0 1 0 1 0 1 0 1 0 -.2 0" stroke="#e25734"/><path d="M394.8 571.3l1 .1 1 .2 1 .1 1 .2 1 .2 1 .1 1 .2 1 .2 1 .1 1 .2 1 .2 1 .1 1 .2 1 .1 1 .2 1 .1 1 0 1 .1 1 .1 1 .1 1 .1 1 0 1 .1 1 .1 1 .1 1 .1 1 .1 1 0 1 .1 1 .1 1 .1 1 .1 1 0 1-.4 1-.5 1-.4 1-.4 1-.4 1-.5 1-.4 1-.4 1-.5 1-.4 1-.8 1-1.2 1-1.4 1-2 1-2.1 1-1.9 1-1.9 1-1.9 1-1.7 1-1.6 1-1.6 1-1.3 1-.9 1-.8 1-.6 1-.4 1 .1 1 .4 1 .6 1 .7 1 .9 1 1.3 1 1.5 1 1.6 1 1.6 1 1.8 1 1.8 1 1.9 1 1.7 1 1.5 1 1.5 1 1.5 1 1.6 1 1.5 1 1.3 1 1 1 .7 1 .3 1 .1 1-.2 1-.2 1-.5 1-.5 1-.6 1-.7 1-.7 1-1.1 1-1.5 1-1.9 1-2.2 1-2.4 1-2.6 1-2.8 1-2.8 1-3.3 1-3.6 1-4.1 1-4.4 1-4.5 1-4.6 1-4.6 1-4.5 1-4.7 1-4.8 1-4.9 1-4.9 1-4.8 1-4.4 1-4.7 1-5.1 1-4.3 1-2.2 1 .6 1 2.2 1 3.3 1 4.1 1 5.8 1 9.3 1 10.6 1 9.6 1 8.1 1 7.9 1 7.6 1 6.9 1 5.8 1 4.8 1 4.4 1 4 1 3.7 1 3.4 1 3 1 2.6 1 2.2 1 2 1 1.8 1 1.6 1 1.5 1 1.4 1 1.1 1 1.1 1 .9 1 .7 1 .8 1 .6 1 .7 1 .6 1 .5 1 .5 1 .5 1 .5 1 .4 1 .3 1 .3 1 .3 1 .3 1 .3 1 .2 1 .2 1 .2 1 .2 1 .1 1 .1 1 .1 1 0 1 .1 1 0 1 .1 1 0 1 0 1 .1 1 0 1 .1 1 0 1 0 1 .1 1 0 1 0 1 .1 1 0 1 0 1 0 1 .1 1 0 1 0 1 0 1 0 1 .1 1 0 1 0 1 0 1 0 1 .1 1 0 1 0 1 0 1 0 1 0 1 0 1 0 1 .1 1 0 1 0 1 0 1 0 1 0 1 0 1 .1 1 0 1 0 1 0 1 0 1 0 1 0 1 0 1 0 1 .1 1 0 1 0 1 0 1 0 1 0 1 0 1 0 1 0 1 .1 1 0 1 0 1 0 1 0 1 0 1 0 1 0 1 0 1 0 1 .1 1 0 1 0 1 0 1 0 1 0 1 0 1 0 1 0 1 0 1 0 1 0 1 .1 1 0 1 0 1 0 1 0 1 0 1 0 1 0 1 0 1 0 1 0 1 0 1 0 1 0 1 0 1 0 1 0 1 0 1 0 1 .1 1 0 1 0 1 0 1 0 1 0 1 0 1 0 1 0 1 0 1 0 1 0 -.2 0" stroke="#f06f20"/><path d="M394.8 570.5l1 .2 1 .1 1 .2 1 .2 1 .1 1 .2 1 .2 1 .2 1 .1 1 .2 1 .2 1 .1 1 .2 1 .2 1 .1 1 .1 1 .1 1 .1 1 .1 1 .1 1 .1 1 .1 1 .1 1 .1 1 .1 1 .1 1 .1 1 .1 1 .1 1 0 1 .1 1 .1 1 .1 1-.4 1-.4 1-.4 1-.4 1-.4 1-.4 1-.4 1-.4 1-.4 1-.4 1-.8 1-1.1 1-1.4 1-2 1-2.1 1-2 1-1.9 1-1.8 1-1.6 1-1.6 1-1.5 1-1.3 1-.9 1-.7 1-.6 1-.3 1 0 1 .3 1 .6 1 .7 1 .8 1 1.3 1 1.5 1 1.5 1 1.5 1 1.6 1 1.7 1 1.7 1 1.5 1 1.5 1 1.3 1 1.4 1 1.4 1 1.4 1 1.2 1 .9 1 .6 1 .3 1 0 1-.3 1-.3 1-.6 1-.6 1-.7 1-.9 1-.8 1-1.2 1-1.7 1-2.1 1-2.5 1-2.7 1-2.9 1-3.1 1-3.1 1-3.6 1-4 1-4.5 1-4.8 1-5 1-5.1 1-5 1-5 1-5.1 1-5.3 1-5.4 1-5.4 1-5.2 1-4.9 1-5 1-5.6 1-4.8 1-2.4 1 .6 1 2.4 1 3.7 1 4.4 1 6.4 1 10.2 1 11.6 1 10.5 1 8.8 1 8.8 1 8.3 1 7.5 1 6.4 1 5.2 1 4.8 1 4.4 1 4 1 3.7 1 3.3 1 2.9 1 2.5 1 2.1 1 1.9 1 1.8 1 1.7 1 1.4 1 1.3 1 1.2 1 1 1 .8 1 .8 1 .7 1 .7 1 .7 1 .6 1 .5 1 .5 1 .5 1 .5 1 .4 1 .3 1 .3 1 .3 1 .3 1 .3 1 .2 1 .2 1 .2 1 .1 1 .1 1 .1 1 .1 1 0 1 .1 1 0 1 .1 1 0 1 .1 1 0 1 0 1 .1 1 0 1 0 1 .1 1 0 1 0 1 .1 1 0 1 0 1 .1 1 0 1 0 1 0 1 0 1 .1 1 0 1 0 1 0 1 0 1 .1 1 0 1 0 1 0 1 0 1 0 1 0 1 .1 1 0 1 0 1 0 1 0 1 0 1 0 1 0 1 .1 1 0 1 0 1 0 1 0 1 0 1 0 1 0 1 .1 1 0 1 0 1 0 1 0 1 0 1 0 1 0 1 0 1 .1 1 0 1 0 1 0 1 0 1 0 1 0 1 0 1 0 1 .1 1 0 1 0 1 0 1 0 1 0 1 0 1 0 1 0 1 0 1 0 1 0 1 .1 1 0 1 0 1 0 1 0 1 0 1 0 1 0 1 0 1 0 1 0 1 0 1 0 1 0 1 0 1 0 1 0 1 .1 1 0 1 0 1 0 1 0 1 0 1 0 1 0 1 0 1 0 1 0 1 0 1 0 1 0 1 0 1 0 -.2 0" stroke="#f8890c"/><path d="M394.8 569.7l1 .2 1 .2 1 .1 1 .2 1 .2 1 .2 1 .2 1 .1 1 .2 1 .2 1 .2 1 .2 1 .1 1 .2 1 .2 1 .1 1 .1 1 .1 1 .1 1 .1 1 .1 1 .1 1 .1 1 .1 1 .1 1 .2 1 .1 1 .1 1 .1 1 .1 1 .1 1 .1 1 .1 1-.4 1-.4 1-.3 1-.4 1-.4 1-.3 1-.4 1-.3 1-.4 1-.4 1-.7 1-1.2 1-1.4 1-2 1-2.1 1-1.9 1-1.9 1-1.8 1-1.6 1-1.5 1-1.5 1-1.2 1-.8 1-.7 1-.5 1-.4 1 0 1 .3 1 .6 1 .6 1 .8 1 1.2 1 1.4 1 1.5 1 1.4 1 1.5 1 1.5 1 1.5 1 1.4 1 1.3 1 1.2 1 1.3 1 1.2 1 1.2 1 1.1 1 .8 1 .6 1 .2 1-.1 1-.3 1-.5 1-.6 1-.8 1-.9 1-.9 1-1 1-1.4 1-1.9 1-2.3 1-2.7 1-3 1-3.2 1-3.4 1-3.4 1-3.9 1-4.5 1-4.9 1-5.2 1-5.5 1-5.5 1-5.5 1-5.4 1-5.6 1-5.8 1-5.9 1-5.9 1-5.6 1-5.4 1-5.5 1-6.1 1-5.2 1-2.6 1 .6 1 2.7 1 4 1 4.8 1 6.9 1 11.1 1 12.7 1 11.4 1 9.6 1 9.5 1 9 1 8.2 1 7 1 5.7 1 5.2 1 4.8 1 4.4 1 4 1 3.6 1 3.1 1 2.7 1 2.3 1 2.2 1 1.9 1 1.8 1 1.6 1 1.4 1 1.3 1 1 1 .9 1 .9 1 .8 1 .7 1 .7 1 .7 1 .6 1 .6 1 .5 1 .5 1 .4 1 .4 1 .3 1 .4 1 .3 1 .2 1 .3 1 .2 1 .2 1 .2 1 .1 1 .1 1 0 1 .1 1 0 1 .1 1 0 1 .1 1 0 1 .1 1 0 1 .1 1 0 1 0 1 .1 1 0 1 0 1 .1 1 0 1 0 1 0 1 .1 1 0 1 0 1 0 1 .1 1 0 1 0 1 0 1 0 1 .1 1 0 1 0 1 0 1 0 1 0 1 0 1 .1 1 0 1 0 1 0 1 0 1 0 1 0 1 .1 1 0 1 0 1 0 1 0 1 0 1 0 1 0 1 .1 1 0 1 0 1 0 1 0 1 0 1 0 1 0 1 0 1 .1 1 0 1 0 1 0 1 0 1 0 1 0 1 0 1 0 1 .1 1 0 1 0 1 0 1 0 1 0 1 0 1 0 1 0 1 0 1 0 1 .1 1 0 1 0 1 0 1 0 1 0 1 0 1 0 1 0 1 0 1 0 1 0 1 0 1 0 1 0 1 .1 1 0 1 0 1 0 1 0 1 0 1 0 1 0 1 0 1 0 1 0 1 0 1 0 1 0 1 0 1 0 1 0 1 0 1 0 1 0 -.2 0" stroke="#fca50a"/></g>
<rect x="394.2" y="427.0" width="281.0" height="183.2" fill="none" stroke="#000" stroke-width="1.4"/>
<line x1="417.6" y1="610.2" x2="417.6" y2="606.2" stroke="#000" stroke-width="1.2"/>
<line x1="417.6" y1="427.0" x2="417.6" y2="431.0" stroke="#000" stroke-width="1.2"/>
<line x1="441.0" y1="610.2" x2="441.0" y2="606.2" stroke="#000" stroke-width="1.2"/>
<line x1="441.0" y1="427.0" x2="441.0" y2="431.0" stroke="#000" stroke-width="1.2"/>
<line x1="464.4" y1="610.2" x2="464.4" y2="606.2" stroke="#000" stroke-width="1.2"/>
<line x1="464.4" y1="427.0" x2="464.4" y2="431.0" stroke="#000" stroke-width="1.2"/>
<line x1="487.9" y1="610.2" x2="487.9" y2="606.2" stroke="#000" stroke-width="1.2"/>
<line x1="487.9" y1="427.0" x2="487.9" y2="431.0" stroke="#000" stroke-width="1.2"/>
<line x1="511.3" y1="610.2" x2="511.3" y2="606.2" stroke="#000" stroke-width="1.2"/>
<line x1="511.3" y1="427.0" x2="511.3" y2="431.0" stroke="#000" stroke-width="1.2"/>
<line x1="534.7" y1="610.2" x2="534.7" y2="606.2" stroke="#000" stroke-width="1.2"/>
<line x1="534.7" y1="427.0" x2="534.7" y2="431.0" stroke="#000" stroke-width="1.2"/>
<line x1="558.1" y1="610.2" x2="558.1" y2="606.2" stroke="#000" stroke-width="1.2"/>
<line x1="558.1" y1="427.0" x2="558.1" y2="431.0" stroke="#000" stroke-width="1.2"/>
<line x1="581.5" y1="610.2" x2="581.5" y2="606.2" stroke="#000" stroke-width="1.2"/>
<line x1="581.5" y1="427.0" x2="581.5" y2="431.0" stroke="#000" stroke-width="1.2"/>
<line x1="605.0" y1="610.2" x2="605.0" y2="606.2" stroke="#000" stroke-width="1.2"/>
<line x1="605.0" y1="427.0" x2="605.0" y2="431.0" stroke="#000" stroke-width="1.2"/>
<line x1="628.4" y1="610.2" x2="628.4" y2="606.2" stroke="#000" stroke-width="1.2"/>
<line x1="628.4" y1="427.0" x2="628.4" y2="431.0" stroke="#000" stroke-width="1.2"/>
<line x1="651.8" y1="610.2" x2="651.8" y2="606.2" stroke="#000" stroke-width="1.2"/>
<line x1="651.8" y1="427.0" x2="651.8" y2="431.0" stroke="#000" stroke-width="1.2"/>
<line x1="394.2" y1="610.2" x2="398.7" y2="610.2" stroke="#000" stroke-width="1.2"/>
<line x1="675.2" y1="610.2" x2="670.7" y2="610.2" stroke="#000" stroke-width="1.2"/>
<line x1="394.2" y1="579.7" x2="398.7" y2="579.7" stroke="#000" stroke-width="1.2"/>
<line x1="675.2" y1="579.7" x2="670.7" y2="579.7" stroke="#000" stroke-width="1.2"/>
<line x1="394.2" y1="549.1" x2="398.7" y2="549.1" stroke="#000" stroke-width="1.2"/>
<line x1="675.2" y1="549.1" x2="670.7" y2="549.1" stroke="#000" stroke-width="1.2"/>
<line x1="394.2" y1="518.6" x2="398.7" y2="518.6" stroke="#000" stroke-width="1.2"/>
<line x1="675.2" y1="518.6" x2="670.7" y2="518.6" stroke="#000" stroke-width="1.2"/>
<line x1="394.2" y1="488.1" x2="398.7" y2="488.1" stroke="#000" stroke-width="1.2"/>
<line x1="675.2" y1="488.1" x2="670.7" y2="488.1" stroke="#000" stroke-width="1.2"/>
<line x1="394.2" y1="457.5" x2="398.7" y2="457.5" stroke="#000" stroke-width="1.2"/>
<line x1="675.2" y1="457.5" x2="670.7" y2="457.5" stroke="#000" stroke-width="1.2"/>
<line x1="394.2" y1="427.0" x2="398.7" y2="427.0" stroke="#000" stroke-width="1.2"/>
<line x1="675.2" y1="427.0" x2="670.7" y2="427.0" stroke="#000" stroke-width="1.2"/>
<text x="391.6" y="611.8" font-size="17.8" text-anchor="end" font-weight="normal" font-style="normal" fill="#000" >0</text>
<text x="391.6" y="583.1" font-size="17.8" text-anchor="end" font-weight="normal" font-style="normal" fill="#000" >1</text>
<text x="391.6" y="552.5" font-size="17.8" text-anchor="end" font-weight="normal" font-style="normal" fill="#000" >2</text>
<text x="391.6" y="522.0" font-size="17.8" text-anchor="end" font-weight="normal" font-style="normal" fill="#000" >3</text>
<text x="391.6" y="491.5" font-size="17.8" text-anchor="end" font-weight="normal" font-style="normal" fill="#000" >4</text>
<text x="391.6" y="460.9" font-size="17.8" text-anchor="end" font-weight="normal" font-style="normal" fill="#000" >5</text>
<text x="391.6" y="435.0" font-size="17.8" text-anchor="end" font-weight="normal" font-style="normal" fill="#000" >6</text>
<text x="349.5" y="430.5" font-size="26.0" text-anchor="start" font-weight="bold" font-style="normal" fill="#000" >f</text>
<text x="372.7" y="514.4" font-size="20.0" text-anchor="middle" font-weight="bold" font-style="normal" fill="#000" transform="rotate(-90 372.7 514.4)">Extinction</text>
<text x="384.2" y="629.2" font-size="17.0" text-anchor="middle" font-weight="normal" font-style="normal" fill="#000" >400</text>
<text x="431.0" y="629.2" font-size="17.0" text-anchor="middle" font-weight="normal" font-style="normal" fill="#000" >500</text>
<text x="477.9" y="629.2" font-size="17.0" text-anchor="middle" font-weight="normal" font-style="normal" fill="#000" >600</text>
<text x="524.7" y="629.2" font-size="17.0" text-anchor="middle" font-weight="normal" font-style="normal" fill="#000" >700</text>
<text x="571.5" y="629.2" font-size="17.0" text-anchor="middle" font-weight="normal" font-style="normal" fill="#000" >800</text>
<text x="618.4" y="629.2" font-size="17.0" text-anchor="middle" font-weight="normal" font-style="normal" fill="#000" >900</text>
<text x="665.2" y="629.2" font-size="17.0" text-anchor="middle" font-weight="normal" font-style="normal" fill="#000" >1000</text>
<text x="531.0" y="648.6" font-size="20.4" text-anchor="middle" font-weight="bold" font-style="normal" fill="#000" >Wavelength (nm)</text>
<text x="665.0" y="449.2" font-size="18.0" text-anchor="end" font-weight="normal" font-style="normal" fill="#000" >Calculated</text>
<text x="666.4" y="467.8" font-size="16.0" text-anchor="end" font-weight="normal" font-style="italic" fill="#000" >Evaporated</text>
<text x="666.4" y="483.5" font-size="16.0" text-anchor="end" font-weight="normal" font-style="italic" fill="#000" >Au</text>
<defs><linearGradient id="cbf" x1="0" y1="1" x2="0" y2="0">
<stop offset="0.00" stop-color="#10092d"/>
<stop offset="0.10" stop-color="#2b0b57"/>
<stop offset="0.20" stop-color="#4c0c6b"/>
<stop offset="0.30" stop-color="#69166e"/>
<stop offset="0.40" stop-color="#87216b"/>
<stop offset="0.50" stop-color="#a32c61"/>
<stop offset="0.60" stop-color="#c03a51"/>
<stop offset="0.70" stop-color="#d84c3e"/>
<stop offset="0.80" stop-color="#eb6429"/>
<stop offset="0.90" stop-color="#f78410"/>
<stop offset="1.00" stop-color="#fca50a"/>
</linearGradient></defs>
<rect x="658.1" y="493.0" width="8.2" height="111.8" fill="url(#cbf)" stroke="#222" stroke-width="0.6"/>
<text x="654.8" y="504.6" font-size="16.0" text-anchor="end" font-weight="normal" font-style="normal" fill="#000" >60</text>
<text x="654.8" y="606.4" font-size="16.0" text-anchor="end" font-weight="normal" font-style="normal" fill="#000" >0</text>
<text x="649.8" y="550.6" font-size="15.5" text-anchor="middle" font-weight="normal" font-style="normal" fill="#000" transform="rotate(-90 649.8 550.6)">AOI (°)</text>
</svg></body></html>
